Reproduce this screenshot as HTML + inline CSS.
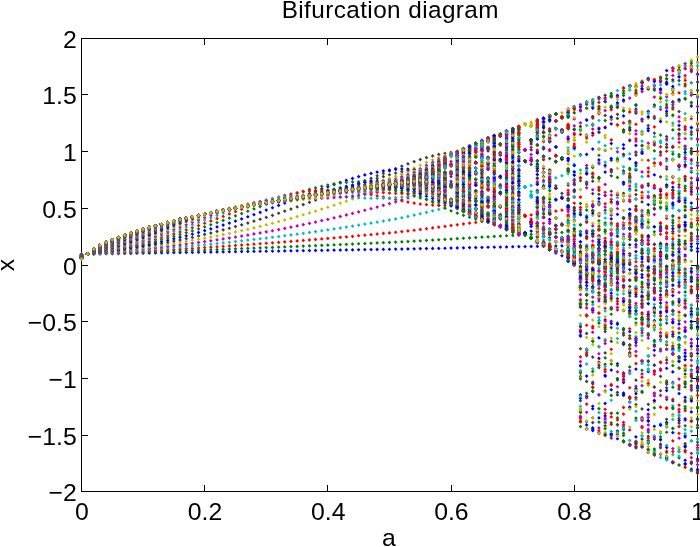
<!DOCTYPE html>
<html><head><meta charset="utf-8"><title>Bifurcation diagram</title>
<style>
html,body{margin:0;padding:0;background:#fff;}
body{width:700px;height:547px;overflow:hidden;}
svg{display:block;font-family:"Liberation Sans",sans-serif;}
.ax{stroke:#000;stroke-width:1;fill:none;shape-rendering:crispEdges;}
.d{fill:none;stroke-width:2.55;stroke-linecap:square;}
text{fill:#000;}
</style></head><body>
<svg width="700" height="547" viewBox="0 0 700 547">
<rect x="0" y="0" width="700" height="547" fill="#fff"/>
<text x="390.3" y="18.2" font-size="24.3" letter-spacing="0.42" text-anchor="middle">Bifurcation diagram</text>
<rect class="ax" x="81.5" y="38.5" width="616.0" height="452.5"/>
<path class="ax" d="M204.7 491.0v-6.2M204.7 38.5v6.2M327.9 491.0v-6.2M327.9 38.5v6.2M451.1 491.0v-6.2M451.1 38.5v6.2M574.3 491.0v-6.2M574.3 38.5v6.2M81.5 94.5h6.2M697.5 94.5h-6.2M81.5 151.5h6.2M697.5 151.5h-6.2M81.5 208.5h6.2M697.5 208.5h-6.2M81.5 265.5h6.2M697.5 265.5h-6.2M81.5 321.5h6.2M697.5 321.5h-6.2M81.5 378.5h6.2M697.5 378.5h-6.2M81.5 435.5h6.2M697.5 435.5h-6.2"/>
<g font-size="24.8" text-anchor="end">
<text x="76.7" y="47.5">2</text>
<text x="76.7" y="103.5">1.5</text>
<text x="76.7" y="160.5">1</text>
<text x="76.7" y="217.5">0.5</text>
<text x="76.7" y="274.5">0</text>
<text x="76.7" y="330.5">−0.5</text>
<text x="76.7" y="387.5">−1</text>
<text x="76.7" y="444.5">−1.5</text>
<text x="76.7" y="500.5">−2</text>
</g>
<g font-size="24.8" text-anchor="middle">
<text x="81.8" y="520.2">0</text>
<text x="205.0" y="520.2">0.2</text>
<text x="328.2" y="520.2">0.4</text>
<text x="451.4" y="520.2">0.6</text>
<text x="574.6" y="520.2">0.8</text>
<text x="697.8" y="520.2">1</text>
<text x="389" y="545.9">a</text>
</g>
<text font-size="24.8" text-anchor="middle" transform="translate(13.5,265) rotate(-90)">x</text>
<g class="d">
<path stroke="#0000ff" d="M81.5 254.1l.1.1M87.6 254.0l.1.1M93.8 253.9l.1.1M99.9 253.8l.1.1M106.1 253.7l.1.1M112.2 253.6l.1.1M118.4 253.5l.1.1M124.6 253.4l.1.1M130.7 253.3l.1.1M136.9 253.2l.1.1M143.0 253.1l.1.1M149.2 253.0l.1.1M155.4 252.9l.1.1M161.5 252.8l.1.1M167.7 252.7l.1.1M173.8 252.6l.1.1M180.0 252.5l.1.1M186.2 252.4l.1.1M192.3 252.3l.1.1M198.5 252.2l.1.1M204.6 252.1l.1.1M210.8 252.0l.1.1M217.0 251.9l.1.1M223.1 251.8l.1.1M229.3 251.7l.1.1M235.4 251.6l.1.1M241.6 251.5l.1.1M247.8 251.4l.1.1M253.9 251.3l.1.1M260.1 251.2l.1.1M266.2 251.2l.1.1M272.4 251.1l.1.1M278.6 251.0l.1.1M284.7 250.9l.1.1M290.9 250.8l.1.1M297.1 250.7l.1.1M303.2 250.6l.1.1M309.4 250.5l.1.1M315.5 250.4l.1.1M321.7 250.3l.1.1M327.8 250.2l.1.1M334.0 250.1l.1.1M340.2 250.0l.1.1M346.3 249.9l.1.1M352.5 249.8l.1.1M358.6 249.7l.1.1M364.8 249.6l.1.1M371.0 249.5l.1.1M377.1 249.4l.1.1M383.3 249.3l.1.1M389.4 249.2l.1.1M395.6 249.1l.1.1M401.8 249.0l.1.1M407.9 248.9l.1.1M414.1 248.8l.1.1M420.2 248.6l.1.1M426.4 248.5l.1.1M432.6 248.4l.1.1M438.7 248.3l.1.1M444.9 248.2l.1.1M451.0 248.0l.1.1M457.2 247.9l.1.1M463.4 247.8l.1.1M469.5 247.6l.1.1M475.7 247.5l.1.1M481.9 247.4l.1.1M488.0 247.2l.1.1M494.2 247.1l.1.1M500.3 247.0l.1.1M506.5 246.9l.1.1M512.7 246.7l.1.1M518.8 246.6l.1.1M525.0 246.5l.1.1M531.1 246.4l.1.1M537.3 246.3l.1.1M543.5 246.2l.1.1M549.6 246.1l.1.1M555.8 246.0l.1.1M561.9 245.8l.1.1M568.1 245.7l.1.1M574.2 245.6l.1.1M580.4 245.5l.1.1M586.6 245.4l.1.1M592.7 245.3l.1.1M598.9 245.2l.1.1M605.1 245.1l.1.1M611.2 245.0l.1.1M617.4 244.9l.1.1M623.5 244.8l.1.1M629.7 244.7l.1.1M635.9 244.6l.1.1M642.0 244.5l.1.1M648.2 244.4l.1.1M654.3 244.3l.1.1M660.5 244.2l.1.1M666.6 244.1l.1.1M672.8 244.0l.1.1M679.0 243.9l.1.1M685.1 243.8l.1.1M691.3 243.7l.1.1M697.5 243.6l.1.1"/>
<path stroke="#008000" d="M81.5 254.2l.1.1M87.6 254.0l.1.1M93.8 253.8l.1.1M99.9 253.6l.1.1M106.1 253.4l.1.1M112.2 253.2l.1.1M118.4 253.0l.1.1M124.6 252.8l.1.1M130.7 252.6l.1.1M136.9 252.4l.1.1M143.0 252.2l.1.1M149.2 251.9l.1.1M155.4 251.7l.1.1M161.5 251.5l.1.1M167.7 251.3l.1.1M173.8 251.1l.1.1M180.0 250.9l.1.1M186.2 250.6l.1.1M192.3 250.4l.1.1M198.5 250.2l.1.1M204.6 250.0l.1.1M210.8 249.7l.1.1M217.0 249.5l.1.1M223.1 249.3l.1.1M229.3 249.0l.1.1M235.4 248.8l.1.1M241.6 248.6l.1.1M247.8 248.3l.1.1M253.9 248.1l.1.1M260.1 247.8l.1.1M266.2 247.6l.1.1M272.4 247.4l.1.1M278.6 247.1l.1.1M284.7 246.9l.1.1M290.9 246.6l.1.1M297.1 246.4l.1.1M303.2 246.1l.1.1M309.4 245.8l.1.1M315.5 245.6l.1.1M321.7 245.3l.1.1M327.8 245.1l.1.1M334.0 244.8l.1.1M340.2 244.5l.1.1M346.3 244.3l.1.1M352.5 244.0l.1.1M358.6 243.7l.1.1M364.8 243.5l.1.1M371.0 243.2l.1.1M377.1 242.9l.1.1M383.3 242.6l.1.1M389.4 242.4l.1.1M395.6 242.1l.1.1M401.8 241.8l.1.1M407.9 241.5l.1.1M414.1 241.1l.1.1M420.2 240.8l.1.1M426.4 240.4l.1.1M432.6 240.1l.1.1M438.7 239.7l.1.1M444.9 239.4l.1.1M451.0 239.0l.1.1M457.2 238.6l.1.1M463.4 238.2l.1.1M469.5 237.9l.1.1M475.7 237.5l.1.1M481.9 237.1l.1.1M488.0 236.8l.1.1M494.2 236.4l.1.1M500.3 236.0l.1.1M506.5 235.7l.1.1M512.7 235.3l.1.1M518.8 235.0l.1.1M525.0 234.6l.1.1M531.1 234.3l.1.1M537.3 233.9l.1.1M543.5 233.6l.1.1M549.6 233.2l.1.1M555.8 232.8l.1.1M561.9 232.4l.1.1M568.1 232.0l.1.1M574.2 231.6l.1.1M580.4 231.3l.1.1M586.6 230.9l.1.1M592.7 230.6l.1.1M598.9 230.2l.1.1M605.1 229.8l.1.1M611.2 229.5l.1.1M617.4 229.1l.1.1M623.5 228.7l.1.1M629.7 228.4l.1.1M635.9 228.0l.1.1M642.0 227.6l.1.1M648.2 227.2l.1.1M654.3 226.9l.1.1M660.5 226.5l.1.1M666.6 226.1l.1.1M672.8 225.7l.1.1M679.0 225.3l.1.1M685.1 224.9l.1.1M691.3 224.6l.1.1M697.5 224.2l.1.1"/>
<path stroke="#ff0000" d="M81.5 254.3l.1.1M87.6 254.0l.1.1M93.8 253.7l.1.1M99.9 253.4l.1.1M106.1 253.1l.1.1M112.2 252.8l.1.1M118.4 252.5l.1.1M124.6 252.1l.1.1M130.7 251.8l.1.1M136.9 251.5l.1.1M143.0 251.2l.1.1M149.2 250.8l.1.1M155.4 250.5l.1.1M161.5 250.1l.1.1M167.7 249.8l.1.1M173.8 249.4l.1.1M180.0 249.0l.1.1M186.2 248.6l.1.1M192.3 248.3l.1.1M198.5 247.9l.1.1M204.6 247.5l.1.1M210.8 247.1l.1.1M217.0 246.7l.1.1M223.1 246.3l.1.1M229.3 245.9l.1.1M235.4 245.4l.1.1M241.6 245.0l.1.1M247.8 244.6l.1.1M253.9 244.1l.1.1M260.1 243.7l.1.1M266.2 243.2l.1.1M272.4 242.8l.1.1M278.6 242.3l.1.1M284.7 241.9l.1.1M290.9 241.4l.1.1M297.1 240.9l.1.1M303.2 240.4l.1.1M309.4 239.9l.1.1M315.5 239.4l.1.1M321.7 238.9l.1.1M327.8 238.4l.1.1M334.0 237.9l.1.1M340.2 237.3l.1.1M346.3 236.8l.1.1M352.5 236.3l.1.1M358.6 235.7l.1.1M364.8 235.1l.1.1M371.0 234.6l.1.1M377.1 234.0l.1.1M383.3 233.4l.1.1M389.4 232.9l.1.1M395.6 232.2l.1.1M401.8 231.6l.1.1M407.9 230.9l.1.1M414.1 230.2l.1.1M420.2 229.5l.1.1M426.4 228.7l.1.1M432.6 227.9l.1.1M438.7 227.1l.1.1M444.9 226.3l.1.1M451.0 225.5l.1.1M457.2 224.7l.1.1M463.4 223.9l.1.1M469.5 223.1l.1.1M475.7 222.3l.1.1M481.9 221.4l.1.1M488.0 220.6l.1.1M494.2 219.8l.1.1M500.3 219.0l.1.1M506.5 218.1l.1.1M512.7 217.3l.1.1M518.8 216.5l.1.1M525.0 215.7l.1.1M531.1 214.9l.1.1M537.3 214.0l.1.1M543.5 213.1l.1.1M549.6 212.2l.1.1M555.8 211.1l.1.1M561.9 210.1l.1.1M568.1 209.2l.1.1M574.2 208.3l.1.1M580.4 207.4l.1.1M586.6 206.5l.1.1M592.7 205.6l.1.1M598.9 204.7l.1.1M605.1 203.7l.1.1M611.2 202.8l.1.1M617.4 201.8l.1.1M623.5 200.9l.1.1M629.7 199.9l.1.1M635.9 198.9l.1.1M642.0 197.9l.1.1M648.2 196.9l.1.1M654.3 195.9l.1.1M660.5 194.9l.1.1M666.6 193.9l.1.1M672.8 192.8l.1.1M679.0 191.8l.1.1M685.1 190.7l.1.1M691.3 189.6l.1.1M697.5 188.6l.1.1"/>
<path stroke="#00bfbf" d="M81.5 254.4l.1.1M87.6 254.0l.1.1M93.8 253.6l.1.1M99.9 253.2l.1.1M106.1 252.8l.1.1M112.2 252.4l.1.1M118.4 251.9l.1.1M124.6 251.5l.1.1M130.7 251.0l.1.1M136.9 250.6l.1.1M143.0 250.1l.1.1M149.2 249.6l.1.1M155.4 249.1l.1.1M161.5 248.6l.1.1M167.7 248.1l.1.1M173.8 247.5l.1.1M180.0 247.0l.1.1M186.2 246.4l.1.1M192.3 245.9l.1.1M198.5 245.3l.1.1M204.6 244.7l.1.1M210.8 244.1l.1.1M217.0 243.5l.1.1M223.1 242.8l.1.1M229.3 242.2l.1.1M235.4 241.5l.1.1M241.6 240.8l.1.1M247.8 240.1l.1.1M253.9 239.4l.1.1M260.1 238.7l.1.1M266.2 238.0l.1.1M272.4 237.2l.1.1M278.6 236.5l.1.1M284.7 235.7l.1.1M290.9 234.9l.1.1M297.1 234.1l.1.1M303.2 233.3l.1.1M309.4 232.4l.1.1M315.5 231.6l.1.1M321.7 230.7l.1.1M327.8 229.8l.1.1M334.0 228.9l.1.1M340.2 228.0l.1.1M346.3 227.0l.1.1M352.5 226.1l.1.1M358.6 225.1l.1.1M364.8 224.1l.1.1M371.0 223.1l.1.1M377.1 222.1l.1.1M383.3 221.0l.1.1M389.4 220.0l.1.1M395.6 218.9l.1.1M401.8 217.7l.1.1M407.9 216.4l.1.1M414.1 215.1l.1.1M420.2 213.7l.1.1M426.4 212.3l.1.1M432.6 210.8l.1.1M438.7 209.3l.1.1M444.9 207.8l.1.1M451.0 206.2l.1.1M457.2 204.7l.1.1M463.4 203.1l.1.1M469.5 201.6l.1.1M475.7 200.0l.1.1M481.9 198.5l.1.1M488.0 196.9l.1.1M494.2 195.3l.1.1M500.3 193.6l.1.1M506.5 192.0l.1.1M512.7 190.3l.1.1M518.8 188.7l.1.1M525.0 187.0l.1.1M531.1 185.4l.1.1M537.3 183.7l.1.1M543.5 181.9l.1.1M549.6 179.9l.1.1M555.8 177.8l.1.1M561.9 175.7l.1.1M568.1 173.7l.1.1M574.2 171.8l.1.1M580.4 170.0l.1.1M586.6 168.0l.1.1M592.7 166.1l.1.1M598.9 164.1l.1.1M605.1 162.1l.1.1M611.2 160.1l.1.1M617.4 158.0l.1.1M623.5 156.0l.1.1M629.7 153.8l.1.1M635.9 151.7l.1.1M642.0 149.5l.1.1M648.2 147.3l.1.1M654.3 145.1l.1.1M660.5 142.8l.1.1M666.6 140.6l.1.1M672.8 138.2l.1.1M679.0 135.9l.1.1M685.1 133.5l.1.1M691.3 131.1l.1.1M697.5 128.7l.1.1"/>
<path stroke="#bf00bf" d="M81.5 254.5l.1.1M87.6 254.0l.1.1M93.8 253.5l.1.1M99.9 253.0l.1.1M106.1 252.5l.1.1M112.2 251.9l.1.1M118.4 251.4l.1.1M124.6 250.8l.1.1M130.7 250.2l.1.1M136.9 249.6l.1.1M143.0 249.0l.1.1M149.2 248.3l.1.1M155.4 247.7l.1.1M161.5 247.0l.1.1M167.7 246.3l.1.1M173.8 245.5l.1.1M180.0 244.8l.1.1M186.2 244.0l.1.1M192.3 243.2l.1.1M198.5 242.4l.1.1M204.6 241.6l.1.1M210.8 240.7l.1.1M217.0 239.8l.1.1M223.1 238.9l.1.1M229.3 238.0l.1.1M235.4 237.0l.1.1M241.6 236.0l.1.1M247.8 235.0l.1.1M253.9 233.9l.1.1M260.1 232.9l.1.1M266.2 231.8l.1.1M272.4 230.7l.1.1M278.6 229.5l.1.1M284.7 228.3l.1.1M290.9 227.1l.1.1M297.1 225.9l.1.1M303.2 224.6l.1.1M309.4 223.3l.1.1M315.5 222.0l.1.1M321.7 220.6l.1.1M327.8 219.3l.1.1M334.0 217.8l.1.1M340.2 216.4l.1.1M346.3 214.9l.1.1M352.5 213.4l.1.1M358.6 211.8l.1.1M364.8 210.2l.1.1M371.0 208.6l.1.1M377.1 207.0l.1.1M383.3 205.3l.1.1M389.4 203.6l.1.1M395.6 201.8l.1.1M401.8 199.9l.1.1M407.9 197.8l.1.1M414.1 195.7l.1.1M420.2 193.5l.1.1M426.4 191.2l.1.1M432.6 188.8l.1.1M438.7 186.3l.1.1M444.9 183.9l.1.1M451.0 181.3l.1.1M457.2 178.8l.1.1M463.4 176.2l.1.1M469.5 173.7l.1.1M475.7 171.2l.1.1M481.9 168.7l.1.1M488.0 166.1l.1.1M494.2 163.5l.1.1M500.3 160.8l.1.1M506.5 158.1l.1.1M512.7 155.4l.1.1M518.8 152.7l.1.1M525.0 150.0l.1.1M531.1 147.3l.1.1M537.3 144.6l.1.1M543.5 141.6l.1.1M549.6 138.5l.1.1M555.8 135.2l.1.1M561.9 131.9l.1.1M568.1 128.8l.1.1M574.2 125.8l.1.1M580.4 122.8l.1.1M586.6 119.8l.1.1M592.7 116.8l.1.1M598.9 113.7l.1.1M605.1 110.6l.1.1M611.2 107.5l.1.1M617.4 104.4l.1.1M623.5 101.2l.1.1M629.7 98.0l.1.1M635.9 94.8l.1.1M642.0 91.6l.1.1M648.2 88.4l.1.1M654.3 85.1l.1.1M660.5 81.9l.1.1M666.6 78.6l.1.1M672.8 75.4l.1.1M679.0 72.1l.1.1M685.1 68.8l.1.1M691.3 65.6l.1.1M697.5 62.3l.1.1"/>
<path stroke="#bfbf00" d="M81.5 254.5l.1.1M87.6 254.0l.1.1M93.8 253.4l.1.1M99.9 252.8l.1.1M106.1 252.2l.1.1M112.2 251.5l.1.1M118.4 250.8l.1.1M124.6 250.1l.1.1M130.7 249.4l.1.1M136.9 248.6l.1.1M143.0 247.8l.1.1M149.2 247.0l.1.1M155.4 246.1l.1.1M161.5 245.3l.1.1M167.7 244.3l.1.1M173.8 243.4l.1.1M180.0 242.4l.1.1M186.2 241.4l.1.1M192.3 240.3l.1.1M198.5 239.2l.1.1M204.6 238.1l.1.1M210.8 237.0l.1.1M217.0 235.8l.1.1M223.1 234.5l.1.1M229.3 233.3l.1.1M235.4 231.9l.1.1M241.6 230.6l.1.1M247.8 229.2l.1.1M253.9 227.8l.1.1M260.1 226.3l.1.1M266.2 224.8l.1.1M272.4 223.2l.1.1M278.6 221.6l.1.1M284.7 219.9l.1.1M290.9 218.3l.1.1M297.1 216.5l.1.1M303.2 214.7l.1.1M309.4 212.9l.1.1M315.5 211.1l.1.1M321.7 209.1l.1.1M327.8 207.2l.1.1M334.0 205.2l.1.1M340.2 203.1l.1.1M346.3 201.1l.1.1M352.5 198.9l.1.1M358.6 196.8l.1.1M364.8 194.6l.1.1M371.0 192.3l.1.1M377.1 190.0l.1.1M383.3 187.7l.1.1M389.4 185.3l.1.1M395.6 182.8l.1.1M401.8 180.3l.1.1M407.9 177.6l.1.1M414.1 174.8l.1.1M420.2 171.9l.1.1M426.4 168.9l.1.1M432.6 166.0l.1.1M438.7 163.0l.1.1M444.9 160.0l.1.1M451.0 157.0l.1.1M457.2 154.0l.1.1M463.4 151.1l.1.1M469.5 148.2l.1.1M475.7 145.4l.1.1M481.9 142.6l.1.1M488.0 139.8l.1.1M494.2 137.0l.1.1M500.3 134.3l.1.1M506.5 131.7l.1.1M512.7 129.1l.1.1M518.8 126.6l.1.1M525.0 124.3l.1.1M531.1 122.0l.1.1M537.3 119.9l.1.1M543.5 117.8l.1.1M549.6 115.9l.1.1M555.8 114.3l.1.1M561.9 112.8l.1.1M568.1 111.5l.1.1M574.2 110.3l.1.1M580.4 109.3l.1.1M586.6 108.4l.1.1M592.7 107.8l.1.1M598.9 107.3l.1.1M605.1 107.1l.1.1M611.2 107.2l.1.1M617.4 107.5l.1.1M623.5 108.1l.1.1M629.7 109.1l.1.1M635.9 110.3l.1.1M642.0 111.9l.1.1M648.2 113.8l.1.1M654.3 116.1l.1.1M660.5 118.8l.1.1M666.6 121.9l.1.1M672.8 125.4l.1.1M679.0 129.4l.1.1M685.1 133.9l.1.1M691.3 138.9l.1.1M697.5 144.4l.1.1"/>
<path stroke="#404040" d="M81.5 254.6l.1.1M87.6 254.0l.1.1M93.8 253.3l.1.1M99.9 252.6l.1.1M106.1 251.8l.1.1M112.2 251.1l.1.1M118.4 250.3l.1.1M124.6 249.4l.1.1M130.7 248.5l.1.1M136.9 247.6l.1.1M143.0 246.6l.1.1M149.2 245.6l.1.1M155.4 244.5l.1.1M161.5 243.4l.1.1M167.7 242.3l.1.1M173.8 241.1l.1.1M180.0 239.9l.1.1M186.2 238.6l.1.1M192.3 237.3l.1.1M198.5 235.9l.1.1M204.6 234.4l.1.1M210.8 233.0l.1.1M217.0 231.4l.1.1M223.1 229.8l.1.1M229.3 228.2l.1.1M235.4 226.5l.1.1M241.6 224.8l.1.1M247.8 223.0l.1.1M253.9 221.1l.1.1M260.1 219.2l.1.1M266.2 217.3l.1.1M272.4 215.3l.1.1M278.6 213.2l.1.1M284.7 211.1l.1.1M290.9 209.0l.1.1M297.1 206.8l.1.1M303.2 204.6l.1.1M309.4 202.3l.1.1M315.5 200.0l.1.1M321.7 197.6l.1.1M327.8 195.3l.1.1M334.0 192.9l.1.1M340.2 190.4l.1.1M346.3 188.0l.1.1M352.5 185.5l.1.1M358.6 183.1l.1.1M364.8 180.6l.1.1M371.0 178.2l.1.1M377.1 175.7l.1.1M383.3 173.3l.1.1M389.4 170.9l.1.1M395.6 168.5l.1.1M401.8 166.1l.1.1M407.9 163.8l.1.1M414.1 161.6l.1.1M420.2 159.5l.1.1M426.4 157.6l.1.1M432.6 155.9l.1.1M438.7 154.4l.1.1M444.9 153.3l.1.1M451.0 152.3l.1.1M457.2 151.6l.1.1M463.4 151.1l.1.1M469.5 150.7l.1.1M475.7 150.5l.1.1M481.9 150.6l.1.1M488.0 150.9l.1.1M494.2 151.7l.1.1M500.3 152.7l.1.1M506.5 154.2l.1.1M512.7 156.1l.1.1M518.8 158.4l.1.1M525.0 161.2l.1.1M531.1 164.4l.1.1M537.3 168.1l.1.1M543.5 172.7l.1.1M549.6 178.8l.1.1M555.8 185.8l.1.1M561.9 193.3l.1.1M568.1 200.4l.1.1M574.2 207.3l.1.1M580.4 214.6l.1.1M586.6 222.3l.1.1M592.7 230.5l.1.1M598.9 239.0l.1.1M605.1 247.9l.1.1M611.2 257.2l.1.1M617.4 266.7l.1.1M623.5 276.5l.1.1M629.7 286.4l.1.1M635.9 296.4l.1.1M642.0 306.4l.1.1M648.2 316.4l.1.1M654.3 326.2l.1.1M660.5 335.7l.1.1M666.6 344.8l.1.1M672.8 353.5l.1.1M679.0 361.4l.1.1M685.1 368.6l.1.1M691.3 374.8l.1.1M697.5 379.9l.1.1"/>
<path stroke="#0000ff" d="M81.5 254.7l.1.1M87.6 254.0l.1.1M93.8 253.2l.1.1M99.9 252.4l.1.1M106.1 251.5l.1.1M112.2 250.6l.1.1M118.4 249.7l.1.1M124.6 248.7l.1.1M130.7 247.6l.1.1M136.9 246.5l.1.1M143.0 245.4l.1.1M149.2 244.2l.1.1M155.4 242.9l.1.1M161.5 241.6l.1.1M167.7 240.2l.1.1M173.8 238.7l.1.1M180.0 237.2l.1.1M186.2 235.7l.1.1M192.3 234.1l.1.1M198.5 232.4l.1.1M204.6 230.6l.1.1M210.8 228.8l.1.1M217.0 226.9l.1.1M223.1 225.0l.1.1M229.3 223.0l.1.1M235.4 221.0l.1.1M241.6 218.9l.1.1M247.8 216.7l.1.1M253.9 214.6l.1.1M260.1 212.3l.1.1M266.2 210.0l.1.1M272.4 207.7l.1.1M278.6 205.4l.1.1M284.7 203.0l.1.1M290.9 200.7l.1.1M297.1 198.3l.1.1M303.2 195.9l.1.1M309.4 193.6l.1.1M315.5 191.2l.1.1M321.7 188.9l.1.1M327.8 186.7l.1.1M334.0 184.5l.1.1M340.2 182.4l.1.1M346.3 180.3l.1.1M352.5 178.4l.1.1M358.6 176.6l.1.1M364.8 174.9l.1.1M371.0 173.4l.1.1M377.1 172.1l.1.1M383.3 170.9l.1.1M389.4 170.0l.1.1M395.6 169.3l.1.1M401.8 169.0l.1.1M407.9 169.1l.1.1M414.1 169.6l.1.1M420.2 170.7l.1.1M426.4 172.3l.1.1M432.6 174.5l.1.1M438.7 177.1l.1.1M444.9 180.1l.1.1M451.0 183.5l.1.1M457.2 187.1l.1.1M463.4 190.8l.1.1M469.5 194.5l.1.1M475.7 198.2l.1.1M481.9 202.2l.1.1M488.0 206.4l.1.1M494.2 210.7l.1.1M500.3 215.2l.1.1M506.5 219.7l.1.1M512.7 224.3l.1.1M518.8 228.9l.1.1M525.0 233.3l.1.1M531.1 237.7l.1.1M537.3 241.8l.1.1M543.5 245.8l.1.1M549.6 249.7l.1.1M555.8 253.0l.1.1M561.9 255.7l.1.1M568.1 257.7l.1.1M574.2 259.3l.1.1M580.4 260.6l.1.1M586.6 261.5l.1.1M592.7 262.3l.1.1M598.9 262.9l.1.1M605.1 263.6l.1.1M611.2 264.4l.1.1M617.4 265.5l.1.1M623.5 267.2l.1.1M629.7 269.6l.1.1M635.9 272.9l.1.1M642.0 277.4l.1.1M648.2 283.2l.1.1M654.3 290.6l.1.1M660.5 299.6l.1.1M666.6 310.4l.1.1M672.8 322.9l.1.1M679.0 337.2l.1.1M685.1 353.0l.1.1M691.3 370.0l.1.1M697.5 387.8l.1.1"/>
<path stroke="#008000" d="M81.5 254.8l.1.1M87.6 254.0l.1.1M93.8 253.1l.1.1M99.9 252.2l.1.1M106.1 251.2l.1.1M112.2 250.2l.1.1M118.4 249.1l.1.1M124.6 248.0l.1.1M130.7 246.7l.1.1M136.9 245.5l.1.1M143.0 244.1l.1.1M149.2 242.7l.1.1M155.4 241.2l.1.1M161.5 239.7l.1.1M167.7 238.0l.1.1M173.8 236.3l.1.1M180.0 234.6l.1.1M186.2 232.7l.1.1M192.3 230.8l.1.1M198.5 228.8l.1.1M204.6 226.8l.1.1M210.8 224.7l.1.1M217.0 222.6l.1.1M223.1 220.4l.1.1M229.3 218.1l.1.1M235.4 215.8l.1.1M241.6 213.5l.1.1M247.8 211.2l.1.1M253.9 208.8l.1.1M260.1 206.5l.1.1M266.2 204.1l.1.1M272.4 201.8l.1.1M278.6 199.6l.1.1M284.7 197.4l.1.1M290.9 195.2l.1.1M297.1 193.2l.1.1M303.2 191.3l.1.1M309.4 189.4l.1.1M315.5 187.8l.1.1M321.7 186.3l.1.1M327.8 185.0l.1.1M334.0 183.8l.1.1M340.2 182.9l.1.1M346.3 182.3l.1.1M352.5 181.8l.1.1M358.6 181.7l.1.1M364.8 181.8l.1.1M371.0 182.1l.1.1M377.1 182.8l.1.1M383.3 183.6l.1.1M389.4 184.8l.1.1M395.6 186.3l.1.1M401.8 188.2l.1.1M407.9 190.6l.1.1M414.1 193.2l.1.1M420.2 196.1l.1.1M426.4 199.2l.1.1M432.6 202.3l.1.1M438.7 205.3l.1.1M444.9 208.2l.1.1M451.0 210.8l.1.1M457.2 213.1l.1.1M463.4 215.3l.1.1M469.5 217.2l.1.1M475.7 219.0l.1.1M481.9 220.7l.1.1M488.0 222.4l.1.1M494.2 224.2l.1.1M500.3 226.0l.1.1M506.5 227.9l.1.1M512.7 229.9l.1.1M518.8 232.1l.1.1M525.0 234.5l.1.1M531.1 237.0l.1.1M537.3 239.8l.1.1M543.5 242.7l.1.1M549.6 245.8l.1.1M555.8 248.7l.1.1M561.9 251.4l.1.1M568.1 253.7l.1.1M574.2 255.7l.1.1M580.4 257.4l.1.1M586.6 258.7l.1.1M592.7 259.9l.1.1M598.9 260.9l.1.1M605.1 262.0l.1.1M611.2 263.5l.1.1M617.4 265.7l.1.1M623.5 268.9l.1.1M629.7 273.4l.1.1M635.9 279.4l.1.1M642.0 287.2l.1.1M648.2 296.7l.1.1M654.3 307.7l.1.1M660.5 319.9l.1.1M666.6 332.9l.1.1M672.8 345.9l.1.1M679.0 358.6l.1.1M685.1 370.3l.1.1M691.3 380.9l.1.1M697.5 390.7l.1.1"/>
<path stroke="#ff0000" d="M81.5 254.9l.1.1M87.6 254.0l.1.1M93.8 253.0l.1.1M99.9 252.0l.1.1M106.1 250.9l.1.1M112.2 249.8l.1.1M118.4 248.5l.1.1M124.6 247.2l.1.1M130.7 245.8l.1.1M136.9 244.4l.1.1M143.0 242.8l.1.1M149.2 241.2l.1.1M155.4 239.5l.1.1M161.5 237.7l.1.1M167.7 235.9l.1.1M173.8 233.9l.1.1M180.0 231.9l.1.1M186.2 229.8l.1.1M192.3 227.7l.1.1M198.5 225.5l.1.1M204.6 223.2l.1.1M210.8 220.9l.1.1M217.0 218.6l.1.1M223.1 216.3l.1.1M229.3 213.9l.1.1M235.4 211.6l.1.1M241.6 209.2l.1.1M247.8 207.0l.1.1M253.9 204.8l.1.1M260.1 202.6l.1.1M266.2 200.6l.1.1M272.4 198.7l.1.1M278.6 197.0l.1.1M284.7 195.4l.1.1M290.9 194.0l.1.1M297.1 192.7l.1.1M303.2 191.7l.1.1M309.4 190.9l.1.1M315.5 190.4l.1.1M321.7 190.1l.1.1M327.8 190.0l.1.1M334.0 190.1l.1.1M340.2 190.4l.1.1M346.3 190.9l.1.1M352.5 191.7l.1.1M358.6 192.5l.1.1M364.8 193.5l.1.1M371.0 194.6l.1.1M377.1 195.8l.1.1M383.3 197.0l.1.1M389.4 198.3l.1.1M395.6 199.5l.1.1M401.8 200.8l.1.1M407.9 202.0l.1.1M414.1 203.1l.1.1M420.2 204.0l.1.1M426.4 204.6l.1.1M432.6 205.1l.1.1M438.7 205.3l.1.1M444.9 205.4l.1.1M451.0 205.2l.1.1M457.2 205.1l.1.1M463.4 204.9l.1.1M469.5 204.9l.1.1M475.7 204.9l.1.1M481.9 205.1l.1.1M488.0 205.5l.1.1M494.2 206.2l.1.1M500.3 207.1l.1.1M506.5 208.5l.1.1M512.7 210.4l.1.1M518.8 212.7l.1.1M525.0 215.7l.1.1M531.1 219.1l.1.1M537.3 223.0l.1.1M543.5 227.5l.1.1M549.6 232.2l.1.1M555.8 237.0l.1.1M561.9 241.4l.1.1M568.1 245.3l.1.1M574.2 248.7l.1.1M580.4 251.5l.1.1M586.6 253.9l.1.1M592.7 255.8l.1.1M598.9 257.6l.1.1M605.1 259.5l.1.1M611.2 262.2l.1.1M617.4 266.0l.1.1M623.5 271.6l.1.1M629.7 279.7l.1.1M635.9 290.7l.1.1M642.0 304.8l.1.1M648.2 322.0l.1.1M654.3 341.6l.1.1M660.5 362.5l.1.1M666.6 382.5l.1.1M672.8 399.2l.1.1M679.0 409.4l.1.1M685.1 410.5l.1.1M691.3 400.1l.1.1M697.5 377.3l.1.1"/>
<path stroke="#00bfbf" d="M81.5 254.9l.1.1M87.6 254.0l.1.1M93.8 252.9l.1.1M99.9 251.8l.1.1M106.1 250.6l.1.1M112.2 249.3l.1.1M118.4 248.0l.1.1M124.6 246.5l.1.1M130.7 244.9l.1.1M136.9 243.3l.1.1M143.0 241.6l.1.1M149.2 239.7l.1.1M155.4 237.8l.1.1M161.5 235.8l.1.1M167.7 233.8l.1.1M173.8 231.6l.1.1M180.0 229.4l.1.1M186.2 227.1l.1.1M192.3 224.8l.1.1M198.5 222.4l.1.1M204.6 220.1l.1.1M210.8 217.7l.1.1M217.0 215.4l.1.1M223.1 213.1l.1.1M229.3 210.8l.1.1M235.4 208.6l.1.1M241.6 206.6l.1.1M247.8 204.7l.1.1M253.9 202.9l.1.1M260.1 201.3l.1.1M266.2 199.8l.1.1M272.4 198.6l.1.1M278.6 197.6l.1.1M284.7 196.7l.1.1M290.9 196.1l.1.1M297.1 195.7l.1.1M303.2 195.5l.1.1M309.4 195.4l.1.1M315.5 195.5l.1.1M321.7 195.7l.1.1M327.8 196.0l.1.1M334.0 196.3l.1.1M340.2 196.7l.1.1M346.3 197.1l.1.1M352.5 197.5l.1.1M358.6 197.8l.1.1M364.8 198.0l.1.1M371.0 198.2l.1.1M377.1 198.2l.1.1M383.3 198.2l.1.1M389.4 198.0l.1.1M395.6 197.6l.1.1M401.8 197.0l.1.1M407.9 196.2l.1.1M414.1 195.1l.1.1M420.2 193.7l.1.1M426.4 192.2l.1.1M432.6 190.4l.1.1M438.7 188.5l.1.1M444.9 186.6l.1.1M451.0 184.6l.1.1M457.2 182.8l.1.1M463.4 181.2l.1.1M469.5 179.8l.1.1M475.7 178.8l.1.1M481.9 178.0l.1.1M488.0 177.5l.1.1M494.2 177.4l.1.1M500.3 177.8l.1.1M506.5 178.9l.1.1M512.7 180.7l.1.1M518.8 183.4l.1.1M525.0 187.0l.1.1M531.1 191.6l.1.1M537.3 197.1l.1.1M543.5 203.5l.1.1M549.6 210.7l.1.1M555.8 218.1l.1.1M561.9 225.0l.1.1M568.1 231.2l.1.1M574.2 236.8l.1.1M580.4 241.6l.1.1M586.6 245.5l.1.1M592.7 248.7l.1.1M598.9 251.7l.1.1M605.1 255.1l.1.1M611.2 259.7l.1.1M617.4 266.5l.1.1M623.5 276.6l.1.1M629.7 291.1l.1.1M635.9 310.8l.1.1M642.0 335.7l.1.1M648.2 364.9l.1.1M654.3 395.8l.1.1M660.5 424.3l.1.1M666.6 445.4l.1.1M672.8 454.5l.1.1M679.0 449.1l.1.1M685.1 429.6l.1.1M691.3 398.8l.1.1M697.5 360.8l.1.1"/>
<path stroke="#bf00bf" d="M81.5 255.0l.1.1M87.6 254.0l.1.1M93.8 252.8l.1.1M99.9 251.6l.1.1M106.1 250.3l.1.1M112.2 248.9l.1.1M118.4 247.4l.1.1M124.6 245.8l.1.1M130.7 244.0l.1.1M136.9 242.2l.1.1M143.0 240.3l.1.1M149.2 238.3l.1.1M155.4 236.2l.1.1M161.5 234.0l.1.1M167.7 231.8l.1.1M173.8 229.4l.1.1M180.0 227.1l.1.1M186.2 224.7l.1.1M192.3 222.3l.1.1M198.5 219.9l.1.1M204.6 217.6l.1.1M210.8 215.3l.1.1M217.0 213.1l.1.1M223.1 211.0l.1.1M229.3 209.0l.1.1M235.4 207.2l.1.1M241.6 205.6l.1.1M247.8 204.1l.1.1M253.9 202.9l.1.1M260.1 201.8l.1.1M266.2 200.9l.1.1M272.4 200.2l.1.1M278.6 199.7l.1.1M284.7 199.3l.1.1M290.9 199.0l.1.1M297.1 198.8l.1.1M303.2 198.7l.1.1M309.4 198.5l.1.1M315.5 198.4l.1.1M321.7 198.2l.1.1M327.8 198.0l.1.1M334.0 197.7l.1.1M340.2 197.2l.1.1M346.3 196.7l.1.1M352.5 196.0l.1.1M358.6 195.2l.1.1M364.8 194.2l.1.1M371.0 193.1l.1.1M377.1 191.8l.1.1M383.3 190.4l.1.1M389.4 188.9l.1.1M395.6 187.1l.1.1M401.8 185.1l.1.1M407.9 182.7l.1.1M414.1 180.1l.1.1M420.2 177.3l.1.1M426.4 174.2l.1.1M432.6 171.1l.1.1M438.7 167.9l.1.1M444.9 164.7l.1.1M451.0 161.6l.1.1M457.2 158.7l.1.1M463.4 155.9l.1.1M469.5 153.4l.1.1M475.7 151.2l.1.1M481.9 149.2l.1.1M488.0 147.4l.1.1M494.2 146.0l.1.1M500.3 145.1l.1.1M506.5 144.8l.1.1M512.7 145.4l.1.1M518.8 147.0l.1.1M525.0 150.0l.1.1M531.1 154.4l.1.1M537.3 160.5l.1.1M543.5 168.3l.1.1M549.6 177.7l.1.1M555.8 188.1l.1.1M561.9 198.3l.1.1M568.1 208.0l.1.1M574.2 216.9l.1.1M580.4 224.6l.1.1M586.6 231.0l.1.1M592.7 236.5l.1.1M598.9 241.5l.1.1M605.1 247.3l.1.1M611.2 255.3l.1.1M617.4 267.4l.1.1M623.5 285.5l.1.1M629.7 311.4l.1.1M635.9 345.5l.1.1M642.0 385.6l.1.1M648.2 424.9l.1.1M654.3 451.7l.1.1M660.5 453.9l.1.1M666.6 426.8l.1.1M672.8 382.2l.1.1M679.0 345.1l.1.1M685.1 336.5l.1.1M691.3 353.5l.1.1M697.5 368.6l.1.1"/>
<path stroke="#bfbf00" d="M81.5 255.1l.1.1M87.6 254.0l.1.1M93.8 252.8l.1.1M99.9 251.4l.1.1M106.1 250.0l.1.1M112.2 248.5l.1.1M118.4 246.8l.1.1M124.6 245.0l.1.1M130.7 243.2l.1.1M136.9 241.2l.1.1M143.0 239.1l.1.1M149.2 236.9l.1.1M155.4 234.6l.1.1M161.5 232.3l.1.1M167.7 229.9l.1.1M173.8 227.5l.1.1M180.0 225.0l.1.1M186.2 222.6l.1.1M192.3 220.3l.1.1M198.5 218.0l.1.1M204.6 215.8l.1.1M210.8 213.7l.1.1M217.0 211.7l.1.1M223.1 210.0l.1.1M229.3 208.4l.1.1M235.4 207.0l.1.1M241.6 205.7l.1.1M247.8 204.7l.1.1M253.9 203.8l.1.1M260.1 203.1l.1.1M266.2 202.5l.1.1M272.4 201.9l.1.1M278.6 201.4l.1.1M284.7 201.0l.1.1M290.9 200.5l.1.1M297.1 200.0l.1.1M303.2 199.4l.1.1M309.4 198.7l.1.1M315.5 198.0l.1.1M321.7 197.1l.1.1M327.8 196.1l.1.1M334.0 194.9l.1.1M340.2 193.6l.1.1M346.3 192.2l.1.1M352.5 190.7l.1.1M358.6 189.0l.1.1M364.8 187.1l.1.1M371.0 185.2l.1.1M377.1 183.1l.1.1M383.3 181.0l.1.1M389.4 178.7l.1.1M395.6 176.3l.1.1M401.8 173.7l.1.1M407.9 170.9l.1.1M414.1 168.1l.1.1M420.2 165.2l.1.1M426.4 162.4l.1.1M432.6 159.8l.1.1M438.7 157.4l.1.1M444.9 155.1l.1.1M451.0 153.1l.1.1M457.2 151.2l.1.1M463.4 149.3l.1.1M469.5 147.3l.1.1M475.7 145.3l.1.1M481.9 143.1l.1.1M488.0 140.7l.1.1M494.2 138.1l.1.1M500.3 135.3l.1.1M506.5 132.3l.1.1M512.7 129.2l.1.1M518.8 126.4l.1.1M525.0 124.3l.1.1M531.1 123.5l.1.1M537.3 124.7l.1.1M543.5 128.8l.1.1M549.6 136.2l.1.1M555.8 146.7l.1.1M561.9 159.0l.1.1M568.1 171.9l.1.1M574.2 184.8l.1.1M580.4 196.6l.1.1M586.6 206.7l.1.1M592.7 215.5l.1.1M598.9 223.9l.1.1M605.1 233.7l.1.1M611.2 247.6l.1.1M617.4 268.9l.1.1M623.5 301.2l.1.1M629.7 346.0l.1.1M635.9 398.7l.1.1M642.0 442.3l.1.1M648.2 446.5l.1.1M654.3 386.8l.1.1M660.5 282.5l.1.1M666.6 202.6l.1.1M672.8 195.4l.1.1M679.0 230.9l.1.1M685.1 269.9l.1.1M691.3 328.0l.1.1M697.5 400.6l.1.1"/>
<path stroke="#404040" d="M81.5 255.2l.1.1M87.6 254.0l.1.1M93.8 252.7l.1.1M99.9 251.2l.1.1M106.1 249.7l.1.1M112.2 248.0l.1.1M118.4 246.2l.1.1M124.6 244.3l.1.1M130.7 242.3l.1.1M136.9 240.1l.1.1M143.0 237.9l.1.1M149.2 235.6l.1.1M155.4 233.2l.1.1M161.5 230.7l.1.1M167.7 228.3l.1.1M173.8 225.8l.1.1M180.0 223.4l.1.1M186.2 221.0l.1.1M192.3 218.8l.1.1M198.5 216.6l.1.1M204.6 214.7l.1.1M210.8 212.8l.1.1M217.0 211.2l.1.1M223.1 209.8l.1.1M229.3 208.5l.1.1M235.4 207.4l.1.1M241.6 206.4l.1.1M247.8 205.5l.1.1M253.9 204.8l.1.1M260.1 204.0l.1.1M266.2 203.3l.1.1M272.4 202.6l.1.1M278.6 201.9l.1.1M284.7 201.1l.1.1M290.9 200.2l.1.1M297.1 199.3l.1.1M303.2 198.2l.1.1M309.4 197.0l.1.1M315.5 195.7l.1.1M321.7 194.3l.1.1M327.8 192.8l.1.1M334.0 191.3l.1.1M340.2 189.6l.1.1M346.3 187.8l.1.1M352.5 186.0l.1.1M358.6 184.1l.1.1M364.8 182.2l.1.1M371.0 180.3l.1.1M377.1 178.4l.1.1M383.3 176.5l.1.1M389.4 174.7l.1.1M395.6 173.0l.1.1M401.8 171.5l.1.1M407.9 170.3l.1.1M414.1 169.5l.1.1M420.2 169.2l.1.1M426.4 169.5l.1.1M432.6 170.5l.1.1M438.7 172.1l.1.1M444.9 174.1l.1.1M451.0 176.5l.1.1M457.2 178.9l.1.1M463.4 181.2l.1.1M469.5 182.9l.1.1M475.7 184.3l.1.1M481.9 185.3l.1.1M488.0 185.9l.1.1M494.2 185.7l.1.1M500.3 184.5l.1.1M506.5 181.8l.1.1M512.7 177.2l.1.1M518.8 170.4l.1.1M525.0 161.2l.1.1M531.1 149.8l.1.1M537.3 137.2l.1.1M543.5 125.3l.1.1M549.6 116.6l.1.1M555.8 113.9l.1.1M561.9 117.7l.1.1M568.1 127.0l.1.1M574.2 140.1l.1.1M580.4 154.5l.1.1M586.6 168.4l.1.1M592.7 181.2l.1.1M598.9 194.2l.1.1M605.1 210.2l.1.1M611.2 234.0l.1.1M617.4 271.8l.1.1M623.5 328.5l.1.1M629.7 398.6l.1.1M635.9 446.8l.1.1M642.0 408.9l.1.1M648.2 276.6l.1.1M654.3 197.9l.1.1M660.5 255.7l.1.1M666.6 255.2l.1.1M672.8 190.2l.1.1M679.0 210.6l.1.1M685.1 272.8l.1.1M691.3 354.5l.1.1M697.5 425.1l.1.1"/>
<path stroke="#0000ff" d="M81.5 255.2l.1.1M87.6 254.0l.1.1M93.8 252.6l.1.1M99.9 251.1l.1.1M106.1 249.4l.1.1M112.2 247.6l.1.1M118.4 245.7l.1.1M124.6 243.6l.1.1M130.7 241.4l.1.1M136.9 239.2l.1.1M143.0 236.8l.1.1M149.2 234.3l.1.1M155.4 231.8l.1.1M161.5 229.3l.1.1M167.7 226.8l.1.1M173.8 224.4l.1.1M180.0 222.1l.1.1M186.2 219.8l.1.1M192.3 217.8l.1.1M198.5 215.8l.1.1M204.6 214.1l.1.1M210.8 212.6l.1.1M217.0 211.2l.1.1M223.1 209.9l.1.1M229.3 208.8l.1.1M235.4 207.9l.1.1M241.6 206.9l.1.1M247.8 206.1l.1.1M253.9 205.2l.1.1M260.1 204.3l.1.1M266.2 203.4l.1.1M272.4 202.5l.1.1M278.6 201.4l.1.1M284.7 200.3l.1.1M290.9 199.2l.1.1M297.1 197.9l.1.1M303.2 196.6l.1.1M309.4 195.2l.1.1M315.5 193.7l.1.1M321.7 192.2l.1.1M327.8 190.7l.1.1M334.0 189.2l.1.1M340.2 187.7l.1.1M346.3 186.3l.1.1M352.5 185.0l.1.1M358.6 183.7l.1.1M364.8 182.6l.1.1M371.0 181.7l.1.1M377.1 181.0l.1.1M383.3 180.6l.1.1M389.4 180.4l.1.1M395.6 180.6l.1.1M401.8 181.3l.1.1M407.9 182.7l.1.1M414.1 184.8l.1.1M420.2 187.4l.1.1M426.4 190.7l.1.1M432.6 194.2l.1.1M438.7 198.0l.1.1M444.9 201.7l.1.1M451.0 205.3l.1.1M457.2 208.6l.1.1M463.4 211.6l.1.1M469.5 214.3l.1.1M475.7 216.8l.1.1M481.9 219.3l.1.1M488.0 221.8l.1.1M494.2 224.3l.1.1M500.3 226.7l.1.1M506.5 229.0l.1.1M512.7 231.2l.1.1M518.8 232.9l.1.1M525.0 233.3l.1.1M531.1 231.1l.1.1M537.3 223.8l.1.1M543.5 208.8l.1.1M549.6 184.9l.1.1M555.8 155.9l.1.1M561.9 129.9l.1.1M568.1 112.7l.1.1M574.2 106.6l.1.1M580.4 110.3l.1.1M586.6 120.1l.1.1M592.7 133.1l.1.1M598.9 149.1l.1.1M605.1 172.0l.1.1M611.2 210.5l.1.1M617.4 276.7l.1.1M623.5 372.8l.1.1M629.7 444.6l.1.1M635.9 369.1l.1.1M642.0 216.2l.1.1M648.2 261.1l.1.1M654.3 200.3l.1.1M660.5 246.1l.1.1M666.6 248.1l.1.1M672.8 147.2l.1.1M679.0 166.3l.1.1M685.1 279.5l.1.1M691.3 411.9l.1.1M697.5 368.5l.1.1"/>
<path stroke="#008000" d="M81.5 255.3l.1.1M87.6 254.0l.1.1M93.8 252.5l.1.1M99.9 250.9l.1.1M106.1 249.1l.1.1M112.2 247.2l.1.1M118.4 245.1l.1.1M124.6 242.9l.1.1M130.7 240.6l.1.1M136.9 238.2l.1.1M143.0 235.7l.1.1M149.2 233.2l.1.1M155.4 230.7l.1.1M161.5 228.1l.1.1M167.7 225.7l.1.1M173.8 223.3l.1.1M180.0 221.1l.1.1M186.2 219.0l.1.1M192.3 217.2l.1.1M198.5 215.5l.1.1M204.6 213.9l.1.1M210.8 212.6l.1.1M217.0 211.3l.1.1M223.1 210.2l.1.1M229.3 209.2l.1.1M235.4 208.2l.1.1M241.6 207.2l.1.1M247.8 206.2l.1.1M253.9 205.2l.1.1M260.1 204.2l.1.1M266.2 203.1l.1.1M272.4 201.9l.1.1M278.6 200.7l.1.1M284.7 199.5l.1.1M290.9 198.2l.1.1M297.1 196.9l.1.1M303.2 195.6l.1.1M309.4 194.3l.1.1M315.5 193.1l.1.1M321.7 191.9l.1.1M327.8 190.8l.1.1M334.0 189.8l.1.1M340.2 188.9l.1.1M346.3 188.3l.1.1M352.5 187.8l.1.1M358.6 187.5l.1.1M364.8 187.5l.1.1M371.0 187.6l.1.1M377.1 188.1l.1.1M383.3 188.7l.1.1M389.4 189.6l.1.1M395.6 190.8l.1.1M401.8 192.3l.1.1M407.9 194.1l.1.1M414.1 196.0l.1.1M420.2 197.9l.1.1M426.4 199.6l.1.1M432.6 201.1l.1.1M438.7 202.4l.1.1M444.9 203.4l.1.1M451.0 204.3l.1.1M457.2 205.2l.1.1M463.4 206.2l.1.1M469.5 207.5l.1.1M475.7 209.0l.1.1M481.9 210.8l.1.1M488.0 212.9l.1.1M494.2 215.5l.1.1M500.3 218.4l.1.1M506.5 221.9l.1.1M512.7 225.9l.1.1M518.8 230.2l.1.1M525.0 234.5l.1.1M531.1 238.0l.1.1M537.3 240.7l.1.1M543.5 244.1l.1.1M549.6 249.5l.1.1M555.8 250.9l.1.1M561.9 237.5l.1.1M568.1 206.0l.1.1M574.2 164.9l.1.1M580.4 129.8l.1.1M586.6 108.1l.1.1M592.7 99.6l.1.1M598.9 102.4l.1.1M605.1 120.5l.1.1M611.2 171.9l.1.1M617.4 285.6l.1.1M623.5 427.8l.1.1M629.7 366.9l.1.1M635.9 218.8l.1.1M642.0 240.2l.1.1M648.2 256.8l.1.1M654.3 162.8l.1.1M660.5 230.1l.1.1M666.6 233.3l.1.1M672.8 90.3l.1.1M679.0 100.8l.1.1M685.1 291.9l.1.1M691.3 461.8l.1.1M697.5 283.0l.1.1"/>
<path stroke="#ff0000" d="M81.5 255.4l.1.1M87.6 254.0l.1.1M93.8 252.4l.1.1M99.9 250.7l.1.1M106.1 248.8l.1.1M112.2 246.8l.1.1M118.4 244.6l.1.1M124.6 242.3l.1.1M130.7 239.9l.1.1M136.9 237.3l.1.1M143.0 234.8l.1.1M149.2 232.2l.1.1M155.4 229.6l.1.1M161.5 227.1l.1.1M167.7 224.8l.1.1M173.8 222.5l.1.1M180.0 220.5l.1.1M186.2 218.6l.1.1M192.3 216.9l.1.1M198.5 215.3l.1.1M204.6 213.9l.1.1M210.8 212.7l.1.1M217.0 211.5l.1.1M223.1 210.4l.1.1M229.3 209.3l.1.1M235.4 208.3l.1.1M241.6 207.2l.1.1M247.8 206.1l.1.1M253.9 205.0l.1.1M260.1 203.8l.1.1M266.2 202.7l.1.1M272.4 201.5l.1.1M278.6 200.3l.1.1M284.7 199.1l.1.1M290.9 197.9l.1.1M297.1 196.7l.1.1M303.2 195.7l.1.1M309.4 194.7l.1.1M315.5 193.8l.1.1M321.7 193.0l.1.1M327.8 192.4l.1.1M334.0 191.9l.1.1M340.2 191.5l.1.1M346.3 191.4l.1.1M352.5 191.3l.1.1M358.6 191.4l.1.1M364.8 191.6l.1.1M371.0 191.9l.1.1M377.1 192.2l.1.1M383.3 192.6l.1.1M389.4 193.0l.1.1M395.6 193.3l.1.1M401.8 193.5l.1.1M407.9 193.5l.1.1M414.1 193.1l.1.1M420.2 192.5l.1.1M426.4 191.5l.1.1M432.6 190.2l.1.1M438.7 188.7l.1.1M444.9 187.2l.1.1M451.0 185.9l.1.1M457.2 184.8l.1.1M463.4 184.3l.1.1M469.5 184.3l.1.1M475.7 185.0l.1.1M481.9 186.2l.1.1M488.0 188.0l.1.1M494.2 190.5l.1.1M500.3 193.8l.1.1M506.5 198.1l.1.1M512.7 203.4l.1.1M518.8 209.5l.1.1M525.0 215.6l.1.1M531.1 221.0l.1.1M537.3 225.8l.1.1M543.5 233.0l.1.1M549.6 244.4l.1.1M555.8 251.6l.1.1M561.9 251.3l.1.1M568.1 256.7l.1.1M574.2 265.2l.1.1M580.4 255.1l.1.1M586.6 221.3l.1.1M592.7 176.8l.1.1M598.9 132.3l.1.1M605.1 97.7l.1.1M611.2 119.3l.1.1M617.4 301.3l.1.1M623.5 425.7l.1.1M629.7 224.5l.1.1M635.9 208.9l.1.1M642.0 221.5l.1.1M648.2 249.9l.1.1M654.3 106.2l.1.1M660.5 201.3l.1.1M666.6 206.7l.1.1M672.8 109.0l.1.1M679.0 70.1l.1.1M685.1 314.8l.1.1M691.3 343.3l.1.1M697.5 287.8l.1.1"/>
<path stroke="#00bfbf" d="M81.5 255.4l.1.1M87.6 254.0l.1.1M93.8 252.3l.1.1M99.9 250.5l.1.1M106.1 248.5l.1.1M112.2 246.4l.1.1M118.4 244.1l.1.1M124.6 241.7l.1.1M130.7 239.1l.1.1M136.9 236.5l.1.1M143.0 233.9l.1.1M149.2 231.3l.1.1M155.4 228.8l.1.1M161.5 226.3l.1.1M167.7 224.1l.1.1M173.8 222.0l.1.1M180.0 220.0l.1.1M186.2 218.3l.1.1M192.3 216.7l.1.1M198.5 215.3l.1.1M204.6 214.0l.1.1M210.8 212.8l.1.1M217.0 211.6l.1.1M223.1 210.5l.1.1M229.3 209.4l.1.1M235.4 208.2l.1.1M241.6 207.1l.1.1M247.8 205.9l.1.1M253.9 204.8l.1.1M260.1 203.6l.1.1M266.2 202.4l.1.1M272.4 201.3l.1.1M278.6 200.2l.1.1M284.7 199.1l.1.1M290.9 198.1l.1.1M297.1 197.2l.1.1M303.2 196.3l.1.1M309.4 195.6l.1.1M315.5 194.9l.1.1M321.7 194.4l.1.1M327.8 193.9l.1.1M334.0 193.5l.1.1M340.2 193.1l.1.1M346.3 192.8l.1.1M352.5 192.5l.1.1M358.6 192.2l.1.1M364.8 191.8l.1.1M371.0 191.3l.1.1M377.1 190.7l.1.1M383.3 189.9l.1.1M389.4 189.0l.1.1M395.6 187.9l.1.1M401.8 186.4l.1.1M407.9 184.5l.1.1M414.1 182.2l.1.1M420.2 179.5l.1.1M426.4 176.4l.1.1M432.6 173.2l.1.1M438.7 169.9l.1.1M444.9 166.7l.1.1M451.0 163.7l.1.1M457.2 161.0l.1.1M463.4 158.9l.1.1M469.5 157.4l.1.1M475.7 156.6l.1.1M481.9 156.4l.1.1M488.0 157.0l.1.1M494.2 158.5l.1.1M500.3 161.3l.1.1M506.5 165.5l.1.1M512.7 171.4l.1.1M518.8 178.9l.1.1M525.0 187.0l.1.1M531.1 194.4l.1.1M537.3 201.3l.1.1M543.5 212.2l.1.1M549.6 230.0l.1.1M555.8 241.6l.1.1M561.9 241.0l.1.1M568.1 251.7l.1.1M574.2 265.2l.1.1M580.4 259.8l.1.1M586.6 261.8l.1.1M592.7 276.4l.1.1M598.9 274.9l.1.1M605.1 213.0l.1.1M611.2 95.3l.1.1M617.4 328.3l.1.1M623.5 260.0l.1.1M629.7 215.1l.1.1M635.9 169.5l.1.1M642.0 187.5l.1.1M648.2 237.2l.1.1M654.3 89.3l.1.1M660.5 152.8l.1.1M666.6 160.9l.1.1M672.8 304.7l.1.1M679.0 267.5l.1.1M685.1 356.0l.1.1M691.3 206.7l.1.1M697.5 308.5l.1.1"/>
<path stroke="#bf00bf" d="M81.5 255.5l.1.1M87.6 254.0l.1.1M93.8 252.2l.1.1M99.9 250.3l.1.1M106.1 248.3l.1.1M112.2 246.0l.1.1M118.4 243.6l.1.1M124.6 241.1l.1.1M130.7 238.4l.1.1M136.9 235.8l.1.1M143.0 233.1l.1.1M149.2 230.5l.1.1M155.4 228.0l.1.1M161.5 225.7l.1.1M167.7 223.5l.1.1M173.8 221.6l.1.1M180.0 219.8l.1.1M186.2 218.2l.1.1M192.3 216.7l.1.1M198.5 215.4l.1.1M204.6 214.1l.1.1M210.8 212.9l.1.1M217.0 211.7l.1.1M223.1 210.5l.1.1M229.3 209.3l.1.1M235.4 208.2l.1.1M241.6 207.0l.1.1M247.8 205.8l.1.1M253.9 204.7l.1.1M260.1 203.5l.1.1M266.2 202.4l.1.1M272.4 201.4l.1.1M278.6 200.3l.1.1M284.7 199.4l.1.1M290.9 198.5l.1.1M297.1 197.7l.1.1M303.2 196.9l.1.1M309.4 196.2l.1.1M315.5 195.6l.1.1M321.7 194.9l.1.1M327.8 194.3l.1.1M334.0 193.6l.1.1M340.2 192.9l.1.1M346.3 192.1l.1.1M352.5 191.1l.1.1M358.6 190.1l.1.1M364.8 188.9l.1.1M371.0 187.6l.1.1M377.1 186.0l.1.1M383.3 184.3l.1.1M389.4 182.4l.1.1M395.6 180.3l.1.1M401.8 177.8l.1.1M407.9 175.0l.1.1M414.1 171.9l.1.1M420.2 168.7l.1.1M426.4 165.4l.1.1M432.6 162.3l.1.1M438.7 159.3l.1.1M444.9 156.5l.1.1M451.0 153.8l.1.1M457.2 151.3l.1.1M463.4 148.7l.1.1M469.5 146.0l.1.1M475.7 143.2l.1.1M481.9 140.5l.1.1M488.0 137.9l.1.1M494.2 135.9l.1.1M500.3 134.7l.1.1M506.5 134.9l.1.1M512.7 137.4l.1.1M518.8 142.6l.1.1M525.0 150.0l.1.1M531.1 157.8l.1.1M537.3 165.9l.1.1M543.5 180.5l.1.1M549.6 207.2l.1.1M555.8 225.6l.1.1M561.9 224.4l.1.1M568.1 241.9l.1.1M574.2 265.1l.1.1M580.4 255.3l.1.1M586.6 259.1l.1.1M592.7 280.0l.1.1M598.9 271.3l.1.1M605.1 272.3l.1.1M611.2 215.2l.1.1M617.4 371.8l.1.1M623.5 264.9l.1.1M629.7 178.7l.1.1M635.9 113.1l.1.1M642.0 134.2l.1.1M648.2 214.4l.1.1M654.3 251.0l.1.1M660.5 90.0l.1.1M666.6 96.8l.1.1M672.8 276.2l.1.1M679.0 263.8l.1.1M685.1 420.2l.1.1M691.3 168.1l.1.1M697.5 345.6l.1.1"/>
<path stroke="#bfbf00" d="M81.5 255.6l.1.1M87.6 254.0l.1.1M93.8 252.2l.1.1M99.9 250.2l.1.1M106.1 248.0l.1.1M112.2 245.6l.1.1M118.4 243.1l.1.1M124.6 240.5l.1.1M130.7 237.8l.1.1M136.9 235.1l.1.1M143.0 232.4l.1.1M149.2 229.9l.1.1M155.4 227.5l.1.1M161.5 225.2l.1.1M167.7 223.2l.1.1M173.8 221.3l.1.1M180.0 219.7l.1.1M186.2 218.1l.1.1M192.3 216.7l.1.1M198.5 215.4l.1.1M204.6 214.1l.1.1M210.8 212.9l.1.1M217.0 211.7l.1.1M223.1 210.5l.1.1M229.3 209.3l.1.1M235.4 208.1l.1.1M241.6 206.9l.1.1M247.8 205.8l.1.1M253.9 204.7l.1.1M260.1 203.6l.1.1M266.2 202.5l.1.1M272.4 201.5l.1.1M278.6 200.6l.1.1M284.7 199.7l.1.1M290.9 198.8l.1.1M297.1 198.0l.1.1M303.2 197.1l.1.1M309.4 196.3l.1.1M315.5 195.5l.1.1M321.7 194.6l.1.1M327.8 193.6l.1.1M334.0 192.6l.1.1M340.2 191.5l.1.1M346.3 190.2l.1.1M352.5 188.9l.1.1M358.6 187.4l.1.1M364.8 185.8l.1.1M371.0 184.1l.1.1M377.1 182.3l.1.1M383.3 180.4l.1.1M389.4 178.4l.1.1M395.6 176.4l.1.1M401.8 174.4l.1.1M407.9 172.6l.1.1M414.1 171.1l.1.1M420.2 170.0l.1.1M426.4 169.6l.1.1M432.6 169.9l.1.1M438.7 170.9l.1.1M444.9 172.3l.1.1M451.0 173.8l.1.1M457.2 175.1l.1.1M463.4 175.6l.1.1M469.5 174.9l.1.1M475.7 172.9l.1.1M481.9 169.9l.1.1M488.0 165.5l.1.1M494.2 159.6l.1.1M500.3 152.2l.1.1M506.5 143.5l.1.1M512.7 134.6l.1.1M518.8 127.5l.1.1M525.0 124.3l.1.1M531.1 124.8l.1.1M537.3 128.3l.1.1M543.5 140.1l.1.1M549.6 172.7l.1.1M555.8 199.7l.1.1M561.9 197.4l.1.1M568.1 225.6l.1.1M574.2 264.9l.1.1M580.4 248.0l.1.1M586.6 254.6l.1.1M592.7 291.2l.1.1M598.9 276.3l.1.1M605.1 277.2l.1.1M611.2 274.4l.1.1M617.4 425.6l.1.1M623.5 264.4l.1.1M629.7 124.6l.1.1M635.9 87.3l.1.1M642.0 82.6l.1.1M648.2 175.1l.1.1M654.3 268.9l.1.1M660.5 96.8l.1.1M666.6 81.4l.1.1M672.8 285.7l.1.1M679.0 262.2l.1.1M685.1 467.7l.1.1M691.3 103.9l.1.1M697.5 407.2l.1.1"/>
<path stroke="#404040" d="M81.5 255.6l.1.1M87.6 254.0l.1.1M93.8 252.1l.1.1M99.9 250.0l.1.1M106.1 247.7l.1.1M112.2 245.3l.1.1M118.4 242.7l.1.1M124.6 240.0l.1.1M130.7 237.2l.1.1M136.9 234.5l.1.1M143.0 231.8l.1.1M149.2 229.3l.1.1M155.4 227.0l.1.1M161.5 224.9l.1.1M167.7 222.9l.1.1M173.8 221.2l.1.1M180.0 219.6l.1.1M186.2 218.1l.1.1M192.3 216.7l.1.1M198.5 215.4l.1.1M204.6 214.1l.1.1M210.8 212.9l.1.1M217.0 211.7l.1.1M223.1 210.5l.1.1M229.3 209.3l.1.1M235.4 208.1l.1.1M241.6 206.9l.1.1M247.8 205.8l.1.1M253.9 204.7l.1.1M260.1 203.6l.1.1M266.2 202.6l.1.1M272.4 201.6l.1.1M278.6 200.7l.1.1M284.7 199.8l.1.1M290.9 198.8l.1.1M297.1 197.9l.1.1M303.2 197.0l.1.1M309.4 196.0l.1.1M315.5 194.9l.1.1M321.7 193.9l.1.1M327.8 192.7l.1.1M334.0 191.5l.1.1M340.2 190.2l.1.1M346.3 188.9l.1.1M352.5 187.6l.1.1M358.6 186.2l.1.1M364.8 184.8l.1.1M371.0 183.5l.1.1M377.1 182.3l.1.1M383.3 181.2l.1.1M389.4 180.3l.1.1M395.6 179.7l.1.1M401.8 179.5l.1.1M407.9 180.1l.1.1M414.1 181.5l.1.1M420.2 183.8l.1.1M426.4 186.8l.1.1M432.6 190.5l.1.1M438.7 194.5l.1.1M444.9 198.6l.1.1M451.0 202.5l.1.1M457.2 206.1l.1.1M463.4 209.2l.1.1M469.5 211.7l.1.1M475.7 213.8l.1.1M481.9 215.4l.1.1M488.0 216.5l.1.1M494.2 216.4l.1.1M500.3 214.2l.1.1M506.5 208.7l.1.1M512.7 197.9l.1.1M518.8 181.1l.1.1M525.0 161.2l.1.1M531.1 143.9l.1.1M537.3 130.1l.1.1M543.5 118.1l.1.1M549.6 131.3l.1.1M555.8 161.7l.1.1M561.9 157.8l.1.1M568.1 198.9l.1.1M574.2 264.6l.1.1M580.4 235.6l.1.1M586.6 246.7l.1.1M592.7 310.0l.1.1M598.9 284.5l.1.1M605.1 286.3l.1.1M611.2 281.1l.1.1M617.4 424.5l.1.1M623.5 263.7l.1.1M629.7 85.7l.1.1M635.9 229.6l.1.1M642.0 151.7l.1.1M648.2 116.9l.1.1M654.3 272.3l.1.1M660.5 313.2l.1.1M666.6 286.9l.1.1M672.8 303.0l.1.1M679.0 259.6l.1.1M685.1 308.1l.1.1M691.3 66.5l.1.1M697.5 470.8l.1.1"/>
<path stroke="#0000ff" d="M81.5 255.7l.1.1M87.6 254.0l.1.1M93.8 252.0l.1.1M99.9 249.8l.1.1M106.1 247.5l.1.1M112.2 244.9l.1.1M118.4 242.2l.1.1M124.6 239.5l.1.1M130.7 236.7l.1.1M136.9 234.0l.1.1M143.0 231.3l.1.1M149.2 228.9l.1.1M155.4 226.7l.1.1M161.5 224.6l.1.1M167.7 222.8l.1.1M173.8 221.1l.1.1M180.0 219.6l.1.1M186.2 218.1l.1.1M192.3 216.8l.1.1M198.5 215.4l.1.1M204.6 214.2l.1.1M210.8 212.9l.1.1M217.0 211.7l.1.1M223.1 210.4l.1.1M229.3 209.2l.1.1M235.4 208.1l.1.1M241.6 206.9l.1.1M247.8 205.8l.1.1M253.9 204.7l.1.1M260.1 203.7l.1.1M266.2 202.7l.1.1M272.4 201.7l.1.1M278.6 200.7l.1.1M284.7 199.7l.1.1M290.9 198.7l.1.1M297.1 197.7l.1.1M303.2 196.7l.1.1M309.4 195.6l.1.1M315.5 194.5l.1.1M321.7 193.4l.1.1M327.8 192.2l.1.1M334.0 191.1l.1.1M340.2 190.0l.1.1M346.3 188.9l.1.1M352.5 188.0l.1.1M358.6 187.1l.1.1M364.8 186.4l.1.1M371.0 185.9l.1.1M377.1 185.6l.1.1M383.3 185.6l.1.1M389.4 185.8l.1.1M395.6 186.5l.1.1M401.8 187.7l.1.1M407.9 189.4l.1.1M414.1 191.6l.1.1M420.2 193.9l.1.1M426.4 196.2l.1.1M432.6 198.4l.1.1M438.7 200.3l.1.1M444.9 202.1l.1.1M451.0 203.7l.1.1M457.2 205.5l.1.1M463.4 207.4l.1.1M469.5 209.8l.1.1M475.7 212.6l.1.1M481.9 215.6l.1.1M488.0 218.9l.1.1M494.2 222.3l.1.1M500.3 225.7l.1.1M506.5 228.9l.1.1M512.7 231.9l.1.1M518.8 234.3l.1.1M525.0 233.3l.1.1M531.1 226.4l.1.1M537.3 212.8l.1.1M543.5 176.6l.1.1M549.6 119.3l.1.1M555.8 121.0l.1.1M561.9 116.9l.1.1M568.1 159.1l.1.1M574.2 264.1l.1.1M580.4 214.5l.1.1M586.6 233.1l.1.1M592.7 341.2l.1.1M598.9 298.7l.1.1M605.1 302.1l.1.1M611.2 293.2l.1.1M617.4 266.6l.1.1M623.5 262.3l.1.1M629.7 189.0l.1.1M635.9 277.3l.1.1M642.0 319.6l.1.1M648.2 78.6l.1.1M654.3 278.0l.1.1M660.5 264.3l.1.1M666.6 256.4l.1.1M672.8 334.4l.1.1M679.0 254.5l.1.1M685.1 226.2l.1.1M691.3 249.8l.1.1M697.5 367.2l.1.1"/>
<path stroke="#008000" d="M81.5 255.8l.1.1M87.6 254.0l.1.1M93.8 251.9l.1.1M99.9 249.7l.1.1M106.1 247.2l.1.1M112.2 244.6l.1.1M118.4 241.8l.1.1M124.6 239.0l.1.1M130.7 236.2l.1.1M136.9 233.5l.1.1M143.0 230.9l.1.1M149.2 228.6l.1.1M155.4 226.4l.1.1M161.5 224.4l.1.1M167.7 222.7l.1.1M173.8 221.1l.1.1M180.0 219.5l.1.1M186.2 218.1l.1.1M192.3 216.8l.1.1M198.5 215.4l.1.1M204.6 214.1l.1.1M210.8 212.9l.1.1M217.0 211.6l.1.1M223.1 210.4l.1.1M229.3 209.2l.1.1M235.4 208.1l.1.1M241.6 207.0l.1.1M247.8 205.9l.1.1M253.9 204.8l.1.1M260.1 203.7l.1.1M266.2 202.7l.1.1M272.4 201.7l.1.1M278.6 200.6l.1.1M284.7 199.6l.1.1M290.9 198.6l.1.1M297.1 197.5l.1.1M303.2 196.5l.1.1M309.4 195.4l.1.1M315.5 194.4l.1.1M321.7 193.4l.1.1M327.8 192.4l.1.1M334.0 191.5l.1.1M340.2 190.7l.1.1M346.3 190.0l.1.1M352.5 189.4l.1.1M358.6 189.0l.1.1M364.8 188.7l.1.1M371.0 188.7l.1.1M377.1 188.8l.1.1M383.3 189.0l.1.1M389.4 189.4l.1.1M395.6 189.9l.1.1M401.8 190.5l.1.1M407.9 191.0l.1.1M414.1 191.2l.1.1M420.2 191.0l.1.1M426.4 190.4l.1.1M432.6 189.5l.1.1M438.7 188.3l.1.1M444.9 187.2l.1.1M451.0 186.4l.1.1M457.2 186.2l.1.1M463.4 186.8l.1.1M469.5 188.3l.1.1M475.7 190.8l.1.1M481.9 193.9l.1.1M488.0 197.7l.1.1M494.2 202.1l.1.1M500.3 207.0l.1.1M506.5 212.6l.1.1M512.7 219.5l.1.1M518.8 227.8l.1.1M525.0 234.5l.1.1M531.1 238.1l.1.1M537.3 241.2l.1.1M543.5 246.0l.1.1M549.6 199.0l.1.1M555.8 128.4l.1.1M561.9 131.9l.1.1M568.1 116.3l.1.1M574.2 263.2l.1.1M580.4 180.7l.1.1M586.6 210.1l.1.1M592.7 387.2l.1.1M598.9 323.1l.1.1M605.1 329.1l.1.1M611.2 314.2l.1.1M617.4 265.5l.1.1M623.5 259.9l.1.1M629.7 296.0l.1.1M635.9 287.8l.1.1M642.0 323.3l.1.1M648.2 210.3l.1.1M654.3 288.6l.1.1M660.5 263.4l.1.1M666.6 247.5l.1.1M672.8 387.2l.1.1M679.0 245.1l.1.1M685.1 188.5l.1.1M691.3 277.7l.1.1M697.5 162.6l.1.1"/>
<path stroke="#ff0000" d="M81.5 255.8l.1.1M87.6 254.0l.1.1M93.8 251.9l.1.1M99.9 249.5l.1.1M106.1 247.0l.1.1M112.2 244.2l.1.1M118.4 241.4l.1.1M124.6 238.6l.1.1M130.7 235.8l.1.1M136.9 233.1l.1.1M143.0 230.6l.1.1M149.2 228.3l.1.1M155.4 226.2l.1.1M161.5 224.3l.1.1M167.7 222.6l.1.1M173.8 221.0l.1.1M180.0 219.5l.1.1M186.2 218.1l.1.1M192.3 216.8l.1.1M198.5 215.4l.1.1M204.6 214.1l.1.1M210.8 212.9l.1.1M217.0 211.6l.1.1M223.1 210.4l.1.1M229.3 209.2l.1.1M235.4 208.1l.1.1M241.6 207.0l.1.1M247.8 205.9l.1.1M253.9 204.8l.1.1M260.1 203.7l.1.1M266.2 202.7l.1.1M272.4 201.6l.1.1M278.6 200.6l.1.1M284.7 199.5l.1.1M290.9 198.5l.1.1M297.1 197.5l.1.1M303.2 196.5l.1.1M309.4 195.5l.1.1M315.5 194.5l.1.1M321.7 193.7l.1.1M327.8 192.9l.1.1M334.0 192.1l.1.1M340.2 191.5l.1.1M346.3 191.0l.1.1M352.5 190.5l.1.1M358.6 190.1l.1.1M364.8 189.8l.1.1M371.0 189.4l.1.1M377.1 189.1l.1.1M383.3 188.7l.1.1M389.4 188.2l.1.1M395.6 187.6l.1.1M401.8 186.6l.1.1M407.9 185.1l.1.1M414.1 183.1l.1.1M420.2 180.5l.1.1M426.4 177.5l.1.1M432.6 174.1l.1.1M438.7 170.7l.1.1M444.9 167.5l.1.1M451.0 164.7l.1.1M457.2 162.6l.1.1M463.4 161.3l.1.1M469.5 161.3l.1.1M475.7 162.3l.1.1M481.9 164.5l.1.1M488.0 167.7l.1.1M494.2 172.1l.1.1M500.3 177.6l.1.1M506.5 184.5l.1.1M512.7 193.8l.1.1M518.8 205.6l.1.1M525.0 215.6l.1.1M531.1 221.7l.1.1M537.3 228.1l.1.1M543.5 242.0l.1.1M549.6 248.2l.1.1M555.8 228.9l.1.1M561.9 240.0l.1.1M568.1 127.3l.1.1M574.2 261.6l.1.1M580.4 134.4l.1.1M586.6 173.4l.1.1M592.7 429.3l.1.1M598.9 362.1l.1.1M605.1 371.7l.1.1M611.2 349.3l.1.1M617.4 265.6l.1.1M623.5 255.6l.1.1M629.7 312.8l.1.1M635.9 305.6l.1.1M642.0 361.8l.1.1M648.2 295.6l.1.1M654.3 307.8l.1.1M660.5 261.7l.1.1M666.6 232.6l.1.1M672.8 451.6l.1.1M679.0 227.6l.1.1M685.1 129.7l.1.1M691.3 291.0l.1.1M697.5 123.8l.1.1"/>
<path stroke="#00bfbf" d="M81.5 255.9l.1.1M87.6 254.0l.1.1M93.8 251.8l.1.1M99.9 249.4l.1.1M106.1 246.7l.1.1M112.2 243.9l.1.1M118.4 241.1l.1.1M124.6 238.2l.1.1M130.7 235.4l.1.1M136.9 232.7l.1.1M143.0 230.3l.1.1M149.2 228.1l.1.1M155.4 226.1l.1.1M161.5 224.2l.1.1M167.7 222.6l.1.1M173.8 221.0l.1.1M180.0 219.5l.1.1M186.2 218.1l.1.1M192.3 216.8l.1.1M198.5 215.4l.1.1M204.6 214.1l.1.1M210.8 212.9l.1.1M217.0 211.6l.1.1M223.1 210.4l.1.1M229.3 209.2l.1.1M235.4 208.1l.1.1M241.6 207.0l.1.1M247.8 205.9l.1.1M253.9 204.8l.1.1M260.1 203.7l.1.1M266.2 202.6l.1.1M272.4 201.6l.1.1M278.6 200.5l.1.1M284.7 199.5l.1.1M290.9 198.5l.1.1M297.1 197.5l.1.1M303.2 196.6l.1.1M309.4 195.7l.1.1M315.5 194.8l.1.1M321.7 194.0l.1.1M327.8 193.2l.1.1M334.0 192.5l.1.1M340.2 191.8l.1.1M346.3 191.2l.1.1M352.5 190.5l.1.1M358.6 189.8l.1.1M364.8 189.0l.1.1M371.0 188.0l.1.1M377.1 187.0l.1.1M383.3 185.7l.1.1M389.4 184.2l.1.1M395.6 182.5l.1.1M401.8 180.2l.1.1M407.9 177.6l.1.1M414.1 174.4l.1.1M420.2 171.0l.1.1M426.4 167.4l.1.1M432.6 163.9l.1.1M438.7 160.5l.1.1M444.9 157.4l.1.1M451.0 154.3l.1.1M457.2 151.4l.1.1M463.4 148.4l.1.1M469.5 145.6l.1.1M475.7 143.2l.1.1M481.9 141.6l.1.1M488.0 141.1l.1.1M494.2 142.1l.1.1M500.3 145.0l.1.1M506.5 150.3l.1.1M512.7 159.5l.1.1M518.8 173.6l.1.1M525.0 187.0l.1.1M531.1 195.4l.1.1M537.3 204.9l.1.1M543.5 226.4l.1.1M549.6 240.3l.1.1M555.8 248.5l.1.1M561.9 251.6l.1.1M568.1 240.2l.1.1M574.2 258.9l.1.1M580.4 104.3l.1.1M586.6 125.3l.1.1M592.7 382.5l.1.1M598.9 412.6l.1.1M605.1 422.8l.1.1M611.2 400.2l.1.1M617.4 265.8l.1.1M623.5 248.0l.1.1M629.7 348.5l.1.1M635.9 336.6l.1.1M642.0 418.6l.1.1M648.2 319.5l.1.1M654.3 341.6l.1.1M660.5 258.6l.1.1M666.6 205.5l.1.1M672.8 419.5l.1.1M679.0 195.9l.1.1M685.1 66.4l.1.1M691.3 313.1l.1.1M697.5 97.8l.1.1"/>
<path stroke="#bf00bf" d="M81.5 255.9l.1.1M87.6 254.0l.1.1M93.8 251.7l.1.1M99.9 249.2l.1.1M106.1 246.5l.1.1M112.2 243.6l.1.1M118.4 240.7l.1.1M124.6 237.8l.1.1M130.7 235.0l.1.1M136.9 232.4l.1.1M143.0 230.0l.1.1M149.2 227.9l.1.1M155.4 226.0l.1.1M161.5 224.2l.1.1M167.7 222.5l.1.1M173.8 221.0l.1.1M180.0 219.5l.1.1M186.2 218.1l.1.1M192.3 216.8l.1.1M198.5 215.4l.1.1M204.6 214.1l.1.1M210.8 212.9l.1.1M217.0 211.6l.1.1M223.1 210.4l.1.1M229.3 209.3l.1.1M235.4 208.1l.1.1M241.6 207.0l.1.1M247.8 205.9l.1.1M253.9 204.8l.1.1M260.1 203.7l.1.1M266.2 202.6l.1.1M272.4 201.6l.1.1M278.6 200.5l.1.1M284.7 199.5l.1.1M290.9 198.6l.1.1M297.1 197.6l.1.1M303.2 196.7l.1.1M309.4 195.8l.1.1M315.5 194.9l.1.1M321.7 194.1l.1.1M327.8 193.3l.1.1M334.0 192.4l.1.1M340.2 191.6l.1.1M346.3 190.7l.1.1M352.5 189.7l.1.1M358.6 188.6l.1.1M364.8 187.4l.1.1M371.0 186.0l.1.1M377.1 184.5l.1.1M383.3 182.8l.1.1M389.4 181.0l.1.1M395.6 179.0l.1.1M401.8 176.8l.1.1M407.9 174.7l.1.1M414.1 172.7l.1.1M420.2 171.2l.1.1M426.4 170.3l.1.1M432.6 170.2l.1.1M438.7 170.8l.1.1M444.9 171.8l.1.1M451.0 172.6l.1.1M457.2 172.6l.1.1M463.4 171.3l.1.1M469.5 168.0l.1.1M475.7 162.9l.1.1M481.9 156.6l.1.1M488.0 149.3l.1.1M494.2 141.9l.1.1M500.3 135.4l.1.1M506.5 130.9l.1.1M512.7 130.4l.1.1M518.8 137.9l.1.1M525.0 150.0l.1.1M531.1 159.1l.1.1M537.3 170.8l.1.1M543.5 201.9l.1.1M549.6 223.4l.1.1M555.8 237.1l.1.1M561.9 241.4l.1.1M568.1 253.7l.1.1M574.2 254.3l.1.1M580.4 178.4l.1.1M586.6 104.4l.1.1M592.7 254.2l.1.1M598.9 427.9l.1.1M605.1 419.2l.1.1M611.2 438.1l.1.1M617.4 266.1l.1.1M623.5 234.3l.1.1M629.7 401.9l.1.1M635.9 386.2l.1.1M642.0 444.7l.1.1M648.2 360.8l.1.1M654.3 395.7l.1.1M660.5 252.9l.1.1M666.6 158.8l.1.1M672.8 182.9l.1.1M679.0 142.3l.1.1M685.1 146.4l.1.1M691.3 353.5l.1.1M697.5 178.1l.1.1"/>
<path stroke="#bfbf00" d="M81.5 256.0l.1.1M87.6 254.0l.1.1M93.8 251.6l.1.1M99.9 249.1l.1.1M106.1 246.3l.1.1M112.2 243.4l.1.1M118.4 240.4l.1.1M124.6 237.5l.1.1M130.7 234.7l.1.1M136.9 232.2l.1.1M143.0 229.9l.1.1M149.2 227.8l.1.1M155.4 225.9l.1.1M161.5 224.1l.1.1M167.7 222.5l.1.1M173.8 221.0l.1.1M180.0 219.5l.1.1M186.2 218.1l.1.1M192.3 216.8l.1.1M198.5 215.4l.1.1M204.6 214.1l.1.1M210.8 212.9l.1.1M217.0 211.6l.1.1M223.1 210.4l.1.1M229.3 209.3l.1.1M235.4 208.1l.1.1M241.6 207.0l.1.1M247.8 205.8l.1.1M253.9 204.8l.1.1M260.1 203.7l.1.1M266.2 202.6l.1.1M272.4 201.6l.1.1M278.6 200.6l.1.1M284.7 199.6l.1.1M290.9 198.6l.1.1M297.1 197.7l.1.1M303.2 196.7l.1.1M309.4 195.8l.1.1M315.5 194.9l.1.1M321.7 194.0l.1.1M327.8 193.1l.1.1M334.0 192.1l.1.1M340.2 191.1l.1.1M346.3 190.0l.1.1M352.5 188.8l.1.1M358.6 187.6l.1.1M364.8 186.4l.1.1M371.0 185.0l.1.1M377.1 183.7l.1.1M383.3 182.4l.1.1M389.4 181.1l.1.1M395.6 180.0l.1.1M401.8 179.3l.1.1M407.9 179.3l.1.1M414.1 180.1l.1.1M420.2 181.9l.1.1M426.4 184.8l.1.1M432.6 188.6l.1.1M438.7 192.8l.1.1M444.9 197.1l.1.1M451.0 201.0l.1.1M457.2 204.5l.1.1M463.4 207.1l.1.1M469.5 208.5l.1.1M475.7 208.7l.1.1M481.9 207.1l.1.1M488.0 203.1l.1.1M494.2 195.8l.1.1M500.3 184.7l.1.1M506.5 169.3l.1.1M512.7 149.2l.1.1M518.8 130.4l.1.1M525.0 124.3l.1.1M531.1 125.5l.1.1M537.3 132.1l.1.1M543.5 166.1l.1.1M549.6 196.8l.1.1M555.8 218.2l.1.1M561.9 225.0l.1.1M568.1 244.8l.1.1M574.2 246.4l.1.1M580.4 268.4l.1.1M586.6 204.2l.1.1M592.7 255.3l.1.1M598.9 306.7l.1.1M605.1 273.4l.1.1M611.2 353.7l.1.1M617.4 266.8l.1.1M623.5 210.5l.1.1M629.7 445.2l.1.1M635.9 441.1l.1.1M642.0 299.1l.1.1M648.2 420.1l.1.1M654.3 451.7l.1.1M660.5 242.5l.1.1M666.6 94.6l.1.1M672.8 236.8l.1.1M679.0 76.5l.1.1M685.1 366.3l.1.1M691.3 417.7l.1.1M697.5 265.6l.1.1"/>
<path stroke="#404040" d="M81.5 256.0l.1.1M87.6 254.0l.1.1M93.8 251.6l.1.1M99.9 248.9l.1.1M106.1 246.1l.1.1M112.2 243.1l.1.1M118.4 240.1l.1.1M124.6 237.2l.1.1M130.7 234.5l.1.1M136.9 232.0l.1.1M143.0 229.7l.1.1M149.2 227.7l.1.1M155.4 225.8l.1.1M161.5 224.1l.1.1M167.7 222.5l.1.1M173.8 221.0l.1.1M180.0 219.5l.1.1M186.2 218.1l.1.1M192.3 216.8l.1.1M198.5 215.4l.1.1M204.6 214.1l.1.1M210.8 212.9l.1.1M217.0 211.6l.1.1M223.1 210.4l.1.1M229.3 209.3l.1.1M235.4 208.1l.1.1M241.6 207.0l.1.1M247.8 205.8l.1.1M253.9 204.8l.1.1M260.1 203.7l.1.1M266.2 202.6l.1.1M272.4 201.6l.1.1M278.6 200.6l.1.1M284.7 199.6l.1.1M290.9 198.6l.1.1M297.1 197.7l.1.1M303.2 196.7l.1.1M309.4 195.8l.1.1M315.5 194.8l.1.1M321.7 193.8l.1.1M327.8 192.8l.1.1M334.0 191.8l.1.1M340.2 190.8l.1.1M346.3 189.7l.1.1M352.5 188.6l.1.1M358.6 187.6l.1.1M364.8 186.6l.1.1M371.0 185.7l.1.1M377.1 185.0l.1.1M383.3 184.5l.1.1M389.4 184.2l.1.1M395.6 184.4l.1.1M401.8 185.1l.1.1M407.9 186.5l.1.1M414.1 188.6l.1.1M420.2 191.1l.1.1M426.4 193.8l.1.1M432.6 196.4l.1.1M438.7 198.8l.1.1M444.9 201.1l.1.1M451.0 203.3l.1.1M457.2 205.7l.1.1M463.4 208.5l.1.1M469.5 211.7l.1.1M475.7 215.2l.1.1M481.9 218.6l.1.1M488.0 221.8l.1.1M494.2 224.6l.1.1M500.3 226.7l.1.1M506.5 226.7l.1.1M512.7 219.2l.1.1M518.8 193.4l.1.1M525.0 161.2l.1.1M531.1 141.9l.1.1M537.3 125.4l.1.1M543.5 127.0l.1.1M549.6 158.5l.1.1M555.8 188.2l.1.1M561.9 198.3l.1.1M568.1 230.5l.1.1M574.2 233.0l.1.1M580.4 269.3l.1.1M586.6 266.0l.1.1M592.7 247.2l.1.1M598.9 264.6l.1.1M605.1 267.0l.1.1M611.2 242.0l.1.1M617.4 267.9l.1.1M623.5 170.8l.1.1M629.7 356.1l.1.1M635.9 404.5l.1.1M642.0 253.4l.1.1M648.2 449.8l.1.1M654.3 387.0l.1.1M660.5 223.5l.1.1M666.6 84.1l.1.1M672.8 222.7l.1.1M679.0 111.5l.1.1M685.1 374.1l.1.1M691.3 470.6l.1.1M697.5 265.7l.1.1"/>
<path stroke="#0000ff" d="M81.5 256.1l.1.1M87.6 254.0l.1.1M93.8 251.5l.1.1M99.9 248.8l.1.1M106.1 245.9l.1.1M112.2 242.8l.1.1M118.4 239.8l.1.1M124.6 236.9l.1.1M130.7 234.2l.1.1M136.9 231.8l.1.1M143.0 229.6l.1.1M149.2 227.6l.1.1M155.4 225.8l.1.1M161.5 224.1l.1.1M167.7 222.5l.1.1M173.8 221.0l.1.1M180.0 219.5l.1.1M186.2 218.1l.1.1M192.3 216.8l.1.1M198.5 215.4l.1.1M204.6 214.1l.1.1M210.8 212.9l.1.1M217.0 211.6l.1.1M223.1 210.4l.1.1M229.3 209.3l.1.1M235.4 208.1l.1.1M241.6 207.0l.1.1M247.8 205.8l.1.1M253.9 204.8l.1.1M260.1 203.7l.1.1M266.2 202.6l.1.1M272.4 201.6l.1.1M278.6 200.6l.1.1M284.7 199.6l.1.1M290.9 198.6l.1.1M297.1 197.6l.1.1M303.2 196.7l.1.1M309.4 195.7l.1.1M315.5 194.7l.1.1M321.7 193.7l.1.1M327.8 192.7l.1.1M334.0 191.8l.1.1M340.2 190.8l.1.1M346.3 189.9l.1.1M352.5 189.1l.1.1M358.6 188.3l.1.1M364.8 187.7l.1.1M371.0 187.2l.1.1M377.1 187.0l.1.1M383.3 186.9l.1.1M389.4 187.1l.1.1M395.6 187.5l.1.1M401.8 188.2l.1.1M407.9 188.9l.1.1M414.1 189.5l.1.1M420.2 189.7l.1.1M426.4 189.4l.1.1M432.6 188.7l.1.1M438.7 187.7l.1.1M444.9 187.0l.1.1M451.0 186.7l.1.1M457.2 187.3l.1.1M463.4 189.0l.1.1M469.5 192.0l.1.1M475.7 196.0l.1.1M481.9 200.6l.1.1M488.0 205.7l.1.1M494.2 211.6l.1.1M500.3 218.3l.1.1M506.5 225.1l.1.1M512.7 230.5l.1.1M518.8 234.6l.1.1M525.0 233.4l.1.1M531.1 224.4l.1.1M537.3 201.5l.1.1M543.5 127.6l.1.1M549.6 120.5l.1.1M555.8 146.9l.1.1M561.9 159.0l.1.1M568.1 206.7l.1.1M574.2 210.5l.1.1M580.4 272.4l.1.1M586.6 266.4l.1.1M592.7 233.9l.1.1M598.9 264.0l.1.1M605.1 268.4l.1.1M611.2 233.4l.1.1M617.4 269.8l.1.1M623.5 115.9l.1.1M629.7 227.9l.1.1M635.9 220.9l.1.1M642.0 242.6l.1.1M648.2 295.6l.1.1M654.3 197.9l.1.1M660.5 189.6l.1.1M666.6 295.7l.1.1M672.8 187.2l.1.1M679.0 356.8l.1.1M685.1 397.3l.1.1M691.3 321.2l.1.1M697.5 266.1l.1.1"/>
<path stroke="#008000" d="M81.5 256.1l.1.1M87.6 254.0l.1.1M93.8 251.4l.1.1M99.9 248.7l.1.1M106.1 245.7l.1.1M112.2 242.6l.1.1M118.4 239.6l.1.1M124.6 236.7l.1.1M130.7 234.0l.1.1M136.9 231.6l.1.1M143.0 229.5l.1.1M149.2 227.5l.1.1M155.4 225.8l.1.1M161.5 224.1l.1.1M167.7 222.5l.1.1M173.8 221.0l.1.1M180.0 219.5l.1.1M186.2 218.1l.1.1M192.3 216.8l.1.1M198.5 215.4l.1.1M204.6 214.1l.1.1M210.8 212.9l.1.1M217.0 211.6l.1.1M223.1 210.4l.1.1M229.3 209.3l.1.1M235.4 208.1l.1.1M241.6 207.0l.1.1M247.8 205.8l.1.1M253.9 204.8l.1.1M260.1 203.7l.1.1M266.2 202.6l.1.1M272.4 201.6l.1.1M278.6 200.6l.1.1M284.7 199.6l.1.1M290.9 198.6l.1.1M297.1 197.6l.1.1M303.2 196.6l.1.1M309.4 195.6l.1.1M315.5 194.7l.1.1M321.7 193.7l.1.1M327.8 192.8l.1.1M334.0 191.9l.1.1M340.2 191.1l.1.1M346.3 190.3l.1.1M352.5 189.6l.1.1M358.6 189.0l.1.1M364.8 188.6l.1.1M371.0 188.2l.1.1M377.1 187.8l.1.1M383.3 187.5l.1.1M389.4 187.2l.1.1M395.6 186.9l.1.1M401.8 186.2l.1.1M407.9 185.1l.1.1M414.1 183.4l.1.1M420.2 181.0l.1.1M426.4 178.0l.1.1M432.6 174.5l.1.1M438.7 171.0l.1.1M444.9 167.8l.1.1M451.0 165.3l.1.1M457.2 163.8l.1.1M463.4 163.6l.1.1M469.5 165.1l.1.1M475.7 168.1l.1.1M481.9 172.4l.1.1M488.0 177.9l.1.1M494.2 185.0l.1.1M500.3 193.7l.1.1M506.5 203.2l.1.1M512.7 212.2l.1.1M518.8 224.0l.1.1M525.0 234.5l.1.1M531.1 238.1l.1.1M537.3 242.0l.1.1M543.5 214.1l.1.1M549.6 135.4l.1.1M555.8 113.9l.1.1M561.9 117.7l.1.1M568.1 170.1l.1.1M574.2 175.1l.1.1M580.4 277.4l.1.1M586.6 267.2l.1.1M592.7 211.2l.1.1M598.9 263.0l.1.1M605.1 270.7l.1.1M611.2 209.0l.1.1M617.4 273.3l.1.1M623.5 90.8l.1.1M629.7 213.7l.1.1M635.9 239.2l.1.1M642.0 224.3l.1.1M648.2 250.9l.1.1M654.3 200.7l.1.1M660.5 135.0l.1.1M666.6 255.0l.1.1M672.8 129.9l.1.1M679.0 299.0l.1.1M685.1 408.7l.1.1M691.3 209.8l.1.1M697.5 266.7l.1.1"/>
<path stroke="#ff0000" d="M81.5 256.2l.1.1M87.6 254.0l.1.1M93.8 251.4l.1.1M99.9 248.5l.1.1M106.1 245.5l.1.1M112.2 242.4l.1.1M118.4 239.3l.1.1M124.6 236.5l.1.1M130.7 233.9l.1.1M136.9 231.5l.1.1M143.0 229.4l.1.1M149.2 227.5l.1.1M155.4 225.7l.1.1M161.5 224.1l.1.1M167.7 222.5l.1.1M173.8 221.0l.1.1M180.0 219.5l.1.1M186.2 218.1l.1.1M192.3 216.8l.1.1M198.5 215.4l.1.1M204.6 214.1l.1.1M210.8 212.9l.1.1M217.0 211.6l.1.1M223.1 210.4l.1.1M229.3 209.3l.1.1M235.4 208.1l.1.1M241.6 207.0l.1.1M247.8 205.8l.1.1M253.9 204.8l.1.1M260.1 203.7l.1.1M266.2 202.6l.1.1M272.4 201.6l.1.1M278.6 200.6l.1.1M284.7 199.6l.1.1M290.9 198.6l.1.1M297.1 197.6l.1.1M303.2 196.6l.1.1M309.4 195.7l.1.1M315.5 194.7l.1.1M321.7 193.8l.1.1M327.8 192.9l.1.1M334.0 192.1l.1.1M340.2 191.3l.1.1M346.3 190.6l.1.1M352.5 189.9l.1.1M358.6 189.2l.1.1M364.8 188.5l.1.1M371.0 187.8l.1.1M377.1 187.0l.1.1M383.3 186.1l.1.1M389.4 185.0l.1.1M395.6 183.6l.1.1M401.8 181.7l.1.1M407.9 179.3l.1.1M414.1 176.2l.1.1M420.2 172.7l.1.1M426.4 168.9l.1.1M432.6 165.1l.1.1M438.7 161.4l.1.1M444.9 158.0l.1.1M451.0 154.7l.1.1M457.2 151.5l.1.1M463.4 148.5l.1.1M469.5 146.1l.1.1M475.7 145.0l.1.1M481.9 145.4l.1.1M488.0 147.9l.1.1M494.2 152.9l.1.1M500.3 161.1l.1.1M506.5 171.8l.1.1M512.7 183.2l.1.1M518.8 199.9l.1.1M525.0 215.6l.1.1M531.1 222.0l.1.1M537.3 231.5l.1.1M543.5 243.7l.1.1M549.6 232.2l.1.1M555.8 155.5l.1.1M561.9 130.0l.1.1M568.1 125.3l.1.1M574.2 129.2l.1.1M580.4 286.2l.1.1M586.6 268.6l.1.1M592.7 174.5l.1.1M598.9 261.2l.1.1M605.1 274.9l.1.1M611.2 169.6l.1.1M617.4 279.5l.1.1M623.5 222.9l.1.1M629.7 176.0l.1.1M635.9 219.4l.1.1M642.0 192.2l.1.1M648.2 237.5l.1.1M654.3 163.3l.1.1M660.5 77.1l.1.1M666.6 245.2l.1.1M672.8 70.8l.1.1M679.0 312.1l.1.1M685.1 365.4l.1.1M691.3 160.6l.1.1M697.5 267.9l.1.1"/>
<path stroke="#00bfbf" d="M81.5 256.2l.1.1M87.6 254.0l.1.1M93.8 251.3l.1.1M99.9 248.4l.1.1M106.1 245.3l.1.1M112.2 242.2l.1.1M118.4 239.1l.1.1M124.6 236.3l.1.1M130.7 233.7l.1.1M136.9 231.4l.1.1M143.0 229.4l.1.1M149.2 227.5l.1.1M155.4 225.7l.1.1M161.5 224.1l.1.1M167.7 222.5l.1.1M173.8 221.0l.1.1M180.0 219.5l.1.1M186.2 218.1l.1.1M192.3 216.8l.1.1M198.5 215.4l.1.1M204.6 214.1l.1.1M210.8 212.9l.1.1M217.0 211.6l.1.1M223.1 210.4l.1.1M229.3 209.3l.1.1M235.4 208.1l.1.1M241.6 207.0l.1.1M247.8 205.8l.1.1M253.9 204.8l.1.1M260.1 203.7l.1.1M266.2 202.6l.1.1M272.4 201.6l.1.1M278.6 200.6l.1.1M284.7 199.6l.1.1M290.9 198.6l.1.1M297.1 197.6l.1.1M303.2 196.6l.1.1M309.4 195.7l.1.1M315.5 194.8l.1.1M321.7 193.9l.1.1M327.8 193.0l.1.1M334.0 192.2l.1.1M340.2 191.4l.1.1M346.3 190.5l.1.1M352.5 189.7l.1.1M358.6 188.8l.1.1M364.8 187.9l.1.1M371.0 186.8l.1.1M377.1 185.6l.1.1M383.3 184.2l.1.1M389.4 182.6l.1.1M395.6 180.8l.1.1M401.8 178.7l.1.1M407.9 176.4l.1.1M414.1 174.1l.1.1M420.2 172.3l.1.1M426.4 171.1l.1.1M432.6 170.8l.1.1M438.7 171.2l.1.1M444.9 171.9l.1.1M451.0 172.0l.1.1M457.2 170.8l.1.1M463.4 167.6l.1.1M469.5 162.1l.1.1M475.7 154.9l.1.1M481.9 147.4l.1.1M488.0 140.5l.1.1M494.2 135.6l.1.1M500.3 134.6l.1.1M506.5 139.0l.1.1M512.7 147.9l.1.1M518.8 166.2l.1.1M525.0 187.0l.1.1M531.1 195.9l.1.1M537.3 210.0l.1.1M543.5 231.6l.1.1M549.6 246.0l.1.1M555.8 250.7l.1.1M561.9 237.6l.1.1M568.1 114.1l.1.1M574.2 108.4l.1.1M580.4 301.1l.1.1M586.6 270.9l.1.1M592.7 125.4l.1.1M598.9 258.1l.1.1M605.1 282.1l.1.1M611.2 116.8l.1.1M617.4 290.5l.1.1M623.5 276.7l.1.1M629.7 121.1l.1.1M635.9 184.2l.1.1M642.0 141.1l.1.1M648.2 215.1l.1.1M654.3 106.6l.1.1M660.5 140.8l.1.1M666.6 228.3l.1.1M672.8 151.8l.1.1M679.0 350.7l.1.1M685.1 315.6l.1.1M691.3 90.5l.1.1M697.5 270.2l.1.1"/>
<path stroke="#bf00bf" d="M81.5 256.3l.1.1M87.6 254.0l.1.1M93.8 251.3l.1.1M99.9 248.3l.1.1M106.1 245.1l.1.1M112.2 242.0l.1.1M118.4 238.9l.1.1M124.6 236.1l.1.1M130.7 233.6l.1.1M136.9 231.3l.1.1M143.0 229.3l.1.1M149.2 227.4l.1.1M155.4 225.7l.1.1M161.5 224.1l.1.1M167.7 222.5l.1.1M173.8 221.0l.1.1M180.0 219.5l.1.1M186.2 218.1l.1.1M192.3 216.8l.1.1M198.5 215.4l.1.1M204.6 214.1l.1.1M210.8 212.9l.1.1M217.0 211.6l.1.1M223.1 210.4l.1.1M229.3 209.3l.1.1M235.4 208.1l.1.1M241.6 207.0l.1.1M247.8 205.9l.1.1M253.9 204.8l.1.1M260.1 203.7l.1.1M266.2 202.6l.1.1M272.4 201.6l.1.1M278.6 200.6l.1.1M284.7 199.6l.1.1M290.9 198.6l.1.1M297.1 197.6l.1.1M303.2 196.7l.1.1M309.4 195.7l.1.1M315.5 194.8l.1.1M321.7 193.9l.1.1M327.8 193.0l.1.1M334.0 192.1l.1.1M340.2 191.2l.1.1M346.3 190.3l.1.1M352.5 189.3l.1.1M358.6 188.3l.1.1M364.8 187.2l.1.1M371.0 186.0l.1.1M377.1 184.7l.1.1M383.3 183.4l.1.1M389.4 182.1l.1.1M395.6 180.8l.1.1M401.8 179.7l.1.1M407.9 179.1l.1.1M414.1 179.5l.1.1M420.2 180.9l.1.1M426.4 183.7l.1.1M432.6 187.5l.1.1M438.7 191.9l.1.1M444.9 196.3l.1.1M451.0 200.2l.1.1M457.2 203.2l.1.1M463.4 204.9l.1.1M469.5 204.5l.1.1M475.7 201.4l.1.1M481.9 195.1l.1.1M488.0 184.8l.1.1M494.2 170.2l.1.1M500.3 152.5l.1.1M506.5 136.8l.1.1M512.7 128.7l.1.1M518.8 132.4l.1.1M525.0 150.0l.1.1M531.1 159.7l.1.1M537.3 177.9l.1.1M543.5 209.9l.1.1M549.6 233.0l.1.1M555.8 251.6l.1.1M561.9 251.3l.1.1M568.1 211.5l.1.1M574.2 196.8l.1.1M580.4 326.0l.1.1M586.6 275.0l.1.1M592.7 101.3l.1.1M598.9 252.6l.1.1M605.1 294.8l.1.1M611.2 96.9l.1.1M617.4 309.8l.1.1M623.5 286.0l.1.1M629.7 86.1l.1.1M635.9 130.7l.1.1M642.0 85.9l.1.1M648.2 176.2l.1.1M654.3 88.6l.1.1M660.5 339.6l.1.1M666.6 197.7l.1.1M672.8 349.9l.1.1M679.0 412.0l.1.1M685.1 329.2l.1.1M691.3 69.2l.1.1M697.5 274.6l.1.1"/>
<path stroke="#bfbf00" d="M81.5 256.3l.1.1M87.6 254.0l.1.1M93.8 251.2l.1.1M99.9 248.2l.1.1M106.1 245.0l.1.1M112.2 241.8l.1.1M118.4 238.8l.1.1M124.6 236.0l.1.1M130.7 233.5l.1.1M136.9 231.3l.1.1M143.0 229.3l.1.1M149.2 227.4l.1.1M155.4 225.7l.1.1M161.5 224.1l.1.1M167.7 222.5l.1.1M173.8 221.0l.1.1M180.0 219.5l.1.1M186.2 218.1l.1.1M192.3 216.8l.1.1M198.5 215.4l.1.1M204.6 214.1l.1.1M210.8 212.9l.1.1M217.0 211.6l.1.1M223.1 210.4l.1.1M229.3 209.3l.1.1M235.4 208.1l.1.1M241.6 207.0l.1.1M247.8 205.8l.1.1M253.9 204.8l.1.1M260.1 203.7l.1.1M266.2 202.6l.1.1M272.4 201.6l.1.1M278.6 200.6l.1.1M284.7 199.6l.1.1M290.9 198.6l.1.1M297.1 197.6l.1.1M303.2 196.7l.1.1M309.4 195.7l.1.1M315.5 194.8l.1.1M321.7 193.9l.1.1M327.8 193.0l.1.1M334.0 192.0l.1.1M340.2 191.1l.1.1M346.3 190.1l.1.1M352.5 189.1l.1.1M358.6 188.1l.1.1M364.8 187.0l.1.1M371.0 186.0l.1.1M377.1 185.1l.1.1M383.3 184.3l.1.1M389.4 183.6l.1.1M395.6 183.3l.1.1M401.8 183.6l.1.1M407.9 184.7l.1.1M414.1 186.5l.1.1M420.2 189.1l.1.1M426.4 192.0l.1.1M432.6 195.0l.1.1M438.7 197.7l.1.1M444.9 200.3l.1.1M451.0 203.0l.1.1M457.2 206.0l.1.1M463.4 209.4l.1.1M469.5 213.1l.1.1M475.7 216.6l.1.1M481.9 219.5l.1.1M488.0 221.6l.1.1M494.2 221.2l.1.1M500.3 214.5l.1.1M506.5 196.8l.1.1M512.7 171.4l.1.1M518.8 137.3l.1.1M525.0 124.3l.1.1M531.1 125.8l.1.1M537.3 138.6l.1.1M543.5 177.2l.1.1M549.6 211.8l.1.1M555.8 241.5l.1.1M561.9 241.0l.1.1M568.1 255.7l.1.1M574.2 261.5l.1.1M580.4 364.7l.1.1M586.6 282.1l.1.1M592.7 201.3l.1.1M598.9 243.1l.1.1M605.1 316.7l.1.1M611.2 224.1l.1.1M617.4 342.6l.1.1M623.5 302.0l.1.1M629.7 201.6l.1.1M635.9 83.6l.1.1M642.0 132.0l.1.1M648.2 118.3l.1.1M654.3 249.3l.1.1M660.5 333.8l.1.1M666.6 146.4l.1.1M672.8 361.6l.1.1M679.0 465.2l.1.1M685.1 376.8l.1.1M691.3 311.7l.1.1M697.5 282.9l.1.1"/>
<path stroke="#404040" d="M81.5 256.4l.1.1M87.6 253.9l.1.1M93.8 251.1l.1.1M99.9 248.0l.1.1M106.1 244.8l.1.1M112.2 241.6l.1.1M118.4 238.6l.1.1M124.6 235.9l.1.1M130.7 233.4l.1.1M136.9 231.2l.1.1M143.0 229.2l.1.1M149.2 227.4l.1.1M155.4 225.7l.1.1M161.5 224.1l.1.1M167.7 222.5l.1.1M173.8 221.0l.1.1M180.0 219.5l.1.1M186.2 218.1l.1.1M192.3 216.8l.1.1M198.5 215.4l.1.1M204.6 214.1l.1.1M210.8 212.9l.1.1M217.0 211.6l.1.1M223.1 210.4l.1.1M229.3 209.3l.1.1M235.4 208.1l.1.1M241.6 207.0l.1.1M247.8 205.8l.1.1M253.9 204.8l.1.1M260.1 203.7l.1.1M266.2 202.6l.1.1M272.4 201.6l.1.1M278.6 200.6l.1.1M284.7 199.6l.1.1M290.9 198.6l.1.1M297.1 197.6l.1.1M303.2 196.7l.1.1M309.4 195.7l.1.1M315.5 194.8l.1.1M321.7 193.8l.1.1M327.8 192.9l.1.1M334.0 191.9l.1.1M340.2 191.0l.1.1M346.3 190.1l.1.1M352.5 189.1l.1.1M358.6 188.3l.1.1M364.8 187.4l.1.1M371.0 186.7l.1.1M377.1 186.2l.1.1M383.3 185.8l.1.1M389.4 185.7l.1.1M395.6 185.9l.1.1M401.8 186.4l.1.1M407.9 187.2l.1.1M414.1 188.0l.1.1M420.2 188.5l.1.1M426.4 188.4l.1.1M432.6 187.8l.1.1M438.7 187.0l.1.1M444.9 186.5l.1.1M451.0 186.8l.1.1M457.2 188.3l.1.1M463.4 191.1l.1.1M469.5 195.4l.1.1M475.7 200.6l.1.1M481.9 206.5l.1.1M488.0 213.1l.1.1M494.2 220.0l.1.1M500.3 225.7l.1.1M506.5 229.5l.1.1M512.7 230.1l.1.1M518.8 209.0l.1.1M525.0 161.2l.1.1M531.1 140.9l.1.1M537.3 121.1l.1.1M543.5 136.8l.1.1M549.6 179.3l.1.1M555.8 225.5l.1.1M561.9 224.4l.1.1M568.1 249.7l.1.1M574.2 259.6l.1.1M580.4 411.6l.1.1M586.6 294.4l.1.1M592.7 270.0l.1.1M598.9 226.5l.1.1M605.1 352.8l.1.1M611.2 271.1l.1.1M617.4 392.4l.1.1M623.5 329.9l.1.1M629.7 290.0l.1.1M635.9 165.7l.1.1M642.0 318.9l.1.1M648.2 78.3l.1.1M654.3 269.6l.1.1M660.5 369.5l.1.1M666.6 83.0l.1.1M672.8 400.8l.1.1M679.0 339.9l.1.1M685.1 443.6l.1.1M691.3 233.1l.1.1M697.5 298.5l.1.1"/>
<path stroke="#0000ff" d="M81.5 256.4l.1.1M87.6 253.9l.1.1M93.8 251.1l.1.1M99.9 247.9l.1.1M106.1 244.7l.1.1M112.2 241.5l.1.1M118.4 238.5l.1.1M124.6 235.8l.1.1M130.7 233.3l.1.1M136.9 231.2l.1.1M143.0 229.2l.1.1M149.2 227.4l.1.1M155.4 225.7l.1.1M161.5 224.1l.1.1M167.7 222.5l.1.1M173.8 221.0l.1.1M180.0 219.5l.1.1M186.2 218.1l.1.1M192.3 216.8l.1.1M198.5 215.4l.1.1M204.6 214.1l.1.1M210.8 212.9l.1.1M217.0 211.6l.1.1M223.1 210.4l.1.1M229.3 209.3l.1.1M235.4 208.1l.1.1M241.6 207.0l.1.1M247.8 205.8l.1.1M253.9 204.8l.1.1M260.1 203.7l.1.1M266.2 202.6l.1.1M272.4 201.6l.1.1M278.6 200.6l.1.1M284.7 199.6l.1.1M290.9 198.6l.1.1M297.1 197.6l.1.1M303.2 196.6l.1.1M309.4 195.7l.1.1M315.5 194.7l.1.1M321.7 193.8l.1.1M327.8 192.9l.1.1M334.0 192.0l.1.1M340.2 191.1l.1.1M346.3 190.2l.1.1M352.5 189.4l.1.1M358.6 188.6l.1.1M364.8 188.0l.1.1M371.0 187.4l.1.1M377.1 186.9l.1.1M383.3 186.6l.1.1M389.4 186.3l.1.1M395.6 186.1l.1.1M401.8 185.7l.1.1M407.9 184.9l.1.1M414.1 183.5l.1.1M420.2 181.2l.1.1M426.4 178.2l.1.1M432.6 174.6l.1.1M438.7 170.9l.1.1M444.9 167.8l.1.1M451.0 165.6l.1.1M457.2 164.8l.1.1M463.4 165.8l.1.1M469.5 168.9l.1.1M475.7 173.7l.1.1M481.9 180.2l.1.1M488.0 188.3l.1.1M494.2 197.7l.1.1M500.3 206.9l.1.1M506.5 216.9l.1.1M512.7 227.3l.1.1M518.8 233.8l.1.1M525.0 233.4l.1.1M531.1 223.5l.1.1M537.3 183.1l.1.1M543.5 119.1l.1.1M549.6 137.9l.1.1M555.8 199.6l.1.1M561.9 197.4l.1.1M568.1 238.6l.1.1M574.2 255.3l.1.1M580.4 417.7l.1.1M586.6 315.2l.1.1M592.7 272.7l.1.1M598.9 198.6l.1.1M605.1 403.4l.1.1M611.2 275.6l.1.1M617.4 438.7l.1.1M623.5 374.8l.1.1M629.7 306.6l.1.1M635.9 310.7l.1.1M642.0 303.7l.1.1M648.2 204.6l.1.1M654.3 273.7l.1.1M660.5 425.1l.1.1M666.6 107.2l.1.1M672.8 432.6l.1.1M679.0 200.7l.1.1M685.1 446.2l.1.1M691.3 203.0l.1.1M697.5 327.6l.1.1"/>
<path stroke="#008000" d="M81.5 256.5l.1.1M87.6 253.9l.1.1M93.8 251.0l.1.1M99.9 247.8l.1.1M106.1 244.5l.1.1M112.2 241.3l.1.1M118.4 238.3l.1.1M124.6 235.7l.1.1M130.7 233.3l.1.1M136.9 231.1l.1.1M143.0 229.2l.1.1M149.2 227.4l.1.1M155.4 225.7l.1.1M161.5 224.1l.1.1M167.7 222.5l.1.1M173.8 221.0l.1.1M180.0 219.5l.1.1M186.2 218.1l.1.1M192.3 216.8l.1.1M198.5 215.4l.1.1M204.6 214.1l.1.1M210.8 212.9l.1.1M217.0 211.6l.1.1M223.1 210.4l.1.1M229.3 209.3l.1.1M235.4 208.1l.1.1M241.6 207.0l.1.1M247.8 205.8l.1.1M253.9 204.8l.1.1M260.1 203.7l.1.1M266.2 202.6l.1.1M272.4 201.6l.1.1M278.6 200.6l.1.1M284.7 199.6l.1.1M290.9 198.6l.1.1M297.1 197.6l.1.1M303.2 196.6l.1.1M309.4 195.7l.1.1M315.5 194.7l.1.1M321.7 193.8l.1.1M327.8 192.9l.1.1M334.0 192.0l.1.1M340.2 191.2l.1.1M346.3 190.3l.1.1M352.5 189.6l.1.1M358.6 188.8l.1.1M364.8 188.1l.1.1M371.0 187.5l.1.1M377.1 186.8l.1.1M383.3 186.1l.1.1M389.4 185.2l.1.1M395.6 184.1l.1.1M401.8 182.6l.1.1M407.9 180.4l.1.1M414.1 177.5l.1.1M420.2 174.0l.1.1M426.4 170.0l.1.1M432.6 165.9l.1.1M438.7 162.0l.1.1M444.9 158.4l.1.1M451.0 154.9l.1.1M457.2 151.5l.1.1M463.4 148.8l.1.1M469.5 147.4l.1.1M475.7 148.0l.1.1M481.9 151.1l.1.1M488.0 157.3l.1.1M494.2 166.7l.1.1M500.3 177.5l.1.1M506.5 190.8l.1.1M512.7 205.6l.1.1M518.8 218.9l.1.1M525.0 234.5l.1.1M531.1 238.1l.1.1M537.3 242.9l.1.1M543.5 185.5l.1.1M549.6 116.1l.1.1M555.8 161.5l.1.1M561.9 157.8l.1.1M568.1 220.1l.1.1M574.2 248.2l.1.1M580.4 303.8l.1.1M586.6 349.0l.1.1M592.7 278.3l.1.1M598.9 155.2l.1.1M605.1 435.4l.1.1M611.2 283.5l.1.1M617.4 379.9l.1.1M623.5 429.6l.1.1M629.7 338.2l.1.1M635.9 323.0l.1.1M642.0 330.3l.1.1M648.2 299.3l.1.1M654.3 280.5l.1.1M660.5 440.0l.1.1M666.6 336.0l.1.1M672.8 365.6l.1.1M679.0 156.6l.1.1M685.1 207.0l.1.1M691.3 152.4l.1.1M697.5 378.7l.1.1"/>
<path stroke="#ff0000" d="M81.5 256.5l.1.1M87.6 253.9l.1.1M93.8 251.0l.1.1M99.9 247.7l.1.1M106.1 244.4l.1.1M112.2 241.2l.1.1M118.4 238.2l.1.1M124.6 235.6l.1.1M130.7 233.2l.1.1M136.9 231.1l.1.1M143.0 229.2l.1.1M149.2 227.4l.1.1M155.4 225.7l.1.1M161.5 224.1l.1.1M167.7 222.5l.1.1M173.8 221.0l.1.1M180.0 219.5l.1.1M186.2 218.1l.1.1M192.3 216.8l.1.1M198.5 215.4l.1.1M204.6 214.1l.1.1M210.8 212.9l.1.1M217.0 211.6l.1.1M223.1 210.4l.1.1M229.3 209.3l.1.1M235.4 208.1l.1.1M241.6 207.0l.1.1M247.8 205.8l.1.1M253.9 204.8l.1.1M260.1 203.7l.1.1M266.2 202.6l.1.1M272.4 201.6l.1.1M278.6 200.6l.1.1M284.7 199.6l.1.1M290.9 198.6l.1.1M297.1 197.6l.1.1M303.2 196.6l.1.1M309.4 195.7l.1.1M315.5 194.8l.1.1M321.7 193.8l.1.1M327.8 192.9l.1.1M334.0 192.1l.1.1M340.2 191.2l.1.1M346.3 190.4l.1.1M352.5 189.6l.1.1M358.6 188.8l.1.1M364.8 187.9l.1.1M371.0 187.0l.1.1M377.1 186.1l.1.1M383.3 184.9l.1.1M389.4 183.6l.1.1M395.6 182.0l.1.1M401.8 180.0l.1.1M407.9 177.7l.1.1M414.1 175.4l.1.1M420.2 173.3l.1.1M426.4 171.9l.1.1M432.6 171.5l.1.1M438.7 171.9l.1.1M444.9 172.3l.1.1M451.0 171.7l.1.1M457.2 169.3l.1.1M463.4 164.4l.1.1M469.5 157.1l.1.1M475.7 149.1l.1.1M481.9 142.1l.1.1M488.0 138.0l.1.1M494.2 138.8l.1.1M500.3 144.8l.1.1M506.5 156.9l.1.1M512.7 174.2l.1.1M518.8 192.3l.1.1M525.0 215.6l.1.1M531.1 222.2l.1.1M537.3 236.9l.1.1M543.5 246.0l.1.1M549.6 180.3l.1.1M555.8 120.9l.1.1M561.9 116.9l.1.1M568.1 190.3l.1.1M574.2 236.0l.1.1M580.4 272.4l.1.1M586.6 396.1l.1.1M592.7 287.9l.1.1M598.9 106.3l.1.1M605.1 340.5l.1.1M611.2 297.4l.1.1M617.4 233.2l.1.1M623.5 422.4l.1.1M629.7 387.7l.1.1M635.9 363.5l.1.1M642.0 377.2l.1.1M648.2 324.5l.1.1M654.3 293.1l.1.1M660.5 279.3l.1.1M666.6 282.5l.1.1M672.8 261.3l.1.1M679.0 92.8l.1.1M685.1 282.1l.1.1M691.3 82.7l.1.1M697.5 449.8l.1.1"/>
<path stroke="#00bfbf" d="M81.5 256.6l.1.1M87.6 253.9l.1.1M93.8 250.9l.1.1M99.9 247.6l.1.1M106.1 244.3l.1.1M112.2 241.1l.1.1M118.4 238.1l.1.1M124.6 235.5l.1.1M130.7 233.2l.1.1M136.9 231.1l.1.1M143.0 229.2l.1.1M149.2 227.4l.1.1M155.4 225.7l.1.1M161.5 224.1l.1.1M167.7 222.5l.1.1M173.8 221.0l.1.1M180.0 219.5l.1.1M186.2 218.1l.1.1M192.3 216.8l.1.1M198.5 215.4l.1.1M204.6 214.1l.1.1M210.8 212.9l.1.1M217.0 211.6l.1.1M223.1 210.4l.1.1M229.3 209.3l.1.1M235.4 208.1l.1.1M241.6 207.0l.1.1M247.8 205.8l.1.1M253.9 204.8l.1.1M260.1 203.7l.1.1M266.2 202.6l.1.1M272.4 201.6l.1.1M278.6 200.6l.1.1M284.7 199.6l.1.1M290.9 198.6l.1.1M297.1 197.6l.1.1M303.2 196.6l.1.1M309.4 195.7l.1.1M315.5 194.8l.1.1M321.7 193.9l.1.1M327.8 193.0l.1.1M334.0 192.1l.1.1M340.2 191.2l.1.1M346.3 190.3l.1.1M352.5 189.5l.1.1M358.6 188.5l.1.1M364.8 187.6l.1.1M371.0 186.5l.1.1M377.1 185.4l.1.1M383.3 184.2l.1.1M389.4 182.9l.1.1M395.6 181.5l.1.1M401.8 180.2l.1.1M407.9 179.3l.1.1M414.1 179.2l.1.1M420.2 180.4l.1.1M426.4 183.1l.1.1M432.6 187.0l.1.1M438.7 191.6l.1.1M444.9 196.0l.1.1M451.0 199.7l.1.1M457.2 202.2l.1.1M463.4 202.5l.1.1M469.5 199.7l.1.1M475.7 192.6l.1.1M481.9 181.0l.1.1M488.0 164.9l.1.1M494.2 147.7l.1.1M500.3 135.5l.1.1M506.5 131.4l.1.1M512.7 139.6l.1.1M518.8 156.8l.1.1M525.0 187.0l.1.1M531.1 196.2l.1.1M537.3 218.5l.1.1M543.5 240.0l.1.1M549.6 249.7l.1.1M555.8 128.6l.1.1M561.9 131.9l.1.1M568.1 147.7l.1.1M574.2 215.5l.1.1M580.4 277.6l.1.1M586.6 428.8l.1.1M592.7 304.4l.1.1M598.9 120.4l.1.1M605.1 250.2l.1.1M611.2 321.4l.1.1M617.4 233.2l.1.1M623.5 254.0l.1.1M629.7 440.3l.1.1M635.9 420.4l.1.1M642.0 435.7l.1.1M648.2 368.9l.1.1M654.3 315.8l.1.1M660.5 262.6l.1.1M666.6 293.0l.1.1M672.8 260.2l.1.1M679.0 84.5l.1.1M685.1 295.6l.1.1M691.3 82.9l.1.1M697.5 450.0l.1.1"/>
<path stroke="#bf00bf" d="M81.5 256.6l.1.1M87.6 253.9l.1.1M93.8 250.9l.1.1M99.9 247.5l.1.1M106.1 244.2l.1.1M112.2 240.9l.1.1M118.4 238.0l.1.1M124.6 235.5l.1.1M130.7 233.2l.1.1M136.9 231.1l.1.1M143.0 229.2l.1.1M149.2 227.4l.1.1M155.4 225.7l.1.1M161.5 224.1l.1.1M167.7 222.5l.1.1M173.8 221.0l.1.1M180.0 219.5l.1.1M186.2 218.1l.1.1M192.3 216.8l.1.1M198.5 215.4l.1.1M204.6 214.1l.1.1M210.8 212.9l.1.1M217.0 211.6l.1.1M223.1 210.4l.1.1M229.3 209.3l.1.1M235.4 208.1l.1.1M241.6 207.0l.1.1M247.8 205.8l.1.1M253.9 204.8l.1.1M260.1 203.7l.1.1M266.2 202.6l.1.1M272.4 201.6l.1.1M278.6 200.6l.1.1M284.7 199.6l.1.1M290.9 198.6l.1.1M297.1 197.6l.1.1M303.2 196.6l.1.1M309.4 195.7l.1.1M315.5 194.8l.1.1M321.7 193.9l.1.1M327.8 193.0l.1.1M334.0 192.1l.1.1M340.2 191.2l.1.1M346.3 190.2l.1.1M352.5 189.3l.1.1M358.6 188.4l.1.1M364.8 187.4l.1.1M371.0 186.4l.1.1M377.1 185.4l.1.1M383.3 184.4l.1.1M389.4 183.6l.1.1M395.6 182.9l.1.1M401.8 182.8l.1.1M407.9 183.5l.1.1M414.1 185.1l.1.1M420.2 187.6l.1.1M426.4 190.6l.1.1M432.6 193.8l.1.1M438.7 196.8l.1.1M444.9 199.7l.1.1M451.0 202.8l.1.1M457.2 206.3l.1.1M463.4 210.2l.1.1M469.5 213.9l.1.1M475.7 216.9l.1.1M481.9 218.4l.1.1M488.0 216.1l.1.1M494.2 205.4l.1.1M500.3 185.1l.1.1M506.5 156.4l.1.1M512.7 132.4l.1.1M518.8 127.7l.1.1M525.0 150.0l.1.1M531.1 160.0l.1.1M537.3 190.2l.1.1M543.5 223.2l.1.1M549.6 245.5l.1.1M555.8 229.3l.1.1M561.9 240.0l.1.1M568.1 110.3l.1.1M574.2 182.7l.1.1M580.4 286.4l.1.1M586.6 355.7l.1.1M592.7 332.2l.1.1M598.9 263.6l.1.1M605.1 242.5l.1.1M611.2 360.6l.1.1M617.4 208.6l.1.1M623.5 263.4l.1.1M629.7 398.0l.1.1M635.9 441.6l.1.1M642.0 426.5l.1.1M648.2 429.2l.1.1M654.3 355.3l.1.1M660.5 259.8l.1.1M666.6 316.6l.1.1M672.8 255.5l.1.1M679.0 300.3l.1.1M685.1 321.8l.1.1M691.3 343.0l.1.1M697.5 179.9l.1.1"/>
<path stroke="#bfbf00" d="M81.5 256.7l.1.1M87.6 253.9l.1.1M93.8 250.8l.1.1M99.9 247.4l.1.1M106.1 244.0l.1.1M112.2 240.8l.1.1M118.4 238.0l.1.1M124.6 235.4l.1.1M130.7 233.1l.1.1M136.9 231.1l.1.1M143.0 229.2l.1.1M149.2 227.4l.1.1M155.4 225.7l.1.1M161.5 224.1l.1.1M167.7 222.5l.1.1M173.8 221.0l.1.1M180.0 219.5l.1.1M186.2 218.1l.1.1M192.3 216.8l.1.1M198.5 215.4l.1.1M204.6 214.1l.1.1M210.8 212.9l.1.1M217.0 211.6l.1.1M223.1 210.4l.1.1M229.3 209.3l.1.1M235.4 208.1l.1.1M241.6 207.0l.1.1M247.8 205.8l.1.1M253.9 204.8l.1.1M260.1 203.7l.1.1M266.2 202.6l.1.1M272.4 201.6l.1.1M278.6 200.6l.1.1M284.7 199.6l.1.1M290.9 198.6l.1.1M297.1 197.6l.1.1M303.2 196.6l.1.1M309.4 195.7l.1.1M315.5 194.8l.1.1M321.7 193.8l.1.1M327.8 192.9l.1.1M334.0 192.0l.1.1M340.2 191.1l.1.1M346.3 190.2l.1.1M352.5 189.3l.1.1M358.6 188.4l.1.1M364.8 187.5l.1.1M371.0 186.6l.1.1M377.1 185.9l.1.1M383.3 185.3l.1.1M389.4 184.9l.1.1M395.6 184.8l.1.1M401.8 185.2l.1.1M407.9 185.9l.1.1M414.1 186.8l.1.1M420.2 187.5l.1.1M426.4 187.5l.1.1M432.6 187.0l.1.1M438.7 186.2l.1.1M444.9 186.0l.1.1M451.0 186.8l.1.1M457.2 189.1l.1.1M463.4 193.1l.1.1M469.5 198.5l.1.1M475.7 204.9l.1.1M481.9 212.0l.1.1M488.0 219.0l.1.1M494.2 224.1l.1.1M500.3 226.7l.1.1M506.5 221.0l.1.1M512.7 191.8l.1.1M518.8 150.8l.1.1M525.0 124.3l.1.1M531.1 125.9l.1.1M537.3 152.0l.1.1M543.5 196.9l.1.1M549.6 231.8l.1.1M555.8 248.5l.1.1M561.9 251.6l.1.1M568.1 149.0l.1.1M574.2 137.6l.1.1M580.4 301.6l.1.1M586.6 258.0l.1.1M592.7 374.9l.1.1M598.9 264.7l.1.1M605.1 224.9l.1.1M611.2 413.3l.1.1M617.4 168.3l.1.1M623.5 261.7l.1.1M629.7 224.7l.1.1M635.9 290.7l.1.1M642.0 234.9l.1.1M648.2 442.1l.1.1M654.3 414.4l.1.1M660.5 255.2l.1.1M666.6 357.5l.1.1M672.8 247.0l.1.1M679.0 254.6l.1.1M685.1 367.9l.1.1M691.3 241.1l.1.1M697.5 296.0l.1.1"/>
<path stroke="#404040" d="M81.5 256.7l.1.1M87.6 253.9l.1.1M93.8 250.8l.1.1M99.9 247.3l.1.1M106.1 243.9l.1.1M112.2 240.7l.1.1M118.4 237.9l.1.1M124.6 235.4l.1.1M130.7 233.1l.1.1M136.9 231.1l.1.1M143.0 229.2l.1.1M149.2 227.4l.1.1M155.4 225.7l.1.1M161.5 224.1l.1.1M167.7 222.5l.1.1M173.8 221.0l.1.1M180.0 219.5l.1.1M186.2 218.1l.1.1M192.3 216.8l.1.1M198.5 215.4l.1.1M204.6 214.1l.1.1M210.8 212.9l.1.1M217.0 211.6l.1.1M223.1 210.4l.1.1M229.3 209.3l.1.1M235.4 208.1l.1.1M241.6 207.0l.1.1M247.8 205.8l.1.1M253.9 204.8l.1.1M260.1 203.7l.1.1M266.2 202.6l.1.1M272.4 201.6l.1.1M278.6 200.6l.1.1M284.7 199.6l.1.1M290.9 198.6l.1.1M297.1 197.6l.1.1M303.2 196.6l.1.1M309.4 195.7l.1.1M315.5 194.8l.1.1M321.7 193.8l.1.1M327.8 192.9l.1.1M334.0 192.0l.1.1M340.2 191.1l.1.1M346.3 190.2l.1.1M352.5 189.3l.1.1M358.6 188.5l.1.1M364.8 187.7l.1.1M371.0 187.0l.1.1M377.1 186.4l.1.1M383.3 185.9l.1.1M389.4 185.6l.1.1M395.6 185.4l.1.1M401.8 185.1l.1.1M407.9 184.6l.1.1M414.1 183.4l.1.1M420.2 181.3l.1.1M426.4 178.2l.1.1M432.6 174.5l.1.1M438.7 170.7l.1.1M444.9 167.5l.1.1M451.0 165.7l.1.1M457.2 165.7l.1.1M463.4 167.9l.1.1M469.5 172.6l.1.1M475.7 179.4l.1.1M481.9 188.1l.1.1M488.0 197.9l.1.1M494.2 207.7l.1.1M500.3 218.2l.1.1M506.5 227.4l.1.1M512.7 232.1l.1.1M518.8 224.2l.1.1M525.0 161.3l.1.1M531.1 140.5l.1.1M537.3 120.9l.1.1M543.5 159.5l.1.1M549.6 209.9l.1.1M555.8 237.1l.1.1M561.9 241.4l.1.1M568.1 257.7l.1.1M574.2 106.5l.1.1M580.4 326.8l.1.1M586.6 255.9l.1.1M592.7 422.5l.1.1M598.9 264.1l.1.1M605.1 195.6l.1.1M611.2 434.2l.1.1M617.4 114.3l.1.1M623.5 258.8l.1.1M629.7 236.7l.1.1M635.9 258.2l.1.1M642.0 261.9l.1.1M648.2 259.5l.1.1M654.3 454.8l.1.1M660.5 246.6l.1.1M666.6 419.2l.1.1M672.8 231.4l.1.1M679.0 244.3l.1.1M685.1 435.2l.1.1M691.3 226.0l.1.1M697.5 312.8l.1.1"/>
<path stroke="#0000ff" d="M81.5 256.8l.1.1M87.6 253.9l.1.1M93.8 250.7l.1.1M99.9 247.3l.1.1M106.1 243.8l.1.1M112.2 240.7l.1.1M118.4 237.8l.1.1M124.6 235.3l.1.1M130.7 233.1l.1.1M136.9 231.0l.1.1M143.0 229.2l.1.1M149.2 227.4l.1.1M155.4 225.7l.1.1M161.5 224.1l.1.1M167.7 222.5l.1.1M173.8 221.0l.1.1M180.0 219.5l.1.1M186.2 218.1l.1.1M192.3 216.8l.1.1M198.5 215.4l.1.1M204.6 214.1l.1.1M210.8 212.9l.1.1M217.0 211.6l.1.1M223.1 210.4l.1.1M229.3 209.3l.1.1M235.4 208.1l.1.1M241.6 207.0l.1.1M247.8 205.8l.1.1M253.9 204.8l.1.1M260.1 203.7l.1.1M266.2 202.6l.1.1M272.4 201.6l.1.1M278.6 200.6l.1.1M284.7 199.6l.1.1M290.9 198.6l.1.1M297.1 197.6l.1.1M303.2 196.6l.1.1M309.4 195.7l.1.1M315.5 194.8l.1.1M321.7 193.8l.1.1M327.8 192.9l.1.1M334.0 192.0l.1.1M340.2 191.1l.1.1M346.3 190.3l.1.1M352.5 189.4l.1.1M358.6 188.6l.1.1M364.8 187.9l.1.1M371.0 187.2l.1.1M377.1 186.5l.1.1M383.3 185.9l.1.1M389.4 185.2l.1.1M395.6 184.3l.1.1M401.8 183.1l.1.1M407.9 181.2l.1.1M414.1 178.5l.1.1M420.2 174.9l.1.1M426.4 170.8l.1.1M432.6 166.6l.1.1M438.7 162.5l.1.1M444.9 158.7l.1.1M451.0 155.0l.1.1M457.2 151.6l.1.1M463.4 149.3l.1.1M469.5 149.1l.1.1M475.7 152.0l.1.1M481.9 158.4l.1.1M488.0 168.0l.1.1M494.2 179.6l.1.1M500.3 193.5l.1.1M506.5 207.5l.1.1M512.7 221.6l.1.1M518.8 232.7l.1.1M525.0 233.4l.1.1M531.1 222.9l.1.1M537.3 151.9l.1.1M543.5 122.6l.1.1M549.6 176.6l.1.1M555.8 218.1l.1.1M561.9 225.0l.1.1M568.1 258.7l.1.1M574.2 171.8l.1.1M580.4 365.9l.1.1M586.6 248.6l.1.1M592.7 408.7l.1.1M598.9 263.1l.1.1M605.1 150.3l.1.1M611.2 308.6l.1.1M617.4 95.3l.1.1M623.5 253.6l.1.1M629.7 214.9l.1.1M635.9 251.5l.1.1M642.0 258.8l.1.1M648.2 266.9l.1.1M654.3 320.5l.1.1M660.5 230.9l.1.1M666.6 459.3l.1.1M672.8 202.9l.1.1M679.0 226.4l.1.1M685.1 460.2l.1.1M691.3 191.8l.1.1M697.5 353.4l.1.1"/>
<path stroke="#008000" d="M81.5 256.8l.1.1M87.6 253.9l.1.1M93.8 250.7l.1.1M99.9 247.2l.1.1M106.1 243.7l.1.1M112.2 240.6l.1.1M118.4 237.8l.1.1M124.6 235.3l.1.1M130.7 233.1l.1.1M136.9 231.0l.1.1M143.0 229.2l.1.1M149.2 227.4l.1.1M155.4 225.7l.1.1M161.5 224.1l.1.1M167.7 222.5l.1.1M173.8 221.0l.1.1M180.0 219.5l.1.1M186.2 218.1l.1.1M192.3 216.8l.1.1M198.5 215.4l.1.1M204.6 214.1l.1.1M210.8 212.9l.1.1M217.0 211.6l.1.1M223.1 210.4l.1.1M229.3 209.3l.1.1M235.4 208.1l.1.1M241.6 207.0l.1.1M247.8 205.8l.1.1M253.9 204.8l.1.1M260.1 203.7l.1.1M266.2 202.6l.1.1M272.4 201.6l.1.1M278.6 200.6l.1.1M284.7 199.6l.1.1M290.9 198.6l.1.1M297.1 197.6l.1.1M303.2 196.6l.1.1M309.4 195.7l.1.1M315.5 194.8l.1.1M321.7 193.8l.1.1M327.8 192.9l.1.1M334.0 192.0l.1.1M340.2 191.2l.1.1M346.3 190.3l.1.1M352.5 189.5l.1.1M358.6 188.7l.1.1M364.8 187.9l.1.1M371.0 187.1l.1.1M377.1 186.2l.1.1M383.3 185.2l.1.1M389.4 184.1l.1.1M395.6 182.8l.1.1M401.8 181.0l.1.1M407.9 178.8l.1.1M414.1 176.4l.1.1M420.2 174.1l.1.1M426.4 172.6l.1.1M432.6 172.2l.1.1M438.7 172.6l.1.1M444.9 172.9l.1.1M451.0 171.6l.1.1M457.2 168.0l.1.1M463.4 161.5l.1.1M469.5 153.2l.1.1M475.7 145.2l.1.1M481.9 140.4l.1.1M488.0 141.2l.1.1M494.2 147.9l.1.1M500.3 160.8l.1.1M506.5 177.5l.1.1M512.7 196.9l.1.1M518.8 214.3l.1.1M525.0 234.5l.1.1M531.1 238.2l.1.1M537.3 236.2l.1.1M543.5 136.2l.1.1M549.6 135.1l.1.1M555.8 188.2l.1.1M561.9 198.3l.1.1M568.1 253.6l.1.1M574.2 265.2l.1.1M580.4 412.6l.1.1M586.6 236.4l.1.1M592.7 271.9l.1.1M598.9 261.4l.1.1M605.1 101.5l.1.1M611.2 258.9l.1.1M617.4 230.9l.1.1M623.5 244.4l.1.1M629.7 177.3l.1.1M635.9 240.5l.1.1M642.0 253.5l.1.1M648.2 268.4l.1.1M654.3 231.7l.1.1M660.5 202.7l.1.1M666.6 305.6l.1.1M672.8 154.1l.1.1M679.0 193.6l.1.1M685.1 241.0l.1.1M691.3 134.4l.1.1M697.5 418.6l.1.1"/>
<path stroke="#ff0000" d="M81.5 256.8l.1.1M87.6 253.9l.1.1M93.8 250.6l.1.1M99.9 247.1l.1.1M106.1 243.7l.1.1M112.2 240.5l.1.1M118.4 237.7l.1.1M124.6 235.2l.1.1M130.7 233.0l.1.1M136.9 231.0l.1.1M143.0 229.1l.1.1M149.2 227.4l.1.1M155.4 225.7l.1.1M161.5 224.1l.1.1M167.7 222.5l.1.1M173.8 221.0l.1.1M180.0 219.5l.1.1M186.2 218.1l.1.1M192.3 216.8l.1.1M198.5 215.4l.1.1M204.6 214.1l.1.1M210.8 212.9l.1.1M217.0 211.6l.1.1M223.1 210.4l.1.1M229.3 209.3l.1.1M235.4 208.1l.1.1M241.6 207.0l.1.1M247.8 205.8l.1.1M253.9 204.8l.1.1M260.1 203.7l.1.1M266.2 202.6l.1.1M272.4 201.6l.1.1M278.6 200.6l.1.1M284.7 199.6l.1.1M290.9 198.6l.1.1M297.1 197.6l.1.1M303.2 196.6l.1.1M309.4 195.7l.1.1M315.5 194.8l.1.1M321.7 193.8l.1.1M327.8 192.9l.1.1M334.0 192.0l.1.1M340.2 191.2l.1.1M346.3 190.3l.1.1M352.5 189.5l.1.1M358.6 188.6l.1.1M364.8 187.7l.1.1M371.0 186.8l.1.1M377.1 185.8l.1.1M383.3 184.7l.1.1M389.4 183.5l.1.1M395.6 182.1l.1.1M401.8 180.7l.1.1M407.9 179.6l.1.1M414.1 179.2l.1.1M420.2 180.1l.1.1M426.4 182.7l.1.1M432.6 186.7l.1.1M438.7 191.5l.1.1M444.9 196.0l.1.1M451.0 199.5l.1.1M457.2 201.2l.1.1M463.4 200.0l.1.1M469.5 194.2l.1.1M475.7 182.8l.1.1M481.9 166.4l.1.1M488.0 149.0l.1.1M494.2 137.1l.1.1M500.3 134.5l.1.1M506.5 143.7l.1.1M512.7 163.1l.1.1M518.8 185.7l.1.1M525.0 215.6l.1.1M531.1 222.3l.1.1M537.3 240.7l.1.1M543.5 227.7l.1.1M549.6 117.0l.1.1M555.8 146.8l.1.1M561.9 159.0l.1.1M568.1 245.3l.1.1M574.2 265.2l.1.1M580.4 416.4l.1.1M586.6 215.7l.1.1M592.7 268.0l.1.1M598.9 258.5l.1.1M605.1 127.0l.1.1M611.2 253.9l.1.1M617.4 271.0l.1.1M623.5 228.1l.1.1M629.7 122.6l.1.1M635.9 220.8l.1.1M642.0 243.8l.1.1M648.2 270.9l.1.1M654.3 204.6l.1.1M660.5 155.0l.1.1M666.6 236.8l.1.1M672.8 88.5l.1.1M679.0 138.7l.1.1M685.1 281.9l.1.1M691.3 67.5l.1.1M697.5 473.2l.1.1"/>
<path stroke="#00bfbf" d="M81.5 256.9l.1.1M87.6 253.9l.1.1M93.8 250.6l.1.1M99.9 247.0l.1.1M106.1 243.6l.1.1M112.2 240.4l.1.1M118.4 237.7l.1.1M124.6 235.2l.1.1M130.7 233.0l.1.1M136.9 231.0l.1.1M143.0 229.1l.1.1M149.2 227.4l.1.1M155.4 225.7l.1.1M161.5 224.1l.1.1M167.7 222.5l.1.1M173.8 221.0l.1.1M180.0 219.5l.1.1M186.2 218.1l.1.1M192.3 216.8l.1.1M198.5 215.4l.1.1M204.6 214.1l.1.1M210.8 212.9l.1.1M217.0 211.6l.1.1M223.1 210.4l.1.1M229.3 209.3l.1.1M235.4 208.1l.1.1M241.6 207.0l.1.1M247.8 205.8l.1.1M253.9 204.8l.1.1M260.1 203.7l.1.1M266.2 202.6l.1.1M272.4 201.6l.1.1M278.6 200.6l.1.1M284.7 199.6l.1.1M290.9 198.6l.1.1M297.1 197.6l.1.1M303.2 196.6l.1.1M309.4 195.7l.1.1M315.5 194.8l.1.1M321.7 193.8l.1.1M327.8 192.9l.1.1M334.0 192.0l.1.1M340.2 191.2l.1.1M346.3 190.3l.1.1M352.5 189.4l.1.1M358.6 188.5l.1.1M364.8 187.6l.1.1M371.0 186.6l.1.1M377.1 185.6l.1.1M383.3 184.6l.1.1M389.4 183.7l.1.1M395.6 182.8l.1.1M401.8 182.4l.1.1M407.9 182.7l.1.1M414.1 184.0l.1.1M420.2 186.4l.1.1M426.4 189.5l.1.1M432.6 192.8l.1.1M438.7 196.0l.1.1M444.9 199.2l.1.1M451.0 202.7l.1.1M457.2 206.6l.1.1M463.4 210.7l.1.1M469.5 214.2l.1.1M475.7 216.1l.1.1M481.9 213.8l.1.1M488.0 202.6l.1.1M494.2 181.2l.1.1M500.3 152.8l.1.1M506.5 132.9l.1.1M512.7 132.1l.1.1M518.8 149.5l.1.1M525.0 187.0l.1.1M531.1 196.3l.1.1M537.3 224.8l.1.1M543.5 243.2l.1.1M549.6 188.0l.1.1M555.8 113.9l.1.1M561.9 117.7l.1.1M568.1 231.3l.1.1M574.2 265.0l.1.1M580.4 300.5l.1.1M586.6 182.0l.1.1M592.7 270.3l.1.1M598.9 253.3l.1.1M605.1 277.1l.1.1M611.2 245.0l.1.1M617.4 275.8l.1.1M623.5 199.8l.1.1M629.7 85.6l.1.1M635.9 186.7l.1.1M642.0 226.4l.1.1M648.2 275.5l.1.1M654.3 158.7l.1.1M660.5 92.1l.1.1M666.6 210.3l.1.1M672.8 88.7l.1.1M679.0 73.9l.1.1M685.1 298.9l.1.1M691.3 128.1l.1.1M697.5 319.7l.1.1"/>
<path stroke="#bf00bf" d="M81.5 256.9l.1.1M87.6 253.9l.1.1M93.8 250.5l.1.1M99.9 246.9l.1.1M106.1 243.5l.1.1M112.2 240.4l.1.1M118.4 237.6l.1.1M124.6 235.2l.1.1M130.7 233.0l.1.1M136.9 231.0l.1.1M143.0 229.1l.1.1M149.2 227.4l.1.1M155.4 225.7l.1.1M161.5 224.1l.1.1M167.7 222.5l.1.1M173.8 221.0l.1.1M180.0 219.5l.1.1M186.2 218.1l.1.1M192.3 216.8l.1.1M198.5 215.4l.1.1M204.6 214.1l.1.1M210.8 212.9l.1.1M217.0 211.6l.1.1M223.1 210.4l.1.1M229.3 209.3l.1.1M235.4 208.1l.1.1M241.6 207.0l.1.1M247.8 205.8l.1.1M253.9 204.8l.1.1M260.1 203.7l.1.1M266.2 202.6l.1.1M272.4 201.6l.1.1M278.6 200.6l.1.1M284.7 199.6l.1.1M290.9 198.6l.1.1M297.1 197.6l.1.1M303.2 196.6l.1.1M309.4 195.7l.1.1M315.5 194.8l.1.1M321.7 193.8l.1.1M327.8 192.9l.1.1M334.0 192.0l.1.1M340.2 191.1l.1.1M346.3 190.2l.1.1M352.5 189.3l.1.1M358.6 188.4l.1.1M364.8 187.5l.1.1M371.0 186.7l.1.1M377.1 185.8l.1.1M383.3 185.1l.1.1M389.4 184.5l.1.1M395.6 184.2l.1.1M401.8 184.3l.1.1M407.9 184.9l.1.1M414.1 185.8l.1.1M420.2 186.6l.1.1M426.4 186.7l.1.1M432.6 186.2l.1.1M438.7 185.4l.1.1M444.9 185.4l.1.1M451.0 186.8l.1.1M457.2 190.0l.1.1M463.4 194.9l.1.1M469.5 201.4l.1.1M475.7 209.0l.1.1M481.9 216.5l.1.1M488.0 221.8l.1.1M494.2 223.7l.1.1M500.3 214.8l.1.1M506.5 184.7l.1.1M512.7 143.8l.1.1M518.8 126.3l.1.1M525.0 150.0l.1.1M531.1 160.2l.1.1M537.3 199.7l.1.1M543.5 229.1l.1.1M549.6 249.3l.1.1M555.8 155.7l.1.1M561.9 130.0l.1.1M568.1 208.1l.1.1M574.2 264.8l.1.1M580.4 272.8l.1.1M586.6 134.9l.1.1M592.7 273.9l.1.1M598.9 244.2l.1.1M605.1 271.7l.1.1M611.2 229.5l.1.1M617.4 283.8l.1.1M623.5 154.3l.1.1M629.7 196.0l.1.1M635.9 134.0l.1.1M642.0 195.8l.1.1M648.2 283.9l.1.1M654.3 97.0l.1.1M660.5 92.9l.1.1M666.6 166.8l.1.1M672.8 319.4l.1.1M679.0 121.3l.1.1M685.1 327.4l.1.1M691.3 377.1l.1.1M697.5 207.5l.1.1"/>
<path stroke="#bfbf00" d="M81.5 257.0l.1.1M87.6 253.9l.1.1M93.8 250.5l.1.1M99.9 246.9l.1.1M106.1 243.4l.1.1M112.2 240.3l.1.1M118.4 237.6l.1.1M124.6 235.2l.1.1M130.7 233.0l.1.1M136.9 231.0l.1.1M143.0 229.1l.1.1M149.2 227.4l.1.1M155.4 225.7l.1.1M161.5 224.1l.1.1M167.7 222.5l.1.1M173.8 221.0l.1.1M180.0 219.5l.1.1M186.2 218.1l.1.1M192.3 216.8l.1.1M198.5 215.4l.1.1M204.6 214.1l.1.1M210.8 212.9l.1.1M217.0 211.6l.1.1M223.1 210.4l.1.1M229.3 209.3l.1.1M235.4 208.1l.1.1M241.6 207.0l.1.1M247.8 205.8l.1.1M253.9 204.8l.1.1M260.1 203.7l.1.1M266.2 202.6l.1.1M272.4 201.6l.1.1M278.6 200.6l.1.1M284.7 199.6l.1.1M290.9 198.6l.1.1M297.1 197.6l.1.1M303.2 196.6l.1.1M309.4 195.7l.1.1M315.5 194.8l.1.1M321.7 193.8l.1.1M327.8 192.9l.1.1M334.0 192.0l.1.1M340.2 191.1l.1.1M346.3 190.2l.1.1M352.5 189.3l.1.1M358.6 188.5l.1.1M364.8 187.6l.1.1M371.0 186.9l.1.1M377.1 186.2l.1.1M383.3 185.6l.1.1M389.4 185.1l.1.1M395.6 184.8l.1.1M401.8 184.6l.1.1M407.9 184.2l.1.1M414.1 183.3l.1.1M420.2 181.4l.1.1M426.4 178.2l.1.1M432.6 174.3l.1.1M438.7 170.3l.1.1M444.9 167.2l.1.1M451.0 165.7l.1.1M457.2 166.6l.1.1M463.4 170.0l.1.1M469.5 176.3l.1.1M475.7 185.1l.1.1M481.9 195.6l.1.1M488.0 206.0l.1.1M494.2 216.9l.1.1M500.3 225.6l.1.1M506.5 229.3l.1.1M512.7 213.6l.1.1M518.8 165.1l.1.1M525.0 124.3l.1.1M531.1 126.0l.1.1M537.3 163.9l.1.1M543.5 206.1l.1.1M549.6 243.5l.1.1M555.8 250.8l.1.1M561.9 237.6l.1.1M568.1 172.2l.1.1M574.2 264.3l.1.1M580.4 278.4l.1.1M586.6 101.9l.1.1M592.7 280.2l.1.1M598.9 228.5l.1.1M605.1 277.0l.1.1M611.2 202.9l.1.1M617.4 298.2l.1.1M623.5 99.9l.1.1M629.7 293.2l.1.1M635.9 84.5l.1.1M642.0 146.3l.1.1M648.2 299.2l.1.1M654.3 90.0l.1.1M660.5 306.0l.1.1M666.6 103.6l.1.1M672.8 254.4l.1.1M679.0 360.5l.1.1M685.1 377.2l.1.1M691.3 349.0l.1.1M697.5 154.8l.1.1"/>
<path stroke="#404040" d="M81.5 257.0l.1.1M87.6 253.9l.1.1M93.8 250.4l.1.1M99.9 246.8l.1.1M106.1 243.4l.1.1M112.2 240.3l.1.1M118.4 237.6l.1.1M124.6 235.2l.1.1M130.7 233.0l.1.1M136.9 231.0l.1.1M143.0 229.1l.1.1M149.2 227.4l.1.1M155.4 225.7l.1.1M161.5 224.1l.1.1M167.7 222.5l.1.1M173.8 221.0l.1.1M180.0 219.5l.1.1M186.2 218.1l.1.1M192.3 216.8l.1.1M198.5 215.4l.1.1M204.6 214.1l.1.1M210.8 212.9l.1.1M217.0 211.6l.1.1M223.1 210.4l.1.1M229.3 209.3l.1.1M235.4 208.1l.1.1M241.6 207.0l.1.1M247.8 205.8l.1.1M253.9 204.8l.1.1M260.1 203.7l.1.1M266.2 202.6l.1.1M272.4 201.6l.1.1M278.6 200.6l.1.1M284.7 199.6l.1.1M290.9 198.6l.1.1M297.1 197.6l.1.1M303.2 196.6l.1.1M309.4 195.7l.1.1M315.5 194.8l.1.1M321.7 193.8l.1.1M327.8 192.9l.1.1M334.0 192.0l.1.1M340.2 191.1l.1.1M346.3 190.2l.1.1M352.5 189.4l.1.1M358.6 188.6l.1.1M364.8 187.8l.1.1M371.0 187.0l.1.1M377.1 186.3l.1.1M383.3 185.7l.1.1M389.4 185.0l.1.1M395.6 184.3l.1.1M401.8 183.3l.1.1M407.9 181.7l.1.1M414.1 179.2l.1.1M420.2 175.7l.1.1M426.4 171.5l.1.1M432.6 167.1l.1.1M438.7 162.9l.1.1M444.9 158.9l.1.1M451.0 155.1l.1.1M457.2 151.8l.1.1M463.4 150.1l.1.1M469.5 151.4l.1.1M475.7 156.9l.1.1M481.9 166.4l.1.1M488.0 178.2l.1.1M494.2 192.6l.1.1M500.3 206.7l.1.1M506.5 221.0l.1.1M512.7 231.0l.1.1M518.8 231.5l.1.1M525.0 161.3l.1.1M531.1 140.2l.1.1M537.3 126.8l.1.1M543.5 171.9l.1.1M549.6 228.7l.1.1M555.8 251.6l.1.1M561.9 251.3l.1.1M568.1 127.3l.1.1M574.2 263.6l.1.1M580.4 287.8l.1.1M586.6 174.1l.1.1M592.7 291.2l.1.1M598.9 201.8l.1.1M605.1 285.8l.1.1M611.2 160.2l.1.1M617.4 323.0l.1.1M623.5 110.9l.1.1M629.7 310.5l.1.1M635.9 155.1l.1.1M642.0 89.2l.1.1M648.2 326.3l.1.1M654.3 287.7l.1.1M660.5 260.4l.1.1M666.6 75.2l.1.1M672.8 245.6l.1.1M679.0 320.6l.1.1M685.1 445.5l.1.1M691.3 356.0l.1.1M697.5 82.0l.1.1"/>
<path stroke="#0000ff" d="M81.5 257.0l.1.1M87.6 253.9l.1.1M93.8 250.4l.1.1M99.9 246.7l.1.1M106.1 243.3l.1.1M112.2 240.2l.1.1M118.4 237.5l.1.1M124.6 235.1l.1.1M130.7 233.0l.1.1M136.9 231.0l.1.1M143.0 229.1l.1.1M149.2 227.4l.1.1M155.4 225.7l.1.1M161.5 224.1l.1.1M167.7 222.5l.1.1M173.8 221.0l.1.1M180.0 219.5l.1.1M186.2 218.1l.1.1M192.3 216.8l.1.1M198.5 215.4l.1.1M204.6 214.1l.1.1M210.8 212.9l.1.1M217.0 211.6l.1.1M223.1 210.4l.1.1M229.3 209.3l.1.1M235.4 208.1l.1.1M241.6 207.0l.1.1M247.8 205.8l.1.1M253.9 204.8l.1.1M260.1 203.7l.1.1M266.2 202.6l.1.1M272.4 201.6l.1.1M278.6 200.6l.1.1M284.7 199.6l.1.1M290.9 198.6l.1.1M297.1 197.6l.1.1M303.2 196.6l.1.1M309.4 195.7l.1.1M315.5 194.8l.1.1M321.7 193.8l.1.1M327.8 192.9l.1.1M334.0 192.0l.1.1M340.2 191.1l.1.1M346.3 190.3l.1.1M352.5 189.4l.1.1M358.6 188.6l.1.1M364.8 187.8l.1.1M371.0 187.0l.1.1M377.1 186.2l.1.1M383.3 185.4l.1.1M389.4 184.4l.1.1M395.6 183.2l.1.1M401.8 181.7l.1.1M407.9 179.7l.1.1M414.1 177.2l.1.1M420.2 174.9l.1.1M426.4 173.3l.1.1M432.6 173.0l.1.1M438.7 173.5l.1.1M444.9 173.6l.1.1M451.0 171.6l.1.1M457.2 166.7l.1.1M463.4 159.0l.1.1M469.5 150.0l.1.1M475.7 143.3l.1.1M481.9 142.3l.1.1M488.0 148.1l.1.1M494.2 160.8l.1.1M500.3 177.3l.1.1M506.5 196.8l.1.1M512.7 214.1l.1.1M518.8 231.2l.1.1M525.0 233.4l.1.1M531.1 222.6l.1.1M537.3 132.6l.1.1M543.5 131.8l.1.1M549.6 205.0l.1.1M555.8 241.6l.1.1M561.9 241.0l.1.1M568.1 112.5l.1.1M574.2 262.4l.1.1M580.4 303.9l.1.1M586.6 272.8l.1.1M592.7 310.1l.1.1M598.9 159.9l.1.1M605.1 301.2l.1.1M611.2 107.6l.1.1M617.4 363.7l.1.1M623.5 280.8l.1.1M629.7 344.7l.1.1M635.9 313.4l.1.1M642.0 119.1l.1.1M648.2 371.7l.1.1M654.3 260.6l.1.1M660.5 256.1l.1.1M666.6 258.3l.1.1M672.8 228.6l.1.1M679.0 338.4l.1.1M685.1 446.9l.1.1M691.3 396.8l.1.1M697.5 74.0l.1.1"/>
<path stroke="#008000" d="M81.5 257.1l.1.1M87.6 253.9l.1.1M93.8 250.4l.1.1M99.9 246.7l.1.1M106.1 243.2l.1.1M112.2 240.2l.1.1M118.4 237.5l.1.1M124.6 235.1l.1.1M130.7 233.0l.1.1M136.9 231.0l.1.1M143.0 229.1l.1.1M149.2 227.4l.1.1M155.4 225.7l.1.1M161.5 224.1l.1.1M167.7 222.5l.1.1M173.8 221.0l.1.1M180.0 219.5l.1.1M186.2 218.1l.1.1M192.3 216.8l.1.1M198.5 215.4l.1.1M204.6 214.1l.1.1M210.8 212.9l.1.1M217.0 211.6l.1.1M223.1 210.4l.1.1M229.3 209.3l.1.1M235.4 208.1l.1.1M241.6 207.0l.1.1M247.8 205.8l.1.1M253.9 204.8l.1.1M260.1 203.7l.1.1M266.2 202.6l.1.1M272.4 201.6l.1.1M278.6 200.6l.1.1M284.7 199.6l.1.1M290.9 198.6l.1.1M297.1 197.6l.1.1M303.2 196.6l.1.1M309.4 195.7l.1.1M315.5 194.8l.1.1M321.7 193.8l.1.1M327.8 192.9l.1.1M334.0 192.0l.1.1M340.2 191.1l.1.1M346.3 190.3l.1.1M352.5 189.4l.1.1M358.6 188.6l.1.1M364.8 187.7l.1.1M371.0 186.9l.1.1M377.1 186.0l.1.1M383.3 185.0l.1.1M389.4 183.9l.1.1M395.6 182.6l.1.1M401.8 181.2l.1.1M407.9 179.9l.1.1M414.1 179.3l.1.1M420.2 179.9l.1.1M426.4 182.5l.1.1M432.6 186.7l.1.1M438.7 191.6l.1.1M444.9 196.2l.1.1M451.0 199.4l.1.1M457.2 200.3l.1.1M463.4 197.3l.1.1M469.5 188.3l.1.1M475.7 172.5l.1.1M481.9 154.0l.1.1M488.0 140.4l.1.1M494.2 136.4l.1.1M500.3 144.7l.1.1M506.5 163.9l.1.1M512.7 186.0l.1.1M518.8 211.0l.1.1M525.0 234.5l.1.1M531.1 238.2l.1.1M537.3 217.2l.1.1M543.5 122.2l.1.1M549.6 169.7l.1.1M555.8 225.5l.1.1M561.9 224.4l.1.1M568.1 205.2l.1.1M574.2 260.2l.1.1M580.4 330.6l.1.1M586.6 274.9l.1.1M592.7 341.3l.1.1M598.9 110.0l.1.1M605.1 327.5l.1.1M611.2 107.0l.1.1M617.4 417.8l.1.1M623.5 268.9l.1.1M629.7 396.8l.1.1M635.9 318.7l.1.1M642.0 312.7l.1.1M648.2 432.1l.1.1M654.3 256.1l.1.1M660.5 248.4l.1.1M666.6 269.5l.1.1M672.8 198.0l.1.1M679.0 389.2l.1.1M685.1 198.0l.1.1M691.3 440.9l.1.1M697.5 348.9l.1.1"/>
<path stroke="#ff0000" d="M81.5 257.1l.1.1M87.6 253.9l.1.1M93.8 250.3l.1.1M99.9 246.6l.1.1M106.1 243.2l.1.1M112.2 240.1l.1.1M118.4 237.5l.1.1M124.6 235.1l.1.1M130.7 233.0l.1.1M136.9 231.0l.1.1M143.0 229.1l.1.1M149.2 227.4l.1.1M155.4 225.7l.1.1M161.5 224.1l.1.1M167.7 222.5l.1.1M173.8 221.0l.1.1M180.0 219.5l.1.1M186.2 218.1l.1.1M192.3 216.8l.1.1M198.5 215.4l.1.1M204.6 214.1l.1.1M210.8 212.9l.1.1M217.0 211.6l.1.1M223.1 210.4l.1.1M229.3 209.3l.1.1M235.4 208.1l.1.1M241.6 207.0l.1.1M247.8 205.8l.1.1M253.9 204.8l.1.1M260.1 203.7l.1.1M266.2 202.6l.1.1M272.4 201.6l.1.1M278.6 200.6l.1.1M284.7 199.6l.1.1M290.9 198.6l.1.1M297.1 197.6l.1.1M303.2 196.6l.1.1M309.4 195.7l.1.1M315.5 194.8l.1.1M321.7 193.8l.1.1M327.8 192.9l.1.1M334.0 192.0l.1.1M340.2 191.1l.1.1M346.3 190.3l.1.1M352.5 189.4l.1.1M358.6 188.5l.1.1M364.8 187.7l.1.1M371.0 186.7l.1.1M377.1 185.8l.1.1M383.3 184.8l.1.1M389.4 183.8l.1.1M395.6 182.9l.1.1M401.8 182.2l.1.1M407.9 182.2l.1.1M414.1 183.2l.1.1M420.2 185.4l.1.1M426.4 188.6l.1.1M432.6 192.0l.1.1M438.7 195.3l.1.1M444.9 198.7l.1.1M451.0 202.6l.1.1M457.2 206.9l.1.1M463.4 211.1l.1.1M469.5 214.0l.1.1M475.7 213.5l.1.1M481.9 204.5l.1.1M488.0 184.3l.1.1M494.2 155.8l.1.1M500.3 135.6l.1.1M506.5 134.1l.1.1M512.7 150.7l.1.1M518.8 181.0l.1.1M525.0 215.6l.1.1M531.1 222.3l.1.1M537.3 240.9l.1.1M543.5 199.7l.1.1M549.6 128.7l.1.1M555.8 199.7l.1.1M561.9 197.4l.1.1M568.1 256.8l.1.1M574.2 256.5l.1.1M580.4 371.3l.1.1M586.6 282.2l.1.1M592.7 387.4l.1.1M598.9 112.9l.1.1M605.1 369.4l.1.1M611.2 256.7l.1.1M617.4 434.2l.1.1M623.5 272.1l.1.1M629.7 444.2l.1.1M635.9 355.8l.1.1M642.0 286.8l.1.1M648.2 438.4l.1.1M654.3 248.4l.1.1M660.5 234.2l.1.1M666.6 273.8l.1.1M672.8 146.2l.1.1M679.0 451.5l.1.1M685.1 285.7l.1.1M691.3 387.6l.1.1M697.5 220.4l.1.1"/>
<path stroke="#00bfbf" d="M81.5 257.1l.1.1M87.6 253.9l.1.1M93.8 250.3l.1.1M99.9 246.6l.1.1M106.1 243.1l.1.1M112.2 240.1l.1.1M118.4 237.5l.1.1M124.6 235.1l.1.1M130.7 233.0l.1.1M136.9 231.0l.1.1M143.0 229.1l.1.1M149.2 227.4l.1.1M155.4 225.7l.1.1M161.5 224.1l.1.1M167.7 222.5l.1.1M173.8 221.0l.1.1M180.0 219.5l.1.1M186.2 218.1l.1.1M192.3 216.8l.1.1M198.5 215.4l.1.1M204.6 214.1l.1.1M210.8 212.9l.1.1M217.0 211.6l.1.1M223.1 210.4l.1.1M229.3 209.3l.1.1M235.4 208.1l.1.1M241.6 207.0l.1.1M247.8 205.8l.1.1M253.9 204.8l.1.1M260.1 203.7l.1.1M266.2 202.6l.1.1M272.4 201.6l.1.1M278.6 200.6l.1.1M284.7 199.6l.1.1M290.9 198.6l.1.1M297.1 197.6l.1.1M303.2 196.6l.1.1M309.4 195.7l.1.1M315.5 194.8l.1.1M321.7 193.8l.1.1M327.8 192.9l.1.1M334.0 192.0l.1.1M340.2 191.1l.1.1M346.3 190.3l.1.1M352.5 189.4l.1.1M358.6 188.5l.1.1M364.8 187.6l.1.1M371.0 186.7l.1.1M377.1 185.9l.1.1M383.3 185.0l.1.1M389.4 184.3l.1.1M395.6 183.8l.1.1M401.8 183.7l.1.1M407.9 184.1l.1.1M414.1 184.9l.1.1M420.2 185.8l.1.1M426.4 186.0l.1.1M432.6 185.4l.1.1M438.7 184.6l.1.1M444.9 184.7l.1.1M451.0 186.7l.1.1M457.2 190.8l.1.1M463.4 196.7l.1.1M469.5 204.2l.1.1M475.7 212.5l.1.1M481.9 219.0l.1.1M488.0 221.5l.1.1M494.2 213.7l.1.1M500.3 185.5l.1.1M506.5 145.5l.1.1M512.7 128.5l.1.1M518.8 144.7l.1.1M525.0 187.0l.1.1M531.1 196.4l.1.1M537.3 227.1l.1.1M543.5 245.0l.1.1M549.6 121.6l.1.1M555.8 161.6l.1.1M561.9 157.8l.1.1M568.1 251.9l.1.1M574.2 250.2l.1.1M580.4 417.0l.1.1M586.6 294.5l.1.1M592.7 429.3l.1.1M598.9 251.7l.1.1M605.1 420.8l.1.1M611.2 264.4l.1.1M617.4 294.5l.1.1M623.5 277.4l.1.1M629.7 372.6l.1.1M635.9 411.3l.1.1M642.0 303.0l.1.1M648.2 248.3l.1.1M654.3 234.4l.1.1M660.5 208.5l.1.1M666.6 280.9l.1.1M672.8 81.3l.1.1M679.0 415.0l.1.1M685.1 300.3l.1.1M691.3 238.2l.1.1M697.5 194.2l.1.1"/>
<path stroke="#bf00bf" d="M81.5 257.2l.1.1M87.6 253.9l.1.1M93.8 250.3l.1.1M99.9 246.5l.1.1M106.1 243.1l.1.1M112.2 240.1l.1.1M118.4 237.4l.1.1M124.6 235.1l.1.1M130.7 233.0l.1.1M136.9 231.0l.1.1M143.0 229.1l.1.1M149.2 227.4l.1.1M155.4 225.7l.1.1M161.5 224.1l.1.1M167.7 222.5l.1.1M173.8 221.0l.1.1M180.0 219.5l.1.1M186.2 218.1l.1.1M192.3 216.8l.1.1M198.5 215.4l.1.1M204.6 214.1l.1.1M210.8 212.9l.1.1M217.0 211.6l.1.1M223.1 210.4l.1.1M229.3 209.3l.1.1M235.4 208.1l.1.1M241.6 207.0l.1.1M247.8 205.8l.1.1M253.9 204.8l.1.1M260.1 203.7l.1.1M266.2 202.6l.1.1M272.4 201.6l.1.1M278.6 200.6l.1.1M284.7 199.6l.1.1M290.9 198.6l.1.1M297.1 197.6l.1.1M303.2 196.6l.1.1M309.4 195.7l.1.1M315.5 194.8l.1.1M321.7 193.8l.1.1M327.8 192.9l.1.1M334.0 192.0l.1.1M340.2 191.1l.1.1M346.3 190.3l.1.1M352.5 189.4l.1.1M358.6 188.5l.1.1M364.8 187.6l.1.1M371.0 186.8l.1.1M377.1 186.0l.1.1M383.3 185.3l.1.1M389.4 184.8l.1.1M395.6 184.4l.1.1M401.8 184.1l.1.1M407.9 183.9l.1.1M414.1 183.1l.1.1M420.2 181.3l.1.1M426.4 178.2l.1.1M432.6 174.0l.1.1M438.7 169.8l.1.1M444.9 166.8l.1.1M451.0 165.7l.1.1M457.2 167.4l.1.1M463.4 172.1l.1.1M469.5 180.0l.1.1M475.7 190.8l.1.1M481.9 202.0l.1.1M488.0 213.3l.1.1M494.2 223.0l.1.1M500.3 226.7l.1.1M506.5 211.4l.1.1M512.7 165.3l.1.1M518.8 126.8l.1.1M525.0 150.0l.1.1M531.1 160.3l.1.1M537.3 203.2l.1.1M543.5 235.8l.1.1M549.6 207.0l.1.1M555.8 120.9l.1.1M561.9 116.9l.1.1M568.1 242.3l.1.1M574.2 239.5l.1.1M580.4 409.1l.1.1M586.6 315.4l.1.1M592.7 382.2l.1.1M598.9 262.3l.1.1M605.1 422.5l.1.1M611.2 263.5l.1.1M617.4 261.5l.1.1M623.5 286.9l.1.1M629.7 223.2l.1.1M635.9 446.2l.1.1M642.0 332.8l.1.1M648.2 268.2l.1.1M654.3 209.1l.1.1M660.5 164.3l.1.1M666.6 294.0l.1.1M672.8 104.8l.1.1M679.0 187.2l.1.1M685.1 330.5l.1.1M691.3 238.7l.1.1M697.5 138.8l.1.1"/>
<path stroke="#bfbf00" d="M81.5 257.2l.1.1M87.6 253.9l.1.1M93.8 250.2l.1.1M99.9 246.5l.1.1M106.1 243.0l.1.1M112.2 240.0l.1.1M118.4 237.4l.1.1M124.6 235.1l.1.1M130.7 233.0l.1.1M136.9 231.0l.1.1M143.0 229.1l.1.1M149.2 227.4l.1.1M155.4 225.7l.1.1M161.5 224.1l.1.1M167.7 222.5l.1.1M173.8 221.0l.1.1M180.0 219.5l.1.1M186.2 218.1l.1.1M192.3 216.8l.1.1M198.5 215.4l.1.1M204.6 214.1l.1.1M210.8 212.9l.1.1M217.0 211.6l.1.1M223.1 210.4l.1.1M229.3 209.3l.1.1M235.4 208.1l.1.1M241.6 207.0l.1.1M247.8 205.8l.1.1M253.9 204.8l.1.1M260.1 203.7l.1.1M266.2 202.6l.1.1M272.4 201.6l.1.1M278.6 200.6l.1.1M284.7 199.6l.1.1M290.9 198.6l.1.1M297.1 197.6l.1.1M303.2 196.6l.1.1M309.4 195.7l.1.1M315.5 194.8l.1.1M321.7 193.8l.1.1M327.8 192.9l.1.1M334.0 192.0l.1.1M340.2 191.1l.1.1M346.3 190.3l.1.1M352.5 189.4l.1.1M358.6 188.5l.1.1M364.8 187.7l.1.1M371.0 186.9l.1.1M377.1 186.2l.1.1M383.3 185.5l.1.1M389.4 184.8l.1.1M395.6 184.2l.1.1M401.8 183.4l.1.1M407.9 182.0l.1.1M414.1 179.8l.1.1M420.2 176.4l.1.1M426.4 172.1l.1.1M432.6 167.6l.1.1M438.7 163.3l.1.1M444.9 159.2l.1.1M451.0 155.1l.1.1M457.2 151.9l.1.1M463.4 151.0l.1.1M469.5 154.1l.1.1M475.7 162.4l.1.1M481.9 174.2l.1.1M488.0 188.6l.1.1M494.2 203.7l.1.1M500.3 218.1l.1.1M506.5 228.7l.1.1M512.7 228.4l.1.1M518.8 176.0l.1.1M525.0 124.3l.1.1M531.1 126.1l.1.1M537.3 168.5l.1.1M543.5 216.5l.1.1M549.6 247.3l.1.1M555.8 128.5l.1.1M561.9 131.9l.1.1M568.1 226.3l.1.1M574.2 221.3l.1.1M580.4 286.1l.1.1M586.6 349.3l.1.1M592.7 254.2l.1.1M598.9 259.8l.1.1M605.1 280.3l.1.1M611.2 262.1l.1.1M617.4 258.1l.1.1M623.5 303.8l.1.1M629.7 217.1l.1.1M635.9 324.9l.1.1M642.0 381.2l.1.1M648.2 270.9l.1.1M654.3 165.9l.1.1M660.5 101.9l.1.1M666.6 318.0l.1.1M672.8 342.8l.1.1M679.0 229.8l.1.1M685.1 382.2l.1.1M691.3 214.6l.1.1M697.5 69.8l.1.1"/>
<path stroke="#404040" d="M81.5 257.3l.1.1M87.6 253.9l.1.1M93.8 250.2l.1.1M99.9 246.4l.1.1M106.1 243.0l.1.1M112.2 240.0l.1.1M118.4 237.4l.1.1M124.6 235.1l.1.1M130.7 233.0l.1.1M136.9 231.0l.1.1M143.0 229.1l.1.1M149.2 227.4l.1.1M155.4 225.7l.1.1M161.5 224.1l.1.1M167.7 222.5l.1.1M173.8 221.0l.1.1M180.0 219.5l.1.1M186.2 218.1l.1.1M192.3 216.8l.1.1M198.5 215.4l.1.1M204.6 214.1l.1.1M210.8 212.9l.1.1M217.0 211.6l.1.1M223.1 210.4l.1.1M229.3 209.3l.1.1M235.4 208.1l.1.1M241.6 207.0l.1.1M247.8 205.8l.1.1M253.9 204.8l.1.1M260.1 203.7l.1.1M266.2 202.6l.1.1M272.4 201.6l.1.1M278.6 200.6l.1.1M284.7 199.6l.1.1M290.9 198.6l.1.1M297.1 197.6l.1.1M303.2 196.6l.1.1M309.4 195.7l.1.1M315.5 194.8l.1.1M321.7 193.8l.1.1M327.8 192.9l.1.1M334.0 192.0l.1.1M340.2 191.1l.1.1M346.3 190.3l.1.1M352.5 189.4l.1.1M358.6 188.6l.1.1M364.8 187.7l.1.1M371.0 186.9l.1.1M377.1 186.2l.1.1M383.3 185.4l.1.1M389.4 184.5l.1.1M395.6 183.5l.1.1M401.8 182.2l.1.1M407.9 180.3l.1.1M414.1 178.0l.1.1M420.2 175.6l.1.1M426.4 174.0l.1.1M432.6 173.7l.1.1M438.7 174.4l.1.1M444.9 174.4l.1.1M451.0 171.7l.1.1M457.2 165.6l.1.1M463.4 156.7l.1.1M469.5 147.7l.1.1M475.7 143.3l.1.1M481.9 146.6l.1.1M488.0 157.6l.1.1M494.2 174.2l.1.1M500.3 193.3l.1.1M506.5 211.6l.1.1M512.7 228.4l.1.1M518.8 233.8l.1.1M525.0 161.3l.1.1M531.1 140.0l.1.1M537.3 130.2l.1.1M543.5 186.9l.1.1M549.6 237.7l.1.1M555.8 229.1l.1.1M561.9 239.9l.1.1M568.1 200.1l.1.1M574.2 191.7l.1.1M580.4 273.1l.1.1M586.6 396.5l.1.1M592.7 255.2l.1.1M598.9 255.6l.1.1M605.1 267.2l.1.1M611.2 259.6l.1.1M617.4 252.6l.1.1M623.5 332.9l.1.1M629.7 182.2l.1.1M635.9 240.7l.1.1M642.0 439.1l.1.1M648.2 275.4l.1.1M654.3 104.8l.1.1M660.5 80.2l.1.1M666.6 359.9l.1.1M672.8 280.7l.1.1M679.0 210.5l.1.1M685.1 450.4l.1.1M691.3 172.1l.1.1M697.5 112.6l.1.1"/>
<path stroke="#0000ff" d="M81.5 257.3l.1.1M87.6 253.9l.1.1M93.8 250.1l.1.1M99.9 246.4l.1.1M106.1 243.0l.1.1M112.2 240.0l.1.1M118.4 237.4l.1.1M124.6 235.1l.1.1M130.7 233.0l.1.1M136.9 231.0l.1.1M143.0 229.1l.1.1M149.2 227.4l.1.1M155.4 225.7l.1.1M161.5 224.1l.1.1M167.7 222.5l.1.1M173.8 221.0l.1.1M180.0 219.5l.1.1M186.2 218.1l.1.1M192.3 216.8l.1.1M198.5 215.4l.1.1M204.6 214.1l.1.1M210.8 212.9l.1.1M217.0 211.6l.1.1M223.1 210.4l.1.1M229.3 209.3l.1.1M235.4 208.1l.1.1M241.6 207.0l.1.1M247.8 205.8l.1.1M253.9 204.8l.1.1M260.1 203.7l.1.1M266.2 202.6l.1.1M272.4 201.6l.1.1M278.6 200.6l.1.1M284.7 199.6l.1.1M290.9 198.6l.1.1M297.1 197.6l.1.1M303.2 196.6l.1.1M309.4 195.7l.1.1M315.5 194.8l.1.1M321.7 193.8l.1.1M327.8 192.9l.1.1M334.0 192.0l.1.1M340.2 191.1l.1.1M346.3 190.3l.1.1M352.5 189.4l.1.1M358.6 188.6l.1.1M364.8 187.7l.1.1M371.0 186.9l.1.1M377.1 186.0l.1.1M383.3 185.1l.1.1M389.4 184.1l.1.1M395.6 183.0l.1.1M401.8 181.6l.1.1M407.9 180.3l.1.1M414.1 179.4l.1.1M420.2 179.9l.1.1M426.4 182.3l.1.1M432.6 186.7l.1.1M438.7 191.9l.1.1M444.9 196.4l.1.1M451.0 199.3l.1.1M457.2 199.3l.1.1M463.4 194.4l.1.1M469.5 182.0l.1.1M475.7 162.8l.1.1M481.9 145.8l.1.1M488.0 138.0l.1.1M494.2 143.6l.1.1M500.3 160.6l.1.1M506.5 183.1l.1.1M512.7 207.6l.1.1M518.8 229.0l.1.1M525.0 233.4l.1.1M531.1 222.4l.1.1M537.3 127.4l.1.1M543.5 147.2l.1.1M549.6 219.4l.1.1M555.8 248.5l.1.1M561.9 251.6l.1.1M568.1 160.7l.1.1M574.2 148.7l.1.1M580.4 279.2l.1.1M586.6 428.8l.1.1M592.7 247.0l.1.1M598.9 248.3l.1.1M605.1 268.9l.1.1M611.2 255.2l.1.1M617.4 242.6l.1.1M623.5 379.4l.1.1M629.7 129.1l.1.1M635.9 222.9l.1.1M642.0 418.9l.1.1M648.2 283.7l.1.1M654.3 81.4l.1.1M660.5 267.3l.1.1M666.6 422.3l.1.1M672.8 289.3l.1.1M679.0 166.4l.1.1M685.1 436.9l.1.1M691.3 106.0l.1.1M697.5 379.6l.1.1"/>
<path stroke="#008000" d="M81.5 257.3l.1.1M87.6 253.9l.1.1M93.8 250.1l.1.1M99.9 246.3l.1.1M106.1 242.9l.1.1M112.2 240.0l.1.1M118.4 237.4l.1.1M124.6 235.1l.1.1M130.7 233.0l.1.1M136.9 231.0l.1.1M143.0 229.1l.1.1M149.2 227.4l.1.1M155.4 225.7l.1.1M161.5 224.1l.1.1M167.7 222.5l.1.1M173.8 221.0l.1.1M180.0 219.5l.1.1M186.2 218.1l.1.1M192.3 216.8l.1.1M198.5 215.4l.1.1M204.6 214.1l.1.1M210.8 212.9l.1.1M217.0 211.6l.1.1M223.1 210.4l.1.1M229.3 209.3l.1.1M235.4 208.1l.1.1M241.6 207.0l.1.1M247.8 205.8l.1.1M253.9 204.8l.1.1M260.1 203.7l.1.1M266.2 202.6l.1.1M272.4 201.6l.1.1M278.6 200.6l.1.1M284.7 199.6l.1.1M290.9 198.6l.1.1M297.1 197.6l.1.1M303.2 196.6l.1.1M309.4 195.7l.1.1M315.5 194.8l.1.1M321.7 193.8l.1.1M327.8 192.9l.1.1M334.0 192.0l.1.1M340.2 191.1l.1.1M346.3 190.3l.1.1M352.5 189.4l.1.1M358.6 188.5l.1.1M364.8 187.7l.1.1M371.0 186.8l.1.1M377.1 185.9l.1.1M383.3 185.0l.1.1M389.4 184.0l.1.1M395.6 183.0l.1.1M401.8 182.2l.1.1M407.9 181.9l.1.1M414.1 182.6l.1.1M420.2 184.7l.1.1M426.4 187.9l.1.1M432.6 191.3l.1.1M438.7 194.7l.1.1M444.9 198.3l.1.1M451.0 202.5l.1.1M457.2 207.1l.1.1M463.4 211.3l.1.1M469.5 213.2l.1.1M475.7 208.5l.1.1M481.9 191.9l.1.1M488.0 164.4l.1.1M494.2 140.2l.1.1M500.3 134.5l.1.1M506.5 148.8l.1.1M512.7 176.9l.1.1M518.8 207.6l.1.1M525.0 234.5l.1.1M531.1 238.2l.1.1M537.3 206.9l.1.1M543.5 117.9l.1.1M549.6 190.6l.1.1M555.8 237.1l.1.1M561.9 241.3l.1.1M568.1 117.4l.1.1M574.2 108.9l.1.1M580.4 289.2l.1.1M586.6 354.6l.1.1M592.7 233.6l.1.1M598.9 235.5l.1.1M605.1 271.6l.1.1M611.2 247.4l.1.1M617.4 225.1l.1.1M623.5 433.2l.1.1M629.7 85.8l.1.1M635.9 190.1l.1.1M642.0 224.3l.1.1M648.2 298.7l.1.1M654.3 256.6l.1.1M660.5 264.5l.1.1M666.6 458.3l.1.1M672.8 310.2l.1.1M679.0 100.9l.1.1M685.1 180.7l.1.1M691.3 61.1l.1.1M697.5 314.8l.1.1"/>
<path stroke="#ff0000" d="M81.5 257.4l.1.1M87.6 253.9l.1.1M93.8 250.1l.1.1M99.9 246.3l.1.1M106.1 242.9l.1.1M112.2 239.9l.1.1M118.4 237.4l.1.1M124.6 235.1l.1.1M130.7 233.0l.1.1M136.9 231.0l.1.1M143.0 229.1l.1.1M149.2 227.4l.1.1M155.4 225.7l.1.1M161.5 224.1l.1.1M167.7 222.5l.1.1M173.8 221.0l.1.1M180.0 219.5l.1.1M186.2 218.1l.1.1M192.3 216.8l.1.1M198.5 215.4l.1.1M204.6 214.1l.1.1M210.8 212.9l.1.1M217.0 211.6l.1.1M223.1 210.4l.1.1M229.3 209.3l.1.1M235.4 208.1l.1.1M241.6 207.0l.1.1M247.8 205.8l.1.1M253.9 204.8l.1.1M260.1 203.7l.1.1M266.2 202.6l.1.1M272.4 201.6l.1.1M278.6 200.6l.1.1M284.7 199.6l.1.1M290.9 198.6l.1.1M297.1 197.6l.1.1M303.2 196.6l.1.1M309.4 195.7l.1.1M315.5 194.8l.1.1M321.7 193.8l.1.1M327.8 192.9l.1.1M334.0 192.0l.1.1M340.2 191.1l.1.1M346.3 190.3l.1.1M352.5 189.4l.1.1M358.6 188.5l.1.1M364.8 187.7l.1.1M371.0 186.8l.1.1M377.1 185.9l.1.1M383.3 185.0l.1.1M389.4 184.2l.1.1M395.6 183.6l.1.1M401.8 183.2l.1.1M407.9 183.5l.1.1M414.1 184.3l.1.1M420.2 185.1l.1.1M426.4 185.3l.1.1M432.6 184.6l.1.1M438.7 183.7l.1.1M444.9 184.1l.1.1M451.0 186.6l.1.1M457.2 191.5l.1.1M463.4 198.4l.1.1M469.5 206.9l.1.1M475.7 215.1l.1.1M481.9 219.5l.1.1M488.0 215.9l.1.1M494.2 191.8l.1.1M500.3 153.1l.1.1M506.5 131.1l.1.1M512.7 141.9l.1.1M518.8 176.2l.1.1M525.0 215.6l.1.1M531.1 222.4l.1.1M537.3 241.6l.1.1M543.5 159.4l.1.1M549.6 150.7l.1.1M555.8 218.1l.1.1M561.9 224.9l.1.1M568.1 124.9l.1.1M574.2 144.0l.1.1M580.4 306.2l.1.1M586.6 258.2l.1.1M592.7 210.6l.1.1M598.9 213.5l.1.1M605.1 276.3l.1.1M611.2 233.7l.1.1M617.4 195.2l.1.1M623.5 414.1l.1.1M629.7 173.7l.1.1M635.9 138.8l.1.1M642.0 253.3l.1.1M648.2 325.4l.1.1M654.3 269.3l.1.1M660.5 263.6l.1.1M666.6 292.8l.1.1M672.8 346.9l.1.1M679.0 70.1l.1.1M685.1 268.9l.1.1M691.3 240.4l.1.1M697.5 318.6l.1.1"/>
<path stroke="#00bfbf" d="M81.5 257.4l.1.1M87.6 253.9l.1.1M93.8 250.1l.1.1M99.9 246.3l.1.1M106.1 242.9l.1.1M112.2 239.9l.1.1M118.4 237.4l.1.1M124.6 235.1l.1.1M130.7 233.0l.1.1M136.9 231.0l.1.1M143.0 229.1l.1.1M149.2 227.4l.1.1M155.4 225.7l.1.1M161.5 224.1l.1.1M167.7 222.5l.1.1M173.8 221.0l.1.1M180.0 219.5l.1.1M186.2 218.1l.1.1M192.3 216.8l.1.1M198.5 215.4l.1.1M204.6 214.1l.1.1M210.8 212.9l.1.1M217.0 211.6l.1.1M223.1 210.4l.1.1M229.3 209.3l.1.1M235.4 208.1l.1.1M241.6 207.0l.1.1M247.8 205.8l.1.1M253.9 204.8l.1.1M260.1 203.7l.1.1M266.2 202.6l.1.1M272.4 201.6l.1.1M278.6 200.6l.1.1M284.7 199.6l.1.1M290.9 198.6l.1.1M297.1 197.6l.1.1M303.2 196.6l.1.1M309.4 195.7l.1.1M315.5 194.8l.1.1M321.7 193.8l.1.1M327.8 192.9l.1.1M334.0 192.0l.1.1M340.2 191.1l.1.1M346.3 190.3l.1.1M352.5 189.4l.1.1M358.6 188.5l.1.1M364.8 187.7l.1.1M371.0 186.8l.1.1M377.1 186.0l.1.1M383.3 185.2l.1.1M389.4 184.6l.1.1M395.6 184.1l.1.1M401.8 183.8l.1.1M407.9 183.5l.1.1M414.1 183.0l.1.1M420.2 181.3l.1.1M426.4 178.1l.1.1M432.6 173.7l.1.1M438.7 169.3l.1.1M444.9 166.3l.1.1M451.0 165.7l.1.1M457.2 168.2l.1.1M463.4 174.2l.1.1M469.5 183.9l.1.1M475.7 196.0l.1.1M481.9 207.9l.1.1M488.0 219.2l.1.1M494.2 224.5l.1.1M500.3 215.1l.1.1M506.5 172.4l.1.1M512.7 130.8l.1.1M518.8 140.2l.1.1M525.0 187.0l.1.1M531.1 196.5l.1.1M537.3 229.8l.1.1M543.5 243.3l.1.1M549.6 116.9l.1.1M555.8 188.2l.1.1M561.9 198.3l.1.1M568.1 236.6l.1.1M574.2 260.2l.1.1M580.4 334.3l.1.1M586.6 256.0l.1.1M592.7 173.7l.1.1M598.9 177.7l.1.1M605.1 284.6l.1.1M611.2 209.9l.1.1M617.4 148.2l.1.1M623.5 242.7l.1.1M629.7 302.4l.1.1M635.9 86.4l.1.1M642.0 243.6l.1.1M648.2 370.4l.1.1M654.3 273.2l.1.1M660.5 262.1l.1.1M666.6 246.8l.1.1M672.8 405.8l.1.1M679.0 267.0l.1.1M685.1 270.7l.1.1M691.3 289.2l.1.1M697.5 360.5l.1.1"/>
<path stroke="#bf00bf" d="M81.5 257.4l.1.1M87.6 253.9l.1.1M93.8 250.0l.1.1M99.9 246.2l.1.1M106.1 242.8l.1.1M112.2 239.9l.1.1M118.4 237.4l.1.1M124.6 235.1l.1.1M130.7 233.0l.1.1M136.9 231.0l.1.1M143.0 229.1l.1.1M149.2 227.4l.1.1M155.4 225.7l.1.1M161.5 224.1l.1.1M167.7 222.5l.1.1M173.8 221.0l.1.1M180.0 219.5l.1.1M186.2 218.1l.1.1M192.3 216.8l.1.1M198.5 215.4l.1.1M204.6 214.1l.1.1M210.8 212.9l.1.1M217.0 211.6l.1.1M223.1 210.4l.1.1M229.3 209.3l.1.1M235.4 208.1l.1.1M241.6 207.0l.1.1M247.8 205.8l.1.1M253.9 204.8l.1.1M260.1 203.7l.1.1M266.2 202.6l.1.1M272.4 201.6l.1.1M278.6 200.6l.1.1M284.7 199.6l.1.1M290.9 198.6l.1.1M297.1 197.6l.1.1M303.2 196.6l.1.1M309.4 195.7l.1.1M315.5 194.8l.1.1M321.7 193.8l.1.1M327.8 192.9l.1.1M334.0 192.0l.1.1M340.2 191.1l.1.1M346.3 190.3l.1.1M352.5 189.4l.1.1M358.6 188.5l.1.1M364.8 187.7l.1.1M371.0 186.9l.1.1M377.1 186.1l.1.1M383.3 185.3l.1.1M389.4 184.7l.1.1M395.6 184.1l.1.1M401.8 183.3l.1.1M407.9 182.2l.1.1M414.1 180.2l.1.1M420.2 176.9l.1.1M426.4 172.7l.1.1M432.6 168.1l.1.1M438.7 163.7l.1.1M444.9 159.4l.1.1M451.0 155.2l.1.1M457.2 152.1l.1.1M463.4 152.1l.1.1M469.5 157.2l.1.1M475.7 168.1l.1.1M481.9 182.0l.1.1M488.0 198.2l.1.1M494.2 213.2l.1.1M500.3 225.6l.1.1M506.5 227.5l.1.1M512.7 185.9l.1.1M518.8 128.7l.1.1M525.0 150.0l.1.1M531.1 160.4l.1.1M537.3 207.4l.1.1M543.5 243.9l.1.1M549.6 149.6l.1.1M555.8 146.9l.1.1M561.9 158.9l.1.1M568.1 253.4l.1.1M574.2 261.2l.1.1M580.4 376.4l.1.1M586.6 248.8l.1.1M592.7 124.4l.1.1M598.9 128.0l.1.1M605.1 299.1l.1.1M611.2 170.9l.1.1M617.4 96.9l.1.1M623.5 257.3l.1.1M629.7 316.0l.1.1M635.9 141.1l.1.1M642.0 226.0l.1.1M648.2 430.7l.1.1M654.3 279.6l.1.1M660.5 259.3l.1.1M666.6 228.5l.1.1M672.8 461.7l.1.1M679.0 264.2l.1.1M685.1 275.5l.1.1M691.3 314.5l.1.1M697.5 427.5l.1.1"/>
<path stroke="#bfbf00" d="M81.5 257.5l.1.1M87.6 253.9l.1.1M93.8 250.0l.1.1M99.9 246.2l.1.1M106.1 242.8l.1.1M112.2 239.9l.1.1M118.4 237.4l.1.1M124.6 235.1l.1.1M130.7 233.0l.1.1M136.9 231.0l.1.1M143.0 229.1l.1.1M149.2 227.4l.1.1M155.4 225.7l.1.1M161.5 224.1l.1.1M167.7 222.5l.1.1M173.8 221.0l.1.1M180.0 219.5l.1.1M186.2 218.1l.1.1M192.3 216.8l.1.1M198.5 215.4l.1.1M204.6 214.1l.1.1M210.8 212.9l.1.1M217.0 211.6l.1.1M223.1 210.4l.1.1M229.3 209.3l.1.1M235.4 208.1l.1.1M241.6 207.0l.1.1M247.8 205.8l.1.1M253.9 204.8l.1.1M260.1 203.7l.1.1M266.2 202.6l.1.1M272.4 201.6l.1.1M278.6 200.6l.1.1M284.7 199.6l.1.1M290.9 198.6l.1.1M297.1 197.6l.1.1M303.2 196.6l.1.1M309.4 195.7l.1.1M315.5 194.8l.1.1M321.7 193.8l.1.1M327.8 192.9l.1.1M334.0 192.0l.1.1M340.2 191.1l.1.1M346.3 190.3l.1.1M352.5 189.4l.1.1M358.6 188.5l.1.1M364.8 187.7l.1.1M371.0 186.9l.1.1M377.1 186.1l.1.1M383.3 185.3l.1.1M389.4 184.5l.1.1M395.6 183.6l.1.1M401.8 182.5l.1.1M407.9 180.8l.1.1M414.1 178.6l.1.1M420.2 176.2l.1.1M426.4 174.6l.1.1M432.6 174.5l.1.1M438.7 175.4l.1.1M444.9 175.2l.1.1M451.0 171.8l.1.1M457.2 164.5l.1.1M463.4 154.8l.1.1M469.5 146.3l.1.1M475.7 145.0l.1.1M481.9 152.7l.1.1M488.0 168.3l.1.1M494.2 187.2l.1.1M500.3 206.6l.1.1M506.5 224.4l.1.1M512.7 231.9l.1.1M518.8 187.2l.1.1M525.0 124.3l.1.1M531.1 126.1l.1.1M537.3 174.3l.1.1M543.5 229.3l.1.1M549.6 243.6l.1.1M555.8 113.9l.1.1M561.9 117.7l.1.1M568.1 244.5l.1.1M574.2 258.0l.1.1M580.4 420.5l.1.1M586.6 236.8l.1.1M592.7 101.8l.1.1M598.9 97.7l.1.1M605.1 324.1l.1.1M611.2 118.3l.1.1M617.4 125.9l.1.1M623.5 250.3l.1.1M629.7 353.2l.1.1M635.9 314.1l.1.1M642.0 195.2l.1.1M648.2 440.3l.1.1M654.3 291.4l.1.1M660.5 254.3l.1.1M666.6 198.3l.1.1M672.8 361.2l.1.1M679.0 262.9l.1.1M685.1 284.4l.1.1M691.3 355.6l.1.1M697.5 470.6l.1.1"/>
<path stroke="#404040" d="M81.5 257.5l.1.1M87.6 253.9l.1.1M93.8 250.0l.1.1M99.9 246.1l.1.1M106.1 242.8l.1.1M112.2 239.9l.1.1M118.4 237.3l.1.1M124.6 235.1l.1.1M130.7 233.0l.1.1M136.9 231.0l.1.1M143.0 229.1l.1.1M149.2 227.4l.1.1M155.4 225.7l.1.1M161.5 224.1l.1.1M167.7 222.5l.1.1M173.8 221.0l.1.1M180.0 219.5l.1.1M186.2 218.1l.1.1M192.3 216.8l.1.1M198.5 215.4l.1.1M204.6 214.1l.1.1M210.8 212.9l.1.1M217.0 211.6l.1.1M223.1 210.4l.1.1M229.3 209.3l.1.1M235.4 208.1l.1.1M241.6 207.0l.1.1M247.8 205.8l.1.1M253.9 204.8l.1.1M260.1 203.7l.1.1M266.2 202.6l.1.1M272.4 201.6l.1.1M278.6 200.6l.1.1M284.7 199.6l.1.1M290.9 198.6l.1.1M297.1 197.6l.1.1M303.2 196.6l.1.1M309.4 195.7l.1.1M315.5 194.8l.1.1M321.7 193.8l.1.1M327.8 192.9l.1.1M334.0 192.0l.1.1M340.2 191.1l.1.1M346.3 190.3l.1.1M352.5 189.4l.1.1M358.6 188.5l.1.1M364.8 187.7l.1.1M371.0 186.9l.1.1M377.1 186.0l.1.1M383.3 185.2l.1.1M389.4 184.3l.1.1M395.6 183.2l.1.1M401.8 182.0l.1.1M407.9 180.6l.1.1M414.1 179.6l.1.1M420.2 179.8l.1.1M426.4 182.3l.1.1M432.6 186.8l.1.1M438.7 192.2l.1.1M444.9 196.8l.1.1M451.0 199.4l.1.1M457.2 198.4l.1.1M463.4 191.3l.1.1M469.5 175.4l.1.1M475.7 154.9l.1.1M481.9 141.4l.1.1M488.0 141.4l.1.1M494.2 155.1l.1.1M500.3 177.1l.1.1M506.5 202.0l.1.1M512.7 223.5l.1.1M518.8 234.6l.1.1M525.0 161.3l.1.1M531.1 139.9l.1.1M537.3 135.2l.1.1M543.5 206.5l.1.1M549.6 247.2l.1.1M555.8 155.6l.1.1M561.9 130.0l.1.1M568.1 230.0l.1.1M574.2 252.7l.1.1M580.4 400.7l.1.1M586.6 216.3l.1.1M592.7 204.5l.1.1M598.9 190.4l.1.1M605.1 364.2l.1.1M611.2 95.9l.1.1M617.4 289.3l.1.1M623.5 238.5l.1.1M629.7 407.8l.1.1M635.9 308.0l.1.1M642.0 145.4l.1.1M648.2 253.5l.1.1M654.3 312.8l.1.1M660.5 245.0l.1.1M666.6 147.4l.1.1M672.8 190.1l.1.1M679.0 260.8l.1.1M685.1 301.0l.1.1M691.3 420.7l.1.1M697.5 279.6l.1.1"/>
<path stroke="#0000ff" d="M81.5 257.5l.1.1M87.6 253.9l.1.1M93.8 249.9l.1.1M99.9 246.1l.1.1M106.1 242.7l.1.1M112.2 239.9l.1.1M118.4 237.3l.1.1M124.6 235.1l.1.1M130.7 233.0l.1.1M136.9 231.0l.1.1M143.0 229.1l.1.1M149.2 227.4l.1.1M155.4 225.7l.1.1M161.5 224.1l.1.1M167.7 222.5l.1.1M173.8 221.0l.1.1M180.0 219.5l.1.1M186.2 218.1l.1.1M192.3 216.8l.1.1M198.5 215.4l.1.1M204.6 214.1l.1.1M210.8 212.9l.1.1M217.0 211.6l.1.1M223.1 210.4l.1.1M229.3 209.3l.1.1M235.4 208.1l.1.1M241.6 207.0l.1.1M247.8 205.8l.1.1M253.9 204.8l.1.1M260.1 203.7l.1.1M266.2 202.6l.1.1M272.4 201.6l.1.1M278.6 200.6l.1.1M284.7 199.6l.1.1M290.9 198.6l.1.1M297.1 197.6l.1.1M303.2 196.6l.1.1M309.4 195.7l.1.1M315.5 194.8l.1.1M321.7 193.8l.1.1M327.8 192.9l.1.1M334.0 192.0l.1.1M340.2 191.1l.1.1M346.3 190.3l.1.1M352.5 189.4l.1.1M358.6 188.5l.1.1M364.8 187.7l.1.1M371.0 186.8l.1.1M377.1 186.0l.1.1M383.3 185.1l.1.1M389.4 184.1l.1.1M395.6 183.2l.1.1M401.8 182.3l.1.1M407.9 181.7l.1.1M414.1 182.2l.1.1M420.2 184.1l.1.1M426.4 187.2l.1.1M432.6 190.7l.1.1M438.7 194.1l.1.1M444.9 197.8l.1.1M451.0 202.4l.1.1M457.2 207.3l.1.1M463.4 211.3l.1.1M469.5 211.6l.1.1M475.7 201.3l.1.1M481.9 177.5l.1.1M488.0 148.6l.1.1M494.2 135.5l.1.1M500.3 144.5l.1.1M506.5 170.3l.1.1M512.7 199.7l.1.1M518.8 226.0l.1.1M525.0 233.4l.1.1M531.1 222.3l.1.1M537.3 122.9l.1.1M543.5 172.4l.1.1M549.6 234.5l.1.1M555.8 250.8l.1.1M561.9 237.6l.1.1M568.1 205.9l.1.1M574.2 243.7l.1.1M580.4 275.4l.1.1M586.6 182.9l.1.1M592.7 269.0l.1.1M598.9 276.7l.1.1M605.1 415.9l.1.1M611.2 218.8l.1.1M617.4 278.3l.1.1M623.5 217.7l.1.1M629.7 445.0l.1.1M635.9 338.2l.1.1M642.0 88.6l.1.1M648.2 267.9l.1.1M654.3 350.2l.1.1M660.5 227.9l.1.1M666.6 83.8l.1.1M672.8 159.4l.1.1M679.0 256.8l.1.1M685.1 331.4l.1.1M691.3 470.3l.1.1M697.5 251.5l.1.1"/>
<path stroke="#008000" d="M81.5 257.6l.1.1M87.6 253.9l.1.1M93.8 249.9l.1.1M99.9 246.1l.1.1M106.1 242.7l.1.1M112.2 239.9l.1.1M118.4 237.3l.1.1M124.6 235.1l.1.1M130.7 233.0l.1.1M136.9 231.0l.1.1M143.0 229.1l.1.1M149.2 227.4l.1.1M155.4 225.7l.1.1M161.5 224.1l.1.1M167.7 222.5l.1.1M173.8 221.0l.1.1M180.0 219.5l.1.1M186.2 218.1l.1.1M192.3 216.8l.1.1M198.5 215.4l.1.1M204.6 214.1l.1.1M210.8 212.9l.1.1M217.0 211.6l.1.1M223.1 210.4l.1.1M229.3 209.3l.1.1M235.4 208.1l.1.1M241.6 207.0l.1.1M247.8 205.8l.1.1M253.9 204.8l.1.1M260.1 203.7l.1.1M266.2 202.6l.1.1M272.4 201.6l.1.1M278.6 200.6l.1.1M284.7 199.6l.1.1M290.9 198.6l.1.1M297.1 197.6l.1.1M303.2 196.6l.1.1M309.4 195.7l.1.1M315.5 194.8l.1.1M321.7 193.8l.1.1M327.8 192.9l.1.1M334.0 192.0l.1.1M340.2 191.1l.1.1M346.3 190.3l.1.1M352.5 189.4l.1.1M358.6 188.5l.1.1M364.8 187.7l.1.1M371.0 186.8l.1.1M377.1 186.0l.1.1M383.3 185.1l.1.1M389.4 184.2l.1.1M395.6 183.5l.1.1M401.8 183.0l.1.1M407.9 183.0l.1.1M414.1 183.7l.1.1M420.2 184.5l.1.1M426.4 184.7l.1.1M432.6 183.8l.1.1M438.7 182.8l.1.1M444.9 183.4l.1.1M451.0 186.5l.1.1M457.2 192.2l.1.1M463.4 200.0l.1.1M469.5 209.3l.1.1M475.7 216.6l.1.1M481.9 217.7l.1.1M488.0 202.2l.1.1M494.2 165.9l.1.1M500.3 135.7l.1.1M506.5 138.0l.1.1M512.7 166.6l.1.1M518.8 202.9l.1.1M525.0 234.5l.1.1M531.1 238.2l.1.1M537.3 192.6l.1.1M543.5 132.2l.1.1M549.6 214.3l.1.1M555.8 251.6l.1.1M561.9 251.3l.1.1M568.1 168.9l.1.1M574.2 228.4l.1.1M580.4 270.8l.1.1M586.6 136.0l.1.1M592.7 271.3l.1.1M598.9 282.4l.1.1M605.1 428.5l.1.1M611.2 273.0l.1.1M617.4 289.1l.1.1M623.5 182.5l.1.1M629.7 335.7l.1.1M635.9 388.2l.1.1M642.0 121.1l.1.1M648.2 270.3l.1.1M654.3 407.8l.1.1M660.5 197.4l.1.1M666.6 104.9l.1.1M672.8 107.3l.1.1M679.0 249.4l.1.1M685.1 383.7l.1.1M691.3 308.4l.1.1M697.5 236.2l.1.1"/>
<path stroke="#ff0000" d="M81.5 257.6l.1.1M87.6 253.9l.1.1M93.8 249.9l.1.1M99.9 246.0l.1.1M106.1 242.7l.1.1M112.2 239.8l.1.1M118.4 237.3l.1.1M124.6 235.1l.1.1M130.7 233.0l.1.1M136.9 231.0l.1.1M143.0 229.1l.1.1M149.2 227.4l.1.1M155.4 225.7l.1.1M161.5 224.1l.1.1M167.7 222.5l.1.1M173.8 221.0l.1.1M180.0 219.5l.1.1M186.2 218.1l.1.1M192.3 216.8l.1.1M198.5 215.4l.1.1M204.6 214.1l.1.1M210.8 212.9l.1.1M217.0 211.6l.1.1M223.1 210.4l.1.1M229.3 209.3l.1.1M235.4 208.1l.1.1M241.6 207.0l.1.1M247.8 205.8l.1.1M253.9 204.8l.1.1M260.1 203.7l.1.1M266.2 202.6l.1.1M272.4 201.6l.1.1M278.6 200.6l.1.1M284.7 199.6l.1.1M290.9 198.6l.1.1M297.1 197.6l.1.1M303.2 196.6l.1.1M309.4 195.7l.1.1M315.5 194.8l.1.1M321.7 193.8l.1.1M327.8 192.9l.1.1M334.0 192.0l.1.1M340.2 191.1l.1.1M346.3 190.3l.1.1M352.5 189.4l.1.1M358.6 188.5l.1.1M364.8 187.7l.1.1M371.0 186.8l.1.1M377.1 186.0l.1.1M383.3 185.2l.1.1M389.4 184.4l.1.1M395.6 183.8l.1.1M401.8 183.5l.1.1M407.9 183.2l.1.1M414.1 182.8l.1.1M420.2 181.2l.1.1M426.4 178.0l.1.1M432.6 173.4l.1.1M438.7 168.8l.1.1M444.9 165.8l.1.1M451.0 165.6l.1.1M457.2 169.0l.1.1M463.4 176.3l.1.1M469.5 187.7l.1.1M475.7 200.6l.1.1M481.9 213.2l.1.1M488.0 221.8l.1.1M494.2 219.6l.1.1M500.3 185.8l.1.1M506.5 138.2l.1.1M512.7 134.1l.1.1M518.8 170.0l.1.1M525.0 215.6l.1.1M531.1 222.4l.1.1M537.3 242.6l.1.1M543.5 121.8l.1.1M549.6 183.0l.1.1M555.8 241.5l.1.1M561.9 241.0l.1.1M568.1 124.2l.1.1M574.2 203.1l.1.1M580.4 275.2l.1.1M586.6 101.9l.1.1M592.7 275.8l.1.1M598.9 295.5l.1.1M605.1 297.4l.1.1M611.2 278.8l.1.1M617.4 307.4l.1.1M623.5 130.1l.1.1M629.7 237.3l.1.1M635.9 442.0l.1.1M642.0 314.1l.1.1M648.2 274.4l.1.1M654.3 455.1l.1.1M660.5 146.7l.1.1M666.6 333.7l.1.1M672.8 93.2l.1.1M679.0 235.7l.1.1M685.1 451.8l.1.1M691.3 223.0l.1.1M697.5 210.9l.1.1"/>
<path stroke="#00bfbf" d="M81.5 257.6l.1.1M87.6 253.9l.1.1M93.8 249.9l.1.1M99.9 246.0l.1.1M106.1 242.7l.1.1M112.2 239.8l.1.1M118.4 237.3l.1.1M124.6 235.1l.1.1M130.7 233.0l.1.1M136.9 231.0l.1.1M143.0 229.1l.1.1M149.2 227.4l.1.1M155.4 225.7l.1.1M161.5 224.1l.1.1M167.7 222.5l.1.1M173.8 221.0l.1.1M180.0 219.5l.1.1M186.2 218.1l.1.1M192.3 216.8l.1.1M198.5 215.4l.1.1M204.6 214.1l.1.1M210.8 212.9l.1.1M217.0 211.6l.1.1M223.1 210.4l.1.1M229.3 209.3l.1.1M235.4 208.1l.1.1M241.6 207.0l.1.1M247.8 205.8l.1.1M253.9 204.8l.1.1M260.1 203.7l.1.1M266.2 202.6l.1.1M272.4 201.6l.1.1M278.6 200.6l.1.1M284.7 199.6l.1.1M290.9 198.6l.1.1M297.1 197.6l.1.1M303.2 196.6l.1.1M309.4 195.7l.1.1M315.5 194.8l.1.1M321.7 193.8l.1.1M327.8 192.9l.1.1M334.0 192.0l.1.1M340.2 191.1l.1.1M346.3 190.3l.1.1M352.5 189.4l.1.1M358.6 188.5l.1.1M364.8 187.7l.1.1M371.0 186.8l.1.1M377.1 186.0l.1.1M383.3 185.3l.1.1M389.4 184.6l.1.1M395.6 183.9l.1.1M401.8 183.3l.1.1M407.9 182.3l.1.1M414.1 180.5l.1.1M420.2 177.4l.1.1M426.4 173.1l.1.1M432.6 168.5l.1.1M438.7 164.1l.1.1M444.9 159.6l.1.1M451.0 155.2l.1.1M457.2 152.3l.1.1M463.4 153.3l.1.1M469.5 160.7l.1.1M475.7 173.8l.1.1M481.9 189.9l.1.1M488.0 206.2l.1.1M494.2 221.0l.1.1M500.3 226.8l.1.1M506.5 199.8l.1.1M512.7 139.4l.1.1M518.8 135.1l.1.1M525.0 187.0l.1.1M531.1 196.5l.1.1M537.3 234.2l.1.1M543.5 198.4l.1.1M549.6 141.9l.1.1M555.8 225.5l.1.1M561.9 224.4l.1.1M568.1 115.2l.1.1M574.2 164.3l.1.1M580.4 282.4l.1.1M586.6 170.9l.1.1M592.7 283.6l.1.1M598.9 317.6l.1.1M605.1 264.7l.1.1M611.2 289.2l.1.1M617.4 338.5l.1.1M623.5 87.9l.1.1M629.7 220.1l.1.1M635.9 399.5l.1.1M642.0 289.4l.1.1M648.2 281.9l.1.1M654.3 346.1l.1.1M660.5 84.8l.1.1M666.6 278.2l.1.1M672.8 241.8l.1.1M679.0 210.4l.1.1M685.1 433.6l.1.1M691.3 181.8l.1.1M697.5 165.3l.1.1"/>
<path stroke="#bf00bf" d="M81.5 257.7l.1.1M87.6 253.9l.1.1M93.8 249.8l.1.1M99.9 246.0l.1.1M106.1 242.7l.1.1M112.2 239.8l.1.1M118.4 237.3l.1.1M124.6 235.1l.1.1M130.7 233.0l.1.1M136.9 231.0l.1.1M143.0 229.1l.1.1M149.2 227.4l.1.1M155.4 225.7l.1.1M161.5 224.1l.1.1M167.7 222.5l.1.1M173.8 221.0l.1.1M180.0 219.5l.1.1M186.2 218.1l.1.1M192.3 216.8l.1.1M198.5 215.4l.1.1M204.6 214.1l.1.1M210.8 212.9l.1.1M217.0 211.6l.1.1M223.1 210.4l.1.1M229.3 209.3l.1.1M235.4 208.1l.1.1M241.6 207.0l.1.1M247.8 205.8l.1.1M253.9 204.8l.1.1M260.1 203.7l.1.1M266.2 202.6l.1.1M272.4 201.6l.1.1M278.6 200.6l.1.1M284.7 199.6l.1.1M290.9 198.6l.1.1M297.1 197.6l.1.1M303.2 196.6l.1.1M309.4 195.7l.1.1M315.5 194.8l.1.1M321.7 193.8l.1.1M327.8 192.9l.1.1M334.0 192.0l.1.1M340.2 191.1l.1.1M346.3 190.3l.1.1M352.5 189.4l.1.1M358.6 188.5l.1.1M364.8 187.7l.1.1M371.0 186.9l.1.1M377.1 186.1l.1.1M383.3 185.3l.1.1M389.4 184.5l.1.1M395.6 183.7l.1.1M401.8 182.7l.1.1M407.9 181.2l.1.1M414.1 179.1l.1.1M420.2 176.7l.1.1M426.4 175.1l.1.1M432.6 175.3l.1.1M438.7 176.5l.1.1M444.9 176.1l.1.1M451.0 172.0l.1.1M457.2 163.5l.1.1M463.4 153.1l.1.1M469.5 145.7l.1.1M475.7 148.0l.1.1M481.9 160.2l.1.1M488.0 178.5l.1.1M494.2 199.5l.1.1M500.3 217.9l.1.1M506.5 229.4l.1.1M512.7 207.4l.1.1M518.8 133.3l.1.1M525.0 150.0l.1.1M531.1 160.4l.1.1M537.3 214.3l.1.1M543.5 245.1l.1.1M549.6 115.5l.1.1M555.8 199.6l.1.1M561.9 197.4l.1.1M568.1 214.9l.1.1M574.2 118.9l.1.1M580.4 294.6l.1.1M586.6 273.2l.1.1M592.7 297.1l.1.1M598.9 353.7l.1.1M605.1 264.2l.1.1M611.2 307.3l.1.1M617.4 386.7l.1.1M623.5 172.9l.1.1M629.7 185.9l.1.1M635.9 219.6l.1.1M642.0 307.5l.1.1M648.2 295.5l.1.1M654.3 214.5l.1.1M660.5 109.3l.1.1M666.6 286.6l.1.1M672.8 268.2l.1.1M679.0 165.8l.1.1M685.1 176.5l.1.1M691.3 118.7l.1.1M697.5 96.1l.1.1"/>
<path stroke="#bfbf00" d="M81.5 257.7l.1.1M87.6 253.9l.1.1M93.8 249.8l.1.1M99.9 246.0l.1.1M106.1 242.7l.1.1M112.2 239.8l.1.1M118.4 237.3l.1.1M124.6 235.1l.1.1M130.7 233.0l.1.1M136.9 231.0l.1.1M143.0 229.1l.1.1M149.2 227.4l.1.1M155.4 225.7l.1.1M161.5 224.1l.1.1M167.7 222.5l.1.1M173.8 221.0l.1.1M180.0 219.5l.1.1M186.2 218.1l.1.1M192.3 216.8l.1.1M198.5 215.4l.1.1M204.6 214.1l.1.1M210.8 212.9l.1.1M217.0 211.6l.1.1M223.1 210.4l.1.1M229.3 209.3l.1.1M235.4 208.1l.1.1M241.6 207.0l.1.1M247.8 205.8l.1.1M253.9 204.8l.1.1M260.1 203.7l.1.1M266.2 202.6l.1.1M272.4 201.6l.1.1M278.6 200.6l.1.1M284.7 199.6l.1.1M290.9 198.6l.1.1M297.1 197.6l.1.1M303.2 196.6l.1.1M309.4 195.7l.1.1M315.5 194.8l.1.1M321.7 193.8l.1.1M327.8 192.9l.1.1M334.0 192.0l.1.1M340.2 191.1l.1.1M346.3 190.3l.1.1M352.5 189.4l.1.1M358.6 188.5l.1.1M364.8 187.7l.1.1M371.0 186.9l.1.1M377.1 186.0l.1.1M383.3 185.2l.1.1M389.4 184.4l.1.1M395.6 183.4l.1.1M401.8 182.2l.1.1M407.9 180.9l.1.1M414.1 179.8l.1.1M420.2 179.8l.1.1M426.4 182.2l.1.1M432.6 187.0l.1.1M438.7 192.5l.1.1M444.9 197.1l.1.1M451.0 199.4l.1.1M457.2 197.4l.1.1M463.4 188.1l.1.1M469.5 169.0l.1.1M475.7 149.1l.1.1M481.9 140.6l.1.1M488.0 148.4l.1.1M494.2 168.8l.1.1M500.3 193.1l.1.1M506.5 215.9l.1.1M512.7 231.5l.1.1M518.8 201.3l.1.1M525.0 124.3l.1.1M531.1 126.1l.1.1M537.3 184.1l.1.1M543.5 236.2l.1.1M549.6 169.8l.1.1M555.8 161.5l.1.1M561.9 157.8l.1.1M568.1 255.1l.1.1M574.2 117.5l.1.1M580.4 315.3l.1.1M586.6 275.0l.1.1M592.7 320.1l.1.1M598.9 403.5l.1.1M605.1 263.4l.1.1M611.2 338.1l.1.1M617.4 436.2l.1.1M623.5 298.7l.1.1M629.7 133.7l.1.1M635.9 234.0l.1.1M642.0 340.3l.1.1M648.2 319.8l.1.1M654.3 186.2l.1.1M660.5 329.1l.1.1M666.6 304.8l.1.1M672.8 271.0l.1.1M679.0 100.2l.1.1M685.1 261.7l.1.1M691.3 60.0l.1.1M697.5 62.5l.1.1"/>
<path stroke="#404040" d="M81.5 257.7l.1.1M87.6 253.9l.1.1M93.8 249.8l.1.1M99.9 245.9l.1.1M106.1 242.6l.1.1M112.2 239.8l.1.1M118.4 237.3l.1.1M124.6 235.1l.1.1M130.7 233.0l.1.1M136.9 231.0l.1.1M143.0 229.1l.1.1M149.2 227.4l.1.1M155.4 225.7l.1.1M161.5 224.1l.1.1M167.7 222.5l.1.1M173.8 221.0l.1.1M180.0 219.5l.1.1M186.2 218.1l.1.1M192.3 216.8l.1.1M198.5 215.4l.1.1M204.6 214.1l.1.1M210.8 212.9l.1.1M217.0 211.6l.1.1M223.1 210.4l.1.1M229.3 209.3l.1.1M235.4 208.1l.1.1M241.6 207.0l.1.1M247.8 205.8l.1.1M253.9 204.8l.1.1M260.1 203.7l.1.1M266.2 202.6l.1.1M272.4 201.6l.1.1M278.6 200.6l.1.1M284.7 199.6l.1.1M290.9 198.6l.1.1M297.1 197.6l.1.1M303.2 196.6l.1.1M309.4 195.7l.1.1M315.5 194.8l.1.1M321.7 193.8l.1.1M327.8 192.9l.1.1M334.0 192.0l.1.1M340.2 191.1l.1.1M346.3 190.3l.1.1M352.5 189.4l.1.1M358.6 188.5l.1.1M364.8 187.7l.1.1M371.0 186.9l.1.1M377.1 186.0l.1.1M383.3 185.1l.1.1M389.4 184.2l.1.1M395.6 183.3l.1.1M401.8 182.3l.1.1M407.9 181.7l.1.1M414.1 181.9l.1.1M420.2 183.5l.1.1M426.4 186.6l.1.1M432.6 190.1l.1.1M438.7 193.5l.1.1M444.9 197.4l.1.1M451.0 202.3l.1.1M457.2 207.5l.1.1M463.4 211.1l.1.1M469.5 208.9l.1.1M475.7 192.6l.1.1M481.9 163.1l.1.1M488.0 140.2l.1.1M494.2 140.0l.1.1M500.3 160.4l.1.1M506.5 189.2l.1.1M512.7 216.2l.1.1M518.8 234.3l.1.1M525.0 161.3l.1.1M531.1 139.9l.1.1M537.3 145.0l.1.1M543.5 217.2l.1.1M549.6 249.3l.1.1M555.8 120.9l.1.1M561.9 117.0l.1.1M568.1 248.5l.1.1M574.2 229.6l.1.1M580.4 348.7l.1.1M586.6 282.5l.1.1M592.7 357.0l.1.1M598.9 432.8l.1.1M605.1 261.9l.1.1M611.2 385.4l.1.1M617.4 394.9l.1.1M623.5 310.2l.1.1M629.7 86.5l.1.1M635.9 210.6l.1.1M642.0 392.3l.1.1M648.2 361.4l.1.1M654.3 133.1l.1.1M660.5 283.0l.1.1M666.6 337.1l.1.1M672.8 275.9l.1.1M679.0 70.4l.1.1M685.1 260.0l.1.1M691.3 185.3l.1.1M697.5 284.6l.1.1"/>
<path stroke="#0000ff" d="M81.5 257.7l.1.1M87.6 253.9l.1.1M93.8 249.8l.1.1M99.9 245.9l.1.1M106.1 242.6l.1.1M112.2 239.8l.1.1M118.4 237.3l.1.1M124.6 235.1l.1.1M130.7 233.0l.1.1M136.9 231.0l.1.1M143.0 229.1l.1.1M149.2 227.4l.1.1M155.4 225.7l.1.1M161.5 224.1l.1.1M167.7 222.5l.1.1M173.8 221.0l.1.1M180.0 219.5l.1.1M186.2 218.1l.1.1M192.3 216.8l.1.1M198.5 215.4l.1.1M204.6 214.1l.1.1M210.8 212.9l.1.1M217.0 211.6l.1.1M223.1 210.4l.1.1M229.3 209.3l.1.1M235.4 208.1l.1.1M241.6 207.0l.1.1M247.8 205.8l.1.1M253.9 204.8l.1.1M260.1 203.7l.1.1M266.2 202.6l.1.1M272.4 201.6l.1.1M278.6 200.6l.1.1M284.7 199.6l.1.1M290.9 198.6l.1.1M297.1 197.6l.1.1M303.2 196.6l.1.1M309.4 195.7l.1.1M315.5 194.8l.1.1M321.7 193.8l.1.1M327.8 192.9l.1.1M334.0 192.0l.1.1M340.2 191.1l.1.1M346.3 190.3l.1.1M352.5 189.4l.1.1M358.6 188.5l.1.1M364.8 187.7l.1.1M371.0 186.8l.1.1M377.1 186.0l.1.1M383.3 185.1l.1.1M389.4 184.3l.1.1M395.6 183.5l.1.1M401.8 182.8l.1.1M407.9 182.7l.1.1M414.1 183.2l.1.1M420.2 184.0l.1.1M426.4 184.2l.1.1M432.6 183.0l.1.1M438.7 181.9l.1.1M444.9 182.6l.1.1M451.0 186.4l.1.1M457.2 192.9l.1.1M463.4 201.6l.1.1M469.5 211.4l.1.1M475.7 216.9l.1.1M481.9 212.0l.1.1M488.0 183.7l.1.1M494.2 145.2l.1.1M500.3 134.4l.1.1M506.5 155.2l.1.1M512.7 189.0l.1.1M518.8 221.4l.1.1M525.0 233.4l.1.1M531.1 222.2l.1.1M537.3 119.9l.1.1M543.5 187.8l.1.1M549.6 247.1l.1.1M555.8 128.6l.1.1M561.9 131.8l.1.1M568.1 236.6l.1.1M574.2 255.7l.1.1M580.4 394.8l.1.1M586.6 295.0l.1.1M592.7 406.2l.1.1M598.9 337.8l.1.1M605.1 259.2l.1.1M611.2 433.8l.1.1M617.4 236.1l.1.1M623.5 343.6l.1.1M629.7 158.8l.1.1M635.9 169.9l.1.1M642.0 446.3l.1.1M648.2 420.8l.1.1M654.3 80.1l.1.1M660.5 294.9l.1.1M666.6 390.5l.1.1M672.8 285.0l.1.1M679.0 270.1l.1.1M685.1 255.1l.1.1M691.3 346.2l.1.1M697.5 248.3l.1.1"/>
<path stroke="#008000" d="M81.5 257.8l.1.1M87.6 253.9l.1.1M93.8 249.8l.1.1M99.9 245.9l.1.1M106.1 242.6l.1.1M112.2 239.8l.1.1M118.4 237.3l.1.1M124.6 235.1l.1.1M130.7 233.0l.1.1M136.9 231.0l.1.1M143.0 229.1l.1.1M149.2 227.4l.1.1M155.4 225.7l.1.1M161.5 224.1l.1.1M167.7 222.5l.1.1M173.8 221.0l.1.1M180.0 219.5l.1.1M186.2 218.1l.1.1M192.3 216.8l.1.1M198.5 215.4l.1.1M204.6 214.1l.1.1M210.8 212.9l.1.1M217.0 211.6l.1.1M223.1 210.4l.1.1M229.3 209.3l.1.1M235.4 208.1l.1.1M241.6 207.0l.1.1M247.8 205.8l.1.1M253.9 204.8l.1.1M260.1 203.7l.1.1M266.2 202.6l.1.1M272.4 201.6l.1.1M278.6 200.6l.1.1M284.7 199.6l.1.1M290.9 198.6l.1.1M297.1 197.6l.1.1M303.2 196.6l.1.1M309.4 195.7l.1.1M315.5 194.8l.1.1M321.7 193.8l.1.1M327.8 192.9l.1.1M334.0 192.0l.1.1M340.2 191.1l.1.1M346.3 190.3l.1.1M352.5 189.4l.1.1M358.6 188.5l.1.1M364.8 187.7l.1.1M371.0 186.8l.1.1M377.1 186.0l.1.1M383.3 185.2l.1.1M389.4 184.4l.1.1M395.6 183.7l.1.1M401.8 183.2l.1.1M407.9 183.0l.1.1M414.1 182.6l.1.1M420.2 181.2l.1.1M426.4 177.9l.1.1M432.6 173.0l.1.1M438.7 168.2l.1.1M444.9 165.3l.1.1M451.0 165.5l.1.1M457.2 169.8l.1.1M463.4 178.4l.1.1M469.5 191.4l.1.1M475.7 204.9l.1.1M481.9 217.3l.1.1M488.0 221.4l.1.1M494.2 201.7l.1.1M500.3 153.4l.1.1M506.5 131.1l.1.1M512.7 154.0l.1.1M518.8 196.0l.1.1M525.0 234.5l.1.1M531.1 238.2l.1.1M537.3 166.9l.1.1M543.5 148.3l.1.1M549.6 234.4l.1.1M555.8 229.2l.1.1M561.9 239.9l.1.1M568.1 216.8l.1.1M574.2 248.6l.1.1M580.4 426.5l.1.1M586.6 316.2l.1.1M592.7 428.9l.1.1M598.9 254.7l.1.1M605.1 254.5l.1.1M611.2 395.4l.1.1M617.4 243.8l.1.1M623.5 394.5l.1.1M629.7 307.4l.1.1M635.9 112.8l.1.1M642.0 391.2l.1.1M648.2 449.4l.1.1M654.3 150.8l.1.1M660.5 319.6l.1.1M666.6 452.3l.1.1M672.8 301.7l.1.1M679.0 262.0l.1.1M685.1 246.2l.1.1M691.3 398.8l.1.1M697.5 229.8l.1.1"/>
<path stroke="#ff0000" d="M81.5 257.8l.1.1M87.6 253.9l.1.1M93.8 249.7l.1.1M99.9 245.9l.1.1M106.1 242.6l.1.1M112.2 239.8l.1.1M118.4 237.3l.1.1M124.6 235.1l.1.1M130.7 233.0l.1.1M136.9 231.0l.1.1M143.0 229.1l.1.1M149.2 227.4l.1.1M155.4 225.7l.1.1M161.5 224.1l.1.1M167.7 222.5l.1.1M173.8 221.0l.1.1M180.0 219.5l.1.1M186.2 218.1l.1.1M192.3 216.8l.1.1M198.5 215.4l.1.1M204.6 214.1l.1.1M210.8 212.9l.1.1M217.0 211.6l.1.1M223.1 210.4l.1.1M229.3 209.3l.1.1M235.4 208.1l.1.1M241.6 207.0l.1.1M247.8 205.8l.1.1M253.9 204.8l.1.1M260.1 203.7l.1.1M266.2 202.6l.1.1M272.4 201.6l.1.1M278.6 200.6l.1.1M284.7 199.6l.1.1M290.9 198.6l.1.1M297.1 197.6l.1.1M303.2 196.6l.1.1M309.4 195.7l.1.1M315.5 194.8l.1.1M321.7 193.8l.1.1M327.8 192.9l.1.1M334.0 192.0l.1.1M340.2 191.1l.1.1M346.3 190.3l.1.1M352.5 189.4l.1.1M358.6 188.5l.1.1M364.8 187.7l.1.1M371.0 186.8l.1.1M377.1 186.0l.1.1M383.3 185.2l.1.1M389.4 184.5l.1.1M395.6 183.8l.1.1M401.8 183.2l.1.1M407.9 182.3l.1.1M414.1 180.7l.1.1M420.2 177.8l.1.1M426.4 173.6l.1.1M432.6 168.9l.1.1M438.7 164.5l.1.1M444.9 159.9l.1.1M451.0 155.2l.1.1M457.2 152.5l.1.1M463.4 154.7l.1.1M469.5 164.4l.1.1M475.7 179.4l.1.1M481.9 197.2l.1.1M488.0 213.5l.1.1M494.2 224.4l.1.1M500.3 215.3l.1.1M506.5 159.5l.1.1M512.7 128.9l.1.1M518.8 161.3l.1.1M525.0 215.6l.1.1M531.1 222.4l.1.1M537.3 241.5l.1.1M543.5 118.1l.1.1M549.6 214.2l.1.1M555.8 248.5l.1.1M561.9 251.5l.1.1M568.1 185.2l.1.1M574.2 236.7l.1.1M580.4 356.8l.1.1M586.6 350.5l.1.1M592.7 326.3l.1.1M598.9 249.1l.1.1M605.1 246.2l.1.1M611.2 242.2l.1.1M617.4 226.6l.1.1M623.5 441.4l.1.1M629.7 313.9l.1.1M635.9 86.2l.1.1M642.0 210.5l.1.1M648.2 292.8l.1.1M654.3 325.3l.1.1M660.5 362.1l.1.1M666.6 407.7l.1.1M672.8 332.1l.1.1M679.0 258.5l.1.1M685.1 229.4l.1.1M691.3 457.6l.1.1M697.5 199.1l.1.1"/>
<path stroke="#00bfbf" d="M81.5 257.8l.1.1M87.6 253.9l.1.1M93.8 249.7l.1.1M99.9 245.9l.1.1M106.1 242.6l.1.1M112.2 239.8l.1.1M118.4 237.3l.1.1M124.6 235.1l.1.1M130.7 233.0l.1.1M136.9 231.0l.1.1M143.0 229.1l.1.1M149.2 227.4l.1.1M155.4 225.7l.1.1M161.5 224.1l.1.1M167.7 222.5l.1.1M173.8 221.0l.1.1M180.0 219.5l.1.1M186.2 218.1l.1.1M192.3 216.8l.1.1M198.5 215.4l.1.1M204.6 214.1l.1.1M210.8 212.9l.1.1M217.0 211.6l.1.1M223.1 210.4l.1.1M229.3 209.3l.1.1M235.4 208.1l.1.1M241.6 207.0l.1.1M247.8 205.8l.1.1M253.9 204.8l.1.1M260.1 203.7l.1.1M266.2 202.6l.1.1M272.4 201.6l.1.1M278.6 200.6l.1.1M284.7 199.6l.1.1M290.9 198.6l.1.1M297.1 197.6l.1.1M303.2 196.6l.1.1M309.4 195.7l.1.1M315.5 194.8l.1.1M321.7 193.8l.1.1M327.8 192.9l.1.1M334.0 192.0l.1.1M340.2 191.1l.1.1M346.3 190.3l.1.1M352.5 189.4l.1.1M358.6 188.5l.1.1M364.8 187.7l.1.1M371.0 186.9l.1.1M377.1 186.0l.1.1M383.3 185.3l.1.1M389.4 184.5l.1.1M395.6 183.7l.1.1M401.8 182.8l.1.1M407.9 181.4l.1.1M414.1 179.5l.1.1M420.2 177.1l.1.1M426.4 175.6l.1.1M432.6 176.1l.1.1M438.7 177.6l.1.1M444.9 177.1l.1.1M451.0 172.1l.1.1M457.2 162.5l.1.1M463.4 151.6l.1.1M469.5 146.0l.1.1M475.7 152.0l.1.1M481.9 168.2l.1.1M488.0 188.9l.1.1M494.2 209.3l.1.1M500.3 225.5l.1.1M506.5 222.7l.1.1M512.7 158.8l.1.1M518.8 129.6l.1.1M525.0 187.0l.1.1M531.1 196.5l.1.1M537.3 239.9l.1.1M543.5 157.0l.1.1M549.6 182.9l.1.1M555.8 237.1l.1.1M561.9 241.3l.1.1M568.1 141.5l.1.1M574.2 216.8l.1.1M580.4 261.8l.1.1M586.6 397.9l.1.1M592.7 261.6l.1.1M598.9 236.8l.1.1M605.1 231.8l.1.1M611.2 248.9l.1.1M617.4 197.7l.1.1M623.5 376.6l.1.1M629.7 349.0l.1.1M635.9 230.6l.1.1M642.0 218.4l.1.1M648.2 252.6l.1.1M654.3 329.9l.1.1M660.5 423.9l.1.1M666.6 185.5l.1.1M672.8 383.5l.1.1M679.0 252.7l.1.1M685.1 198.7l.1.1M691.3 390.6l.1.1M697.5 145.4l.1.1"/>
<path stroke="#bf00bf" d="M81.5 257.9l.1.1M87.6 253.9l.1.1M93.8 249.7l.1.1M99.9 245.8l.1.1M106.1 242.6l.1.1M112.2 239.8l.1.1M118.4 237.3l.1.1M124.6 235.1l.1.1M130.7 233.0l.1.1M136.9 231.0l.1.1M143.0 229.1l.1.1M149.2 227.4l.1.1M155.4 225.7l.1.1M161.5 224.1l.1.1M167.7 222.5l.1.1M173.8 221.0l.1.1M180.0 219.5l.1.1M186.2 218.1l.1.1M192.3 216.8l.1.1M198.5 215.4l.1.1M204.6 214.1l.1.1M210.8 212.9l.1.1M217.0 211.6l.1.1M223.1 210.4l.1.1M229.3 209.3l.1.1M235.4 208.1l.1.1M241.6 207.0l.1.1M247.8 205.8l.1.1M253.9 204.8l.1.1M260.1 203.7l.1.1M266.2 202.6l.1.1M272.4 201.6l.1.1M278.6 200.6l.1.1M284.7 199.6l.1.1M290.9 198.6l.1.1M297.1 197.6l.1.1M303.2 196.6l.1.1M309.4 195.7l.1.1M315.5 194.8l.1.1M321.7 193.8l.1.1M327.8 192.9l.1.1M334.0 192.0l.1.1M340.2 191.1l.1.1M346.3 190.3l.1.1M352.5 189.4l.1.1M358.6 188.5l.1.1M364.8 187.7l.1.1M371.0 186.9l.1.1M377.1 186.0l.1.1M383.3 185.2l.1.1M389.4 184.4l.1.1M395.6 183.5l.1.1M401.8 182.4l.1.1M407.9 181.1l.1.1M414.1 179.9l.1.1M420.2 179.9l.1.1M426.4 182.2l.1.1M432.6 187.1l.1.1M438.7 192.8l.1.1M444.9 197.5l.1.1M451.0 199.5l.1.1M457.2 196.4l.1.1M463.4 184.8l.1.1M469.5 163.0l.1.1M475.7 145.2l.1.1M481.9 143.1l.1.1M488.0 157.9l.1.1M494.2 181.7l.1.1M500.3 206.5l.1.1M506.5 226.9l.1.1M512.7 225.7l.1.1M518.8 143.7l.1.1M525.0 150.0l.1.1M531.1 160.4l.1.1M537.3 223.3l.1.1M543.5 242.5l.1.1M549.6 141.8l.1.1M555.8 218.1l.1.1M561.9 224.9l.1.1M568.1 108.9l.1.1M574.2 184.6l.1.1M580.4 260.9l.1.1M586.6 428.7l.1.1M592.7 259.3l.1.1M598.9 215.8l.1.1M605.1 207.0l.1.1M611.2 235.4l.1.1M617.4 151.8l.1.1M623.5 228.0l.1.1M629.7 402.2l.1.1M635.9 277.9l.1.1M642.0 186.6l.1.1M648.2 240.6l.1.1M654.3 371.0l.1.1M660.5 454.2l.1.1M666.6 218.3l.1.1M672.8 448.6l.1.1M679.0 241.7l.1.1M685.1 146.1l.1.1M691.3 183.2l.1.1M697.5 74.5l.1.1"/>
<path stroke="#bfbf00" d="M81.5 257.9l.1.1M87.6 253.9l.1.1M93.8 249.7l.1.1M99.9 245.8l.1.1M106.1 242.6l.1.1M112.2 239.8l.1.1M118.4 237.3l.1.1M124.6 235.1l.1.1M130.7 233.0l.1.1M136.9 231.0l.1.1M143.0 229.1l.1.1M149.2 227.4l.1.1M155.4 225.7l.1.1M161.5 224.1l.1.1M167.7 222.5l.1.1M173.8 221.0l.1.1M180.0 219.5l.1.1M186.2 218.1l.1.1M192.3 216.8l.1.1M198.5 215.4l.1.1M204.6 214.1l.1.1M210.8 212.9l.1.1M217.0 211.6l.1.1M223.1 210.4l.1.1M229.3 209.3l.1.1M235.4 208.1l.1.1M241.6 207.0l.1.1M247.8 205.8l.1.1M253.9 204.8l.1.1M260.1 203.7l.1.1M266.2 202.6l.1.1M272.4 201.6l.1.1M278.6 200.6l.1.1M284.7 199.6l.1.1M290.9 198.6l.1.1M297.1 197.6l.1.1M303.2 196.6l.1.1M309.4 195.7l.1.1M315.5 194.8l.1.1M321.7 193.8l.1.1M327.8 192.9l.1.1M334.0 192.0l.1.1M340.2 191.1l.1.1M346.3 190.3l.1.1M352.5 189.4l.1.1M358.6 188.5l.1.1M364.8 187.7l.1.1M371.0 186.9l.1.1M377.1 186.0l.1.1M383.3 185.2l.1.1M389.4 184.3l.1.1M395.6 183.4l.1.1M401.8 182.4l.1.1M407.9 181.6l.1.1M414.1 181.6l.1.1M420.2 183.1l.1.1M426.4 186.1l.1.1M432.6 189.5l.1.1M438.7 192.8l.1.1M444.9 197.0l.1.1M451.0 202.3l.1.1M457.2 207.6l.1.1M463.4 210.7l.1.1M469.5 205.2l.1.1M475.7 182.8l.1.1M481.9 151.7l.1.1M488.0 138.0l.1.1M494.2 149.8l.1.1M500.3 177.0l.1.1M506.5 206.5l.1.1M512.7 229.4l.1.1M518.8 217.7l.1.1M525.0 124.3l.1.1M531.1 126.2l.1.1M537.3 197.4l.1.1M543.5 243.9l.1.1M549.6 115.5l.1.1M555.8 188.2l.1.1M561.9 198.3l.1.1M568.1 164.0l.1.1M574.2 139.9l.1.1M580.4 257.4l.1.1M586.6 350.4l.1.1M592.7 254.8l.1.1M598.9 181.2l.1.1M605.1 167.1l.1.1M611.2 213.0l.1.1M617.4 99.4l.1.1M623.5 225.5l.1.1M629.7 445.0l.1.1M635.9 289.0l.1.1M642.0 133.9l.1.1M648.2 220.6l.1.1M654.3 429.4l.1.1M660.5 284.2l.1.1M666.6 195.0l.1.1M672.8 428.3l.1.1M679.0 221.3l.1.1M685.1 78.1l.1.1M691.3 186.3l.1.1M697.5 94.8l.1.1"/>
<path stroke="#404040" d="M81.5 257.9l.1.1M87.6 253.9l.1.1M93.8 249.7l.1.1M99.9 245.8l.1.1M106.1 242.6l.1.1M112.2 239.8l.1.1M118.4 237.3l.1.1M124.6 235.1l.1.1M130.7 233.0l.1.1M136.9 231.0l.1.1M143.0 229.1l.1.1M149.2 227.4l.1.1M155.4 225.7l.1.1M161.5 224.1l.1.1M167.7 222.5l.1.1M173.8 221.0l.1.1M180.0 219.5l.1.1M186.2 218.1l.1.1M192.3 216.8l.1.1M198.5 215.4l.1.1M204.6 214.1l.1.1M210.8 212.9l.1.1M217.0 211.6l.1.1M223.1 210.4l.1.1M229.3 209.3l.1.1M235.4 208.1l.1.1M241.6 207.0l.1.1M247.8 205.8l.1.1M253.9 204.8l.1.1M260.1 203.7l.1.1M266.2 202.6l.1.1M272.4 201.6l.1.1M278.6 200.6l.1.1M284.7 199.6l.1.1M290.9 198.6l.1.1M297.1 197.6l.1.1M303.2 196.6l.1.1M309.4 195.7l.1.1M315.5 194.8l.1.1M321.7 193.8l.1.1M327.8 192.9l.1.1M334.0 192.0l.1.1M340.2 191.1l.1.1M346.3 190.3l.1.1M352.5 189.4l.1.1M358.6 188.5l.1.1M364.8 187.7l.1.1M371.0 186.8l.1.1M377.1 186.0l.1.1M383.3 185.2l.1.1M389.4 184.3l.1.1M395.6 183.5l.1.1M401.8 182.7l.1.1M407.9 182.4l.1.1M414.1 182.8l.1.1M420.2 183.6l.1.1M426.4 183.6l.1.1M432.6 182.3l.1.1M438.7 180.9l.1.1M444.9 181.9l.1.1M451.0 186.3l.1.1M457.2 193.6l.1.1M463.4 203.1l.1.1M469.5 212.9l.1.1M475.7 216.1l.1.1M481.9 201.8l.1.1M488.0 163.8l.1.1M494.2 136.3l.1.1M500.3 144.4l.1.1M506.5 176.2l.1.1M512.7 209.5l.1.1M518.8 233.3l.1.1M525.0 161.3l.1.1M531.1 139.8l.1.1M537.3 160.9l.1.1M543.5 229.4l.1.1M549.6 170.2l.1.1M555.8 146.9l.1.1M561.9 158.9l.1.1M568.1 261.1l.1.1M574.2 106.6l.1.1M580.4 251.7l.1.1M586.6 258.9l.1.1M592.7 246.9l.1.1M598.9 132.1l.1.1M605.1 115.4l.1.1M611.2 175.8l.1.1M617.4 118.4l.1.1M623.5 195.7l.1.1M629.7 354.8l.1.1M635.9 307.7l.1.1M642.0 83.1l.1.1M648.2 185.5l.1.1M654.3 439.1l.1.1M660.5 254.6l.1.1M666.6 144.2l.1.1M672.8 190.3l.1.1M679.0 184.7l.1.1M685.1 99.1l.1.1M691.3 148.6l.1.1M697.5 372.4l.1.1"/>
<path stroke="#0000ff" d="M81.5 257.9l.1.1M87.6 253.9l.1.1M93.8 249.6l.1.1M99.9 245.8l.1.1M106.1 242.6l.1.1M112.2 239.8l.1.1M118.4 237.3l.1.1M124.6 235.1l.1.1M130.7 233.0l.1.1M136.9 231.0l.1.1M143.0 229.1l.1.1M149.2 227.4l.1.1M155.4 225.7l.1.1M161.5 224.1l.1.1M167.7 222.5l.1.1M173.8 221.0l.1.1M180.0 219.5l.1.1M186.2 218.1l.1.1M192.3 216.8l.1.1M198.5 215.4l.1.1M204.6 214.1l.1.1M210.8 212.9l.1.1M217.0 211.6l.1.1M223.1 210.4l.1.1M229.3 209.3l.1.1M235.4 208.1l.1.1M241.6 207.0l.1.1M247.8 205.8l.1.1M253.9 204.8l.1.1M260.1 203.7l.1.1M266.2 202.6l.1.1M272.4 201.6l.1.1M278.6 200.6l.1.1M284.7 199.6l.1.1M290.9 198.6l.1.1M297.1 197.6l.1.1M303.2 196.6l.1.1M309.4 195.7l.1.1M315.5 194.8l.1.1M321.7 193.8l.1.1M327.8 192.9l.1.1M334.0 192.0l.1.1M340.2 191.1l.1.1M346.3 190.3l.1.1M352.5 189.4l.1.1M358.6 188.5l.1.1M364.8 187.7l.1.1M371.0 186.8l.1.1M377.1 186.0l.1.1M383.3 185.2l.1.1M389.4 184.4l.1.1M395.6 183.6l.1.1M401.8 183.1l.1.1M407.9 182.8l.1.1M414.1 182.4l.1.1M420.2 181.1l.1.1M426.4 177.8l.1.1M432.6 172.7l.1.1M438.7 167.7l.1.1M444.9 164.7l.1.1M451.0 165.4l.1.1M457.2 170.6l.1.1M463.4 180.6l.1.1M469.5 194.8l.1.1M475.7 209.0l.1.1M481.9 219.2l.1.1M488.0 215.6l.1.1M494.2 176.9l.1.1M500.3 135.8l.1.1M506.5 142.5l.1.1M512.7 179.5l.1.1M518.8 216.2l.1.1M525.0 233.4l.1.1M531.1 222.2l.1.1M537.3 125.0l.1.1M543.5 206.6l.1.1M549.6 249.3l.1.1M555.8 113.9l.1.1M561.9 117.7l.1.1M568.1 260.7l.1.1M574.2 165.6l.1.1M580.4 241.8l.1.1M586.6 256.6l.1.1M592.7 233.3l.1.1M598.9 97.3l.1.1M605.1 101.6l.1.1M611.2 123.8l.1.1M617.4 282.5l.1.1M623.5 148.4l.1.1M629.7 229.1l.1.1M635.9 340.3l.1.1M642.0 153.2l.1.1M648.2 130.7l.1.1M654.3 260.7l.1.1M660.5 243.9l.1.1M666.6 82.5l.1.1M672.8 254.6l.1.1M679.0 125.4l.1.1M685.1 356.4l.1.1M691.3 93.2l.1.1M697.5 266.8l.1.1"/>
<path stroke="#008000" d="M81.5 258.0l.1.1M87.6 253.9l.1.1M93.8 249.6l.1.1M99.9 245.8l.1.1M106.1 242.5l.1.1M112.2 239.8l.1.1M118.4 237.3l.1.1M124.6 235.1l.1.1M130.7 233.0l.1.1M136.9 231.0l.1.1M143.0 229.1l.1.1M149.2 227.4l.1.1M155.4 225.7l.1.1M161.5 224.1l.1.1M167.7 222.5l.1.1M173.8 221.0l.1.1M180.0 219.5l.1.1M186.2 218.1l.1.1M192.3 216.8l.1.1M198.5 215.4l.1.1M204.6 214.1l.1.1M210.8 212.9l.1.1M217.0 211.6l.1.1M223.1 210.4l.1.1M229.3 209.3l.1.1M235.4 208.1l.1.1M241.6 207.0l.1.1M247.8 205.8l.1.1M253.9 204.8l.1.1M260.1 203.7l.1.1M266.2 202.6l.1.1M272.4 201.6l.1.1M278.6 200.6l.1.1M284.7 199.6l.1.1M290.9 198.6l.1.1M297.1 197.6l.1.1M303.2 196.6l.1.1M309.4 195.7l.1.1M315.5 194.8l.1.1M321.7 193.8l.1.1M327.8 192.9l.1.1M334.0 192.0l.1.1M340.2 191.1l.1.1M346.3 190.3l.1.1M352.5 189.4l.1.1M358.6 188.5l.1.1M364.8 187.7l.1.1M371.0 186.8l.1.1M377.1 186.0l.1.1M383.3 185.2l.1.1M389.4 184.4l.1.1M395.6 183.7l.1.1M401.8 183.1l.1.1M407.9 182.3l.1.1M414.1 180.9l.1.1M420.2 178.1l.1.1M426.4 173.9l.1.1M432.6 169.4l.1.1M438.7 165.0l.1.1M444.9 160.2l.1.1M451.0 155.2l.1.1M457.2 152.8l.1.1M463.4 156.3l.1.1M469.5 168.2l.1.1M475.7 185.2l.1.1M481.9 203.4l.1.1M488.0 219.3l.1.1M494.2 223.0l.1.1M500.3 186.2l.1.1M506.5 133.7l.1.1M512.7 144.2l.1.1M518.8 188.4l.1.1M525.0 234.5l.1.1M531.1 238.2l.1.1M537.3 136.6l.1.1M543.5 172.5l.1.1M549.6 247.1l.1.1M555.8 155.7l.1.1M561.9 130.0l.1.1M568.1 257.2l.1.1M574.2 265.2l.1.1M580.4 225.0l.1.1M586.6 249.9l.1.1M592.7 210.3l.1.1M598.9 177.3l.1.1M605.1 231.3l.1.1M611.2 93.4l.1.1M617.4 271.9l.1.1M623.5 95.4l.1.1M629.7 214.8l.1.1M635.9 391.5l.1.1M642.0 317.2l.1.1M648.2 79.3l.1.1M654.3 266.2l.1.1M660.5 226.2l.1.1M666.6 113.3l.1.1M672.8 248.3l.1.1M679.0 67.0l.1.1M685.1 273.6l.1.1M691.3 102.4l.1.1M697.5 267.1l.1.1"/>
<path stroke="#ff0000" d="M81.5 258.0l.1.1M87.6 253.9l.1.1M93.8 249.6l.1.1M99.9 245.8l.1.1M106.1 242.5l.1.1M112.2 239.8l.1.1M118.4 237.3l.1.1M124.6 235.1l.1.1M130.7 233.0l.1.1M136.9 231.0l.1.1M143.0 229.1l.1.1M149.2 227.4l.1.1M155.4 225.7l.1.1M161.5 224.1l.1.1M167.7 222.5l.1.1M173.8 221.0l.1.1M180.0 219.5l.1.1M186.2 218.1l.1.1M192.3 216.8l.1.1M198.5 215.4l.1.1M204.6 214.1l.1.1M210.8 212.9l.1.1M217.0 211.6l.1.1M223.1 210.4l.1.1M229.3 209.3l.1.1M235.4 208.1l.1.1M241.6 207.0l.1.1M247.8 205.8l.1.1M253.9 204.8l.1.1M260.1 203.7l.1.1M266.2 202.6l.1.1M272.4 201.6l.1.1M278.6 200.6l.1.1M284.7 199.6l.1.1M290.9 198.6l.1.1M297.1 197.6l.1.1M303.2 196.6l.1.1M309.4 195.7l.1.1M315.5 194.8l.1.1M321.7 193.8l.1.1M327.8 192.9l.1.1M334.0 192.0l.1.1M340.2 191.1l.1.1M346.3 190.3l.1.1M352.5 189.4l.1.1M358.6 188.5l.1.1M364.8 187.7l.1.1M371.0 186.8l.1.1M377.1 186.0l.1.1M383.3 185.2l.1.1M389.4 184.5l.1.1M395.6 183.7l.1.1M401.8 182.8l.1.1M407.9 181.6l.1.1M414.1 179.8l.1.1M420.2 177.5l.1.1M426.4 176.1l.1.1M432.6 176.9l.1.1M438.7 178.7l.1.1M444.9 178.1l.1.1M451.0 172.3l.1.1M457.2 161.6l.1.1M463.4 150.4l.1.1M469.5 147.1l.1.1M475.7 156.9l.1.1M481.9 176.0l.1.1M488.0 198.4l.1.1M494.2 218.2l.1.1M500.3 226.8l.1.1M506.5 187.6l.1.1M512.7 129.6l.1.1M518.8 152.4l.1.1M525.0 215.6l.1.1M531.1 222.4l.1.1M537.3 223.0l.1.1M543.5 132.4l.1.1M549.6 234.4l.1.1M555.8 250.8l.1.1M561.9 237.7l.1.1M568.1 251.5l.1.1M574.2 265.2l.1.1M580.4 197.2l.1.1M586.6 238.6l.1.1M592.7 173.1l.1.1M598.9 280.3l.1.1M605.1 266.5l.1.1M611.2 199.3l.1.1M617.4 277.6l.1.1M623.5 122.9l.1.1M629.7 177.5l.1.1M635.9 444.0l.1.1M642.0 322.0l.1.1M648.2 160.2l.1.1M654.3 267.0l.1.1M660.5 194.4l.1.1M666.6 334.9l.1.1M672.8 233.3l.1.1M679.0 164.9l.1.1M685.1 277.1l.1.1M691.3 290.7l.1.1M697.5 268.7l.1.1"/>
<path stroke="#00bfbf" d="M81.5 258.0l.1.1M87.6 253.9l.1.1M93.8 249.6l.1.1M99.9 245.8l.1.1M106.1 242.5l.1.1M112.2 239.8l.1.1M118.4 237.3l.1.1M124.6 235.1l.1.1M130.7 233.0l.1.1M136.9 231.0l.1.1M143.0 229.1l.1.1M149.2 227.4l.1.1M155.4 225.7l.1.1M161.5 224.1l.1.1M167.7 222.5l.1.1M173.8 221.0l.1.1M180.0 219.5l.1.1M186.2 218.1l.1.1M192.3 216.8l.1.1M198.5 215.4l.1.1M204.6 214.1l.1.1M210.8 212.9l.1.1M217.0 211.6l.1.1M223.1 210.4l.1.1M229.3 209.3l.1.1M235.4 208.1l.1.1M241.6 207.0l.1.1M247.8 205.8l.1.1M253.9 204.8l.1.1M260.1 203.7l.1.1M266.2 202.6l.1.1M272.4 201.6l.1.1M278.6 200.6l.1.1M284.7 199.6l.1.1M290.9 198.6l.1.1M297.1 197.6l.1.1M303.2 196.6l.1.1M309.4 195.7l.1.1M315.5 194.8l.1.1M321.7 193.8l.1.1M327.8 192.9l.1.1M334.0 192.0l.1.1M340.2 191.1l.1.1M346.3 190.3l.1.1M352.5 189.4l.1.1M358.6 188.5l.1.1M364.8 187.7l.1.1M371.0 186.9l.1.1M377.1 186.0l.1.1M383.3 185.2l.1.1M389.4 184.4l.1.1M395.6 183.5l.1.1M401.8 182.5l.1.1M407.9 181.3l.1.1M414.1 180.1l.1.1M420.2 179.9l.1.1M426.4 182.2l.1.1M432.6 187.3l.1.1M438.7 193.1l.1.1M444.9 197.8l.1.1M451.0 199.6l.1.1M457.2 195.5l.1.1M463.4 181.3l.1.1M469.5 158.0l.1.1M475.7 143.2l.1.1M481.9 147.9l.1.1M488.0 168.6l.1.1M494.2 194.7l.1.1M500.3 217.8l.1.1M506.5 229.4l.1.1M512.7 180.0l.1.1M518.8 126.6l.1.1M525.0 187.0l.1.1M531.1 196.5l.1.1M537.3 240.7l.1.1M543.5 121.7l.1.1M549.6 214.1l.1.1M555.8 251.6l.1.1M561.9 251.3l.1.1M568.1 241.7l.1.1M574.2 265.1l.1.1M580.4 155.4l.1.1M586.6 219.3l.1.1M592.7 123.9l.1.1M598.9 285.5l.1.1M605.1 267.4l.1.1M611.2 280.7l.1.1M617.4 287.1l.1.1M623.5 293.7l.1.1M629.7 123.0l.1.1M635.9 390.8l.1.1M642.0 360.5l.1.1M648.2 323.1l.1.1M654.3 268.4l.1.1M660.5 142.1l.1.1M666.6 291.7l.1.1M672.8 206.5l.1.1M679.0 349.1l.1.1M685.1 287.9l.1.1M691.3 269.1l.1.1M697.5 271.8l.1.1"/>
<path stroke="#bf00bf" d="M81.5 258.0l.1.1M87.6 253.9l.1.1M93.8 249.6l.1.1M99.9 245.7l.1.1M106.1 242.5l.1.1M112.2 239.8l.1.1M118.4 237.3l.1.1M124.6 235.1l.1.1M130.7 233.0l.1.1M136.9 231.0l.1.1M143.0 229.1l.1.1M149.2 227.4l.1.1M155.4 225.7l.1.1M161.5 224.1l.1.1M167.7 222.5l.1.1M173.8 221.0l.1.1M180.0 219.5l.1.1M186.2 218.1l.1.1M192.3 216.8l.1.1M198.5 215.4l.1.1M204.6 214.1l.1.1M210.8 212.9l.1.1M217.0 211.6l.1.1M223.1 210.4l.1.1M229.3 209.3l.1.1M235.4 208.1l.1.1M241.6 207.0l.1.1M247.8 205.8l.1.1M253.9 204.8l.1.1M260.1 203.7l.1.1M266.2 202.6l.1.1M272.4 201.6l.1.1M278.6 200.6l.1.1M284.7 199.6l.1.1M290.9 198.6l.1.1M297.1 197.6l.1.1M303.2 196.6l.1.1M309.4 195.7l.1.1M315.5 194.8l.1.1M321.7 193.8l.1.1M327.8 192.9l.1.1M334.0 192.0l.1.1M340.2 191.1l.1.1M346.3 190.3l.1.1M352.5 189.4l.1.1M358.6 188.5l.1.1M364.8 187.7l.1.1M371.0 186.9l.1.1M377.1 186.0l.1.1M383.3 185.2l.1.1M389.4 184.3l.1.1M395.6 183.4l.1.1M401.8 182.5l.1.1M407.9 181.6l.1.1M414.1 181.4l.1.1M420.2 182.7l.1.1M426.4 185.6l.1.1M432.6 188.9l.1.1M438.7 192.2l.1.1M444.9 196.5l.1.1M451.0 202.2l.1.1M457.2 207.8l.1.1M463.4 210.1l.1.1M469.5 200.6l.1.1M475.7 172.5l.1.1M481.9 144.4l.1.1M488.0 141.5l.1.1M494.2 163.2l.1.1M500.3 192.9l.1.1M506.5 220.1l.1.1M512.7 231.5l.1.1M518.8 158.9l.1.1M525.0 150.0l.1.1M531.1 160.5l.1.1M537.3 225.9l.1.1M543.5 198.0l.1.1M549.6 182.7l.1.1M555.8 241.6l.1.1M561.9 241.0l.1.1M568.1 225.2l.1.1M574.2 265.0l.1.1M580.4 110.9l.1.1M586.6 187.8l.1.1M592.7 102.1l.1.1M598.9 300.9l.1.1M605.1 269.0l.1.1M611.2 290.2l.1.1M617.4 303.9l.1.1M623.5 279.3l.1.1M629.7 85.7l.1.1M635.9 216.7l.1.1M642.0 417.5l.1.1M648.2 335.6l.1.1M654.3 270.9l.1.1M660.5 81.4l.1.1M666.6 308.0l.1.1M672.8 159.9l.1.1M679.0 379.0l.1.1M685.1 307.4l.1.1M691.3 272.8l.1.1M697.5 277.5l.1.1"/>
<path stroke="#bfbf00" d="M81.5 258.1l.1.1M87.6 253.9l.1.1M93.8 249.6l.1.1M99.9 245.7l.1.1M106.1 242.5l.1.1M112.2 239.8l.1.1M118.4 237.3l.1.1M124.6 235.1l.1.1M130.7 233.0l.1.1M136.9 231.0l.1.1M143.0 229.1l.1.1M149.2 227.4l.1.1M155.4 225.7l.1.1M161.5 224.1l.1.1M167.7 222.5l.1.1M173.8 221.0l.1.1M180.0 219.5l.1.1M186.2 218.1l.1.1M192.3 216.8l.1.1M198.5 215.4l.1.1M204.6 214.1l.1.1M210.8 212.9l.1.1M217.0 211.6l.1.1M223.1 210.4l.1.1M229.3 209.3l.1.1M235.4 208.1l.1.1M241.6 207.0l.1.1M247.8 205.8l.1.1M253.9 204.8l.1.1M260.1 203.7l.1.1M266.2 202.6l.1.1M272.4 201.6l.1.1M278.6 200.6l.1.1M284.7 199.6l.1.1M290.9 198.6l.1.1M297.1 197.6l.1.1M303.2 196.6l.1.1M309.4 195.7l.1.1M315.5 194.8l.1.1M321.7 193.8l.1.1M327.8 192.9l.1.1M334.0 192.0l.1.1M340.2 191.1l.1.1M346.3 190.3l.1.1M352.5 189.4l.1.1M358.6 188.5l.1.1M364.8 187.7l.1.1M371.0 186.8l.1.1M377.1 186.0l.1.1M383.3 185.2l.1.1M389.4 184.3l.1.1M395.6 183.5l.1.1M401.8 182.7l.1.1M407.9 182.3l.1.1M414.1 182.5l.1.1M420.2 183.2l.1.1M426.4 183.2l.1.1M432.6 181.6l.1.1M438.7 180.0l.1.1M444.9 181.1l.1.1M451.0 186.2l.1.1M457.2 194.3l.1.1M463.4 204.6l.1.1M469.5 213.8l.1.1M475.7 213.5l.1.1M481.9 188.6l.1.1M488.0 148.3l.1.1M494.2 137.2l.1.1M500.3 160.2l.1.1M506.5 195.4l.1.1M512.7 225.2l.1.1M518.8 229.1l.1.1M525.0 124.3l.1.1M531.1 126.2l.1.1M537.3 201.5l.1.1M543.5 245.1l.1.1M549.6 141.6l.1.1M555.8 225.5l.1.1M561.9 224.4l.1.1M568.1 198.4l.1.1M574.2 264.7l.1.1M580.4 128.1l.1.1M586.6 142.1l.1.1M592.7 206.4l.1.1M598.9 326.7l.1.1M605.1 271.7l.1.1M611.2 309.3l.1.1M617.4 332.8l.1.1M623.5 290.9l.1.1M629.7 194.8l.1.1M635.9 224.0l.1.1M642.0 445.9l.1.1M648.2 380.2l.1.1M654.3 275.6l.1.1M660.5 120.7l.1.1M666.6 343.0l.1.1M672.8 94.5l.1.1M679.0 425.5l.1.1M685.1 343.0l.1.1M691.3 279.3l.1.1M697.5 288.4l.1.1"/>
<path stroke="#404040" d="M81.5 258.1l.1.1M87.6 253.9l.1.1M93.8 249.6l.1.1M99.9 245.7l.1.1M106.1 242.5l.1.1M112.2 239.8l.1.1M118.4 237.3l.1.1M124.6 235.1l.1.1M130.7 233.0l.1.1M136.9 231.0l.1.1M143.0 229.1l.1.1M149.2 227.4l.1.1M155.4 225.7l.1.1M161.5 224.1l.1.1M167.7 222.5l.1.1M173.8 221.0l.1.1M180.0 219.5l.1.1M186.2 218.1l.1.1M192.3 216.8l.1.1M198.5 215.4l.1.1M204.6 214.1l.1.1M210.8 212.9l.1.1M217.0 211.6l.1.1M223.1 210.4l.1.1M229.3 209.3l.1.1M235.4 208.1l.1.1M241.6 207.0l.1.1M247.8 205.8l.1.1M253.9 204.8l.1.1M260.1 203.7l.1.1M266.2 202.6l.1.1M272.4 201.6l.1.1M278.6 200.6l.1.1M284.7 199.6l.1.1M290.9 198.6l.1.1M297.1 197.6l.1.1M303.2 196.6l.1.1M309.4 195.7l.1.1M315.5 194.8l.1.1M321.7 193.8l.1.1M327.8 192.9l.1.1M334.0 192.0l.1.1M340.2 191.1l.1.1M346.3 190.3l.1.1M352.5 189.4l.1.1M358.6 188.5l.1.1M364.8 187.7l.1.1M371.0 186.8l.1.1M377.1 186.0l.1.1M383.3 185.2l.1.1M389.4 184.4l.1.1M395.6 183.6l.1.1M401.8 183.0l.1.1M407.9 182.6l.1.1M414.1 182.3l.1.1M420.2 181.0l.1.1M426.4 177.7l.1.1M432.6 172.4l.1.1M438.7 167.1l.1.1M444.9 164.2l.1.1M451.0 165.3l.1.1M457.2 171.4l.1.1M463.4 182.7l.1.1M469.5 197.9l.1.1M475.7 212.5l.1.1M481.9 219.3l.1.1M488.0 201.7l.1.1M494.2 152.3l.1.1M500.3 134.3l.1.1M506.5 162.2l.1.1M512.7 202.3l.1.1M518.8 232.0l.1.1M525.0 161.3l.1.1M531.1 139.8l.1.1M537.3 166.2l.1.1M543.5 236.3l.1.1M549.6 115.5l.1.1M555.8 199.6l.1.1M561.9 197.4l.1.1M568.1 158.3l.1.1M574.2 264.3l.1.1M580.4 253.3l.1.1M586.6 102.9l.1.1M592.7 268.5l.1.1M598.9 367.6l.1.1M605.1 276.6l.1.1M611.2 341.3l.1.1M617.4 378.5l.1.1M623.5 310.6l.1.1M629.7 293.5l.1.1M635.9 194.5l.1.1M642.0 303.7l.1.1M648.2 436.2l.1.1M654.3 284.1l.1.1M660.5 336.6l.1.1M666.6 399.4l.1.1M672.8 79.8l.1.1M679.0 422.9l.1.1M685.1 401.7l.1.1M691.3 291.6l.1.1M697.5 308.8l.1.1"/>
<path stroke="#0000ff" d="M81.5 258.1l.1.1M87.6 253.9l.1.1M93.8 249.5l.1.1M99.9 245.7l.1.1M106.1 242.5l.1.1M112.2 239.8l.1.1M118.4 237.3l.1.1M124.6 235.1l.1.1M130.7 233.0l.1.1M136.9 231.0l.1.1M143.0 229.1l.1.1M149.2 227.4l.1.1M155.4 225.7l.1.1M161.5 224.1l.1.1M167.7 222.5l.1.1M173.8 221.0l.1.1M180.0 219.5l.1.1M186.2 218.1l.1.1M192.3 216.8l.1.1M198.5 215.4l.1.1M204.6 214.1l.1.1M210.8 212.9l.1.1M217.0 211.6l.1.1M223.1 210.4l.1.1M229.3 209.3l.1.1M235.4 208.1l.1.1M241.6 207.0l.1.1M247.8 205.8l.1.1M253.9 204.8l.1.1M260.1 203.7l.1.1M266.2 202.6l.1.1M272.4 201.6l.1.1M278.6 200.6l.1.1M284.7 199.6l.1.1M290.9 198.6l.1.1M297.1 197.6l.1.1M303.2 196.6l.1.1M309.4 195.7l.1.1M315.5 194.8l.1.1M321.7 193.8l.1.1M327.8 192.9l.1.1M334.0 192.0l.1.1M340.2 191.1l.1.1M346.3 190.3l.1.1M352.5 189.4l.1.1M358.6 188.5l.1.1M364.8 187.7l.1.1M371.0 186.8l.1.1M377.1 186.0l.1.1M383.3 185.2l.1.1M389.4 184.4l.1.1M395.6 183.7l.1.1M401.8 183.0l.1.1M407.9 182.3l.1.1M414.1 181.1l.1.1M420.2 178.4l.1.1M426.4 174.3l.1.1M432.6 169.8l.1.1M438.7 165.6l.1.1M444.9 160.5l.1.1M451.0 155.3l.1.1M457.2 153.1l.1.1M463.4 158.0l.1.1M469.5 171.9l.1.1M475.7 190.8l.1.1M481.9 209.2l.1.1M488.0 221.9l.1.1M494.2 210.6l.1.1M500.3 153.7l.1.1M506.5 133.3l.1.1M512.7 169.9l.1.1M518.8 212.5l.1.1M525.0 233.4l.1.1M531.1 222.2l.1.1M537.3 128.4l.1.1M543.5 217.4l.1.1M549.6 170.6l.1.1M555.8 161.5l.1.1M561.9 157.8l.1.1M568.1 115.8l.1.1M574.2 263.6l.1.1M580.4 259.2l.1.1M586.6 154.4l.1.1M592.7 270.4l.1.1M598.9 417.9l.1.1M605.1 285.1l.1.1M611.2 389.7l.1.1M617.4 431.0l.1.1M623.5 344.4l.1.1M629.7 310.7l.1.1M635.9 145.4l.1.1M642.0 250.4l.1.1M648.2 421.0l.1.1M654.3 299.6l.1.1M660.5 303.0l.1.1M666.6 457.3l.1.1M672.8 295.5l.1.1M679.0 282.3l.1.1M685.1 464.3l.1.1M691.3 314.7l.1.1M697.5 346.2l.1.1"/>
<path stroke="#008000" d="M81.5 258.1l.1.1M87.6 253.9l.1.1M93.8 249.5l.1.1M99.9 245.7l.1.1M106.1 242.5l.1.1M112.2 239.8l.1.1M118.4 237.3l.1.1M124.6 235.1l.1.1M130.7 233.0l.1.1M136.9 231.0l.1.1M143.0 229.1l.1.1M149.2 227.4l.1.1M155.4 225.7l.1.1M161.5 224.1l.1.1M167.7 222.5l.1.1M173.8 221.0l.1.1M180.0 219.5l.1.1M186.2 218.1l.1.1M192.3 216.8l.1.1M198.5 215.4l.1.1M204.6 214.1l.1.1M210.8 212.9l.1.1M217.0 211.6l.1.1M223.1 210.4l.1.1M229.3 209.3l.1.1M235.4 208.1l.1.1M241.6 207.0l.1.1M247.8 205.8l.1.1M253.9 204.8l.1.1M260.1 203.7l.1.1M266.2 202.6l.1.1M272.4 201.6l.1.1M278.6 200.6l.1.1M284.7 199.6l.1.1M290.9 198.6l.1.1M297.1 197.6l.1.1M303.2 196.6l.1.1M309.4 195.7l.1.1M315.5 194.8l.1.1M321.7 193.8l.1.1M327.8 192.9l.1.1M334.0 192.0l.1.1M340.2 191.1l.1.1M346.3 190.3l.1.1M352.5 189.4l.1.1M358.6 188.5l.1.1M364.8 187.7l.1.1M371.0 186.8l.1.1M377.1 186.0l.1.1M383.3 185.2l.1.1M389.4 184.4l.1.1M395.6 183.7l.1.1M401.8 182.9l.1.1M407.9 181.8l.1.1M414.1 180.1l.1.1M420.2 177.9l.1.1M426.4 176.5l.1.1M432.6 177.6l.1.1M438.7 179.9l.1.1M444.9 179.1l.1.1M451.0 172.4l.1.1M457.2 160.8l.1.1M463.4 149.5l.1.1M469.5 148.8l.1.1M475.7 162.4l.1.1M481.9 183.9l.1.1M488.0 206.4l.1.1M494.2 223.5l.1.1M500.3 215.6l.1.1M506.5 147.9l.1.1M512.7 136.3l.1.1M518.8 183.1l.1.1M525.0 234.5l.1.1M531.1 238.2l.1.1M537.3 129.9l.1.1M543.5 188.1l.1.1M549.6 249.4l.1.1M555.8 120.9l.1.1M561.9 117.0l.1.1M568.1 128.5l.1.1M574.2 262.3l.1.1M580.4 254.3l.1.1M586.6 272.9l.1.1M592.7 274.3l.1.1M598.9 422.1l.1.1M605.1 300.1l.1.1M611.2 435.8l.1.1M617.4 413.1l.1.1M623.5 395.5l.1.1M629.7 345.1l.1.1M635.9 90.4l.1.1M642.0 237.3l.1.1M648.2 235.9l.1.1M654.3 327.4l.1.1M660.5 324.9l.1.1M666.6 381.0l.1.1M672.8 252.0l.1.1M679.0 269.3l.1.1M685.1 381.7l.1.1M691.3 356.1l.1.1M697.5 408.2l.1.1"/>
<path stroke="#ff0000" d="M81.5 258.2l.1.1M87.6 253.9l.1.1M93.8 249.5l.1.1M99.9 245.7l.1.1M106.1 242.5l.1.1M112.2 239.8l.1.1M118.4 237.3l.1.1M124.6 235.1l.1.1M130.7 233.0l.1.1M136.9 231.0l.1.1M143.0 229.1l.1.1M149.2 227.4l.1.1M155.4 225.7l.1.1M161.5 224.1l.1.1M167.7 222.5l.1.1M173.8 221.0l.1.1M180.0 219.5l.1.1M186.2 218.1l.1.1M192.3 216.8l.1.1M198.5 215.4l.1.1M204.6 214.1l.1.1M210.8 212.9l.1.1M217.0 211.6l.1.1M223.1 210.4l.1.1M229.3 209.3l.1.1M235.4 208.1l.1.1M241.6 207.0l.1.1M247.8 205.8l.1.1M253.9 204.8l.1.1M260.1 203.7l.1.1M266.2 202.6l.1.1M272.4 201.6l.1.1M278.6 200.6l.1.1M284.7 199.6l.1.1M290.9 198.6l.1.1M297.1 197.6l.1.1M303.2 196.6l.1.1M309.4 195.7l.1.1M315.5 194.8l.1.1M321.7 193.8l.1.1M327.8 192.9l.1.1M334.0 192.0l.1.1M340.2 191.1l.1.1M346.3 190.3l.1.1M352.5 189.4l.1.1M358.6 188.5l.1.1M364.8 187.7l.1.1M371.0 186.8l.1.1M377.1 186.0l.1.1M383.3 185.2l.1.1M389.4 184.4l.1.1M395.6 183.6l.1.1M401.8 182.6l.1.1M407.9 181.5l.1.1M414.1 180.2l.1.1M420.2 179.9l.1.1M426.4 182.2l.1.1M432.6 187.4l.1.1M438.7 193.4l.1.1M444.9 198.1l.1.1M451.0 199.6l.1.1M457.2 194.4l.1.1M463.4 177.7l.1.1M469.5 153.8l.1.1M475.7 143.3l.1.1M481.9 154.4l.1.1M488.0 178.8l.1.1M494.2 205.3l.1.1M500.3 225.5l.1.1M506.5 213.9l.1.1M512.7 135.9l.1.1M518.8 146.8l.1.1M525.0 215.6l.1.1M531.1 222.4l.1.1M537.3 212.2l.1.1M543.5 148.6l.1.1M549.6 247.0l.1.1M555.8 128.5l.1.1M561.9 131.8l.1.1M568.1 241.7l.1.1M574.2 260.1l.1.1M580.4 246.3l.1.1M586.6 272.9l.1.1M592.7 280.9l.1.1M598.9 288.5l.1.1M605.1 325.6l.1.1M611.2 384.5l.1.1M617.4 249.0l.1.1M623.5 441.8l.1.1M629.7 397.4l.1.1M635.9 124.2l.1.1M642.0 214.9l.1.1M648.2 258.0l.1.1M654.3 374.2l.1.1M660.5 370.3l.1.1M666.6 186.4l.1.1M672.8 239.0l.1.1M679.0 273.1l.1.1M685.1 166.7l.1.1M691.3 421.4l.1.1M697.5 471.2l.1.1"/>
<path stroke="#00bfbf" d="M81.5 258.2l.1.1M87.6 253.9l.1.1M93.8 249.5l.1.1M99.9 245.7l.1.1M106.1 242.5l.1.1M112.2 239.8l.1.1M118.4 237.3l.1.1M124.6 235.1l.1.1M130.7 233.0l.1.1M136.9 231.0l.1.1M143.0 229.1l.1.1M149.2 227.4l.1.1M155.4 225.7l.1.1M161.5 224.1l.1.1M167.7 222.5l.1.1M173.8 221.0l.1.1M180.0 219.5l.1.1M186.2 218.1l.1.1M192.3 216.8l.1.1M198.5 215.4l.1.1M204.6 214.1l.1.1M210.8 212.9l.1.1M217.0 211.6l.1.1M223.1 210.4l.1.1M229.3 209.3l.1.1M235.4 208.1l.1.1M241.6 207.0l.1.1M247.8 205.8l.1.1M253.9 204.8l.1.1M260.1 203.7l.1.1M266.2 202.6l.1.1M272.4 201.6l.1.1M278.6 200.6l.1.1M284.7 199.6l.1.1M290.9 198.6l.1.1M297.1 197.6l.1.1M303.2 196.6l.1.1M309.4 195.7l.1.1M315.5 194.8l.1.1M321.7 193.8l.1.1M327.8 192.9l.1.1M334.0 192.0l.1.1M340.2 191.1l.1.1M346.3 190.3l.1.1M352.5 189.4l.1.1M358.6 188.5l.1.1M364.8 187.7l.1.1M371.0 186.8l.1.1M377.1 186.0l.1.1M383.3 185.2l.1.1M389.4 184.4l.1.1M395.6 183.5l.1.1M401.8 182.6l.1.1M407.9 181.7l.1.1M414.1 181.3l.1.1M420.2 182.4l.1.1M426.4 185.2l.1.1M432.6 188.3l.1.1M438.7 191.5l.1.1M444.9 196.0l.1.1M451.0 202.2l.1.1M457.2 207.9l.1.1M463.4 209.2l.1.1M469.5 195.3l.1.1M475.7 162.8l.1.1M481.9 140.9l.1.1M488.0 148.6l.1.1M494.2 176.3l.1.1M500.3 206.4l.1.1M506.5 228.4l.1.1M512.7 200.9l.1.1M518.8 126.4l.1.1M525.0 187.0l.1.1M531.1 196.5l.1.1M537.3 241.2l.1.1M543.5 118.2l.1.1M549.6 234.3l.1.1M555.8 229.2l.1.1M561.9 239.9l.1.1M568.1 253.8l.1.1M574.2 256.3l.1.1M580.4 232.7l.1.1M586.6 278.8l.1.1M592.7 292.4l.1.1M598.9 268.1l.1.1M605.1 366.5l.1.1M611.2 239.0l.1.1M617.4 259.3l.1.1M623.5 373.5l.1.1M629.7 444.4l.1.1M635.9 308.0l.1.1M642.0 176.5l.1.1M648.2 251.5l.1.1M654.3 435.8l.1.1M660.5 433.0l.1.1M666.6 179.3l.1.1M672.8 216.8l.1.1M679.0 279.8l.1.1M685.1 154.9l.1.1M691.3 470.3l.1.1M697.5 363.2l.1.1"/>
<path stroke="#bf00bf" d="M81.5 258.2l.1.1M87.6 253.9l.1.1M93.8 249.5l.1.1M99.9 245.7l.1.1M106.1 242.5l.1.1M112.2 239.8l.1.1M118.4 237.3l.1.1M124.6 235.1l.1.1M130.7 233.0l.1.1M136.9 231.0l.1.1M143.0 229.1l.1.1M149.2 227.4l.1.1M155.4 225.7l.1.1M161.5 224.1l.1.1M167.7 222.5l.1.1M173.8 221.0l.1.1M180.0 219.5l.1.1M186.2 218.1l.1.1M192.3 216.8l.1.1M198.5 215.4l.1.1M204.6 214.1l.1.1M210.8 212.9l.1.1M217.0 211.6l.1.1M223.1 210.4l.1.1M229.3 209.3l.1.1M235.4 208.1l.1.1M241.6 207.0l.1.1M247.8 205.8l.1.1M253.9 204.8l.1.1M260.1 203.7l.1.1M266.2 202.6l.1.1M272.4 201.6l.1.1M278.6 200.6l.1.1M284.7 199.6l.1.1M290.9 198.6l.1.1M297.1 197.6l.1.1M303.2 196.6l.1.1M309.4 195.7l.1.1M315.5 194.8l.1.1M321.7 193.8l.1.1M327.8 192.9l.1.1M334.0 192.0l.1.1M340.2 191.1l.1.1M346.3 190.3l.1.1M352.5 189.4l.1.1M358.6 188.5l.1.1M364.8 187.7l.1.1M371.0 186.8l.1.1M377.1 186.0l.1.1M383.3 185.2l.1.1M389.4 184.3l.1.1M395.6 183.5l.1.1M401.8 182.7l.1.1M407.9 182.1l.1.1M414.1 182.2l.1.1M420.2 182.9l.1.1M426.4 182.7l.1.1M432.6 180.8l.1.1M438.7 179.0l.1.1M444.9 180.4l.1.1M451.0 186.0l.1.1M457.2 194.9l.1.1M463.4 206.1l.1.1M469.5 214.2l.1.1M475.7 208.5l.1.1M481.9 174.0l.1.1M488.0 140.0l.1.1M494.2 145.2l.1.1M500.3 176.8l.1.1M506.5 210.6l.1.1M512.7 231.8l.1.1M518.8 171.1l.1.1M525.0 150.0l.1.1M531.1 160.5l.1.1M537.3 228.3l.1.1M543.5 156.3l.1.1M549.6 214.0l.1.1M555.8 248.5l.1.1M561.9 251.5l.1.1M568.1 245.0l.1.1M574.2 249.8l.1.1M580.4 209.7l.1.1M586.6 288.6l.1.1M592.7 312.1l.1.1M598.9 270.5l.1.1M605.1 418.2l.1.1M611.2 241.4l.1.1M617.4 254.1l.1.1M623.5 228.3l.1.1M629.7 370.7l.1.1M635.9 288.6l.1.1M642.0 119.7l.1.1M648.2 240.1l.1.1M654.3 437.4l.1.1M660.5 445.7l.1.1M666.6 139.1l.1.1M672.8 177.3l.1.1M679.0 292.4l.1.1M685.1 128.0l.1.1M691.3 305.1l.1.1M697.5 165.6l.1.1"/>
<path stroke="#bfbf00" d="M81.5 258.2l.1.1M87.6 253.9l.1.1M93.8 249.5l.1.1M99.9 245.7l.1.1M106.1 242.5l.1.1M112.2 239.8l.1.1M118.4 237.3l.1.1M124.6 235.1l.1.1M130.7 233.0l.1.1M136.9 231.0l.1.1M143.0 229.1l.1.1M149.2 227.4l.1.1M155.4 225.7l.1.1M161.5 224.1l.1.1M167.7 222.5l.1.1M173.8 221.0l.1.1M180.0 219.5l.1.1M186.2 218.1l.1.1M192.3 216.8l.1.1M198.5 215.4l.1.1M204.6 214.1l.1.1M210.8 212.9l.1.1M217.0 211.6l.1.1M223.1 210.4l.1.1M229.3 209.3l.1.1M235.4 208.1l.1.1M241.6 207.0l.1.1M247.8 205.8l.1.1M253.9 204.8l.1.1M260.1 203.7l.1.1M266.2 202.6l.1.1M272.4 201.6l.1.1M278.6 200.6l.1.1M284.7 199.6l.1.1M290.9 198.6l.1.1M297.1 197.6l.1.1M303.2 196.6l.1.1M309.4 195.7l.1.1M315.5 194.8l.1.1M321.7 193.8l.1.1M327.8 192.9l.1.1M334.0 192.0l.1.1M340.2 191.1l.1.1M346.3 190.3l.1.1M352.5 189.4l.1.1M358.6 188.5l.1.1M364.8 187.7l.1.1M371.0 186.8l.1.1M377.1 186.0l.1.1M383.3 185.2l.1.1M389.4 184.4l.1.1M395.6 183.6l.1.1M401.8 182.9l.1.1M407.9 182.4l.1.1M414.1 182.1l.1.1M420.2 181.0l.1.1M426.4 177.6l.1.1M432.6 172.1l.1.1M438.7 166.6l.1.1M444.9 163.7l.1.1M451.0 165.2l.1.1M457.2 172.1l.1.1M463.4 185.0l.1.1M469.5 200.9l.1.1M475.7 215.1l.1.1M481.9 216.8l.1.1M488.0 183.1l.1.1M494.2 138.8l.1.1M500.3 144.3l.1.1M506.5 181.7l.1.1M512.7 218.4l.1.1M518.8 233.0l.1.1M525.0 124.3l.1.1M531.1 126.2l.1.1M537.3 205.1l.1.1M543.5 242.2l.1.1M549.6 182.6l.1.1M555.8 237.1l.1.1M561.9 241.3l.1.1M568.1 230.9l.1.1M574.2 238.8l.1.1M580.4 173.4l.1.1M586.6 305.4l.1.1M592.7 344.5l.1.1M598.9 274.3l.1.1M605.1 426.1l.1.1M611.2 222.5l.1.1M617.4 245.5l.1.1M623.5 224.0l.1.1M629.7 223.5l.1.1M635.9 306.7l.1.1M642.0 80.7l.1.1M648.2 219.6l.1.1M654.3 234.9l.1.1M660.5 246.4l.1.1M666.6 94.5l.1.1M672.8 115.9l.1.1M679.0 315.6l.1.1M685.1 120.1l.1.1M691.3 226.3l.1.1M697.5 122.2l.1.1"/>
<path stroke="#404040" d="M81.5 258.3l.1.1M87.6 253.9l.1.1M93.8 249.5l.1.1M99.9 245.7l.1.1M106.1 242.5l.1.1M112.2 239.8l.1.1M118.4 237.3l.1.1M124.6 235.1l.1.1M130.7 233.0l.1.1M136.9 231.0l.1.1M143.0 229.1l.1.1M149.2 227.4l.1.1M155.4 225.7l.1.1M161.5 224.1l.1.1M167.7 222.5l.1.1M173.8 221.0l.1.1M180.0 219.5l.1.1M186.2 218.1l.1.1M192.3 216.8l.1.1M198.5 215.4l.1.1M204.6 214.1l.1.1M210.8 212.9l.1.1M217.0 211.6l.1.1M223.1 210.4l.1.1M229.3 209.3l.1.1M235.4 208.1l.1.1M241.6 207.0l.1.1M247.8 205.8l.1.1M253.9 204.8l.1.1M260.1 203.7l.1.1M266.2 202.6l.1.1M272.4 201.6l.1.1M278.6 200.6l.1.1M284.7 199.6l.1.1M290.9 198.6l.1.1M297.1 197.6l.1.1M303.2 196.6l.1.1M309.4 195.7l.1.1M315.5 194.8l.1.1M321.7 193.8l.1.1M327.8 192.9l.1.1M334.0 192.0l.1.1M340.2 191.1l.1.1M346.3 190.3l.1.1M352.5 189.4l.1.1M358.6 188.5l.1.1M364.8 187.7l.1.1M371.0 186.8l.1.1M377.1 186.0l.1.1M383.3 185.2l.1.1M389.4 184.4l.1.1M395.6 183.6l.1.1M401.8 183.0l.1.1M407.9 182.3l.1.1M414.1 181.2l.1.1M420.2 178.7l.1.1M426.4 174.7l.1.1M432.6 170.3l.1.1M438.7 166.2l.1.1M444.9 160.9l.1.1M451.0 155.3l.1.1M457.2 153.4l.1.1M463.4 159.9l.1.1M469.5 175.6l.1.1M475.7 196.0l.1.1M481.9 214.3l.1.1M488.0 221.4l.1.1M494.2 187.7l.1.1M500.3 135.9l.1.1M506.5 147.5l.1.1M512.7 192.2l.1.1M518.8 230.1l.1.1M525.0 161.3l.1.1M531.1 139.8l.1.1M537.3 171.1l.1.1M543.5 243.9l.1.1M549.6 141.4l.1.1M555.8 218.1l.1.1M561.9 224.9l.1.1M568.1 207.4l.1.1M574.2 220.1l.1.1M580.4 126.3l.1.1M586.6 333.4l.1.1M592.7 391.5l.1.1M598.9 281.1l.1.1M605.1 289.4l.1.1M611.2 191.2l.1.1M617.4 230.1l.1.1M623.5 193.2l.1.1M629.7 216.3l.1.1M635.9 338.6l.1.1M642.0 201.9l.1.1M648.2 183.8l.1.1M654.3 269.2l.1.1M660.5 271.6l.1.1M666.6 136.6l.1.1M672.8 67.9l.1.1M679.0 356.8l.1.1M685.1 178.8l.1.1M691.3 187.5l.1.1M697.5 90.3l.1.1"/>
<path stroke="#0000ff" d="M81.5 258.3l.1.1M87.6 253.9l.1.1M93.8 249.5l.1.1M99.9 245.6l.1.1M106.1 242.5l.1.1M112.2 239.8l.1.1M118.4 237.3l.1.1M124.6 235.1l.1.1M130.7 233.0l.1.1M136.9 231.0l.1.1M143.0 229.1l.1.1M149.2 227.4l.1.1M155.4 225.7l.1.1M161.5 224.1l.1.1M167.7 222.5l.1.1M173.8 221.0l.1.1M180.0 219.5l.1.1M186.2 218.1l.1.1M192.3 216.8l.1.1M198.5 215.4l.1.1M204.6 214.1l.1.1M210.8 212.9l.1.1M217.0 211.6l.1.1M223.1 210.4l.1.1M229.3 209.3l.1.1M235.4 208.1l.1.1M241.6 207.0l.1.1M247.8 205.8l.1.1M253.9 204.8l.1.1M260.1 203.7l.1.1M266.2 202.6l.1.1M272.4 201.6l.1.1M278.6 200.6l.1.1M284.7 199.6l.1.1M290.9 198.6l.1.1M297.1 197.6l.1.1M303.2 196.6l.1.1M309.4 195.7l.1.1M315.5 194.8l.1.1M321.7 193.8l.1.1M327.8 192.9l.1.1M334.0 192.0l.1.1M340.2 191.1l.1.1M346.3 190.3l.1.1M352.5 189.4l.1.1M358.6 188.5l.1.1M364.8 187.7l.1.1M371.0 186.8l.1.1M377.1 186.0l.1.1M383.3 185.2l.1.1M389.4 184.4l.1.1M395.6 183.6l.1.1M401.8 182.9l.1.1M407.9 181.9l.1.1M414.1 180.3l.1.1M420.2 178.2l.1.1M426.4 176.9l.1.1M432.6 178.4l.1.1M438.7 181.0l.1.1M444.9 180.1l.1.1M451.0 172.6l.1.1M457.2 160.0l.1.1M463.4 148.9l.1.1M469.5 150.9l.1.1M475.7 168.1l.1.1M481.9 191.7l.1.1M488.0 213.7l.1.1M494.2 224.3l.1.1M500.3 186.5l.1.1M506.5 131.3l.1.1M512.7 157.6l.1.1M518.8 209.3l.1.1M525.0 233.4l.1.1M531.1 222.1l.1.1M537.3 132.3l.1.1M543.5 229.4l.1.1M549.6 115.5l.1.1M555.8 188.2l.1.1M561.9 198.2l.1.1M568.1 171.1l.1.1M574.2 189.9l.1.1M580.4 106.9l.1.1M586.6 376.0l.1.1M592.7 430.5l.1.1M598.9 292.9l.1.1M605.1 266.4l.1.1M611.2 143.5l.1.1M617.4 203.5l.1.1M623.5 144.7l.1.1M629.7 180.8l.1.1M635.9 389.0l.1.1M642.0 297.3l.1.1M648.2 128.4l.1.1M654.3 272.8l.1.1M660.5 277.8l.1.1M666.6 284.3l.1.1M672.8 204.6l.1.1M679.0 420.3l.1.1M685.1 224.5l.1.1M691.3 127.4l.1.1M697.5 180.2l.1.1"/>
<path stroke="#008000" d="M81.5 258.3l.1.1M87.6 253.9l.1.1M93.8 249.4l.1.1M99.9 245.6l.1.1M106.1 242.5l.1.1M112.2 239.8l.1.1M118.4 237.3l.1.1M124.6 235.1l.1.1M130.7 233.0l.1.1M136.9 231.0l.1.1M143.0 229.1l.1.1M149.2 227.4l.1.1M155.4 225.7l.1.1M161.5 224.1l.1.1M167.7 222.5l.1.1M173.8 221.0l.1.1M180.0 219.5l.1.1M186.2 218.1l.1.1M192.3 216.8l.1.1M198.5 215.4l.1.1M204.6 214.1l.1.1M210.8 212.9l.1.1M217.0 211.6l.1.1M223.1 210.4l.1.1M229.3 209.3l.1.1M235.4 208.1l.1.1M241.6 207.0l.1.1M247.8 205.8l.1.1M253.9 204.8l.1.1M260.1 203.7l.1.1M266.2 202.6l.1.1M272.4 201.6l.1.1M278.6 200.6l.1.1M284.7 199.6l.1.1M290.9 198.6l.1.1M297.1 197.6l.1.1M303.2 196.6l.1.1M309.4 195.7l.1.1M315.5 194.8l.1.1M321.7 193.8l.1.1M327.8 192.9l.1.1M334.0 192.0l.1.1M340.2 191.1l.1.1M346.3 190.3l.1.1M352.5 189.4l.1.1M358.6 188.5l.1.1M364.8 187.7l.1.1M371.0 186.8l.1.1M377.1 186.0l.1.1M383.3 185.2l.1.1M389.4 184.4l.1.1M395.6 183.6l.1.1M401.8 182.7l.1.1M407.9 181.6l.1.1M414.1 180.4l.1.1M420.2 180.0l.1.1M426.4 182.2l.1.1M432.6 187.5l.1.1M438.7 193.7l.1.1M444.9 198.4l.1.1M451.0 199.7l.1.1M457.2 193.4l.1.1M463.4 174.1l.1.1M469.5 150.6l.1.1M475.7 145.0l.1.1M481.9 162.1l.1.1M488.0 189.2l.1.1M494.2 214.6l.1.1M500.3 226.8l.1.1M506.5 175.5l.1.1M512.7 129.8l.1.1M518.8 178.6l.1.1M525.0 234.5l.1.1M531.1 238.2l.1.1M537.3 125.1l.1.1M543.5 206.6l.1.1M549.6 171.2l.1.1M555.8 146.9l.1.1M561.9 158.9l.1.1M568.1 126.2l.1.1M574.2 146.4l.1.1M580.4 203.4l.1.1M586.6 421.7l.1.1M592.7 371.4l.1.1M598.9 313.2l.1.1M605.1 267.2l.1.1M611.2 96.0l.1.1M617.4 160.5l.1.1M623.5 93.2l.1.1M629.7 127.3l.1.1M635.9 442.7l.1.1M642.0 319.9l.1.1M648.2 78.7l.1.1M654.3 278.9l.1.1M660.5 288.1l.1.1M666.6 281.0l.1.1M672.8 314.2l.1.1M679.0 464.9l.1.1M685.1 206.1l.1.1M691.3 63.2l.1.1M697.5 280.9l.1.1"/>
<path stroke="#ff0000" d="M81.5 258.3l.1.1M87.6 253.9l.1.1M93.8 249.4l.1.1M99.9 245.6l.1.1M106.1 242.5l.1.1M112.2 239.8l.1.1M118.4 237.3l.1.1M124.6 235.1l.1.1M130.7 233.0l.1.1M136.9 231.0l.1.1M143.0 229.1l.1.1M149.2 227.4l.1.1M155.4 225.7l.1.1M161.5 224.1l.1.1M167.7 222.5l.1.1M173.8 221.0l.1.1M180.0 219.5l.1.1M186.2 218.1l.1.1M192.3 216.8l.1.1M198.5 215.4l.1.1M204.6 214.1l.1.1M210.8 212.9l.1.1M217.0 211.6l.1.1M223.1 210.4l.1.1M229.3 209.3l.1.1M235.4 208.1l.1.1M241.6 207.0l.1.1M247.8 205.8l.1.1M253.9 204.8l.1.1M260.1 203.7l.1.1M266.2 202.6l.1.1M272.4 201.6l.1.1M278.6 200.6l.1.1M284.7 199.6l.1.1M290.9 198.6l.1.1M297.1 197.6l.1.1M303.2 196.6l.1.1M309.4 195.7l.1.1M315.5 194.8l.1.1M321.7 193.8l.1.1M327.8 192.9l.1.1M334.0 192.0l.1.1M340.2 191.1l.1.1M346.3 190.3l.1.1M352.5 189.4l.1.1M358.6 188.5l.1.1M364.8 187.7l.1.1M371.0 186.8l.1.1M377.1 186.0l.1.1M383.3 185.2l.1.1M389.4 184.4l.1.1M395.6 183.5l.1.1M401.8 182.6l.1.1M407.9 181.7l.1.1M414.1 181.2l.1.1M420.2 182.2l.1.1M426.4 184.8l.1.1M432.6 187.7l.1.1M438.7 190.8l.1.1M444.9 195.5l.1.1M451.0 202.1l.1.1M457.2 207.9l.1.1M463.4 208.0l.1.1M469.5 189.5l.1.1M475.7 154.9l.1.1M481.9 140.9l.1.1M488.0 158.2l.1.1M494.2 189.3l.1.1M500.3 217.7l.1.1M506.5 228.1l.1.1M512.7 152.2l.1.1M518.8 142.3l.1.1M525.0 215.6l.1.1M531.1 222.4l.1.1M537.3 200.7l.1.1M543.5 172.5l.1.1M549.6 249.4l.1.1M555.8 113.9l.1.1M561.9 117.7l.1.1M568.1 113.3l.1.1M574.2 108.0l.1.1M580.4 263.1l.1.1M586.6 404.1l.1.1M592.7 252.8l.1.1M598.9 346.8l.1.1M605.1 268.6l.1.1M611.2 139.9l.1.1M617.4 106.6l.1.1M623.5 131.2l.1.1M629.7 85.7l.1.1M635.9 397.5l.1.1M642.0 361.0l.1.1M648.2 168.0l.1.1M654.3 290.1l.1.1M660.5 307.1l.1.1M666.6 295.1l.1.1M672.8 353.3l.1.1M679.0 305.4l.1.1M685.1 159.1l.1.1M691.3 151.5l.1.1M697.5 289.3l.1.1"/>
<path stroke="#00bfbf" d="M81.5 258.4l.1.1M87.6 253.9l.1.1M93.8 249.4l.1.1M99.9 245.6l.1.1M106.1 242.5l.1.1M112.2 239.8l.1.1M118.4 237.3l.1.1M124.6 235.1l.1.1M130.7 233.0l.1.1M136.9 231.0l.1.1M143.0 229.1l.1.1M149.2 227.4l.1.1M155.4 225.7l.1.1M161.5 224.1l.1.1M167.7 222.5l.1.1M173.8 221.0l.1.1M180.0 219.5l.1.1M186.2 218.1l.1.1M192.3 216.8l.1.1M198.5 215.4l.1.1M204.6 214.1l.1.1M210.8 212.9l.1.1M217.0 211.6l.1.1M223.1 210.4l.1.1M229.3 209.3l.1.1M235.4 208.1l.1.1M241.6 207.0l.1.1M247.8 205.8l.1.1M253.9 204.8l.1.1M260.1 203.7l.1.1M266.2 202.6l.1.1M272.4 201.6l.1.1M278.6 200.6l.1.1M284.7 199.6l.1.1M290.9 198.6l.1.1M297.1 197.6l.1.1M303.2 196.6l.1.1M309.4 195.7l.1.1M315.5 194.8l.1.1M321.7 193.8l.1.1M327.8 192.9l.1.1M334.0 192.0l.1.1M340.2 191.1l.1.1M346.3 190.3l.1.1M352.5 189.4l.1.1M358.6 188.5l.1.1M364.8 187.7l.1.1M371.0 186.8l.1.1M377.1 186.0l.1.1M383.3 185.2l.1.1M389.4 184.4l.1.1M395.6 183.5l.1.1M401.8 182.7l.1.1M407.9 182.1l.1.1M414.1 182.0l.1.1M420.2 182.6l.1.1M426.4 182.3l.1.1M432.6 180.1l.1.1M438.7 178.0l.1.1M444.9 179.6l.1.1M451.0 185.9l.1.1M457.2 195.6l.1.1M463.4 207.4l.1.1M469.5 214.1l.1.1M475.7 201.3l.1.1M481.9 160.1l.1.1M488.0 138.0l.1.1M494.2 157.3l.1.1M500.3 192.8l.1.1M506.5 223.6l.1.1M512.7 221.6l.1.1M518.8 127.6l.1.1M525.0 187.0l.1.1M531.1 196.5l.1.1M537.3 242.1l.1.1M543.5 132.4l.1.1M549.6 247.0l.1.1M555.8 155.6l.1.1M561.9 130.1l.1.1M568.1 208.5l.1.1M574.2 149.2l.1.1M580.4 261.9l.1.1M586.6 272.9l.1.1M592.7 251.7l.1.1M598.9 395.2l.1.1M605.1 271.1l.1.1M611.2 290.2l.1.1M617.4 103.9l.1.1M623.5 298.8l.1.1M629.7 179.7l.1.1M635.9 218.1l.1.1M642.0 419.3l.1.1M648.2 320.1l.1.1M654.3 310.5l.1.1M660.5 340.9l.1.1M666.6 319.8l.1.1M672.8 414.5l.1.1M679.0 231.6l.1.1M685.1 91.5l.1.1M691.3 370.9l.1.1M697.5 311.1l.1.1"/>
<path stroke="#bf00bf" d="M81.5 258.4l.1.1M87.6 253.9l.1.1M93.8 249.4l.1.1M99.9 245.6l.1.1M106.1 242.5l.1.1M112.2 239.7l.1.1M118.4 237.3l.1.1M124.6 235.1l.1.1M130.7 233.0l.1.1M136.9 231.0l.1.1M143.0 229.1l.1.1M149.2 227.4l.1.1M155.4 225.7l.1.1M161.5 224.1l.1.1M167.7 222.5l.1.1M173.8 221.0l.1.1M180.0 219.5l.1.1M186.2 218.1l.1.1M192.3 216.8l.1.1M198.5 215.4l.1.1M204.6 214.1l.1.1M210.8 212.9l.1.1M217.0 211.6l.1.1M223.1 210.4l.1.1M229.3 209.3l.1.1M235.4 208.1l.1.1M241.6 207.0l.1.1M247.8 205.8l.1.1M253.9 204.8l.1.1M260.1 203.7l.1.1M266.2 202.6l.1.1M272.4 201.6l.1.1M278.6 200.6l.1.1M284.7 199.6l.1.1M290.9 198.6l.1.1M297.1 197.6l.1.1M303.2 196.6l.1.1M309.4 195.7l.1.1M315.5 194.8l.1.1M321.7 193.8l.1.1M327.8 192.9l.1.1M334.0 192.0l.1.1M340.2 191.1l.1.1M346.3 190.3l.1.1M352.5 189.4l.1.1M358.6 188.5l.1.1M364.8 187.7l.1.1M371.0 186.8l.1.1M377.1 186.0l.1.1M383.3 185.2l.1.1M389.4 184.4l.1.1M395.6 183.6l.1.1M401.8 182.8l.1.1M407.9 182.3l.1.1M414.1 182.0l.1.1M420.2 180.9l.1.1M426.4 177.6l.1.1M432.6 171.8l.1.1M438.7 166.2l.1.1M444.9 163.2l.1.1M451.0 165.1l.1.1M457.2 172.9l.1.1M463.4 187.1l.1.1M469.5 203.7l.1.1M475.7 216.6l.1.1M481.9 210.0l.1.1M488.0 163.3l.1.1M494.2 135.7l.1.1M500.3 160.1l.1.1M506.5 200.8l.1.1M512.7 230.2l.1.1M518.8 181.7l.1.1M525.0 150.0l.1.1M531.1 160.5l.1.1M537.3 231.7l.1.1M543.5 121.7l.1.1M549.6 234.2l.1.1M555.8 250.8l.1.1M561.9 237.7l.1.1M568.1 256.2l.1.1M574.2 262.4l.1.1M580.4 259.3l.1.1M586.6 269.1l.1.1M592.7 241.0l.1.1M598.9 433.3l.1.1M605.1 275.5l.1.1M611.2 285.1l.1.1M617.4 258.9l.1.1M623.5 287.5l.1.1M629.7 300.1l.1.1M635.9 231.0l.1.1M642.0 447.0l.1.1M648.2 338.2l.1.1M654.3 346.3l.1.1M660.5 395.4l.1.1M666.6 362.9l.1.1M672.8 462.6l.1.1M679.0 199.0l.1.1M685.1 75.5l.1.1M691.3 389.6l.1.1M697.5 350.3l.1.1"/>
<path stroke="#bfbf00" d="M81.5 258.4l.1.1M87.6 253.9l.1.1M93.8 249.4l.1.1M99.9 245.6l.1.1M106.1 242.5l.1.1M112.2 239.7l.1.1M118.4 237.3l.1.1M124.6 235.1l.1.1M130.7 233.0l.1.1M136.9 231.0l.1.1M143.0 229.1l.1.1M149.2 227.4l.1.1M155.4 225.7l.1.1M161.5 224.1l.1.1M167.7 222.5l.1.1M173.8 221.0l.1.1M180.0 219.5l.1.1M186.2 218.1l.1.1M192.3 216.8l.1.1M198.5 215.4l.1.1M204.6 214.1l.1.1M210.8 212.9l.1.1M217.0 211.6l.1.1M223.1 210.4l.1.1M229.3 209.3l.1.1M235.4 208.1l.1.1M241.6 207.0l.1.1M247.8 205.8l.1.1M253.9 204.8l.1.1M260.1 203.7l.1.1M266.2 202.6l.1.1M272.4 201.6l.1.1M278.6 200.6l.1.1M284.7 199.6l.1.1M290.9 198.6l.1.1M297.1 197.6l.1.1M303.2 196.6l.1.1M309.4 195.7l.1.1M315.5 194.8l.1.1M321.7 193.8l.1.1M327.8 192.9l.1.1M334.0 192.0l.1.1M340.2 191.1l.1.1M346.3 190.3l.1.1M352.5 189.4l.1.1M358.6 188.5l.1.1M364.8 187.7l.1.1M371.0 186.8l.1.1M377.1 186.0l.1.1M383.3 185.2l.1.1M389.4 184.4l.1.1M395.6 183.6l.1.1M401.8 182.9l.1.1M407.9 182.2l.1.1M414.1 181.2l.1.1M420.2 178.9l.1.1M426.4 175.0l.1.1M432.6 170.8l.1.1M438.7 166.8l.1.1M444.9 161.3l.1.1M451.0 155.3l.1.1M457.2 153.8l.1.1M463.4 161.9l.1.1M469.5 179.3l.1.1M475.7 200.6l.1.1M481.9 217.9l.1.1M488.0 215.3l.1.1M494.2 161.8l.1.1M500.3 134.3l.1.1M506.5 168.8l.1.1M512.7 211.3l.1.1M518.8 234.4l.1.1M525.0 124.3l.1.1M531.1 126.2l.1.1M537.3 210.4l.1.1M543.5 198.0l.1.1M549.6 213.8l.1.1M555.8 251.6l.1.1M561.9 251.3l.1.1M568.1 250.8l.1.1M574.2 262.7l.1.1M580.4 254.9l.1.1M586.6 272.1l.1.1M592.7 223.3l.1.1M598.9 363.5l.1.1M605.1 283.2l.1.1M611.2 301.0l.1.1M617.4 265.0l.1.1M623.5 305.1l.1.1M629.7 315.5l.1.1M635.9 205.9l.1.1M642.0 297.0l.1.1M648.2 385.5l.1.1M654.3 402.4l.1.1M660.5 453.4l.1.1M666.6 426.0l.1.1M672.8 327.5l.1.1M679.0 147.1l.1.1M685.1 306.9l.1.1M691.3 408.0l.1.1M697.5 414.2l.1.1"/>
<path stroke="#404040" d="M81.5 258.4l.1.1M87.6 253.9l.1.1M93.8 249.4l.1.1M99.9 245.6l.1.1M106.1 242.5l.1.1M112.2 239.7l.1.1M118.4 237.3l.1.1M124.6 235.1l.1.1M130.7 233.0l.1.1M136.9 231.0l.1.1M143.0 229.1l.1.1M149.2 227.4l.1.1M155.4 225.7l.1.1M161.5 224.1l.1.1M167.7 222.5l.1.1M173.8 221.0l.1.1M180.0 219.5l.1.1M186.2 218.1l.1.1M192.3 216.8l.1.1M198.5 215.4l.1.1M204.6 214.1l.1.1M210.8 212.9l.1.1M217.0 211.6l.1.1M223.1 210.4l.1.1M229.3 209.3l.1.1M235.4 208.1l.1.1M241.6 207.0l.1.1M247.8 205.8l.1.1M253.9 204.8l.1.1M260.1 203.7l.1.1M266.2 202.6l.1.1M272.4 201.6l.1.1M278.6 200.6l.1.1M284.7 199.6l.1.1M290.9 198.6l.1.1M297.1 197.6l.1.1M303.2 196.6l.1.1M309.4 195.7l.1.1M315.5 194.8l.1.1M321.7 193.8l.1.1M327.8 192.9l.1.1M334.0 192.0l.1.1M340.2 191.1l.1.1M346.3 190.3l.1.1M352.5 189.4l.1.1M358.6 188.5l.1.1M364.8 187.7l.1.1M371.0 186.8l.1.1M377.1 186.0l.1.1M383.3 185.2l.1.1M389.4 184.4l.1.1M395.6 183.6l.1.1M401.8 182.9l.1.1M407.9 181.9l.1.1M414.1 180.5l.1.1M420.2 178.5l.1.1M426.4 177.3l.1.1M432.6 179.1l.1.1M438.7 182.2l.1.1M444.9 181.2l.1.1M451.0 172.8l.1.1M457.2 159.2l.1.1M463.4 148.6l.1.1M469.5 153.6l.1.1M475.7 173.8l.1.1M481.9 198.7l.1.1M488.0 219.4l.1.1M494.2 217.6l.1.1M500.3 154.0l.1.1M506.5 137.0l.1.1M512.7 182.0l.1.1M518.8 227.6l.1.1M525.0 161.3l.1.1M531.1 139.8l.1.1M537.3 178.5l.1.1M543.5 245.2l.1.1M549.6 182.3l.1.1M555.8 241.6l.1.1M561.9 241.0l.1.1M568.1 240.4l.1.1M574.2 260.6l.1.1M580.4 247.3l.1.1M586.6 277.0l.1.1M592.7 193.6l.1.1M598.9 248.7l.1.1M605.1 296.7l.1.1M611.2 327.5l.1.1M617.4 264.7l.1.1M623.5 335.1l.1.1M629.7 352.6l.1.1M635.9 162.5l.1.1M642.0 252.3l.1.1M648.2 440.9l.1.1M654.3 454.2l.1.1M660.5 390.7l.1.1M666.6 456.3l.1.1M672.8 215.7l.1.1M679.0 80.5l.1.1M685.1 243.2l.1.1M691.3 385.5l.1.1M697.5 472.8l.1.1"/>
<path stroke="#0000ff" d="M81.5 258.4l.1.1M87.6 253.9l.1.1M93.8 249.4l.1.1M99.9 245.6l.1.1M106.1 242.5l.1.1M112.2 239.7l.1.1M118.4 237.3l.1.1M124.6 235.1l.1.1M130.7 233.0l.1.1M136.9 231.0l.1.1M143.0 229.1l.1.1M149.2 227.4l.1.1M155.4 225.7l.1.1M161.5 224.1l.1.1M167.7 222.5l.1.1M173.8 221.0l.1.1M180.0 219.5l.1.1M186.2 218.1l.1.1M192.3 216.8l.1.1M198.5 215.4l.1.1M204.6 214.1l.1.1M210.8 212.9l.1.1M217.0 211.6l.1.1M223.1 210.4l.1.1M229.3 209.3l.1.1M235.4 208.1l.1.1M241.6 207.0l.1.1M247.8 205.8l.1.1M253.9 204.8l.1.1M260.1 203.7l.1.1M266.2 202.6l.1.1M272.4 201.6l.1.1M278.6 200.6l.1.1M284.7 199.6l.1.1M290.9 198.6l.1.1M297.1 197.6l.1.1M303.2 196.6l.1.1M309.4 195.7l.1.1M315.5 194.8l.1.1M321.7 193.8l.1.1M327.8 192.9l.1.1M334.0 192.0l.1.1M340.2 191.1l.1.1M346.3 190.3l.1.1M352.5 189.4l.1.1M358.6 188.5l.1.1M364.8 187.7l.1.1M371.0 186.8l.1.1M377.1 186.0l.1.1M383.3 185.2l.1.1M389.4 184.4l.1.1M395.6 183.6l.1.1M401.8 182.7l.1.1M407.9 181.7l.1.1M414.1 180.5l.1.1M420.2 180.0l.1.1M426.4 182.2l.1.1M432.6 187.6l.1.1M438.7 193.8l.1.1M444.9 198.7l.1.1M451.0 199.8l.1.1M457.2 192.4l.1.1M463.4 170.6l.1.1M469.5 148.1l.1.1M475.7 148.0l.1.1M481.9 170.1l.1.1M488.0 198.7l.1.1M494.2 221.9l.1.1M500.3 215.8l.1.1M506.5 139.7l.1.1M512.7 146.7l.1.1M518.8 205.3l.1.1M525.0 233.4l.1.1M531.1 222.1l.1.1M537.3 139.1l.1.1M543.5 236.4l.1.1M549.6 141.1l.1.1M555.8 225.5l.1.1M561.9 224.4l.1.1M568.1 223.0l.1.1M574.2 257.3l.1.1M580.4 234.3l.1.1M586.6 285.6l.1.1M592.7 149.0l.1.1M598.9 245.1l.1.1M605.1 319.9l.1.1M611.2 370.0l.1.1M617.4 264.2l.1.1M623.5 382.5l.1.1M629.7 407.0l.1.1M635.9 104.7l.1.1M642.0 240.3l.1.1M648.2 409.7l.1.1M654.3 365.2l.1.1M660.5 191.1l.1.1M666.6 277.1l.1.1M672.8 176.5l.1.1M679.0 99.6l.1.1M685.1 222.3l.1.1M691.3 327.2l.1.1M697.5 338.9l.1.1"/>
<path stroke="#008000" d="M81.5 258.5l.1.1M87.6 253.9l.1.1M93.8 249.4l.1.1M99.9 245.6l.1.1M106.1 242.5l.1.1M112.2 239.7l.1.1M118.4 237.3l.1.1M124.6 235.1l.1.1M130.7 233.0l.1.1M136.9 231.0l.1.1M143.0 229.1l.1.1M149.2 227.4l.1.1M155.4 225.7l.1.1M161.5 224.1l.1.1M167.7 222.5l.1.1M173.8 221.0l.1.1M180.0 219.5l.1.1M186.2 218.1l.1.1M192.3 216.8l.1.1M198.5 215.4l.1.1M204.6 214.1l.1.1M210.8 212.9l.1.1M217.0 211.6l.1.1M223.1 210.4l.1.1M229.3 209.3l.1.1M235.4 208.1l.1.1M241.6 207.0l.1.1M247.8 205.8l.1.1M253.9 204.8l.1.1M260.1 203.7l.1.1M266.2 202.6l.1.1M272.4 201.6l.1.1M278.6 200.6l.1.1M284.7 199.6l.1.1M290.9 198.6l.1.1M297.1 197.6l.1.1M303.2 196.6l.1.1M309.4 195.7l.1.1M315.5 194.8l.1.1M321.7 193.8l.1.1M327.8 192.9l.1.1M334.0 192.0l.1.1M340.2 191.1l.1.1M346.3 190.3l.1.1M352.5 189.4l.1.1M358.6 188.5l.1.1M364.8 187.7l.1.1M371.0 186.8l.1.1M377.1 186.0l.1.1M383.3 185.2l.1.1M389.4 184.4l.1.1M395.6 183.6l.1.1M401.8 182.7l.1.1M407.9 181.7l.1.1M414.1 181.2l.1.1M420.2 181.9l.1.1M426.4 184.4l.1.1M432.6 187.1l.1.1M438.7 190.0l.1.1M444.9 195.0l.1.1M451.0 202.0l.1.1M457.2 208.0l.1.1M463.4 206.4l.1.1M469.5 183.2l.1.1M475.7 149.1l.1.1M481.9 144.1l.1.1M488.0 168.9l.1.1M494.2 201.2l.1.1M500.3 225.4l.1.1M506.5 202.7l.1.1M512.7 128.9l.1.1M518.8 173.2l.1.1M525.0 234.5l.1.1M531.1 238.2l.1.1M537.3 120.9l.1.1M543.5 217.4l.1.1M549.6 115.5l.1.1M555.8 199.6l.1.1M561.9 197.4l.1.1M568.1 194.9l.1.1M574.2 251.5l.1.1M580.4 212.4l.1.1M586.6 300.4l.1.1M592.7 103.9l.1.1M598.9 229.4l.1.1M605.1 357.8l.1.1M611.2 422.7l.1.1M617.4 263.3l.1.1M623.5 435.4l.1.1M629.7 445.2l.1.1M635.9 93.3l.1.1M642.0 220.4l.1.1M648.2 222.3l.1.1M654.3 204.2l.1.1M660.5 197.9l.1.1M666.6 258.1l.1.1M672.8 115.0l.1.1M679.0 347.4l.1.1M685.1 186.1l.1.1M691.3 324.9l.1.1M697.5 187.6l.1.1"/>
<path stroke="#ff0000" d="M81.5 258.5l.1.1M87.6 253.9l.1.1M93.8 249.4l.1.1M99.9 245.6l.1.1M106.1 242.5l.1.1M112.2 239.7l.1.1M118.4 237.3l.1.1M124.6 235.1l.1.1M130.7 233.0l.1.1M136.9 231.0l.1.1M143.0 229.1l.1.1M149.2 227.4l.1.1M155.4 225.7l.1.1M161.5 224.1l.1.1M167.7 222.5l.1.1M173.8 221.0l.1.1M180.0 219.5l.1.1M186.2 218.1l.1.1M192.3 216.8l.1.1M198.5 215.4l.1.1M204.6 214.1l.1.1M210.8 212.9l.1.1M217.0 211.6l.1.1M223.1 210.4l.1.1M229.3 209.3l.1.1M235.4 208.1l.1.1M241.6 207.0l.1.1M247.8 205.8l.1.1M253.9 204.8l.1.1M260.1 203.7l.1.1M266.2 202.6l.1.1M272.4 201.6l.1.1M278.6 200.6l.1.1M284.7 199.6l.1.1M290.9 198.6l.1.1M297.1 197.6l.1.1M303.2 196.6l.1.1M309.4 195.7l.1.1M315.5 194.8l.1.1M321.7 193.8l.1.1M327.8 192.9l.1.1M334.0 192.0l.1.1M340.2 191.1l.1.1M346.3 190.3l.1.1M352.5 189.4l.1.1M358.6 188.5l.1.1M364.8 187.7l.1.1M371.0 186.8l.1.1M377.1 186.0l.1.1M383.3 185.2l.1.1M389.4 184.4l.1.1M395.6 183.5l.1.1M401.8 182.7l.1.1M407.9 182.0l.1.1M414.1 181.8l.1.1M420.2 182.3l.1.1M426.4 182.0l.1.1M432.6 179.4l.1.1M438.7 177.1l.1.1M444.9 178.8l.1.1M451.0 185.8l.1.1M457.2 196.2l.1.1M463.4 208.5l.1.1M469.5 213.4l.1.1M475.7 192.6l.1.1M481.9 149.6l.1.1M488.0 141.7l.1.1M494.2 171.0l.1.1M500.3 206.2l.1.1M506.5 229.3l.1.1M512.7 174.3l.1.1M518.8 137.6l.1.1M525.0 215.6l.1.1M531.1 222.4l.1.1M537.3 181.7l.1.1M543.5 188.1l.1.1M549.6 171.9l.1.1M555.8 161.5l.1.1M561.9 157.8l.1.1M568.1 153.6l.1.1M574.2 241.5l.1.1M580.4 177.5l.1.1M586.6 325.2l.1.1M592.7 135.2l.1.1M598.9 203.4l.1.1M605.1 409.2l.1.1M611.2 424.3l.1.1M617.4 261.8l.1.1M623.5 407.4l.1.1M629.7 338.4l.1.1M635.9 261.7l.1.1M642.0 185.5l.1.1M648.2 243.8l.1.1M654.3 185.4l.1.1M660.5 162.8l.1.1M666.6 250.7l.1.1M672.8 68.3l.1.1M679.0 272.7l.1.1M685.1 126.6l.1.1M691.3 365.7l.1.1M697.5 130.4l.1.1"/>
<path stroke="#00bfbf" d="M81.5 258.5l.1.1M87.6 253.9l.1.1M93.8 249.4l.1.1M99.9 245.6l.1.1M106.1 242.5l.1.1M112.2 239.7l.1.1M118.4 237.3l.1.1M124.6 235.1l.1.1M130.7 233.0l.1.1M136.9 231.0l.1.1M143.0 229.1l.1.1M149.2 227.4l.1.1M155.4 225.7l.1.1M161.5 224.1l.1.1M167.7 222.5l.1.1M173.8 221.0l.1.1M180.0 219.5l.1.1M186.2 218.1l.1.1M192.3 216.8l.1.1M198.5 215.4l.1.1M204.6 214.1l.1.1M210.8 212.9l.1.1M217.0 211.6l.1.1M223.1 210.4l.1.1M229.3 209.3l.1.1M235.4 208.1l.1.1M241.6 207.0l.1.1M247.8 205.8l.1.1M253.9 204.8l.1.1M260.1 203.7l.1.1M266.2 202.6l.1.1M272.4 201.6l.1.1M278.6 200.6l.1.1M284.7 199.6l.1.1M290.9 198.6l.1.1M297.1 197.6l.1.1M303.2 196.6l.1.1M309.4 195.7l.1.1M315.5 194.8l.1.1M321.7 193.8l.1.1M327.8 192.9l.1.1M334.0 192.0l.1.1M340.2 191.1l.1.1M346.3 190.3l.1.1M352.5 189.4l.1.1M358.6 188.5l.1.1M364.8 187.7l.1.1M371.0 186.8l.1.1M377.1 186.0l.1.1M383.3 185.2l.1.1M389.4 184.4l.1.1M395.6 183.6l.1.1M401.8 182.8l.1.1M407.9 182.2l.1.1M414.1 181.9l.1.1M420.2 180.9l.1.1M426.4 177.5l.1.1M432.6 171.6l.1.1M438.7 165.8l.1.1M444.9 162.7l.1.1M451.0 165.0l.1.1M457.2 173.7l.1.1M463.4 189.3l.1.1M469.5 206.4l.1.1M475.7 216.9l.1.1M481.9 198.9l.1.1M488.0 148.0l.1.1M494.2 141.3l.1.1M500.3 176.6l.1.1M506.5 214.8l.1.1M512.7 230.7l.1.1M518.8 130.7l.1.1M525.0 187.0l.1.1M531.1 196.5l.1.1M537.3 242.9l.1.1M543.5 148.7l.1.1M549.6 249.5l.1.1M555.8 120.9l.1.1M561.9 117.0l.1.1M568.1 113.0l.1.1M574.2 224.8l.1.1M580.4 130.7l.1.1M586.6 364.1l.1.1M592.7 271.0l.1.1M598.9 162.3l.1.1M605.1 433.5l.1.1M611.2 275.4l.1.1M617.4 259.0l.1.1M623.5 236.6l.1.1M629.7 235.8l.1.1M635.9 266.0l.1.1M642.0 131.6l.1.1M648.2 226.8l.1.1M654.3 136.7l.1.1M660.5 106.9l.1.1M666.6 238.5l.1.1M672.8 208.2l.1.1M679.0 276.6l.1.1M685.1 65.4l.1.1M691.3 431.1l.1.1M697.5 65.8l.1.1"/>
<path stroke="#bf00bf" d="M81.5 258.5l.1.1M87.6 253.9l.1.1M93.8 249.4l.1.1M99.9 245.6l.1.1M106.1 242.5l.1.1M112.2 239.7l.1.1M118.4 237.3l.1.1M124.6 235.1l.1.1M130.7 233.0l.1.1M136.9 231.0l.1.1M143.0 229.1l.1.1M149.2 227.4l.1.1M155.4 225.7l.1.1M161.5 224.1l.1.1M167.7 222.5l.1.1M173.8 221.0l.1.1M180.0 219.5l.1.1M186.2 218.1l.1.1M192.3 216.8l.1.1M198.5 215.4l.1.1M204.6 214.1l.1.1M210.8 212.9l.1.1M217.0 211.6l.1.1M223.1 210.4l.1.1M229.3 209.3l.1.1M235.4 208.1l.1.1M241.6 207.0l.1.1M247.8 205.8l.1.1M253.9 204.8l.1.1M260.1 203.7l.1.1M266.2 202.6l.1.1M272.4 201.6l.1.1M278.6 200.6l.1.1M284.7 199.6l.1.1M290.9 198.6l.1.1M297.1 197.6l.1.1M303.2 196.6l.1.1M309.4 195.7l.1.1M315.5 194.8l.1.1M321.7 193.8l.1.1M327.8 192.9l.1.1M334.0 192.0l.1.1M340.2 191.1l.1.1M346.3 190.3l.1.1M352.5 189.4l.1.1M358.6 188.5l.1.1M364.8 187.7l.1.1M371.0 186.8l.1.1M377.1 186.0l.1.1M383.3 185.2l.1.1M389.4 184.4l.1.1M395.6 183.6l.1.1M401.8 182.9l.1.1M407.9 182.2l.1.1M414.1 181.3l.1.1M420.2 179.1l.1.1M426.4 175.3l.1.1M432.6 171.3l.1.1M438.7 167.6l.1.1M444.9 161.8l.1.1M451.0 155.3l.1.1M457.2 154.1l.1.1M463.4 163.9l.1.1M469.5 183.2l.1.1M475.7 204.9l.1.1M481.9 219.4l.1.1M488.0 201.2l.1.1M494.2 143.0l.1.1M500.3 144.1l.1.1M506.5 187.7l.1.1M512.7 226.6l.1.1M518.8 194.2l.1.1M525.0 150.0l.1.1M531.1 160.5l.1.1M537.3 237.2l.1.1M543.5 118.2l.1.1M549.6 246.9l.1.1M555.8 128.6l.1.1M561.9 131.8l.1.1M568.1 136.7l.1.1M574.2 197.2l.1.1M580.4 105.0l.1.1M586.6 412.2l.1.1M592.7 269.2l.1.1M598.9 112.1l.1.1M605.1 321.0l.1.1M611.2 266.3l.1.1M617.4 254.0l.1.1M623.5 250.9l.1.1M629.7 218.5l.1.1M635.9 266.6l.1.1M642.0 81.7l.1.1M648.2 196.1l.1.1M654.3 85.8l.1.1M660.5 88.7l.1.1M666.6 216.0l.1.1M672.8 310.6l.1.1M679.0 286.6l.1.1M685.1 157.5l.1.1M691.3 462.2l.1.1M697.5 139.6l.1.1"/>
<path stroke="#bfbf00" d="M81.5 258.6l.1.1M87.6 253.9l.1.1M93.8 249.4l.1.1M99.9 245.6l.1.1M106.1 242.5l.1.1M112.2 239.7l.1.1M118.4 237.3l.1.1M124.6 235.1l.1.1M130.7 233.0l.1.1M136.9 231.0l.1.1M143.0 229.1l.1.1M149.2 227.4l.1.1M155.4 225.7l.1.1M161.5 224.1l.1.1M167.7 222.5l.1.1M173.8 221.0l.1.1M180.0 219.5l.1.1M186.2 218.1l.1.1M192.3 216.8l.1.1M198.5 215.4l.1.1M204.6 214.1l.1.1M210.8 212.9l.1.1M217.0 211.6l.1.1M223.1 210.4l.1.1M229.3 209.3l.1.1M235.4 208.1l.1.1M241.6 207.0l.1.1M247.8 205.8l.1.1M253.9 204.8l.1.1M260.1 203.7l.1.1M266.2 202.6l.1.1M272.4 201.6l.1.1M278.6 200.6l.1.1M284.7 199.6l.1.1M290.9 198.6l.1.1M297.1 197.6l.1.1M303.2 196.6l.1.1M309.4 195.7l.1.1M315.5 194.8l.1.1M321.7 193.8l.1.1M327.8 192.9l.1.1M334.0 192.0l.1.1M340.2 191.1l.1.1M346.3 190.3l.1.1M352.5 189.4l.1.1M358.6 188.5l.1.1M364.8 187.7l.1.1M371.0 186.8l.1.1M377.1 186.0l.1.1M383.3 185.2l.1.1M389.4 184.4l.1.1M395.6 183.6l.1.1M401.8 182.8l.1.1M407.9 182.0l.1.1M414.1 180.6l.1.1M420.2 178.7l.1.1M426.4 177.6l.1.1M432.6 179.9l.1.1M438.7 183.3l.1.1M444.9 182.2l.1.1M451.0 172.9l.1.1M457.2 158.4l.1.1M463.4 148.6l.1.1M469.5 156.6l.1.1M475.7 179.4l.1.1M481.9 204.8l.1.1M488.0 221.9l.1.1M494.2 197.9l.1.1M500.3 136.0l.1.1M506.5 153.5l.1.1M512.7 204.6l.1.1M518.8 234.6l.1.1M525.0 124.3l.1.1M531.1 126.2l.1.1M537.3 219.0l.1.1M543.5 156.2l.1.1M549.6 234.1l.1.1M555.8 229.2l.1.1M561.9 239.8l.1.1M568.1 250.3l.1.1M574.2 156.1l.1.1M580.4 189.5l.1.1M586.6 420.9l.1.1M592.7 272.3l.1.1M598.9 109.6l.1.1M605.1 257.2l.1.1M611.2 267.2l.1.1M617.4 245.2l.1.1M623.5 239.0l.1.1M629.7 183.3l.1.1M635.9 267.5l.1.1M642.0 160.0l.1.1M648.2 146.0l.1.1M654.3 142.0l.1.1M660.5 246.3l.1.1M666.6 176.3l.1.1M672.8 348.2l.1.1M679.0 304.9l.1.1M685.1 359.5l.1.1M691.3 261.4l.1.1M697.5 372.1l.1.1"/>
<path stroke="#404040" d="M81.5 258.6l.1.1M87.6 253.9l.1.1M93.8 249.3l.1.1M99.9 245.6l.1.1M106.1 242.5l.1.1M112.2 239.7l.1.1M118.4 237.3l.1.1M124.6 235.1l.1.1M130.7 233.0l.1.1M136.9 231.0l.1.1M143.0 229.1l.1.1M149.2 227.4l.1.1M155.4 225.7l.1.1M161.5 224.1l.1.1M167.7 222.5l.1.1M173.8 221.0l.1.1M180.0 219.5l.1.1M186.2 218.1l.1.1M192.3 216.8l.1.1M198.5 215.4l.1.1M204.6 214.1l.1.1M210.8 212.9l.1.1M217.0 211.6l.1.1M223.1 210.4l.1.1M229.3 209.3l.1.1M235.4 208.1l.1.1M241.6 207.0l.1.1M247.8 205.8l.1.1M253.9 204.8l.1.1M260.1 203.7l.1.1M266.2 202.6l.1.1M272.4 201.6l.1.1M278.6 200.6l.1.1M284.7 199.6l.1.1M290.9 198.6l.1.1M297.1 197.6l.1.1M303.2 196.6l.1.1M309.4 195.7l.1.1M315.5 194.8l.1.1M321.7 193.8l.1.1M327.8 192.9l.1.1M334.0 192.0l.1.1M340.2 191.1l.1.1M346.3 190.3l.1.1M352.5 189.4l.1.1M358.6 188.5l.1.1M364.8 187.7l.1.1M371.0 186.8l.1.1M377.1 186.0l.1.1M383.3 185.2l.1.1M389.4 184.4l.1.1M395.6 183.6l.1.1M401.8 182.8l.1.1M407.9 181.8l.1.1M414.1 180.6l.1.1M420.2 180.0l.1.1M426.4 182.2l.1.1M432.6 187.7l.1.1M438.7 194.0l.1.1M444.9 199.0l.1.1M451.0 199.9l.1.1M457.2 191.3l.1.1M463.4 167.2l.1.1M469.5 146.5l.1.1M475.7 152.0l.1.1M481.9 177.9l.1.1M488.0 206.6l.1.1M494.2 224.5l.1.1M500.3 186.9l.1.1M506.5 130.9l.1.1M512.7 172.9l.1.1M518.8 223.8l.1.1M525.0 161.3l.1.1M531.1 139.8l.1.1M537.3 191.0l.1.1M543.5 242.2l.1.1M549.6 213.6l.1.1M555.8 248.5l.1.1M561.9 251.5l.1.1M568.1 255.6l.1.1M574.2 112.8l.1.1M580.4 266.4l.1.1M586.6 303.8l.1.1M592.7 277.4l.1.1M598.9 244.7l.1.1M605.1 251.6l.1.1M611.2 268.6l.1.1M617.4 229.7l.1.1M623.5 218.6l.1.1M629.7 130.3l.1.1M635.9 269.3l.1.1M642.0 317.7l.1.1M648.2 87.4l.1.1M654.3 312.1l.1.1M660.5 270.2l.1.1M666.6 115.5l.1.1M672.8 407.7l.1.1M679.0 338.1l.1.1M685.1 384.0l.1.1M691.3 268.2l.1.1M697.5 369.7l.1.1"/>
<path stroke="#0000ff" d="M81.5 258.6l.1.1M87.6 253.9l.1.1M93.8 249.3l.1.1M99.9 245.6l.1.1M106.1 242.5l.1.1M112.2 239.7l.1.1M118.4 237.3l.1.1M124.6 235.1l.1.1M130.7 233.0l.1.1M136.9 231.0l.1.1M143.0 229.1l.1.1M149.2 227.4l.1.1M155.4 225.7l.1.1M161.5 224.1l.1.1M167.7 222.5l.1.1M173.8 221.0l.1.1M180.0 219.5l.1.1M186.2 218.1l.1.1M192.3 216.8l.1.1M198.5 215.4l.1.1M204.6 214.1l.1.1M210.8 212.9l.1.1M217.0 211.6l.1.1M223.1 210.4l.1.1M229.3 209.3l.1.1M235.4 208.1l.1.1M241.6 207.0l.1.1M247.8 205.8l.1.1M253.9 204.8l.1.1M260.1 203.7l.1.1M266.2 202.6l.1.1M272.4 201.6l.1.1M278.6 200.6l.1.1M284.7 199.6l.1.1M290.9 198.6l.1.1M297.1 197.6l.1.1M303.2 196.6l.1.1M309.4 195.7l.1.1M315.5 194.8l.1.1M321.7 193.8l.1.1M327.8 192.9l.1.1M334.0 192.0l.1.1M340.2 191.1l.1.1M346.3 190.3l.1.1M352.5 189.4l.1.1M358.6 188.5l.1.1M364.8 187.7l.1.1M371.0 186.8l.1.1M377.1 186.0l.1.1M383.3 185.2l.1.1M389.4 184.4l.1.1M395.6 183.6l.1.1M401.8 182.7l.1.1M407.9 181.8l.1.1M414.1 181.1l.1.1M420.2 181.7l.1.1M426.4 184.1l.1.1M432.6 186.5l.1.1M438.7 189.2l.1.1M444.9 194.5l.1.1M451.0 202.0l.1.1M457.2 208.0l.1.1M463.4 204.5l.1.1M469.5 176.7l.1.1M475.7 145.2l.1.1M481.9 149.3l.1.1M488.0 179.1l.1.1M494.2 210.8l.1.1M500.3 226.8l.1.1M506.5 162.6l.1.1M512.7 138.6l.1.1M518.8 199.5l.1.1M525.0 233.4l.1.1M531.1 222.1l.1.1M537.3 153.0l.1.1M543.5 243.9l.1.1M549.6 182.0l.1.1M555.8 237.1l.1.1M561.9 241.3l.1.1M568.1 248.1l.1.1M574.2 129.6l.1.1M580.4 266.8l.1.1M586.6 270.0l.1.1M592.7 286.4l.1.1M598.9 262.4l.1.1M605.1 241.1l.1.1M611.2 271.1l.1.1M617.4 202.8l.1.1M623.5 184.0l.1.1M629.7 85.7l.1.1M635.9 272.5l.1.1M642.0 328.2l.1.1M648.2 116.8l.1.1M654.3 308.2l.1.1M660.5 274.9l.1.1M666.6 70.6l.1.1M672.8 462.2l.1.1M679.0 393.5l.1.1M685.1 418.8l.1.1M691.3 271.3l.1.1M697.5 385.8l.1.1"/>
<path stroke="#008000" d="M81.5 258.6l.1.1M87.6 253.9l.1.1M93.8 249.3l.1.1M99.9 245.6l.1.1M106.1 242.5l.1.1M112.2 239.7l.1.1M118.4 237.3l.1.1M124.6 235.1l.1.1M130.7 233.0l.1.1M136.9 231.0l.1.1M143.0 229.1l.1.1M149.2 227.4l.1.1M155.4 225.7l.1.1M161.5 224.1l.1.1M167.7 222.5l.1.1M173.8 221.0l.1.1M180.0 219.5l.1.1M186.2 218.1l.1.1M192.3 216.8l.1.1M198.5 215.4l.1.1M204.6 214.1l.1.1M210.8 212.9l.1.1M217.0 211.6l.1.1M223.1 210.4l.1.1M229.3 209.3l.1.1M235.4 208.1l.1.1M241.6 207.0l.1.1M247.8 205.8l.1.1M253.9 204.8l.1.1M260.1 203.7l.1.1M266.2 202.6l.1.1M272.4 201.6l.1.1M278.6 200.6l.1.1M284.7 199.6l.1.1M290.9 198.6l.1.1M297.1 197.6l.1.1M303.2 196.6l.1.1M309.4 195.7l.1.1M315.5 194.8l.1.1M321.7 193.8l.1.1M327.8 192.9l.1.1M334.0 192.0l.1.1M340.2 191.1l.1.1M346.3 190.3l.1.1M352.5 189.4l.1.1M358.6 188.5l.1.1M364.8 187.7l.1.1M371.0 186.8l.1.1M377.1 186.0l.1.1M383.3 185.2l.1.1M389.4 184.4l.1.1M395.6 183.5l.1.1M401.8 182.7l.1.1M407.9 182.0l.1.1M414.1 181.7l.1.1M420.2 182.1l.1.1M426.4 181.6l.1.1M432.6 178.7l.1.1M438.7 176.1l.1.1M444.9 178.0l.1.1M451.0 185.7l.1.1M457.2 196.8l.1.1M463.4 209.5l.1.1M469.5 212.0l.1.1M475.7 182.8l.1.1M481.9 143.3l.1.1M488.0 148.8l.1.1M494.2 183.8l.1.1M500.3 217.6l.1.1M506.5 224.3l.1.1M512.7 133.4l.1.1M518.8 165.7l.1.1M525.0 234.5l.1.1M531.1 238.2l.1.1M537.3 121.2l.1.1M543.5 229.4l.1.1M549.6 140.7l.1.1M555.8 218.1l.1.1M561.9 224.9l.1.1M568.1 236.0l.1.1M574.2 249.0l.1.1M580.4 267.9l.1.1M586.6 273.6l.1.1M592.7 301.9l.1.1M598.9 259.8l.1.1M605.1 222.9l.1.1M611.2 275.6l.1.1M617.4 159.5l.1.1M623.5 132.0l.1.1M629.7 169.8l.1.1M635.9 278.3l.1.1M642.0 370.2l.1.1M648.2 318.8l.1.1M654.3 340.4l.1.1M660.5 282.8l.1.1M666.6 208.5l.1.1M672.8 354.3l.1.1M679.0 457.8l.1.1M685.1 406.6l.1.1M691.3 276.6l.1.1M697.5 407.1l.1.1"/>
<path stroke="#ff0000" d="M81.5 258.6l.1.1M87.6 253.9l.1.1M93.8 249.3l.1.1M99.9 245.6l.1.1M106.1 242.5l.1.1M112.2 239.7l.1.1M118.4 237.3l.1.1M124.6 235.1l.1.1M130.7 233.0l.1.1M136.9 231.0l.1.1M143.0 229.1l.1.1M149.2 227.4l.1.1M155.4 225.7l.1.1M161.5 224.1l.1.1M167.7 222.5l.1.1M173.8 221.0l.1.1M180.0 219.5l.1.1M186.2 218.1l.1.1M192.3 216.8l.1.1M198.5 215.4l.1.1M204.6 214.1l.1.1M210.8 212.9l.1.1M217.0 211.6l.1.1M223.1 210.4l.1.1M229.3 209.3l.1.1M235.4 208.1l.1.1M241.6 207.0l.1.1M247.8 205.8l.1.1M253.9 204.8l.1.1M260.1 203.7l.1.1M266.2 202.6l.1.1M272.4 201.6l.1.1M278.6 200.6l.1.1M284.7 199.6l.1.1M290.9 198.6l.1.1M297.1 197.6l.1.1M303.2 196.6l.1.1M309.4 195.7l.1.1M315.5 194.8l.1.1M321.7 193.8l.1.1M327.8 192.9l.1.1M334.0 192.0l.1.1M340.2 191.1l.1.1M346.3 190.3l.1.1M352.5 189.4l.1.1M358.6 188.5l.1.1M364.8 187.7l.1.1M371.0 186.8l.1.1M377.1 186.0l.1.1M383.3 185.2l.1.1M389.4 184.4l.1.1M395.6 183.6l.1.1M401.8 182.8l.1.1M407.9 182.2l.1.1M414.1 181.8l.1.1M420.2 180.8l.1.1M426.4 177.5l.1.1M432.6 171.4l.1.1M438.7 165.4l.1.1M444.9 162.3l.1.1M451.0 164.9l.1.1M457.2 174.5l.1.1M463.4 191.3l.1.1M469.5 208.9l.1.1M475.7 216.1l.1.1M481.9 185.3l.1.1M488.0 139.9l.1.1M494.2 151.8l.1.1M500.3 192.6l.1.1M506.5 226.4l.1.1M512.7 194.7l.1.1M518.8 132.1l.1.1M525.0 215.6l.1.1M531.1 222.4l.1.1M537.3 150.0l.1.1M543.5 206.6l.1.1M549.6 115.6l.1.1M555.8 188.2l.1.1M561.9 198.2l.1.1M568.1 215.8l.1.1M574.2 256.8l.1.1M580.4 269.8l.1.1M586.6 279.6l.1.1M592.7 327.9l.1.1M598.9 255.7l.1.1M605.1 192.2l.1.1M611.2 283.5l.1.1M617.4 105.6l.1.1M623.5 88.2l.1.1M629.7 304.5l.1.1M635.9 288.7l.1.1M642.0 427.5l.1.1M648.2 287.6l.1.1M654.3 393.6l.1.1M660.5 297.4l.1.1M666.6 307.3l.1.1M672.8 194.4l.1.1M679.0 405.1l.1.1M685.1 303.6l.1.1M691.3 286.5l.1.1M697.5 395.3l.1.1"/>
<path stroke="#00bfbf" d="M81.5 258.7l.1.1M87.6 253.9l.1.1M93.8 249.3l.1.1M99.9 245.6l.1.1M106.1 242.5l.1.1M112.2 239.7l.1.1M118.4 237.3l.1.1M124.6 235.1l.1.1M130.7 233.0l.1.1M136.9 231.0l.1.1M143.0 229.1l.1.1M149.2 227.4l.1.1M155.4 225.7l.1.1M161.5 224.1l.1.1M167.7 222.5l.1.1M173.8 221.0l.1.1M180.0 219.5l.1.1M186.2 218.1l.1.1M192.3 216.8l.1.1M198.5 215.4l.1.1M204.6 214.1l.1.1M210.8 212.9l.1.1M217.0 211.6l.1.1M223.1 210.4l.1.1M229.3 209.3l.1.1M235.4 208.1l.1.1M241.6 207.0l.1.1M247.8 205.8l.1.1M253.9 204.8l.1.1M260.1 203.7l.1.1M266.2 202.6l.1.1M272.4 201.6l.1.1M278.6 200.6l.1.1M284.7 199.6l.1.1M290.9 198.6l.1.1M297.1 197.6l.1.1M303.2 196.6l.1.1M309.4 195.7l.1.1M315.5 194.8l.1.1M321.7 193.8l.1.1M327.8 192.9l.1.1M334.0 192.0l.1.1M340.2 191.1l.1.1M346.3 190.3l.1.1M352.5 189.4l.1.1M358.6 188.5l.1.1M364.8 187.7l.1.1M371.0 186.8l.1.1M377.1 186.0l.1.1M383.3 185.2l.1.1M389.4 184.4l.1.1M395.6 183.6l.1.1M401.8 182.8l.1.1M407.9 182.2l.1.1M414.1 181.3l.1.1M420.2 179.3l.1.1M426.4 175.6l.1.1M432.6 171.9l.1.1M438.7 168.4l.1.1M444.9 162.3l.1.1M451.0 155.3l.1.1M457.2 154.5l.1.1M463.4 166.0l.1.1M469.5 187.0l.1.1M475.7 209.0l.1.1M481.9 219.0l.1.1M488.0 182.6l.1.1M494.2 135.8l.1.1M500.3 159.9l.1.1M506.5 205.5l.1.1M512.7 232.0l.1.1M518.8 137.9l.1.1M525.0 187.0l.1.1M531.1 196.5l.1.1M537.3 235.1l.1.1M543.5 172.5l.1.1M549.6 172.8l.1.1M555.8 146.9l.1.1M561.9 158.9l.1.1M568.1 183.6l.1.1M574.2 250.0l.1.1M580.4 273.1l.1.1M586.6 290.1l.1.1M592.7 368.8l.1.1M598.9 248.4l.1.1M605.1 145.6l.1.1M611.2 297.3l.1.1M617.4 105.4l.1.1M623.5 166.8l.1.1M629.7 316.8l.1.1M635.9 307.3l.1.1M642.0 436.1l.1.1M648.2 303.8l.1.1M654.3 450.5l.1.1M660.5 323.8l.1.1M666.6 341.6l.1.1M672.8 159.0l.1.1M679.0 169.5l.1.1M685.1 287.5l.1.1M691.3 305.1l.1.1M697.5 335.3l.1.1"/>
<path stroke="#bf00bf" d="M81.5 258.7l.1.1M87.6 253.9l.1.1M93.8 249.3l.1.1M99.9 245.6l.1.1M106.1 242.5l.1.1M112.2 239.7l.1.1M118.4 237.3l.1.1M124.6 235.1l.1.1M130.7 233.0l.1.1M136.9 231.0l.1.1M143.0 229.1l.1.1M149.2 227.4l.1.1M155.4 225.7l.1.1M161.5 224.1l.1.1M167.7 222.5l.1.1M173.8 221.0l.1.1M180.0 219.5l.1.1M186.2 218.1l.1.1M192.3 216.8l.1.1M198.5 215.4l.1.1M204.6 214.1l.1.1M210.8 212.9l.1.1M217.0 211.6l.1.1M223.1 210.4l.1.1M229.3 209.3l.1.1M235.4 208.1l.1.1M241.6 207.0l.1.1M247.8 205.8l.1.1M253.9 204.8l.1.1M260.1 203.7l.1.1M266.2 202.6l.1.1M272.4 201.6l.1.1M278.6 200.6l.1.1M284.7 199.6l.1.1M290.9 198.6l.1.1M297.1 197.6l.1.1M303.2 196.6l.1.1M309.4 195.7l.1.1M315.5 194.8l.1.1M321.7 193.8l.1.1M327.8 192.9l.1.1M334.0 192.0l.1.1M340.2 191.1l.1.1M346.3 190.3l.1.1M352.5 189.4l.1.1M358.6 188.5l.1.1M364.8 187.7l.1.1M371.0 186.8l.1.1M377.1 186.0l.1.1M383.3 185.2l.1.1M389.4 184.4l.1.1M395.6 183.6l.1.1M401.8 182.8l.1.1M407.9 182.0l.1.1M414.1 180.8l.1.1M420.2 178.9l.1.1M426.4 177.9l.1.1M432.6 180.6l.1.1M438.7 184.5l.1.1M444.9 183.3l.1.1M451.0 173.1l.1.1M457.2 157.7l.1.1M463.4 148.9l.1.1M469.5 160.1l.1.1M475.7 185.2l.1.1M481.9 210.5l.1.1M488.0 221.3l.1.1M494.2 172.5l.1.1M500.3 134.2l.1.1M506.5 174.8l.1.1M512.7 220.6l.1.1M518.8 210.0l.1.1M525.0 150.0l.1.1M531.1 160.5l.1.1M537.3 240.7l.1.1M543.5 132.4l.1.1M549.6 249.5l.1.1M555.8 113.9l.1.1M561.9 117.6l.1.1M568.1 139.6l.1.1M574.2 239.2l.1.1M580.4 278.7l.1.1M586.6 307.9l.1.1M592.7 417.7l.1.1M598.9 235.8l.1.1M605.1 98.8l.1.1M611.2 321.3l.1.1M617.4 262.3l.1.1M623.5 300.5l.1.1M629.7 354.2l.1.1M635.9 339.5l.1.1M642.0 265.0l.1.1M648.2 334.5l.1.1M654.3 393.0l.1.1M660.5 368.9l.1.1M666.6 397.3l.1.1M672.8 102.5l.1.1M679.0 201.0l.1.1M685.1 306.9l.1.1M691.3 339.3l.1.1M697.5 321.0l.1.1"/>
<path stroke="#bfbf00" d="M81.5 258.7l.1.1M87.6 253.9l.1.1M93.8 249.3l.1.1M99.9 245.6l.1.1M106.1 242.5l.1.1M112.2 239.7l.1.1M118.4 237.3l.1.1M124.6 235.1l.1.1M130.7 233.0l.1.1M136.9 231.0l.1.1M143.0 229.1l.1.1M149.2 227.4l.1.1M155.4 225.7l.1.1M161.5 224.1l.1.1M167.7 222.5l.1.1M173.8 221.0l.1.1M180.0 219.5l.1.1M186.2 218.1l.1.1M192.3 216.8l.1.1M198.5 215.4l.1.1M204.6 214.1l.1.1M210.8 212.9l.1.1M217.0 211.6l.1.1M223.1 210.4l.1.1M229.3 209.3l.1.1M235.4 208.1l.1.1M241.6 207.0l.1.1M247.8 205.8l.1.1M253.9 204.8l.1.1M260.1 203.7l.1.1M266.2 202.6l.1.1M272.4 201.6l.1.1M278.6 200.6l.1.1M284.7 199.6l.1.1M290.9 198.6l.1.1M297.1 197.6l.1.1M303.2 196.6l.1.1M309.4 195.7l.1.1M315.5 194.8l.1.1M321.7 193.8l.1.1M327.8 192.9l.1.1M334.0 192.0l.1.1M340.2 191.1l.1.1M346.3 190.3l.1.1M352.5 189.4l.1.1M358.6 188.5l.1.1M364.8 187.7l.1.1M371.0 186.8l.1.1M377.1 186.0l.1.1M383.3 185.2l.1.1M389.4 184.4l.1.1M395.6 183.6l.1.1M401.8 182.8l.1.1M407.9 181.8l.1.1M414.1 180.7l.1.1M420.2 180.1l.1.1M426.4 182.2l.1.1M432.6 187.7l.1.1M438.7 194.0l.1.1M444.9 199.2l.1.1M451.0 200.0l.1.1M457.2 190.2l.1.1M463.4 164.1l.1.1M469.5 145.7l.1.1M475.7 156.9l.1.1M481.9 185.8l.1.1M488.0 213.9l.1.1M494.2 221.9l.1.1M500.3 154.4l.1.1M506.5 141.4l.1.1M512.7 195.4l.1.1M518.8 233.8l.1.1M525.0 124.3l.1.1M531.1 126.2l.1.1M537.3 224.8l.1.1M543.5 121.7l.1.1M549.6 246.8l.1.1M555.8 155.7l.1.1M561.9 130.1l.1.1M568.1 108.7l.1.1M574.2 220.8l.1.1M580.4 288.3l.1.1M586.6 337.4l.1.1M592.7 418.0l.1.1M598.9 214.1l.1.1M605.1 137.5l.1.1M611.2 360.5l.1.1M617.4 265.1l.1.1M623.5 309.7l.1.1M629.7 409.0l.1.1M635.9 390.4l.1.1M642.0 265.4l.1.1M648.2 384.5l.1.1M654.3 198.4l.1.1M660.5 431.6l.1.1M666.6 456.3l.1.1M672.8 89.7l.1.1M679.0 181.4l.1.1M685.1 342.0l.1.1M691.3 396.8l.1.1M697.5 356.2l.1.1"/>
<path stroke="#404040" d="M81.5 258.7l.1.1M87.6 253.9l.1.1M93.8 249.3l.1.1M99.9 245.6l.1.1M106.1 242.5l.1.1M112.2 239.7l.1.1M118.4 237.3l.1.1M124.6 235.1l.1.1M130.7 233.0l.1.1M136.9 231.0l.1.1M143.0 229.1l.1.1M149.2 227.4l.1.1M155.4 225.7l.1.1M161.5 224.1l.1.1M167.7 222.5l.1.1M173.8 221.0l.1.1M180.0 219.5l.1.1M186.2 218.1l.1.1M192.3 216.8l.1.1M198.5 215.4l.1.1M204.6 214.1l.1.1M210.8 212.9l.1.1M217.0 211.6l.1.1M223.1 210.4l.1.1M229.3 209.3l.1.1M235.4 208.1l.1.1M241.6 207.0l.1.1M247.8 205.8l.1.1M253.9 204.8l.1.1M260.1 203.7l.1.1M266.2 202.6l.1.1M272.4 201.6l.1.1M278.6 200.6l.1.1M284.7 199.6l.1.1M290.9 198.6l.1.1M297.1 197.6l.1.1M303.2 196.6l.1.1M309.4 195.7l.1.1M315.5 194.8l.1.1M321.7 193.8l.1.1M327.8 192.9l.1.1M334.0 192.0l.1.1M340.2 191.1l.1.1M346.3 190.3l.1.1M352.5 189.4l.1.1M358.6 188.5l.1.1M364.8 187.7l.1.1M371.0 186.8l.1.1M377.1 186.0l.1.1M383.3 185.2l.1.1M389.4 184.4l.1.1M395.6 183.6l.1.1M401.8 182.7l.1.1M407.9 181.8l.1.1M414.1 181.1l.1.1M420.2 181.6l.1.1M426.4 183.7l.1.1M432.6 185.9l.1.1M438.7 188.4l.1.1M444.9 193.9l.1.1M451.0 201.9l.1.1M457.2 208.0l.1.1M463.4 202.3l.1.1M469.5 170.2l.1.1M475.7 143.2l.1.1M481.9 156.1l.1.1M488.0 189.5l.1.1M494.2 219.4l.1.1M500.3 216.1l.1.1M506.5 134.5l.1.1M512.7 161.4l.1.1M518.8 218.5l.1.1M525.0 161.3l.1.1M531.1 139.8l.1.1M537.3 199.8l.1.1M543.5 198.0l.1.1M549.6 233.9l.1.1M555.8 250.8l.1.1M561.9 237.8l.1.1M568.1 168.9l.1.1M574.2 190.9l.1.1M580.4 304.7l.1.1M586.6 381.4l.1.1M592.7 287.5l.1.1M598.9 178.5l.1.1M605.1 283.6l.1.1M611.2 413.2l.1.1M617.4 264.8l.1.1M623.5 342.6l.1.1M629.7 444.7l.1.1M635.9 443.5l.1.1M642.0 265.4l.1.1M648.2 443.2l.1.1M654.3 208.4l.1.1M660.5 447.7l.1.1M666.6 387.8l.1.1M672.8 260.2l.1.1M679.0 129.4l.1.1M685.1 400.2l.1.1M691.3 463.5l.1.1M697.5 419.6l.1.1"/>
<path stroke="#0000ff" d="M81.5 258.7l.1.1M87.6 253.9l.1.1M93.8 249.3l.1.1M99.9 245.6l.1.1M106.1 242.5l.1.1M112.2 239.7l.1.1M118.4 237.3l.1.1M124.6 235.1l.1.1M130.7 233.0l.1.1M136.9 231.0l.1.1M143.0 229.1l.1.1M149.2 227.4l.1.1M155.4 225.7l.1.1M161.5 224.1l.1.1M167.7 222.5l.1.1M173.8 221.0l.1.1M180.0 219.5l.1.1M186.2 218.1l.1.1M192.3 216.8l.1.1M198.5 215.4l.1.1M204.6 214.1l.1.1M210.8 212.9l.1.1M217.0 211.6l.1.1M223.1 210.4l.1.1M229.3 209.3l.1.1M235.4 208.1l.1.1M241.6 207.0l.1.1M247.8 205.8l.1.1M253.9 204.8l.1.1M260.1 203.7l.1.1M266.2 202.6l.1.1M272.4 201.6l.1.1M278.6 200.6l.1.1M284.7 199.6l.1.1M290.9 198.6l.1.1M297.1 197.6l.1.1M303.2 196.6l.1.1M309.4 195.7l.1.1M315.5 194.8l.1.1M321.7 193.8l.1.1M327.8 192.9l.1.1M334.0 192.0l.1.1M340.2 191.1l.1.1M346.3 190.3l.1.1M352.5 189.4l.1.1M358.6 188.5l.1.1M364.8 187.7l.1.1M371.0 186.8l.1.1M377.1 186.0l.1.1M383.3 185.2l.1.1M389.4 184.4l.1.1M395.6 183.6l.1.1M401.8 182.7l.1.1M407.9 182.0l.1.1M414.1 181.6l.1.1M420.2 181.9l.1.1M426.4 181.3l.1.1M432.6 178.1l.1.1M438.7 175.1l.1.1M444.9 177.2l.1.1M451.0 185.6l.1.1M457.2 197.5l.1.1M463.4 210.2l.1.1M469.5 209.5l.1.1M475.7 172.5l.1.1M481.9 140.5l.1.1M488.0 158.6l.1.1M494.2 196.6l.1.1M500.3 225.4l.1.1M506.5 190.5l.1.1M512.7 131.3l.1.1M518.8 191.8l.1.1M525.0 233.4l.1.1M531.1 222.1l.1.1M537.3 164.0l.1.1M543.5 245.2l.1.1M549.6 213.3l.1.1M555.8 251.6l.1.1M561.9 251.3l.1.1M568.1 261.4l.1.1M574.2 147.7l.1.1M580.4 331.8l.1.1M586.6 424.9l.1.1M592.7 269.8l.1.1M598.9 128.9l.1.1M605.1 278.9l.1.1M611.2 434.3l.1.1M617.4 264.4l.1.1M623.5 393.0l.1.1M629.7 331.5l.1.1M635.9 393.7l.1.1M642.0 265.5l.1.1M648.2 414.3l.1.1M654.3 174.8l.1.1M660.5 251.9l.1.1M666.6 184.8l.1.1M672.8 266.4l.1.1M679.0 76.9l.1.1M685.1 463.5l.1.1M691.3 401.0l.1.1M697.5 469.4l.1.1"/>
<path stroke="#008000" d="M81.5 258.8l.1.1M87.6 253.9l.1.1M93.8 249.3l.1.1M99.9 245.6l.1.1M106.1 242.5l.1.1M112.2 239.7l.1.1M118.4 237.3l.1.1M124.6 235.1l.1.1M130.7 233.0l.1.1M136.9 231.0l.1.1M143.0 229.1l.1.1M149.2 227.4l.1.1M155.4 225.7l.1.1M161.5 224.1l.1.1M167.7 222.5l.1.1M173.8 221.0l.1.1M180.0 219.5l.1.1M186.2 218.1l.1.1M192.3 216.8l.1.1M198.5 215.4l.1.1M204.6 214.1l.1.1M210.8 212.9l.1.1M217.0 211.6l.1.1M223.1 210.4l.1.1M229.3 209.3l.1.1M235.4 208.1l.1.1M241.6 207.0l.1.1M247.8 205.8l.1.1M253.9 204.8l.1.1M260.1 203.7l.1.1M266.2 202.6l.1.1M272.4 201.6l.1.1M278.6 200.6l.1.1M284.7 199.6l.1.1M290.9 198.6l.1.1M297.1 197.6l.1.1M303.2 196.6l.1.1M309.4 195.7l.1.1M315.5 194.8l.1.1M321.7 193.8l.1.1M327.8 192.9l.1.1M334.0 192.0l.1.1M340.2 191.1l.1.1M346.3 190.3l.1.1M352.5 189.4l.1.1M358.6 188.5l.1.1M364.8 187.7l.1.1M371.0 186.8l.1.1M377.1 186.0l.1.1M383.3 185.2l.1.1M389.4 184.4l.1.1M395.6 183.6l.1.1M401.8 182.8l.1.1M407.9 182.1l.1.1M414.1 181.7l.1.1M420.2 180.8l.1.1M426.4 177.5l.1.1M432.6 171.3l.1.1M438.7 165.1l.1.1M444.9 161.8l.1.1M451.0 164.8l.1.1M457.2 175.3l.1.1M463.4 193.2l.1.1M469.5 211.0l.1.1M475.7 213.5l.1.1M481.9 170.6l.1.1M488.0 138.1l.1.1M494.2 165.4l.1.1M500.3 206.1l.1.1M506.5 229.5l.1.1M512.7 146.3l.1.1M518.8 156.3l.1.1M525.0 234.5l.1.1M531.1 238.2l.1.1M537.3 126.9l.1.1M543.5 236.4l.1.1M549.6 181.5l.1.1M555.8 241.6l.1.1M561.9 241.0l.1.1M568.1 260.7l.1.1M574.2 108.5l.1.1M580.4 373.0l.1.1M586.6 393.3l.1.1M592.7 273.6l.1.1M598.9 97.6l.1.1M605.1 289.9l.1.1M611.2 309.0l.1.1M617.4 263.7l.1.1M623.5 440.9l.1.1M629.7 239.6l.1.1M635.9 217.2l.1.1M642.0 265.6l.1.1M648.2 212.2l.1.1M654.3 118.4l.1.1M660.5 270.5l.1.1M666.6 187.0l.1.1M672.8 267.4l.1.1M679.0 154.5l.1.1M685.1 386.9l.1.1M691.3 153.8l.1.1M697.5 315.1l.1.1"/>
<path stroke="#ff0000" d="M81.5 258.8l.1.1M87.6 253.9l.1.1M93.8 249.3l.1.1M99.9 245.6l.1.1M106.1 242.5l.1.1M112.2 239.7l.1.1M118.4 237.3l.1.1M124.6 235.1l.1.1M130.7 233.0l.1.1M136.9 231.0l.1.1M143.0 229.1l.1.1M149.2 227.4l.1.1M155.4 225.7l.1.1M161.5 224.1l.1.1M167.7 222.5l.1.1M173.8 221.0l.1.1M180.0 219.5l.1.1M186.2 218.1l.1.1M192.3 216.8l.1.1M198.5 215.4l.1.1M204.6 214.1l.1.1M210.8 212.9l.1.1M217.0 211.6l.1.1M223.1 210.4l.1.1M229.3 209.3l.1.1M235.4 208.1l.1.1M241.6 207.0l.1.1M247.8 205.8l.1.1M253.9 204.8l.1.1M260.1 203.7l.1.1M266.2 202.6l.1.1M272.4 201.6l.1.1M278.6 200.6l.1.1M284.7 199.6l.1.1M290.9 198.6l.1.1M297.1 197.6l.1.1M303.2 196.6l.1.1M309.4 195.7l.1.1M315.5 194.8l.1.1M321.7 193.8l.1.1M327.8 192.9l.1.1M334.0 192.0l.1.1M340.2 191.1l.1.1M346.3 190.3l.1.1M352.5 189.4l.1.1M358.6 188.5l.1.1M364.8 187.7l.1.1M371.0 186.8l.1.1M377.1 186.0l.1.1M383.3 185.2l.1.1M389.4 184.4l.1.1M395.6 183.6l.1.1M401.8 182.8l.1.1M407.9 182.1l.1.1M414.1 181.3l.1.1M420.2 179.4l.1.1M426.4 175.9l.1.1M432.6 172.5l.1.1M438.7 169.3l.1.1M444.9 162.9l.1.1M451.0 155.3l.1.1M457.2 155.0l.1.1M463.4 168.1l.1.1M469.5 190.7l.1.1M475.7 212.6l.1.1M481.9 215.6l.1.1M488.0 162.7l.1.1M494.2 138.2l.1.1M500.3 176.5l.1.1M506.5 219.1l.1.1M512.7 216.4l.1.1M518.8 127.6l.1.1M525.0 215.6l.1.1M531.1 222.4l.1.1M537.3 132.4l.1.1M543.5 217.4l.1.1M549.6 140.3l.1.1M555.8 225.5l.1.1M561.9 224.4l.1.1M568.1 257.2l.1.1M574.2 146.3l.1.1M580.4 418.3l.1.1M586.6 263.9l.1.1M592.7 279.6l.1.1M598.9 187.3l.1.1M605.1 308.2l.1.1M611.2 258.8l.1.1M617.4 262.5l.1.1M623.5 380.8l.1.1M629.7 222.8l.1.1M635.9 226.9l.1.1M642.0 265.8l.1.1M648.2 243.6l.1.1M654.3 79.4l.1.1M660.5 275.7l.1.1M666.6 151.2l.1.1M672.8 269.2l.1.1M679.0 328.4l.1.1M685.1 164.7l.1.1M691.3 178.1l.1.1M697.5 218.1l.1.1"/>
<path stroke="#00bfbf" d="M81.5 258.8l.1.1M87.6 253.9l.1.1M93.8 249.3l.1.1M99.9 245.5l.1.1M106.1 242.5l.1.1M112.2 239.7l.1.1M118.4 237.3l.1.1M124.6 235.1l.1.1M130.7 233.0l.1.1M136.9 231.0l.1.1M143.0 229.1l.1.1M149.2 227.4l.1.1M155.4 225.7l.1.1M161.5 224.1l.1.1M167.7 222.5l.1.1M173.8 221.0l.1.1M180.0 219.5l.1.1M186.2 218.1l.1.1M192.3 216.8l.1.1M198.5 215.4l.1.1M204.6 214.1l.1.1M210.8 212.9l.1.1M217.0 211.6l.1.1M223.1 210.4l.1.1M229.3 209.3l.1.1M235.4 208.1l.1.1M241.6 207.0l.1.1M247.8 205.8l.1.1M253.9 204.8l.1.1M260.1 203.7l.1.1M266.2 202.6l.1.1M272.4 201.6l.1.1M278.6 200.6l.1.1M284.7 199.6l.1.1M290.9 198.6l.1.1M297.1 197.6l.1.1M303.2 196.6l.1.1M309.4 195.7l.1.1M315.5 194.8l.1.1M321.7 193.8l.1.1M327.8 192.9l.1.1M334.0 192.0l.1.1M340.2 191.1l.1.1M346.3 190.3l.1.1M352.5 189.4l.1.1M358.6 188.5l.1.1M364.8 187.7l.1.1M371.0 186.8l.1.1M377.1 186.0l.1.1M383.3 185.2l.1.1M389.4 184.4l.1.1M395.6 183.6l.1.1M401.8 182.8l.1.1M407.9 182.0l.1.1M414.1 180.9l.1.1M420.2 179.1l.1.1M426.4 178.2l.1.1M432.6 181.3l.1.1M438.7 185.6l.1.1M444.9 184.3l.1.1M451.0 173.3l.1.1M457.2 157.0l.1.1M463.4 149.4l.1.1M469.5 163.7l.1.1M475.7 190.8l.1.1M481.9 215.4l.1.1M488.0 215.0l.1.1M494.2 149.2l.1.1M500.3 144.0l.1.1M506.5 194.0l.1.1M512.7 230.8l.1.1M518.8 151.7l.1.1M525.0 187.0l.1.1M531.1 196.5l.1.1M537.3 216.9l.1.1M543.5 188.1l.1.1M549.6 115.6l.1.1M555.8 199.6l.1.1M561.9 197.5l.1.1M568.1 251.5l.1.1M574.2 261.2l.1.1M580.4 406.4l.1.1M586.6 264.3l.1.1M592.7 290.2l.1.1M598.9 277.7l.1.1M605.1 339.2l.1.1M611.2 253.6l.1.1M617.4 260.2l.1.1M623.5 227.9l.1.1M629.7 190.4l.1.1M635.9 199.3l.1.1M642.0 266.2l.1.1M648.2 227.7l.1.1M654.3 202.6l.1.1M660.5 284.2l.1.1M666.6 100.4l.1.1M672.8 272.5l.1.1M679.0 339.6l.1.1M685.1 161.5l.1.1M691.3 170.7l.1.1M697.5 173.8l.1.1"/>
<path stroke="#bf00bf" d="M81.5 258.8l.1.1M87.6 253.9l.1.1M93.8 249.3l.1.1M99.9 245.5l.1.1M106.1 242.5l.1.1M112.2 239.7l.1.1M118.4 237.3l.1.1M124.6 235.1l.1.1M130.7 233.0l.1.1M136.9 231.0l.1.1M143.0 229.1l.1.1M149.2 227.4l.1.1M155.4 225.7l.1.1M161.5 224.1l.1.1M167.7 222.5l.1.1M173.8 221.0l.1.1M180.0 219.5l.1.1M186.2 218.1l.1.1M192.3 216.8l.1.1M198.5 215.4l.1.1M204.6 214.1l.1.1M210.8 212.9l.1.1M217.0 211.6l.1.1M223.1 210.4l.1.1M229.3 209.3l.1.1M235.4 208.1l.1.1M241.6 207.0l.1.1M247.8 205.8l.1.1M253.9 204.8l.1.1M260.1 203.7l.1.1M266.2 202.6l.1.1M272.4 201.6l.1.1M278.6 200.6l.1.1M284.7 199.6l.1.1M290.9 198.6l.1.1M297.1 197.6l.1.1M303.2 196.6l.1.1M309.4 195.7l.1.1M315.5 194.8l.1.1M321.7 193.8l.1.1M327.8 192.9l.1.1M334.0 192.0l.1.1M340.2 191.1l.1.1M346.3 190.3l.1.1M352.5 189.4l.1.1M358.6 188.5l.1.1M364.8 187.7l.1.1M371.0 186.8l.1.1M377.1 186.0l.1.1M383.3 185.2l.1.1M389.4 184.4l.1.1M395.6 183.6l.1.1M401.8 182.8l.1.1M407.9 181.9l.1.1M414.1 180.8l.1.1M420.2 180.1l.1.1M426.4 182.1l.1.1M432.6 187.7l.1.1M438.7 194.0l.1.1M444.9 199.3l.1.1M451.0 200.1l.1.1M457.2 189.0l.1.1M463.4 161.3l.1.1M469.5 145.9l.1.1M475.7 162.4l.1.1M481.9 193.5l.1.1M488.0 219.5l.1.1M494.2 207.3l.1.1M500.3 136.1l.1.1M506.5 160.5l.1.1M512.7 213.1l.1.1M518.8 224.9l.1.1M525.0 150.0l.1.1M531.1 160.5l.1.1M537.3 240.9l.1.1M543.5 148.7l.1.1M549.6 174.0l.1.1M555.8 161.5l.1.1M561.9 157.8l.1.1M568.1 241.8l.1.1M574.2 261.9l.1.1M580.4 282.1l.1.1M586.6 263.5l.1.1M592.7 308.4l.1.1M598.9 283.4l.1.1M605.1 386.0l.1.1M611.2 244.6l.1.1M617.4 256.2l.1.1M623.5 228.0l.1.1M629.7 139.9l.1.1M635.9 152.4l.1.1M642.0 266.9l.1.1M648.2 197.6l.1.1M654.3 297.9l.1.1M660.5 300.0l.1.1M666.6 108.1l.1.1M672.8 278.7l.1.1M679.0 387.1l.1.1M685.1 138.6l.1.1M691.3 132.2l.1.1M697.5 106.4l.1.1"/>
<path stroke="#bfbf00" d="M81.5 258.8l.1.1M87.6 253.9l.1.1M93.8 249.3l.1.1M99.9 245.5l.1.1M106.1 242.5l.1.1M112.2 239.7l.1.1M118.4 237.3l.1.1M124.6 235.1l.1.1M130.7 233.0l.1.1M136.9 231.0l.1.1M143.0 229.1l.1.1M149.2 227.4l.1.1M155.4 225.7l.1.1M161.5 224.1l.1.1M167.7 222.5l.1.1M173.8 221.0l.1.1M180.0 219.5l.1.1M186.2 218.1l.1.1M192.3 216.8l.1.1M198.5 215.4l.1.1M204.6 214.1l.1.1M210.8 212.9l.1.1M217.0 211.6l.1.1M223.1 210.4l.1.1M229.3 209.3l.1.1M235.4 208.1l.1.1M241.6 207.0l.1.1M247.8 205.8l.1.1M253.9 204.8l.1.1M260.1 203.7l.1.1M266.2 202.6l.1.1M272.4 201.6l.1.1M278.6 200.6l.1.1M284.7 199.6l.1.1M290.9 198.6l.1.1M297.1 197.6l.1.1M303.2 196.6l.1.1M309.4 195.7l.1.1M315.5 194.8l.1.1M321.7 193.8l.1.1M327.8 192.9l.1.1M334.0 192.0l.1.1M340.2 191.1l.1.1M346.3 190.3l.1.1M352.5 189.4l.1.1M358.6 188.5l.1.1M364.8 187.7l.1.1M371.0 186.8l.1.1M377.1 186.0l.1.1M383.3 185.2l.1.1M389.4 184.4l.1.1M395.6 183.6l.1.1M401.8 182.7l.1.1M407.9 181.9l.1.1M414.1 181.1l.1.1M420.2 181.4l.1.1M426.4 183.4l.1.1M432.6 185.3l.1.1M438.7 187.5l.1.1M444.9 193.3l.1.1M451.0 201.9l.1.1M457.2 207.9l.1.1M463.4 199.8l.1.1M469.5 164.1l.1.1M475.7 143.3l.1.1M481.9 164.0l.1.1M488.0 198.9l.1.1M494.2 223.9l.1.1M500.3 187.2l.1.1M506.5 132.6l.1.1M512.7 184.6l.1.1M518.8 232.7l.1.1M525.0 124.3l.1.1M531.1 126.2l.1.1M537.3 227.1l.1.1M543.5 118.2l.1.1M549.6 249.6l.1.1M555.8 120.9l.1.1M561.9 117.0l.1.1M568.1 225.4l.1.1M574.2 259.2l.1.1M580.4 272.5l.1.1M586.6 262.2l.1.1M592.7 338.6l.1.1M598.9 297.2l.1.1M605.1 432.4l.1.1M611.2 228.8l.1.1M617.4 249.0l.1.1M623.5 199.9l.1.1M629.7 88.8l.1.1M635.9 95.5l.1.1M642.0 268.1l.1.1M648.2 148.4l.1.1M654.3 321.8l.1.1M660.5 328.4l.1.1M666.6 268.6l.1.1M672.8 290.2l.1.1M679.0 447.4l.1.1M685.1 118.3l.1.1M691.3 94.1l.1.1M697.5 56.9l.1.1"/>
<path stroke="#404040" d="M87.6 253.9l.1.1M93.8 249.3l.1.1M99.9 245.5l.1.1M106.1 242.5l.1.1M112.2 239.7l.1.1M118.4 237.3l.1.1M124.6 235.1l.1.1M130.7 233.0l.1.1M136.9 231.0l.1.1M143.0 229.1l.1.1M149.2 227.4l.1.1M155.4 225.7l.1.1M161.5 224.1l.1.1M167.7 222.5l.1.1M173.8 221.0l.1.1M180.0 219.5l.1.1M186.2 218.1l.1.1M192.3 216.8l.1.1M198.5 215.4l.1.1M204.6 214.1l.1.1M210.8 212.9l.1.1M217.0 211.6l.1.1M223.1 210.4l.1.1M229.3 209.3l.1.1M235.4 208.1l.1.1M241.6 207.0l.1.1M247.8 205.8l.1.1M253.9 204.8l.1.1M260.1 203.7l.1.1M266.2 202.6l.1.1M272.4 201.6l.1.1M278.6 200.6l.1.1M284.7 199.6l.1.1M290.9 198.6l.1.1M297.1 197.6l.1.1M303.2 196.6l.1.1M309.4 195.7l.1.1M315.5 194.8l.1.1M321.7 193.8l.1.1M327.8 192.9l.1.1M334.0 192.0l.1.1M340.2 191.1l.1.1M346.3 190.3l.1.1M352.5 189.4l.1.1M358.6 188.5l.1.1M364.8 187.7l.1.1M371.0 186.8l.1.1M377.1 186.0l.1.1M383.3 185.2l.1.1M389.4 184.4l.1.1M395.6 183.6l.1.1M401.8 182.7l.1.1M407.9 181.9l.1.1M414.1 181.5l.1.1M420.2 181.7l.1.1M426.4 181.1l.1.1M432.6 177.4l.1.1M438.7 174.1l.1.1M444.9 176.4l.1.1M451.0 185.5l.1.1M457.2 198.1l.1.1M463.4 210.7l.1.1M469.5 206.0l.1.1M475.7 162.8l.1.1M481.9 141.4l.1.1M488.0 169.2l.1.1M494.2 206.9l.1.1M500.3 226.9l.1.1M506.5 150.4l.1.1M512.7 149.3l.1.1M518.8 214.1l.1.1M525.0 161.3l.1.1M531.1 139.8l.1.1M537.3 203.3l.1.1M543.5 156.2l.1.1M549.6 246.6l.1.1M555.8 128.6l.1.1M561.9 131.8l.1.1M568.1 198.6l.1.1M574.2 254.8l.1.1M580.4 278.3l.1.1M586.6 259.8l.1.1M592.7 383.8l.1.1M598.9 320.5l.1.1M605.1 391.0l.1.1M611.2 201.7l.1.1M617.4 236.4l.1.1M623.5 154.5l.1.1M629.7 140.7l.1.1M635.9 109.1l.1.1M642.0 270.4l.1.1M648.2 89.2l.1.1M654.3 365.1l.1.1M660.5 376.3l.1.1M666.6 266.1l.1.1M672.8 311.3l.1.1M679.0 418.4l.1.1M685.1 149.5l.1.1M691.3 150.8l.1.1M697.5 236.5l.1.1"/>
<path stroke="#0000ff" d="M87.6 253.9l.1.1M93.8 249.3l.1.1M99.9 245.5l.1.1M106.1 242.5l.1.1M112.2 239.7l.1.1M118.4 237.3l.1.1M124.6 235.1l.1.1M130.7 233.0l.1.1M136.9 231.0l.1.1M143.0 229.1l.1.1M149.2 227.4l.1.1M155.4 225.7l.1.1M161.5 224.1l.1.1M167.7 222.5l.1.1M173.8 221.0l.1.1M180.0 219.5l.1.1M186.2 218.1l.1.1M192.3 216.8l.1.1M198.5 215.4l.1.1M204.6 214.1l.1.1M210.8 212.9l.1.1M217.0 211.6l.1.1M223.1 210.4l.1.1M229.3 209.3l.1.1M235.4 208.1l.1.1M241.6 207.0l.1.1M247.8 205.8l.1.1M253.9 204.8l.1.1M260.1 203.7l.1.1M266.2 202.6l.1.1M272.4 201.6l.1.1M278.6 200.6l.1.1M284.7 199.6l.1.1M290.9 198.6l.1.1M297.1 197.6l.1.1M303.2 196.6l.1.1M309.4 195.7l.1.1M315.5 194.8l.1.1M321.7 193.8l.1.1M327.8 192.9l.1.1M334.0 192.0l.1.1M340.2 191.1l.1.1M346.3 190.3l.1.1M352.5 189.4l.1.1M358.6 188.5l.1.1M364.8 187.7l.1.1M371.0 186.8l.1.1M377.1 186.0l.1.1M383.3 185.2l.1.1M389.4 184.4l.1.1M395.6 183.6l.1.1M401.8 182.8l.1.1M407.9 182.1l.1.1M414.1 181.6l.1.1M420.2 180.8l.1.1M426.4 177.5l.1.1M432.6 171.2l.1.1M438.7 164.9l.1.1M444.9 161.4l.1.1M451.0 164.7l.1.1M457.2 176.1l.1.1M463.4 195.1l.1.1M469.5 212.6l.1.1M475.7 208.5l.1.1M481.9 157.2l.1.1M488.0 141.9l.1.1M494.2 178.4l.1.1M500.3 217.5l.1.1M506.5 216.4l.1.1M512.7 128.6l.1.1M518.8 185.4l.1.1M525.0 233.4l.1.1M531.1 222.1l.1.1M537.3 168.6l.1.1M543.5 242.2l.1.1M549.6 233.6l.1.1M555.8 229.2l.1.1M561.9 239.8l.1.1M568.1 158.6l.1.1M574.2 247.3l.1.1M580.4 287.6l.1.1M586.6 255.7l.1.1M592.7 427.8l.1.1M598.9 358.3l.1.1M605.1 246.2l.1.1M611.2 158.4l.1.1M617.4 214.3l.1.1M623.5 100.0l.1.1M629.7 308.0l.1.1M635.9 294.3l.1.1M642.0 274.6l.1.1M648.2 111.4l.1.1M654.3 426.2l.1.1M660.5 439.2l.1.1M666.6 266.8l.1.1M672.8 348.9l.1.1M679.0 201.4l.1.1M685.1 216.9l.1.1M691.3 278.2l.1.1M697.5 296.3l.1.1"/>
<path stroke="#008000" d="M87.6 253.9l.1.1M93.8 249.3l.1.1M99.9 245.5l.1.1M106.1 242.5l.1.1M112.2 239.7l.1.1M118.4 237.3l.1.1M124.6 235.1l.1.1M130.7 233.0l.1.1M136.9 231.0l.1.1M143.0 229.1l.1.1M149.2 227.4l.1.1M155.4 225.7l.1.1M161.5 224.1l.1.1M167.7 222.5l.1.1M173.8 221.0l.1.1M180.0 219.5l.1.1M186.2 218.1l.1.1M192.3 216.8l.1.1M198.5 215.4l.1.1M204.6 214.1l.1.1M210.8 212.9l.1.1M217.0 211.6l.1.1M223.1 210.4l.1.1M229.3 209.3l.1.1M235.4 208.1l.1.1M241.6 207.0l.1.1M247.8 205.8l.1.1M253.9 204.8l.1.1M260.1 203.7l.1.1M266.2 202.6l.1.1M272.4 201.6l.1.1M278.6 200.6l.1.1M284.7 199.6l.1.1M290.9 198.6l.1.1M297.1 197.6l.1.1M303.2 196.6l.1.1M309.4 195.7l.1.1M315.5 194.8l.1.1M321.7 193.8l.1.1M327.8 192.9l.1.1M334.0 192.0l.1.1M340.2 191.1l.1.1M346.3 190.3l.1.1M352.5 189.4l.1.1M358.6 188.5l.1.1M364.8 187.7l.1.1M371.0 186.8l.1.1M377.1 186.0l.1.1M383.3 185.2l.1.1M389.4 184.4l.1.1M395.6 183.6l.1.1M401.8 182.8l.1.1M407.9 182.1l.1.1M414.1 181.3l.1.1M420.2 179.5l.1.1M426.4 176.1l.1.1M432.6 173.1l.1.1M438.7 170.3l.1.1M444.9 163.5l.1.1M451.0 155.3l.1.1M457.2 155.4l.1.1M463.4 170.2l.1.1M469.5 194.2l.1.1M475.7 215.2l.1.1M481.9 207.7l.1.1M488.0 147.6l.1.1M494.2 146.9l.1.1M500.3 192.4l.1.1M506.5 228.1l.1.1M512.7 168.4l.1.1M518.8 149.1l.1.1M525.0 234.5l.1.1M531.1 238.2l.1.1M537.3 130.3l.1.1M543.5 243.9l.1.1M549.6 212.8l.1.1M555.8 248.5l.1.1M561.9 251.5l.1.1M568.1 116.0l.1.1M574.2 234.5l.1.1M580.4 303.6l.1.1M586.6 248.7l.1.1M592.7 390.8l.1.1M598.9 408.6l.1.1M605.1 250.4l.1.1M611.2 106.0l.1.1M617.4 177.4l.1.1M623.5 110.6l.1.1M629.7 301.8l.1.1M635.9 271.6l.1.1M642.0 282.1l.1.1M648.2 314.2l.1.1M654.3 449.0l.1.1M660.5 436.7l.1.1M666.6 268.0l.1.1M672.8 408.6l.1.1M679.0 241.5l.1.1M685.1 215.3l.1.1M691.3 279.6l.1.1M697.5 329.1l.1.1"/>
<path stroke="#ff0000" d="M87.6 253.9l.1.1M93.8 249.3l.1.1M99.9 245.5l.1.1M106.1 242.5l.1.1M112.2 239.7l.1.1M118.4 237.3l.1.1M124.6 235.1l.1.1M130.7 233.0l.1.1M136.9 231.0l.1.1M143.0 229.1l.1.1M149.2 227.4l.1.1M155.4 225.7l.1.1M161.5 224.1l.1.1M167.7 222.5l.1.1M173.8 221.0l.1.1M180.0 219.5l.1.1M186.2 218.1l.1.1M192.3 216.8l.1.1M198.5 215.4l.1.1M204.6 214.1l.1.1M210.8 212.9l.1.1M217.0 211.6l.1.1M223.1 210.4l.1.1M229.3 209.3l.1.1M235.4 208.1l.1.1M241.6 207.0l.1.1M247.8 205.8l.1.1M253.9 204.8l.1.1M260.1 203.7l.1.1M266.2 202.6l.1.1M272.4 201.6l.1.1M278.6 200.6l.1.1M284.7 199.6l.1.1M290.9 198.6l.1.1M297.1 197.6l.1.1M303.2 196.6l.1.1M309.4 195.7l.1.1M315.5 194.8l.1.1M321.7 193.8l.1.1M327.8 192.9l.1.1M334.0 192.0l.1.1M340.2 191.1l.1.1M346.3 190.3l.1.1M352.5 189.4l.1.1M358.6 188.5l.1.1M364.8 187.7l.1.1M371.0 186.8l.1.1M377.1 186.0l.1.1M383.3 185.2l.1.1M389.4 184.4l.1.1M395.6 183.6l.1.1M401.8 182.8l.1.1M407.9 182.0l.1.1M414.1 180.9l.1.1M420.2 179.3l.1.1M426.4 178.5l.1.1M432.6 181.9l.1.1M438.7 186.6l.1.1M444.9 185.3l.1.1M451.0 173.5l.1.1M457.2 156.4l.1.1M463.4 150.1l.1.1M469.5 167.5l.1.1M475.7 196.0l.1.1M481.9 218.4l.1.1M488.0 200.7l.1.1M494.2 137.6l.1.1M500.3 159.7l.1.1M506.5 209.6l.1.1M512.7 229.4l.1.1M518.8 126.3l.1.1M525.0 215.6l.1.1M531.1 222.4l.1.1M537.3 127.3l.1.1M543.5 229.4l.1.1M549.6 180.8l.1.1M555.8 237.1l.1.1M561.9 241.3l.1.1M568.1 128.0l.1.1M574.2 213.1l.1.1M580.4 330.1l.1.1M586.6 236.5l.1.1M592.7 257.1l.1.1M598.9 430.7l.1.1M605.1 238.2l.1.1M611.2 109.7l.1.1M617.4 124.6l.1.1M623.5 280.3l.1.1M629.7 328.7l.1.1M635.9 277.0l.1.1M642.0 295.7l.1.1M648.2 279.8l.1.1M654.3 272.6l.1.1M660.5 222.7l.1.1M666.6 270.3l.1.1M672.8 462.3l.1.1M679.0 225.0l.1.1M685.1 176.5l.1.1M691.3 292.9l.1.1M697.5 381.3l.1.1"/>
<path stroke="#00bfbf" d="M87.6 253.9l.1.1M93.8 249.3l.1.1M99.9 245.5l.1.1M106.1 242.5l.1.1M112.2 239.7l.1.1M118.4 237.3l.1.1M124.6 235.1l.1.1M130.7 233.0l.1.1M136.9 231.0l.1.1M143.0 229.1l.1.1M149.2 227.4l.1.1M155.4 225.7l.1.1M161.5 224.1l.1.1M167.7 222.5l.1.1M173.8 221.0l.1.1M180.0 219.5l.1.1M186.2 218.1l.1.1M192.3 216.8l.1.1M198.5 215.4l.1.1M204.6 214.1l.1.1M210.8 212.9l.1.1M217.0 211.6l.1.1M223.1 210.4l.1.1M229.3 209.3l.1.1M235.4 208.1l.1.1M241.6 207.0l.1.1M247.8 205.8l.1.1M253.9 204.8l.1.1M260.1 203.7l.1.1M266.2 202.6l.1.1M272.4 201.6l.1.1M278.6 200.6l.1.1M284.7 199.6l.1.1M290.9 198.6l.1.1M297.1 197.6l.1.1M303.2 196.6l.1.1M309.4 195.7l.1.1M315.5 194.8l.1.1M321.7 193.8l.1.1M327.8 192.9l.1.1M334.0 192.0l.1.1M340.2 191.1l.1.1M346.3 190.3l.1.1M352.5 189.4l.1.1M358.6 188.5l.1.1M364.8 187.7l.1.1M371.0 186.8l.1.1M377.1 186.0l.1.1M383.3 185.2l.1.1M389.4 184.4l.1.1M395.6 183.6l.1.1M401.8 182.8l.1.1M407.9 181.9l.1.1M414.1 180.8l.1.1M420.2 180.1l.1.1M426.4 182.1l.1.1M432.6 187.6l.1.1M438.7 193.9l.1.1M444.9 199.4l.1.1M451.0 200.2l.1.1M457.2 187.9l.1.1M463.4 158.8l.1.1M469.5 146.8l.1.1M475.7 168.2l.1.1M481.9 200.2l.1.1M488.0 221.9l.1.1M494.2 183.5l.1.1M500.3 134.1l.1.1M506.5 180.4l.1.1M512.7 227.9l.1.1M518.8 165.8l.1.1M525.0 187.0l.1.1M531.1 196.5l.1.1M537.3 206.6l.1.1M543.5 206.6l.1.1M549.6 139.5l.1.1M555.8 218.1l.1.1M561.9 224.9l.1.1M568.1 241.1l.1.1M574.2 179.0l.1.1M580.4 370.6l.1.1M586.6 215.8l.1.1M592.7 259.1l.1.1M598.9 320.6l.1.1M605.1 218.0l.1.1M611.2 262.2l.1.1M617.4 90.5l.1.1M623.5 268.7l.1.1M629.7 373.7l.1.1M635.9 286.4l.1.1M642.0 320.0l.1.1M648.2 291.0l.1.1M654.3 262.2l.1.1M660.5 269.4l.1.1M666.6 274.6l.1.1M672.8 350.7l.1.1M679.0 190.9l.1.1M685.1 113.5l.1.1M691.3 316.9l.1.1M697.5 452.4l.1.1"/>
<path stroke="#bf00bf" d="M87.6 253.9l.1.1M93.8 249.3l.1.1M99.9 245.5l.1.1M106.1 242.5l.1.1M112.2 239.7l.1.1M118.4 237.3l.1.1M124.6 235.1l.1.1M130.7 233.0l.1.1M136.9 231.0l.1.1M143.0 229.1l.1.1M149.2 227.4l.1.1M155.4 225.7l.1.1M161.5 224.1l.1.1M167.7 222.5l.1.1M173.8 221.0l.1.1M180.0 219.5l.1.1M186.2 218.1l.1.1M192.3 216.8l.1.1M198.5 215.4l.1.1M204.6 214.1l.1.1M210.8 212.9l.1.1M217.0 211.6l.1.1M223.1 210.4l.1.1M229.3 209.3l.1.1M235.4 208.1l.1.1M241.6 207.0l.1.1M247.8 205.8l.1.1M253.9 204.8l.1.1M260.1 203.7l.1.1M266.2 202.6l.1.1M272.4 201.6l.1.1M278.6 200.6l.1.1M284.7 199.6l.1.1M290.9 198.6l.1.1M297.1 197.6l.1.1M303.2 196.6l.1.1M309.4 195.7l.1.1M315.5 194.8l.1.1M321.7 193.8l.1.1M327.8 192.9l.1.1M334.0 192.0l.1.1M340.2 191.1l.1.1M346.3 190.3l.1.1M352.5 189.4l.1.1M358.6 188.5l.1.1M364.8 187.7l.1.1M371.0 186.8l.1.1M377.1 186.0l.1.1M383.3 185.2l.1.1M389.4 184.4l.1.1M395.6 183.6l.1.1M401.8 182.8l.1.1M407.9 181.9l.1.1M414.1 181.1l.1.1M420.2 181.3l.1.1M426.4 183.2l.1.1M432.6 184.7l.1.1M438.7 186.6l.1.1M444.9 192.7l.1.1M451.0 201.8l.1.1M457.2 207.8l.1.1M463.4 197.1l.1.1M469.5 158.9l.1.1M475.7 145.0l.1.1M481.9 171.9l.1.1M488.0 206.8l.1.1M494.2 224.0l.1.1M500.3 154.6l.1.1M506.5 146.2l.1.1M512.7 206.6l.1.1M518.8 231.7l.1.1M525.0 150.0l.1.1M531.1 160.5l.1.1M537.3 241.6l.1.1M543.5 172.5l.1.1M549.6 115.7l.1.1M555.8 188.2l.1.1M561.9 198.2l.1.1M568.1 253.7l.1.1M574.2 133.3l.1.1M580.4 416.5l.1.1M586.6 182.2l.1.1M592.7 254.0l.1.1M598.9 260.4l.1.1M605.1 184.4l.1.1M611.2 264.8l.1.1M617.4 194.0l.1.1M623.5 271.7l.1.1M629.7 429.9l.1.1M635.9 303.2l.1.1M642.0 361.1l.1.1M648.2 312.0l.1.1M654.3 259.0l.1.1M660.5 272.9l.1.1M666.6 282.4l.1.1M672.8 197.1l.1.1M679.0 134.6l.1.1M685.1 63.5l.1.1M691.3 360.1l.1.1M697.5 445.0l.1.1"/>
<path stroke="#bfbf00" d="M87.6 253.9l.1.1M93.8 249.2l.1.1M99.9 245.5l.1.1M106.1 242.5l.1.1M112.2 239.7l.1.1M118.4 237.3l.1.1M124.6 235.1l.1.1M130.7 233.0l.1.1M136.9 231.0l.1.1M143.0 229.1l.1.1M149.2 227.4l.1.1M155.4 225.7l.1.1M161.5 224.1l.1.1M167.7 222.5l.1.1M173.8 221.0l.1.1M180.0 219.5l.1.1M186.2 218.1l.1.1M192.3 216.8l.1.1M198.5 215.4l.1.1M204.6 214.1l.1.1M210.8 212.9l.1.1M217.0 211.6l.1.1M223.1 210.4l.1.1M229.3 209.3l.1.1M235.4 208.1l.1.1M241.6 207.0l.1.1M247.8 205.8l.1.1M253.9 204.8l.1.1M260.1 203.7l.1.1M266.2 202.6l.1.1M272.4 201.6l.1.1M278.6 200.6l.1.1M284.7 199.6l.1.1M290.9 198.6l.1.1M297.1 197.6l.1.1M303.2 196.6l.1.1M309.4 195.7l.1.1M315.5 194.8l.1.1M321.7 193.8l.1.1M327.8 192.9l.1.1M334.0 192.0l.1.1M340.2 191.1l.1.1M346.3 190.3l.1.1M352.5 189.4l.1.1M358.6 188.5l.1.1M364.8 187.7l.1.1M371.0 186.8l.1.1M377.1 186.0l.1.1M383.3 185.2l.1.1M389.4 184.4l.1.1M395.6 183.6l.1.1M401.8 182.7l.1.1M407.9 181.9l.1.1M414.1 181.4l.1.1M420.2 181.5l.1.1M426.4 180.8l.1.1M432.6 176.8l.1.1M438.7 173.2l.1.1M444.9 175.6l.1.1M451.0 185.3l.1.1M457.2 198.7l.1.1M463.4 211.1l.1.1M469.5 201.5l.1.1M475.7 154.9l.1.1M481.9 145.2l.1.1M488.0 179.4l.1.1M494.2 216.1l.1.1M500.3 216.3l.1.1M506.5 131.7l.1.1M512.7 175.6l.1.1M518.8 231.1l.1.1M525.0 124.3l.1.1M531.1 126.2l.1.1M537.3 229.9l.1.1M543.5 132.4l.1.1M549.6 176.0l.1.1M555.8 146.9l.1.1M561.9 158.9l.1.1M568.1 244.9l.1.1M574.2 106.9l.1.1M580.4 410.1l.1.1M586.6 135.2l.1.1M592.7 245.6l.1.1M598.9 257.0l.1.1M605.1 135.2l.1.1M611.2 264.3l.1.1M617.4 286.5l.1.1M623.5 276.7l.1.1M629.7 427.0l.1.1M635.9 332.5l.1.1M642.0 419.4l.1.1M648.2 348.3l.1.1M654.3 253.8l.1.1M660.5 279.2l.1.1M666.6 296.8l.1.1M672.8 160.0l.1.1M679.0 71.3l.1.1M685.1 209.9l.1.1M691.3 426.7l.1.1M697.5 170.4l.1.1"/>
<path stroke="#404040" d="M87.6 253.9l.1.1M93.8 249.2l.1.1M99.9 245.5l.1.1M106.1 242.5l.1.1M112.2 239.7l.1.1M118.4 237.3l.1.1M124.6 235.1l.1.1M130.7 233.0l.1.1M136.9 231.0l.1.1M143.0 229.1l.1.1M149.2 227.4l.1.1M155.4 225.7l.1.1M161.5 224.1l.1.1M167.7 222.5l.1.1M173.8 221.0l.1.1M180.0 219.5l.1.1M186.2 218.1l.1.1M192.3 216.8l.1.1M198.5 215.4l.1.1M204.6 214.1l.1.1M210.8 212.9l.1.1M217.0 211.6l.1.1M223.1 210.4l.1.1M229.3 209.3l.1.1M235.4 208.1l.1.1M241.6 207.0l.1.1M247.8 205.8l.1.1M253.9 204.8l.1.1M260.1 203.7l.1.1M266.2 202.6l.1.1M272.4 201.6l.1.1M278.6 200.6l.1.1M284.7 199.6l.1.1M290.9 198.6l.1.1M297.1 197.6l.1.1M303.2 196.6l.1.1M309.4 195.7l.1.1M315.5 194.8l.1.1M321.7 193.8l.1.1M327.8 192.9l.1.1M334.0 192.0l.1.1M340.2 191.1l.1.1M346.3 190.3l.1.1M352.5 189.4l.1.1M358.6 188.5l.1.1M364.8 187.7l.1.1M371.0 186.8l.1.1M377.1 186.0l.1.1M383.3 185.2l.1.1M389.4 184.4l.1.1M395.6 183.6l.1.1M401.8 182.8l.1.1M407.9 182.0l.1.1M414.1 181.5l.1.1M420.2 180.7l.1.1M426.4 177.5l.1.1M432.6 171.2l.1.1M438.7 164.8l.1.1M444.9 161.1l.1.1M451.0 164.6l.1.1M457.2 176.9l.1.1M463.4 196.8l.1.1M469.5 213.7l.1.1M475.7 201.3l.1.1M481.9 147.8l.1.1M488.0 149.1l.1.1M494.2 191.5l.1.1M500.3 225.3l.1.1M506.5 178.4l.1.1M512.7 140.8l.1.1M518.8 210.8l.1.1M525.0 161.3l.1.1M531.1 139.8l.1.1M537.3 207.6l.1.1M543.5 121.7l.1.1M549.6 249.7l.1.1M555.8 113.9l.1.1M561.9 117.6l.1.1M568.1 230.7l.1.1M574.2 184.1l.1.1M580.4 287.7l.1.1M586.6 101.9l.1.1M592.7 231.1l.1.1M598.9 250.7l.1.1M605.1 95.2l.1.1M611.2 263.5l.1.1M617.4 298.7l.1.1M623.5 285.6l.1.1M629.7 253.6l.1.1M635.9 380.1l.1.1M642.0 446.9l.1.1M648.2 404.3l.1.1M654.3 244.2l.1.1M660.5 290.8l.1.1M666.6 323.1l.1.1M672.8 101.6l.1.1M679.0 133.6l.1.1M685.1 315.7l.1.1M691.3 469.0l.1.1M697.5 286.3l.1.1"/>
<path stroke="#0000ff" d="M87.6 253.9l.1.1M93.8 249.2l.1.1M99.9 245.5l.1.1M106.1 242.5l.1.1M112.2 239.7l.1.1M118.4 237.3l.1.1M124.6 235.1l.1.1M130.7 233.0l.1.1M136.9 231.0l.1.1M143.0 229.1l.1.1M149.2 227.4l.1.1M155.4 225.7l.1.1M161.5 224.1l.1.1M167.7 222.5l.1.1M173.8 221.0l.1.1M180.0 219.5l.1.1M186.2 218.1l.1.1M192.3 216.8l.1.1M198.5 215.4l.1.1M204.6 214.1l.1.1M210.8 212.9l.1.1M217.0 211.6l.1.1M223.1 210.4l.1.1M229.3 209.3l.1.1M235.4 208.1l.1.1M241.6 207.0l.1.1M247.8 205.8l.1.1M253.9 204.8l.1.1M260.1 203.7l.1.1M266.2 202.6l.1.1M272.4 201.6l.1.1M278.6 200.6l.1.1M284.7 199.6l.1.1M290.9 198.6l.1.1M297.1 197.6l.1.1M303.2 196.6l.1.1M309.4 195.7l.1.1M315.5 194.8l.1.1M321.7 193.8l.1.1M327.8 192.9l.1.1M334.0 192.0l.1.1M340.2 191.1l.1.1M346.3 190.3l.1.1M352.5 189.4l.1.1M358.6 188.5l.1.1M364.8 187.7l.1.1M371.0 186.8l.1.1M377.1 186.0l.1.1M383.3 185.2l.1.1M389.4 184.4l.1.1M395.6 183.6l.1.1M401.8 182.8l.1.1M407.9 182.1l.1.1M414.1 181.3l.1.1M420.2 179.7l.1.1M426.4 176.4l.1.1M432.6 173.8l.1.1M438.7 171.4l.1.1M444.9 164.1l.1.1M451.0 155.4l.1.1M457.2 155.9l.1.1M463.4 172.2l.1.1M469.5 197.3l.1.1M475.7 216.6l.1.1M481.9 195.8l.1.1M488.0 139.8l.1.1M494.2 159.6l.1.1M500.3 206.0l.1.1M506.5 228.6l.1.1M512.7 131.5l.1.1M518.8 180.7l.1.1M525.0 233.4l.1.1M531.1 222.1l.1.1M537.3 174.5l.1.1M543.5 198.0l.1.1M549.6 246.3l.1.1M555.8 155.6l.1.1M561.9 130.1l.1.1M568.1 207.1l.1.1M574.2 263.9l.1.1M580.4 273.2l.1.1M586.6 173.2l.1.1M592.7 206.5l.1.1M598.9 239.7l.1.1M605.1 165.4l.1.1M611.2 262.1l.1.1M617.4 324.2l.1.1M623.5 301.4l.1.1M629.7 264.5l.1.1M635.9 436.8l.1.1M642.0 296.4l.1.1M648.2 452.4l.1.1M654.3 226.7l.1.1M660.5 311.9l.1.1M666.6 368.3l.1.1M672.8 86.4l.1.1M679.0 361.3l.1.1M685.1 359.7l.1.1M691.3 281.4l.1.1M697.5 295.0l.1.1"/>
<path stroke="#008000" d="M87.6 253.9l.1.1M93.8 249.2l.1.1M99.9 245.5l.1.1M106.1 242.5l.1.1M112.2 239.7l.1.1M118.4 237.3l.1.1M124.6 235.1l.1.1M130.7 233.0l.1.1M136.9 231.0l.1.1M143.0 229.1l.1.1M149.2 227.4l.1.1M155.4 225.7l.1.1M161.5 224.1l.1.1M167.7 222.5l.1.1M173.8 221.0l.1.1M180.0 219.5l.1.1M186.2 218.1l.1.1M192.3 216.8l.1.1M198.5 215.4l.1.1M204.6 214.1l.1.1M210.8 212.9l.1.1M217.0 211.6l.1.1M223.1 210.4l.1.1M229.3 209.3l.1.1M235.4 208.1l.1.1M241.6 207.0l.1.1M247.8 205.8l.1.1M253.9 204.8l.1.1M260.1 203.7l.1.1M266.2 202.6l.1.1M272.4 201.6l.1.1M278.6 200.6l.1.1M284.7 199.6l.1.1M290.9 198.6l.1.1M297.1 197.6l.1.1M303.2 196.6l.1.1M309.4 195.7l.1.1M315.5 194.8l.1.1M321.7 193.8l.1.1M327.8 192.9l.1.1M334.0 192.0l.1.1M340.2 191.1l.1.1M346.3 190.3l.1.1M352.5 189.4l.1.1M358.6 188.5l.1.1M364.8 187.7l.1.1M371.0 186.8l.1.1M377.1 186.0l.1.1M383.3 185.2l.1.1M389.4 184.4l.1.1M395.6 183.6l.1.1M401.8 182.8l.1.1M407.9 182.0l.1.1M414.1 181.0l.1.1M420.2 179.4l.1.1M426.4 178.7l.1.1M432.6 182.5l.1.1M438.7 187.6l.1.1M444.9 186.4l.1.1M451.0 173.6l.1.1M457.2 155.8l.1.1M463.4 151.1l.1.1M469.5 171.2l.1.1M475.7 200.6l.1.1M481.9 219.5l.1.1M488.0 182.0l.1.1M494.2 136.1l.1.1M500.3 176.3l.1.1M506.5 222.8l.1.1M512.7 188.7l.1.1M518.8 144.4l.1.1M525.0 234.5l.1.1M531.1 238.2l.1.1M537.3 135.3l.1.1M543.5 245.2l.1.1M549.6 233.1l.1.1M555.8 250.8l.1.1M561.9 237.8l.1.1M568.1 170.7l.1.1M574.2 263.3l.1.1M580.4 279.4l.1.1M586.6 272.9l.1.1M592.7 167.5l.1.1M598.9 220.7l.1.1M605.1 286.7l.1.1M611.2 259.5l.1.1M617.4 365.6l.1.1M623.5 328.9l.1.1M629.7 263.7l.1.1M635.9 418.1l.1.1M642.0 252.6l.1.1M648.2 356.0l.1.1M654.3 195.7l.1.1M660.5 349.1l.1.1M666.6 432.2l.1.1M672.8 264.2l.1.1M679.0 344.8l.1.1M685.1 425.7l.1.1M691.3 250.4l.1.1M697.5 321.9l.1.1"/>
<path stroke="#ff0000" d="M87.6 253.9l.1.1M93.8 249.2l.1.1M99.9 245.5l.1.1M106.1 242.5l.1.1M112.2 239.7l.1.1M118.4 237.3l.1.1M124.6 235.1l.1.1M130.7 233.0l.1.1M136.9 231.0l.1.1M143.0 229.1l.1.1M149.2 227.4l.1.1M155.4 225.7l.1.1M161.5 224.1l.1.1M167.7 222.5l.1.1M173.8 221.0l.1.1M180.0 219.5l.1.1M186.2 218.1l.1.1M192.3 216.8l.1.1M198.5 215.4l.1.1M204.6 214.1l.1.1M210.8 212.9l.1.1M217.0 211.6l.1.1M223.1 210.4l.1.1M229.3 209.3l.1.1M235.4 208.1l.1.1M241.6 207.0l.1.1M247.8 205.8l.1.1M253.9 204.8l.1.1M260.1 203.7l.1.1M266.2 202.6l.1.1M272.4 201.6l.1.1M278.6 200.6l.1.1M284.7 199.6l.1.1M290.9 198.6l.1.1M297.1 197.6l.1.1M303.2 196.6l.1.1M309.4 195.7l.1.1M315.5 194.8l.1.1M321.7 193.8l.1.1M327.8 192.9l.1.1M334.0 192.0l.1.1M340.2 191.1l.1.1M346.3 190.3l.1.1M352.5 189.4l.1.1M358.6 188.5l.1.1M364.8 187.7l.1.1M371.0 186.8l.1.1M377.1 186.0l.1.1M383.3 185.2l.1.1M389.4 184.4l.1.1M395.6 183.6l.1.1M401.8 182.8l.1.1M407.9 181.9l.1.1M414.1 180.9l.1.1M420.2 180.2l.1.1M426.4 182.0l.1.1M432.6 187.5l.1.1M438.7 193.8l.1.1M444.9 199.5l.1.1M451.0 200.3l.1.1M457.2 186.7l.1.1M463.4 156.6l.1.1M469.5 148.4l.1.1M475.7 173.8l.1.1M481.9 206.2l.1.1M488.0 221.2l.1.1M494.2 157.8l.1.1M500.3 143.9l.1.1M506.5 199.6l.1.1M512.7 232.0l.1.1M518.8 126.9l.1.1M525.0 215.6l.1.1M531.1 222.4l.1.1M537.3 122.7l.1.1M543.5 236.4l.1.1M549.6 212.0l.1.1M555.8 251.6l.1.1M561.9 251.3l.1.1M568.1 125.8l.1.1M574.2 261.8l.1.1M580.4 289.5l.1.1M586.6 275.0l.1.1M592.7 118.1l.1.1M598.9 189.0l.1.1M605.1 291.0l.1.1M611.2 255.1l.1.1M617.4 419.8l.1.1M623.5 373.3l.1.1M629.7 262.3l.1.1M635.9 231.6l.1.1M642.0 240.8l.1.1M648.2 213.7l.1.1M654.3 144.8l.1.1M660.5 407.1l.1.1M666.6 451.2l.1.1M672.8 265.7l.1.1M679.0 368.1l.1.1M685.1 467.1l.1.1M691.3 234.1l.1.1M697.5 369.0l.1.1"/>
<path stroke="#00bfbf" d="M87.6 253.9l.1.1M93.8 249.2l.1.1M99.9 245.5l.1.1M106.1 242.5l.1.1M112.2 239.7l.1.1M118.4 237.3l.1.1M124.6 235.1l.1.1M130.7 233.0l.1.1M136.9 231.0l.1.1M143.0 229.1l.1.1M149.2 227.4l.1.1M155.4 225.7l.1.1M161.5 224.1l.1.1M167.7 222.5l.1.1M173.8 221.0l.1.1M180.0 219.5l.1.1M186.2 218.1l.1.1M192.3 216.8l.1.1M198.5 215.4l.1.1M204.6 214.1l.1.1M210.8 212.9l.1.1M217.0 211.6l.1.1M223.1 210.4l.1.1M229.3 209.3l.1.1M235.4 208.1l.1.1M241.6 207.0l.1.1M247.8 205.8l.1.1M253.9 204.8l.1.1M260.1 203.7l.1.1M266.2 202.6l.1.1M272.4 201.6l.1.1M278.6 200.6l.1.1M284.7 199.6l.1.1M290.9 198.6l.1.1M297.1 197.6l.1.1M303.2 196.6l.1.1M309.4 195.7l.1.1M315.5 194.8l.1.1M321.7 193.8l.1.1M327.8 192.9l.1.1M334.0 192.0l.1.1M340.2 191.1l.1.1M346.3 190.3l.1.1M352.5 189.4l.1.1M358.6 188.5l.1.1M364.8 187.7l.1.1M371.0 186.8l.1.1M377.1 186.0l.1.1M383.3 185.2l.1.1M389.4 184.4l.1.1M395.6 183.6l.1.1M401.8 182.8l.1.1M407.9 181.9l.1.1M414.1 181.1l.1.1M420.2 181.2l.1.1M426.4 182.9l.1.1M432.6 184.0l.1.1M438.7 185.7l.1.1M444.9 192.0l.1.1M451.0 201.8l.1.1M457.2 207.7l.1.1M463.4 194.2l.1.1M469.5 154.5l.1.1M475.7 148.0l.1.1M481.9 179.7l.1.1M488.0 214.1l.1.1M494.2 215.2l.1.1M500.3 136.2l.1.1M506.5 167.3l.1.1M512.7 222.6l.1.1M518.8 176.6l.1.1M525.0 187.0l.1.1M531.1 196.5l.1.1M537.3 192.1l.1.1M543.5 217.4l.1.1M549.6 179.6l.1.1M555.8 241.6l.1.1M561.9 241.0l.1.1M568.1 113.7l.1.1M574.2 259.3l.1.1M580.4 306.8l.1.1M586.6 282.3l.1.1M592.7 106.4l.1.1M598.9 142.0l.1.1M605.1 310.9l.1.1M611.2 247.1l.1.1M617.4 432.3l.1.1M623.5 428.3l.1.1M629.7 259.9l.1.1M635.9 255.4l.1.1M642.0 221.3l.1.1M648.2 192.0l.1.1M654.3 84.9l.1.1M660.5 457.4l.1.1M666.6 250.7l.1.1M672.8 266.0l.1.1M679.0 415.8l.1.1M685.1 283.8l.1.1M691.3 207.3l.1.1M697.5 439.0l.1.1"/>
<path stroke="#bf00bf" d="M87.6 253.9l.1.1M93.8 249.2l.1.1M99.9 245.5l.1.1M106.1 242.4l.1.1M112.2 239.7l.1.1M118.4 237.3l.1.1M124.6 235.1l.1.1M130.7 233.0l.1.1M136.9 231.0l.1.1M143.0 229.1l.1.1M149.2 227.4l.1.1M155.4 225.7l.1.1M161.5 224.1l.1.1M167.7 222.5l.1.1M173.8 221.0l.1.1M180.0 219.5l.1.1M186.2 218.1l.1.1M192.3 216.8l.1.1M198.5 215.4l.1.1M204.6 214.1l.1.1M210.8 212.9l.1.1M217.0 211.6l.1.1M223.1 210.4l.1.1M229.3 209.3l.1.1M235.4 208.1l.1.1M241.6 207.0l.1.1M247.8 205.8l.1.1M253.9 204.8l.1.1M260.1 203.7l.1.1M266.2 202.6l.1.1M272.4 201.6l.1.1M278.6 200.6l.1.1M284.7 199.6l.1.1M290.9 198.6l.1.1M297.1 197.6l.1.1M303.2 196.6l.1.1M309.4 195.7l.1.1M315.5 194.8l.1.1M321.7 193.8l.1.1M327.8 192.9l.1.1M334.0 192.0l.1.1M340.2 191.1l.1.1M346.3 190.3l.1.1M352.5 189.4l.1.1M358.6 188.5l.1.1M364.8 187.7l.1.1M371.0 186.8l.1.1M377.1 186.0l.1.1M383.3 185.2l.1.1M389.4 184.4l.1.1M395.6 183.6l.1.1M401.8 182.8l.1.1M407.9 181.9l.1.1M414.1 181.4l.1.1M420.2 181.4l.1.1M426.4 180.6l.1.1M432.6 176.2l.1.1M438.7 172.3l.1.1M444.9 174.8l.1.1M451.0 185.2l.1.1M457.2 199.3l.1.1M463.4 211.3l.1.1M469.5 196.3l.1.1M475.7 149.1l.1.1M481.9 150.8l.1.1M488.0 189.8l.1.1M494.2 222.6l.1.1M500.3 187.5l.1.1M506.5 136.0l.1.1M512.7 198.3l.1.1M518.8 233.9l.1.1M525.0 150.0l.1.1M531.1 160.5l.1.1M537.3 242.7l.1.1M543.5 188.1l.1.1M549.6 138.2l.1.1M555.8 225.5l.1.1M561.9 224.4l.1.1M568.1 209.8l.1.1M574.2 255.0l.1.1M580.4 335.2l.1.1M586.6 294.7l.1.1M592.7 225.9l.1.1M598.9 99.0l.1.1M605.1 343.4l.1.1M611.2 233.2l.1.1M617.4 287.4l.1.1M623.5 424.9l.1.1M629.7 255.5l.1.1M635.9 247.0l.1.1M642.0 187.1l.1.1M648.2 143.1l.1.1M654.3 116.8l.1.1M660.5 350.9l.1.1M666.6 272.2l.1.1M672.8 266.5l.1.1M679.0 438.1l.1.1M685.1 248.9l.1.1M691.3 159.5l.1.1M697.5 464.6l.1.1"/>
<path stroke="#bfbf00" d="M87.6 253.9l.1.1M93.8 249.2l.1.1M99.9 245.5l.1.1M106.1 242.4l.1.1M112.2 239.7l.1.1M118.4 237.3l.1.1M124.6 235.1l.1.1M130.7 233.0l.1.1M136.9 231.0l.1.1M143.0 229.1l.1.1M149.2 227.4l.1.1M155.4 225.7l.1.1M161.5 224.1l.1.1M167.7 222.5l.1.1M173.8 221.0l.1.1M180.0 219.5l.1.1M186.2 218.1l.1.1M192.3 216.8l.1.1M198.5 215.4l.1.1M204.6 214.1l.1.1M210.8 212.9l.1.1M217.0 211.6l.1.1M223.1 210.4l.1.1M229.3 209.3l.1.1M235.4 208.1l.1.1M241.6 207.0l.1.1M247.8 205.8l.1.1M253.9 204.8l.1.1M260.1 203.7l.1.1M266.2 202.6l.1.1M272.4 201.6l.1.1M278.6 200.6l.1.1M284.7 199.6l.1.1M290.9 198.6l.1.1M297.1 197.6l.1.1M303.2 196.6l.1.1M309.4 195.7l.1.1M315.5 194.8l.1.1M321.7 193.8l.1.1M327.8 192.9l.1.1M334.0 192.0l.1.1M340.2 191.1l.1.1M346.3 190.3l.1.1M352.5 189.4l.1.1M358.6 188.5l.1.1M364.8 187.7l.1.1M371.0 186.8l.1.1M377.1 186.0l.1.1M383.3 185.2l.1.1M389.4 184.4l.1.1M395.6 183.6l.1.1M401.8 182.8l.1.1M407.9 182.0l.1.1M414.1 181.5l.1.1M420.2 180.7l.1.1M426.4 177.5l.1.1M432.6 171.2l.1.1M438.7 164.7l.1.1M444.9 160.7l.1.1M451.0 164.5l.1.1M457.2 177.7l.1.1M463.4 198.5l.1.1M469.5 214.2l.1.1M475.7 192.5l.1.1M481.9 142.3l.1.1M488.0 158.9l.1.1M494.2 202.8l.1.1M500.3 226.9l.1.1M506.5 141.3l.1.1M512.7 164.9l.1.1M518.8 228.9l.1.1M525.0 124.3l.1.1M531.1 126.2l.1.1M537.3 234.4l.1.1M543.5 148.7l.1.1M549.6 116.0l.1.1M555.8 199.6l.1.1M561.9 197.5l.1.1M568.1 256.0l.1.1M574.2 247.6l.1.1M580.4 377.7l.1.1M586.6 315.7l.1.1M592.7 263.2l.1.1M598.9 149.1l.1.1M605.1 391.8l.1.1M611.2 209.1l.1.1M617.4 263.5l.1.1M623.5 258.5l.1.1M629.7 247.7l.1.1M635.9 232.3l.1.1M642.0 133.8l.1.1M648.2 87.6l.1.1M654.3 326.7l.1.1M660.5 206.8l.1.1M666.6 279.1l.1.1M672.8 267.6l.1.1M679.0 318.9l.1.1M685.1 231.4l.1.1M691.3 90.4l.1.1M697.5 225.8l.1.1"/>
<path stroke="#404040" d="M87.6 253.9l.1.1M93.8 249.2l.1.1M99.9 245.5l.1.1M106.1 242.4l.1.1M112.2 239.7l.1.1M118.4 237.3l.1.1M124.6 235.1l.1.1M130.7 233.0l.1.1M136.9 231.0l.1.1M143.0 229.1l.1.1M149.2 227.4l.1.1M155.4 225.7l.1.1M161.5 224.1l.1.1M167.7 222.5l.1.1M173.8 221.0l.1.1M180.0 219.5l.1.1M186.2 218.1l.1.1M192.3 216.8l.1.1M198.5 215.4l.1.1M204.6 214.1l.1.1M210.8 212.9l.1.1M217.0 211.6l.1.1M223.1 210.4l.1.1M229.3 209.3l.1.1M235.4 208.1l.1.1M241.6 207.0l.1.1M247.8 205.8l.1.1M253.9 204.8l.1.1M260.1 203.7l.1.1M266.2 202.6l.1.1M272.4 201.6l.1.1M278.6 200.6l.1.1M284.7 199.6l.1.1M290.9 198.6l.1.1M297.1 197.6l.1.1M303.2 196.6l.1.1M309.4 195.7l.1.1M315.5 194.8l.1.1M321.7 193.8l.1.1M327.8 192.9l.1.1M334.0 192.0l.1.1M340.2 191.1l.1.1M346.3 190.3l.1.1M352.5 189.4l.1.1M358.6 188.5l.1.1M364.8 187.7l.1.1M371.0 186.8l.1.1M377.1 186.0l.1.1M383.3 185.2l.1.1M389.4 184.4l.1.1M395.6 183.6l.1.1M401.8 182.8l.1.1M407.9 182.1l.1.1M414.1 181.3l.1.1M420.2 179.8l.1.1M426.4 176.6l.1.1M432.6 174.4l.1.1M438.7 172.5l.1.1M444.9 164.8l.1.1M451.0 155.4l.1.1M457.2 156.4l.1.1M463.4 174.3l.1.1M469.5 200.3l.1.1M475.7 216.9l.1.1M481.9 181.8l.1.1M488.0 138.1l.1.1M494.2 173.1l.1.1M500.3 217.4l.1.1M506.5 205.5l.1.1M512.7 133.1l.1.1M518.8 207.3l.1.1M525.0 161.3l.1.1M531.1 139.8l.1.1M537.3 214.6l.1.1M543.5 118.2l.1.1M549.6 179.4l.1.1M555.8 161.5l.1.1M561.9 157.9l.1.1M568.1 250.3l.1.1M574.2 235.0l.1.1M580.4 421.3l.1.1M586.6 349.8l.1.1M592.7 261.6l.1.1M598.9 281.7l.1.1M605.1 434.6l.1.1M611.2 169.8l.1.1M617.4 261.8l.1.1M623.5 264.6l.1.1M629.7 233.7l.1.1M635.9 206.4l.1.1M642.0 82.4l.1.1M648.2 125.5l.1.1M654.3 291.8l.1.1M660.5 176.8l.1.1M666.6 290.6l.1.1M672.8 269.5l.1.1M679.0 257.8l.1.1M685.1 202.6l.1.1M691.3 71.6l.1.1M697.5 296.0l.1.1"/>
<path stroke="#0000ff" d="M87.6 253.9l.1.1M93.8 249.2l.1.1M99.9 245.5l.1.1M106.1 242.4l.1.1M112.2 239.7l.1.1M118.4 237.3l.1.1M124.6 235.1l.1.1M130.7 233.0l.1.1M136.9 231.0l.1.1M143.0 229.1l.1.1M149.2 227.4l.1.1M155.4 225.7l.1.1M161.5 224.1l.1.1M167.7 222.5l.1.1M173.8 221.0l.1.1M180.0 219.5l.1.1M186.2 218.1l.1.1M192.3 216.8l.1.1M198.5 215.4l.1.1M204.6 214.1l.1.1M210.8 212.9l.1.1M217.0 211.6l.1.1M223.1 210.4l.1.1M229.3 209.3l.1.1M235.4 208.1l.1.1M241.6 207.0l.1.1M247.8 205.8l.1.1M253.9 204.8l.1.1M260.1 203.7l.1.1M266.2 202.6l.1.1M272.4 201.6l.1.1M278.6 200.6l.1.1M284.7 199.6l.1.1M290.9 198.6l.1.1M297.1 197.6l.1.1M303.2 196.6l.1.1M309.4 195.7l.1.1M315.5 194.8l.1.1M321.7 193.8l.1.1M327.8 192.9l.1.1M334.0 192.0l.1.1M340.2 191.1l.1.1M346.3 190.3l.1.1M352.5 189.4l.1.1M358.6 188.5l.1.1M364.8 187.7l.1.1M371.0 186.8l.1.1M377.1 186.0l.1.1M383.3 185.2l.1.1M389.4 184.4l.1.1M395.6 183.6l.1.1M401.8 182.8l.1.1M407.9 182.0l.1.1M414.1 181.1l.1.1M420.2 179.5l.1.1M426.4 178.9l.1.1M432.6 183.1l.1.1M438.7 188.6l.1.1M444.9 187.4l.1.1M451.0 173.8l.1.1M457.2 155.2l.1.1M463.4 152.2l.1.1M469.5 174.9l.1.1M475.7 204.9l.1.1M481.9 218.6l.1.1M488.0 162.2l.1.1M494.2 142.8l.1.1M500.3 192.3l.1.1M506.5 229.1l.1.1M512.7 141.4l.1.1M518.8 175.9l.1.1M525.0 233.4l.1.1M531.1 222.1l.1.1M537.3 184.4l.1.1M543.5 156.2l.1.1M549.6 249.7l.1.1M555.8 120.9l.1.1M561.9 117.0l.1.1M568.1 239.6l.1.1M574.2 213.8l.1.1M580.4 398.2l.1.1M586.6 397.0l.1.1M592.7 258.7l.1.1M598.9 280.6l.1.1M605.1 376.1l.1.1M611.2 117.0l.1.1M617.4 259.1l.1.1M623.5 263.9l.1.1M629.7 209.2l.1.1M635.9 163.3l.1.1M642.0 153.1l.1.1M648.2 314.6l.1.1M654.3 309.6l.1.1M660.5 121.5l.1.1M666.6 311.8l.1.1M672.8 273.0l.1.1M679.0 251.7l.1.1M685.1 152.4l.1.1M691.3 311.2l.1.1M697.5 326.4l.1.1"/>
<path stroke="#008000" d="M87.6 253.9l.1.1M93.8 249.2l.1.1M99.9 245.5l.1.1M106.1 242.4l.1.1M112.2 239.7l.1.1M118.4 237.3l.1.1M124.6 235.1l.1.1M130.7 233.0l.1.1M136.9 231.0l.1.1M143.0 229.1l.1.1M149.2 227.4l.1.1M155.4 225.7l.1.1M161.5 224.1l.1.1M167.7 222.5l.1.1M173.8 221.0l.1.1M180.0 219.5l.1.1M186.2 218.1l.1.1M192.3 216.8l.1.1M198.5 215.4l.1.1M204.6 214.1l.1.1M210.8 212.9l.1.1M217.0 211.6l.1.1M223.1 210.4l.1.1M229.3 209.3l.1.1M235.4 208.1l.1.1M241.6 207.0l.1.1M247.8 205.8l.1.1M253.9 204.8l.1.1M260.1 203.7l.1.1M266.2 202.6l.1.1M272.4 201.6l.1.1M278.6 200.6l.1.1M284.7 199.6l.1.1M290.9 198.6l.1.1M297.1 197.6l.1.1M303.2 196.6l.1.1M309.4 195.7l.1.1M315.5 194.8l.1.1M321.7 193.8l.1.1M327.8 192.9l.1.1M334.0 192.0l.1.1M340.2 191.1l.1.1M346.3 190.3l.1.1M352.5 189.4l.1.1M358.6 188.5l.1.1M364.8 187.7l.1.1M371.0 186.8l.1.1M377.1 186.0l.1.1M383.3 185.2l.1.1M389.4 184.4l.1.1M395.6 183.6l.1.1M401.8 182.8l.1.1M407.9 182.0l.1.1M414.1 181.0l.1.1M420.2 180.2l.1.1M426.4 182.0l.1.1M432.6 187.3l.1.1M438.7 193.5l.1.1M444.9 199.6l.1.1M451.0 200.4l.1.1M457.2 185.4l.1.1M463.4 154.6l.1.1M469.5 150.5l.1.1M475.7 179.4l.1.1M481.9 211.7l.1.1M488.0 214.7l.1.1M494.2 141.1l.1.1M500.3 159.5l.1.1M506.5 213.7l.1.1M512.7 210.4l.1.1M518.8 139.9l.1.1M525.0 234.5l.1.1M531.1 238.2l.1.1M537.3 145.4l.1.1M543.5 242.2l.1.1M549.6 245.6l.1.1M555.8 128.6l.1.1M561.9 131.7l.1.1M568.1 221.8l.1.1M574.2 180.1l.1.1M580.4 273.0l.1.1M586.6 428.8l.1.1M592.7 253.8l.1.1M598.9 292.8l.1.1M605.1 243.4l.1.1M611.2 96.7l.1.1M617.4 254.3l.1.1M623.5 262.7l.1.1M629.7 168.2l.1.1M635.9 105.5l.1.1M642.0 319.3l.1.1M648.2 294.6l.1.1M654.3 344.9l.1.1M660.5 78.2l.1.1M666.6 349.4l.1.1M672.8 279.6l.1.1M679.0 239.8l.1.1M685.1 84.0l.1.1M691.3 236.5l.1.1M697.5 376.7l.1.1"/>
<path stroke="#ff0000" d="M87.6 253.9l.1.1M93.8 249.2l.1.1M99.9 245.5l.1.1M106.1 242.4l.1.1M112.2 239.7l.1.1M118.4 237.3l.1.1M124.6 235.1l.1.1M130.7 233.0l.1.1M136.9 231.0l.1.1M143.0 229.1l.1.1M149.2 227.4l.1.1M155.4 225.7l.1.1M161.5 224.1l.1.1M167.7 222.5l.1.1M173.8 221.0l.1.1M180.0 219.5l.1.1M186.2 218.1l.1.1M192.3 216.8l.1.1M198.5 215.4l.1.1M204.6 214.1l.1.1M210.8 212.9l.1.1M217.0 211.6l.1.1M223.1 210.4l.1.1M229.3 209.3l.1.1M235.4 208.1l.1.1M241.6 207.0l.1.1M247.8 205.8l.1.1M253.9 204.8l.1.1M260.1 203.7l.1.1M266.2 202.6l.1.1M272.4 201.6l.1.1M278.6 200.6l.1.1M284.7 199.6l.1.1M290.9 198.6l.1.1M297.1 197.6l.1.1M303.2 196.6l.1.1M309.4 195.7l.1.1M315.5 194.8l.1.1M321.7 193.8l.1.1M327.8 192.9l.1.1M334.0 192.0l.1.1M340.2 191.1l.1.1M346.3 190.3l.1.1M352.5 189.4l.1.1M358.6 188.5l.1.1M364.8 187.7l.1.1M371.0 186.8l.1.1M377.1 186.0l.1.1M383.3 185.2l.1.1M389.4 184.4l.1.1M395.6 183.6l.1.1M401.8 182.8l.1.1M407.9 181.9l.1.1M414.1 181.1l.1.1M420.2 181.1l.1.1M426.4 182.6l.1.1M432.6 183.4l.1.1M438.7 184.7l.1.1M444.9 191.4l.1.1M451.0 201.7l.1.1M457.2 207.6l.1.1M463.4 191.1l.1.1M469.5 151.1l.1.1M475.7 152.0l.1.1M481.9 187.7l.1.1M488.0 219.6l.1.1M494.2 194.0l.1.1M500.3 134.1l.1.1M506.5 186.2l.1.1M512.7 231.2l.1.1M518.8 128.9l.1.1M525.0 215.6l.1.1M531.1 222.4l.1.1M537.3 119.9l.1.1M543.5 243.9l.1.1M549.6 232.0l.1.1M555.8 229.2l.1.1M561.9 239.8l.1.1M568.1 192.8l.1.1M574.2 134.6l.1.1M580.4 269.9l.1.1M586.6 352.9l.1.1M592.7 245.3l.1.1M598.9 312.9l.1.1M605.1 242.6l.1.1M611.2 223.4l.1.1M617.4 245.6l.1.1M623.5 260.6l.1.1M629.7 111.9l.1.1M635.9 92.3l.1.1M642.0 324.3l.1.1M648.2 316.5l.1.1M654.3 400.4l.1.1M660.5 189.2l.1.1M666.6 408.4l.1.1M672.8 291.9l.1.1M679.0 217.9l.1.1M685.1 85.9l.1.1M691.3 209.6l.1.1M697.5 447.7l.1.1"/>
<path stroke="#00bfbf" d="M87.6 253.9l.1.1M93.8 249.2l.1.1M99.9 245.5l.1.1M106.1 242.4l.1.1M112.2 239.7l.1.1M118.4 237.3l.1.1M124.6 235.1l.1.1M130.7 233.0l.1.1M136.9 231.0l.1.1M143.0 229.1l.1.1M149.2 227.4l.1.1M155.4 225.7l.1.1M161.5 224.1l.1.1M167.7 222.5l.1.1M173.8 221.0l.1.1M180.0 219.5l.1.1M186.2 218.1l.1.1M192.3 216.8l.1.1M198.5 215.4l.1.1M204.6 214.1l.1.1M210.8 212.9l.1.1M217.0 211.6l.1.1M223.1 210.4l.1.1M229.3 209.3l.1.1M235.4 208.1l.1.1M241.6 207.0l.1.1M247.8 205.8l.1.1M253.9 204.8l.1.1M260.1 203.7l.1.1M266.2 202.6l.1.1M272.4 201.6l.1.1M278.6 200.6l.1.1M284.7 199.6l.1.1M290.9 198.6l.1.1M297.1 197.6l.1.1M303.2 196.6l.1.1M309.4 195.7l.1.1M315.5 194.8l.1.1M321.7 193.8l.1.1M327.8 192.9l.1.1M334.0 192.0l.1.1M340.2 191.1l.1.1M346.3 190.3l.1.1M352.5 189.4l.1.1M358.6 188.5l.1.1M364.8 187.7l.1.1M371.0 186.8l.1.1M377.1 186.0l.1.1M383.3 185.2l.1.1M389.4 184.4l.1.1M395.6 183.6l.1.1M401.8 182.8l.1.1M407.9 181.9l.1.1M414.1 181.3l.1.1M420.2 181.3l.1.1M426.4 180.4l.1.1M432.6 175.7l.1.1M438.7 171.4l.1.1M444.9 174.0l.1.1M451.0 185.1l.1.1M457.2 199.9l.1.1M463.4 211.3l.1.1M469.5 190.6l.1.1M475.7 145.2l.1.1M481.9 157.9l.1.1M488.0 199.2l.1.1M494.2 224.6l.1.1M500.3 154.9l.1.1M506.5 151.9l.1.1M512.7 215.1l.1.1M518.8 188.0l.1.1M525.0 187.0l.1.1M531.1 196.5l.1.1M537.3 166.1l.1.1M543.5 229.4l.1.1M549.6 210.4l.1.1M555.8 248.5l.1.1M561.9 251.5l.1.1M568.1 151.0l.1.1M574.2 106.7l.1.1M580.4 273.6l.1.1M586.6 258.4l.1.1M592.7 230.5l.1.1M598.9 346.3l.1.1M605.1 224.8l.1.1M611.2 271.3l.1.1M617.4 230.4l.1.1M623.5 256.9l.1.1M629.7 90.2l.1.1M635.9 258.6l.1.1M642.0 363.5l.1.1M648.2 355.9l.1.1M654.3 453.6l.1.1M660.5 307.1l.1.1M666.6 459.9l.1.1M672.8 314.4l.1.1M679.0 178.7l.1.1M685.1 337.1l.1.1M691.3 163.6l.1.1M697.5 453.6l.1.1"/>
<path stroke="#bf00bf" d="M87.6 253.9l.1.1M93.8 249.2l.1.1M99.9 245.5l.1.1M106.1 242.4l.1.1M112.2 239.7l.1.1M118.4 237.3l.1.1M124.6 235.1l.1.1M130.7 233.0l.1.1M136.9 231.0l.1.1M143.0 229.1l.1.1M149.2 227.4l.1.1M155.4 225.7l.1.1M161.5 224.1l.1.1M167.7 222.5l.1.1M173.8 221.0l.1.1M180.0 219.5l.1.1M186.2 218.1l.1.1M192.3 216.8l.1.1M198.5 215.4l.1.1M204.6 214.1l.1.1M210.8 212.9l.1.1M217.0 211.6l.1.1M223.1 210.4l.1.1M229.3 209.3l.1.1M235.4 208.1l.1.1M241.6 207.0l.1.1M247.8 205.8l.1.1M253.9 204.8l.1.1M260.1 203.7l.1.1M266.2 202.6l.1.1M272.4 201.6l.1.1M278.6 200.6l.1.1M284.7 199.6l.1.1M290.9 198.6l.1.1M297.1 197.6l.1.1M303.2 196.6l.1.1M309.4 195.7l.1.1M315.5 194.8l.1.1M321.7 193.8l.1.1M327.8 192.9l.1.1M334.0 192.0l.1.1M340.2 191.1l.1.1M346.3 190.3l.1.1M352.5 189.4l.1.1M358.6 188.5l.1.1M364.8 187.7l.1.1M371.0 186.8l.1.1M377.1 186.0l.1.1M383.3 185.2l.1.1M389.4 184.4l.1.1M395.6 183.6l.1.1M401.8 182.8l.1.1M407.9 182.0l.1.1M414.1 181.4l.1.1M420.2 180.7l.1.1M426.4 177.5l.1.1M432.6 171.3l.1.1M438.7 164.7l.1.1M444.9 160.4l.1.1M451.0 164.4l.1.1M457.2 178.5l.1.1M463.4 200.1l.1.1M469.5 214.2l.1.1M475.7 182.8l.1.1M481.9 140.4l.1.1M488.0 169.5l.1.1M494.2 212.3l.1.1M500.3 216.5l.1.1M506.5 130.8l.1.1M512.7 187.5l.1.1M518.8 234.6l.1.1M525.0 150.0l.1.1M531.1 160.5l.1.1M537.3 241.4l.1.1M543.5 206.6l.1.1M549.6 177.2l.1.1M555.8 237.1l.1.1M561.9 241.3l.1.1M568.1 111.6l.1.1M574.2 180.4l.1.1M580.4 279.6l.1.1M586.6 256.2l.1.1M592.7 205.4l.1.1M598.9 394.6l.1.1M605.1 195.4l.1.1M611.2 276.0l.1.1M617.4 204.1l.1.1M623.5 250.3l.1.1M629.7 235.9l.1.1M635.9 266.7l.1.1M642.0 420.5l.1.1M648.2 414.2l.1.1M654.3 372.0l.1.1M660.5 332.6l.1.1M666.6 349.1l.1.1M672.8 354.2l.1.1M679.0 116.9l.1.1M685.1 247.8l.1.1M691.3 95.2l.1.1M697.5 188.1l.1.1"/>
<path stroke="#bfbf00" d="M87.6 253.9l.1.1M93.8 249.2l.1.1M99.9 245.5l.1.1M106.1 242.4l.1.1M112.2 239.7l.1.1M118.4 237.3l.1.1M124.6 235.1l.1.1M130.7 233.0l.1.1M136.9 231.0l.1.1M143.0 229.1l.1.1M149.2 227.4l.1.1M155.4 225.7l.1.1M161.5 224.1l.1.1M167.7 222.5l.1.1M173.8 221.0l.1.1M180.0 219.5l.1.1M186.2 218.1l.1.1M192.3 216.8l.1.1M198.5 215.4l.1.1M204.6 214.1l.1.1M210.8 212.9l.1.1M217.0 211.6l.1.1M223.1 210.4l.1.1M229.3 209.3l.1.1M235.4 208.1l.1.1M241.6 207.0l.1.1M247.8 205.8l.1.1M253.9 204.8l.1.1M260.1 203.7l.1.1M266.2 202.6l.1.1M272.4 201.6l.1.1M278.6 200.6l.1.1M284.7 199.6l.1.1M290.9 198.6l.1.1M297.1 197.6l.1.1M303.2 196.6l.1.1M309.4 195.7l.1.1M315.5 194.8l.1.1M321.7 193.8l.1.1M327.8 192.9l.1.1M334.0 192.0l.1.1M340.2 191.1l.1.1M346.3 190.3l.1.1M352.5 189.4l.1.1M358.6 188.5l.1.1M364.8 187.7l.1.1M371.0 186.8l.1.1M377.1 186.0l.1.1M383.3 185.2l.1.1M389.4 184.4l.1.1M395.6 183.6l.1.1M401.8 182.8l.1.1M407.9 182.0l.1.1M414.1 181.3l.1.1M420.2 179.8l.1.1M426.4 176.9l.1.1M432.6 175.1l.1.1M438.7 173.6l.1.1M444.9 165.6l.1.1M451.0 155.4l.1.1M457.2 156.9l.1.1M463.4 176.4l.1.1M469.5 203.2l.1.1M475.7 216.1l.1.1M481.9 167.2l.1.1M488.0 142.0l.1.1M494.2 186.0l.1.1M500.3 225.3l.1.1M506.5 165.8l.1.1M512.7 152.3l.1.1M518.8 225.8l.1.1M525.0 124.3l.1.1M531.1 126.2l.1.1M537.3 240.0l.1.1M543.5 172.5l.1.1M549.6 135.7l.1.1M555.8 218.1l.1.1M561.9 224.9l.1.1M568.1 141.9l.1.1M574.2 264.4l.1.1M580.4 289.8l.1.1M586.6 249.2l.1.1M592.7 165.9l.1.1M598.9 433.2l.1.1M605.1 150.0l.1.1M611.2 284.2l.1.1M617.4 161.4l.1.1M623.5 238.5l.1.1M629.7 273.2l.1.1M635.9 267.9l.1.1M642.0 443.3l.1.1M648.2 452.1l.1.1M654.3 201.5l.1.1M660.5 382.2l.1.1M666.6 203.2l.1.1M672.8 415.9l.1.1M679.0 65.4l.1.1M685.1 235.9l.1.1M691.3 66.9l.1.1M697.5 300.6l.1.1"/>
<path stroke="#404040" d="M87.6 253.9l.1.1M93.8 249.2l.1.1M99.9 245.5l.1.1M106.1 242.4l.1.1M112.2 239.7l.1.1M118.4 237.3l.1.1M124.6 235.1l.1.1M130.7 233.0l.1.1M136.9 231.0l.1.1M143.0 229.1l.1.1M149.2 227.4l.1.1M155.4 225.7l.1.1M161.5 224.1l.1.1M167.7 222.5l.1.1M173.8 221.0l.1.1M180.0 219.5l.1.1M186.2 218.1l.1.1M192.3 216.8l.1.1M198.5 215.4l.1.1M204.6 214.1l.1.1M210.8 212.9l.1.1M217.0 211.6l.1.1M223.1 210.4l.1.1M229.3 209.3l.1.1M235.4 208.1l.1.1M241.6 207.0l.1.1M247.8 205.8l.1.1M253.9 204.8l.1.1M260.1 203.7l.1.1M266.2 202.6l.1.1M272.4 201.6l.1.1M278.6 200.6l.1.1M284.7 199.6l.1.1M290.9 198.6l.1.1M297.1 197.6l.1.1M303.2 196.6l.1.1M309.4 195.7l.1.1M315.5 194.8l.1.1M321.7 193.8l.1.1M327.8 192.9l.1.1M334.0 192.0l.1.1M340.2 191.1l.1.1M346.3 190.3l.1.1M352.5 189.4l.1.1M358.6 188.5l.1.1M364.8 187.7l.1.1M371.0 186.8l.1.1M377.1 186.0l.1.1M383.3 185.2l.1.1M389.4 184.4l.1.1M395.6 183.6l.1.1M401.8 182.8l.1.1M407.9 182.0l.1.1M414.1 181.1l.1.1M420.2 179.6l.1.1M426.4 179.1l.1.1M432.6 183.6l.1.1M438.7 189.5l.1.1M444.9 188.4l.1.1M451.0 174.0l.1.1M457.2 154.7l.1.1M463.4 153.4l.1.1M469.5 178.6l.1.1M475.7 209.0l.1.1M481.9 214.2l.1.1M488.0 147.3l.1.1M494.2 153.9l.1.1M500.3 205.9l.1.1M506.5 225.6l.1.1M512.7 128.6l.1.1M518.8 202.5l.1.1M525.0 161.3l.1.1M531.1 139.8l.1.1M537.3 223.4l.1.1M543.5 132.4l.1.1M549.6 116.8l.1.1M555.8 188.2l.1.1M561.9 198.2l.1.1M568.1 254.1l.1.1M574.2 264.1l.1.1M580.4 307.3l.1.1M586.6 237.4l.1.1M592.7 116.6l.1.1M598.9 365.3l.1.1M605.1 101.3l.1.1M611.2 298.7l.1.1M617.4 107.4l.1.1M623.5 217.6l.1.1M629.7 280.3l.1.1M635.9 270.0l.1.1M642.0 292.1l.1.1M648.2 319.1l.1.1M654.3 188.2l.1.1M660.5 444.0l.1.1M666.6 169.0l.1.1M672.8 462.7l.1.1M679.0 197.9l.1.1M685.1 210.2l.1.1M691.3 289.7l.1.1M697.5 323.6l.1.1"/>
<path stroke="#0000ff" d="M87.6 253.9l.1.1M93.8 249.2l.1.1M99.9 245.5l.1.1M106.1 242.4l.1.1M112.2 239.7l.1.1M118.4 237.3l.1.1M124.6 235.1l.1.1M130.7 233.0l.1.1M136.9 231.0l.1.1M143.0 229.1l.1.1M149.2 227.4l.1.1M155.4 225.7l.1.1M161.5 224.1l.1.1M167.7 222.5l.1.1M173.8 221.0l.1.1M180.0 219.5l.1.1M186.2 218.1l.1.1M192.3 216.8l.1.1M198.5 215.4l.1.1M204.6 214.1l.1.1M210.8 212.9l.1.1M217.0 211.6l.1.1M223.1 210.4l.1.1M229.3 209.3l.1.1M235.4 208.1l.1.1M241.6 207.0l.1.1M247.8 205.8l.1.1M253.9 204.8l.1.1M260.1 203.7l.1.1M266.2 202.6l.1.1M272.4 201.6l.1.1M278.6 200.6l.1.1M284.7 199.6l.1.1M290.9 198.6l.1.1M297.1 197.6l.1.1M303.2 196.6l.1.1M309.4 195.7l.1.1M315.5 194.8l.1.1M321.7 193.8l.1.1M327.8 192.9l.1.1M334.0 192.0l.1.1M340.2 191.1l.1.1M346.3 190.3l.1.1M352.5 189.4l.1.1M358.6 188.5l.1.1M364.8 187.7l.1.1M371.0 186.8l.1.1M377.1 186.0l.1.1M383.3 185.2l.1.1M389.4 184.4l.1.1M395.6 183.6l.1.1M401.8 182.8l.1.1M407.9 182.0l.1.1M414.1 181.0l.1.1M420.2 180.2l.1.1M426.4 181.9l.1.1M432.6 187.1l.1.1M438.7 193.2l.1.1M444.9 199.6l.1.1M451.0 200.4l.1.1M457.2 184.2l.1.1M463.4 152.9l.1.1M469.5 153.0l.1.1M475.7 185.2l.1.1M481.9 216.3l.1.1M488.0 200.2l.1.1M494.2 135.5l.1.1M500.3 176.2l.1.1M506.5 225.8l.1.1M512.7 162.0l.1.1M518.8 169.5l.1.1M525.0 233.4l.1.1M531.1 222.1l.1.1M537.3 197.7l.1.1M543.5 121.7l.1.1M549.6 186.2l.1.1M555.8 146.9l.1.1M561.9 158.9l.1.1M568.1 257.0l.1.1M574.2 263.2l.1.1M580.4 336.1l.1.1M586.6 217.3l.1.1M592.7 108.0l.1.1M598.9 248.5l.1.1M605.1 127.7l.1.1M611.2 323.6l.1.1M617.4 102.7l.1.1M623.5 182.3l.1.1M629.7 292.1l.1.1M635.9 273.7l.1.1M642.0 256.8l.1.1M648.2 235.9l.1.1M654.3 142.6l.1.1M660.5 425.0l.1.1M666.6 111.2l.1.1M672.8 321.7l.1.1M679.0 323.9l.1.1M685.1 165.1l.1.1M691.3 246.6l.1.1M697.5 371.8l.1.1"/>
<path stroke="#008000" d="M87.6 253.9l.1.1M93.8 249.2l.1.1M99.9 245.5l.1.1M106.1 242.4l.1.1M112.2 239.7l.1.1M118.4 237.3l.1.1M124.6 235.1l.1.1M130.7 233.0l.1.1M136.9 231.0l.1.1M143.0 229.1l.1.1M149.2 227.4l.1.1M155.4 225.7l.1.1M161.5 224.1l.1.1M167.7 222.5l.1.1M173.8 221.0l.1.1M180.0 219.5l.1.1M186.2 218.1l.1.1M192.3 216.8l.1.1M198.5 215.4l.1.1M204.6 214.1l.1.1M210.8 212.9l.1.1M217.0 211.6l.1.1M223.1 210.4l.1.1M229.3 209.3l.1.1M235.4 208.1l.1.1M241.6 207.0l.1.1M247.8 205.8l.1.1M253.9 204.8l.1.1M260.1 203.7l.1.1M266.2 202.6l.1.1M272.4 201.6l.1.1M278.6 200.6l.1.1M284.7 199.6l.1.1M290.9 198.6l.1.1M297.1 197.6l.1.1M303.2 196.6l.1.1M309.4 195.7l.1.1M315.5 194.8l.1.1M321.7 193.8l.1.1M327.8 192.9l.1.1M334.0 192.0l.1.1M340.2 191.1l.1.1M346.3 190.3l.1.1M352.5 189.4l.1.1M358.6 188.5l.1.1M364.8 187.7l.1.1M371.0 186.8l.1.1M377.1 186.0l.1.1M383.3 185.2l.1.1M389.4 184.4l.1.1M395.6 183.6l.1.1M401.8 182.8l.1.1M407.9 181.9l.1.1M414.1 181.1l.1.1M420.2 181.0l.1.1M426.4 182.4l.1.1M432.6 182.7l.1.1M438.7 183.8l.1.1M444.9 190.7l.1.1M451.0 201.6l.1.1M457.2 207.4l.1.1M463.4 187.9l.1.1M469.5 148.5l.1.1M475.7 156.9l.1.1M481.9 195.2l.1.1M488.0 221.9l.1.1M494.2 168.2l.1.1M500.3 143.7l.1.1M506.5 204.4l.1.1M512.7 227.2l.1.1M518.8 134.7l.1.1M525.0 234.5l.1.1M531.1 238.2l.1.1M537.3 161.2l.1.1M543.5 198.0l.1.1M549.6 249.4l.1.1M555.8 113.9l.1.1M561.9 117.6l.1.1M568.1 250.5l.1.1M574.2 261.6l.1.1M580.4 378.8l.1.1M586.6 184.5l.1.1M592.7 231.2l.1.1M598.9 245.3l.1.1M605.1 277.6l.1.1M611.2 364.0l.1.1M617.4 256.1l.1.1M623.5 129.9l.1.1M629.7 313.0l.1.1M635.9 280.5l.1.1M642.0 248.9l.1.1M648.2 212.4l.1.1M654.3 90.0l.1.1M660.5 207.4l.1.1M666.6 78.9l.1.1M672.8 220.3l.1.1M679.0 368.1l.1.1M685.1 98.2l.1.1M691.3 226.9l.1.1M697.5 442.2l.1.1"/>
<path stroke="#ff0000" d="M87.6 253.9l.1.1M93.8 249.2l.1.1M99.9 245.5l.1.1M106.1 242.4l.1.1M112.2 239.7l.1.1M118.4 237.3l.1.1M124.6 235.1l.1.1M130.7 233.0l.1.1M136.9 231.0l.1.1M143.0 229.1l.1.1M149.2 227.4l.1.1M155.4 225.7l.1.1M161.5 224.1l.1.1M167.7 222.5l.1.1M173.8 221.0l.1.1M180.0 219.5l.1.1M186.2 218.1l.1.1M192.3 216.8l.1.1M198.5 215.4l.1.1M204.6 214.1l.1.1M210.8 212.9l.1.1M217.0 211.6l.1.1M223.1 210.4l.1.1M229.3 209.3l.1.1M235.4 208.1l.1.1M241.6 207.0l.1.1M247.8 205.8l.1.1M253.9 204.8l.1.1M260.1 203.7l.1.1M266.2 202.6l.1.1M272.4 201.6l.1.1M278.6 200.6l.1.1M284.7 199.6l.1.1M290.9 198.6l.1.1M297.1 197.6l.1.1M303.2 196.6l.1.1M309.4 195.7l.1.1M315.5 194.8l.1.1M321.7 193.8l.1.1M327.8 192.9l.1.1M334.0 192.0l.1.1M340.2 191.1l.1.1M346.3 190.3l.1.1M352.5 189.4l.1.1M358.6 188.5l.1.1M364.8 187.7l.1.1M371.0 186.8l.1.1M377.1 186.0l.1.1M383.3 185.2l.1.1M389.4 184.4l.1.1M395.6 183.6l.1.1M401.8 182.8l.1.1M407.9 182.0l.1.1M414.1 181.3l.1.1M420.2 181.2l.1.1M426.4 180.2l.1.1M432.6 175.1l.1.1M438.7 170.5l.1.1M444.9 173.2l.1.1M451.0 185.0l.1.1M457.2 200.5l.1.1M463.4 211.1l.1.1M469.5 184.4l.1.1M475.7 143.2l.1.1M481.9 165.9l.1.1M488.0 207.1l.1.1M494.2 220.5l.1.1M500.3 136.2l.1.1M506.5 173.4l.1.1M512.7 229.0l.1.1M518.8 133.7l.1.1M525.0 215.6l.1.1M531.1 222.4l.1.1M537.3 125.1l.1.1M543.5 245.2l.1.1M549.6 244.0l.1.1M555.8 155.7l.1.1M561.9 130.1l.1.1M568.1 240.1l.1.1M574.2 258.9l.1.1M580.4 421.9l.1.1M586.6 138.0l.1.1M592.7 262.1l.1.1M598.9 229.7l.1.1M605.1 272.1l.1.1M611.2 416.9l.1.1M617.4 265.1l.1.1M623.5 87.9l.1.1M629.7 348.7l.1.1M635.9 292.7l.1.1M642.0 235.8l.1.1M648.2 171.9l.1.1M654.3 126.8l.1.1M660.5 254.2l.1.1M666.6 227.2l.1.1M672.8 182.5l.1.1M679.0 433.3l.1.1M685.1 68.3l.1.1M691.3 194.2l.1.1M697.5 461.0l.1.1"/>
<path stroke="#00bfbf" d="M87.6 253.9l.1.1M93.8 249.2l.1.1M99.9 245.5l.1.1M106.1 242.4l.1.1M112.2 239.7l.1.1M118.4 237.3l.1.1M124.6 235.1l.1.1M130.7 233.0l.1.1M136.9 231.0l.1.1M143.0 229.1l.1.1M149.2 227.4l.1.1M155.4 225.7l.1.1M161.5 224.1l.1.1M167.7 222.5l.1.1M173.8 221.0l.1.1M180.0 219.5l.1.1M186.2 218.1l.1.1M192.3 216.8l.1.1M198.5 215.4l.1.1M204.6 214.1l.1.1M210.8 212.9l.1.1M217.0 211.6l.1.1M223.1 210.4l.1.1M229.3 209.3l.1.1M235.4 208.1l.1.1M241.6 207.0l.1.1M247.8 205.8l.1.1M253.9 204.8l.1.1M260.1 203.7l.1.1M266.2 202.6l.1.1M272.4 201.6l.1.1M278.6 200.6l.1.1M284.7 199.6l.1.1M290.9 198.6l.1.1M297.1 197.6l.1.1M303.2 196.6l.1.1M309.4 195.7l.1.1M315.5 194.8l.1.1M321.7 193.8l.1.1M327.8 192.9l.1.1M334.0 192.0l.1.1M340.2 191.1l.1.1M346.3 190.3l.1.1M352.5 189.4l.1.1M358.6 188.5l.1.1M364.8 187.7l.1.1M371.0 186.8l.1.1M377.1 186.0l.1.1M383.3 185.2l.1.1M389.4 184.4l.1.1M395.6 183.6l.1.1M401.8 182.8l.1.1M407.9 182.0l.1.1M414.1 181.4l.1.1M420.2 180.6l.1.1M426.4 177.6l.1.1M432.6 171.4l.1.1M438.7 164.8l.1.1M444.9 160.1l.1.1M451.0 164.3l.1.1M457.2 179.4l.1.1M463.4 201.7l.1.1M469.5 213.6l.1.1M475.7 172.5l.1.1M481.9 142.1l.1.1M488.0 179.7l.1.1M494.2 220.5l.1.1M500.3 187.8l.1.1M506.5 140.3l.1.1M512.7 208.6l.1.1M518.8 202.2l.1.1M525.0 187.0l.1.1M531.1 196.5l.1.1M537.3 136.2l.1.1M543.5 236.4l.1.1M549.6 229.5l.1.1M555.8 250.8l.1.1M561.9 237.8l.1.1M568.1 222.6l.1.1M574.2 254.3l.1.1M580.4 396.0l.1.1M586.6 102.1l.1.1M592.7 259.6l.1.1M598.9 203.9l.1.1M605.1 277.8l.1.1M611.2 431.3l.1.1M617.4 264.9l.1.1M623.5 173.7l.1.1M629.7 402.2l.1.1M635.9 314.4l.1.1M642.0 212.1l.1.1M648.2 112.9l.1.1M654.3 304.4l.1.1M660.5 246.1l.1.1M666.6 284.6l.1.1M672.8 123.0l.1.1M679.0 456.1l.1.1M685.1 277.6l.1.1M691.3 138.3l.1.1M697.5 211.4l.1.1"/>
<path stroke="#bf00bf" d="M87.6 253.9l.1.1M93.8 249.2l.1.1M99.9 245.5l.1.1M106.1 242.4l.1.1M112.2 239.7l.1.1M118.4 237.3l.1.1M124.6 235.1l.1.1M130.7 233.0l.1.1M136.9 231.0l.1.1M143.0 229.1l.1.1M149.2 227.4l.1.1M155.4 225.7l.1.1M161.5 224.1l.1.1M167.7 222.5l.1.1M173.8 221.0l.1.1M180.0 219.5l.1.1M186.2 218.1l.1.1M192.3 216.8l.1.1M198.5 215.4l.1.1M204.6 214.1l.1.1M210.8 212.9l.1.1M217.0 211.6l.1.1M223.1 210.4l.1.1M229.3 209.3l.1.1M235.4 208.1l.1.1M241.6 207.0l.1.1M247.8 205.8l.1.1M253.9 204.8l.1.1M260.1 203.7l.1.1M266.2 202.6l.1.1M272.4 201.6l.1.1M278.6 200.6l.1.1M284.7 199.6l.1.1M290.9 198.6l.1.1M297.1 197.6l.1.1M303.2 196.6l.1.1M309.4 195.7l.1.1M315.5 194.8l.1.1M321.7 193.8l.1.1M327.8 192.9l.1.1M334.0 192.0l.1.1M340.2 191.1l.1.1M346.3 190.3l.1.1M352.5 189.4l.1.1M358.6 188.5l.1.1M364.8 187.7l.1.1M371.0 186.8l.1.1M377.1 186.0l.1.1M383.3 185.2l.1.1M389.4 184.4l.1.1M395.6 183.6l.1.1M401.8 182.8l.1.1M407.9 182.0l.1.1M414.1 181.3l.1.1M420.2 179.9l.1.1M426.4 177.1l.1.1M432.6 175.8l.1.1M438.7 174.9l.1.1M444.9 166.4l.1.1M451.0 155.4l.1.1M457.2 157.5l.1.1M463.4 178.5l.1.1M469.5 205.9l.1.1M475.7 213.5l.1.1M481.9 154.6l.1.1M488.0 149.3l.1.1M494.2 198.5l.1.1M500.3 226.9l.1.1M506.5 135.5l.1.1M512.7 178.2l.1.1M518.8 234.2l.1.1M525.0 150.0l.1.1M531.1 160.5l.1.1M537.3 222.4l.1.1M543.5 217.4l.1.1M549.6 206.3l.1.1M555.8 251.6l.1.1M561.9 251.3l.1.1M568.1 194.2l.1.1M574.2 246.4l.1.1M580.4 271.2l.1.1M586.6 165.4l.1.1M592.7 255.4l.1.1M598.9 163.0l.1.1M605.1 287.2l.1.1M611.2 295.8l.1.1M617.4 264.6l.1.1M623.5 298.5l.1.1M629.7 445.2l.1.1M635.9 351.4l.1.1M642.0 171.9l.1.1M648.2 79.8l.1.1M654.3 289.8l.1.1M660.5 229.8l.1.1M666.6 302.5l.1.1M672.8 68.4l.1.1M679.0 248.5l.1.1M685.1 256.2l.1.1M691.3 70.2l.1.1M697.5 301.5l.1.1"/>
<path stroke="#bfbf00" d="M87.6 253.9l.1.1M93.8 249.2l.1.1M99.9 245.5l.1.1M106.1 242.4l.1.1M112.2 239.7l.1.1M118.4 237.3l.1.1M124.6 235.1l.1.1M130.7 233.0l.1.1M136.9 231.0l.1.1M143.0 229.1l.1.1M149.2 227.4l.1.1M155.4 225.7l.1.1M161.5 224.1l.1.1M167.7 222.5l.1.1M173.8 221.0l.1.1M180.0 219.5l.1.1M186.2 218.1l.1.1M192.3 216.8l.1.1M198.5 215.4l.1.1M204.6 214.1l.1.1M210.8 212.9l.1.1M217.0 211.6l.1.1M223.1 210.4l.1.1M229.3 209.3l.1.1M235.4 208.1l.1.1M241.6 207.0l.1.1M247.8 205.8l.1.1M253.9 204.8l.1.1M260.1 203.7l.1.1M266.2 202.6l.1.1M272.4 201.6l.1.1M278.6 200.6l.1.1M284.7 199.6l.1.1M290.9 198.6l.1.1M297.1 197.6l.1.1M303.2 196.6l.1.1M309.4 195.7l.1.1M315.5 194.8l.1.1M321.7 193.8l.1.1M327.8 192.9l.1.1M334.0 192.0l.1.1M340.2 191.1l.1.1M346.3 190.3l.1.1M352.5 189.4l.1.1M358.6 188.5l.1.1M364.8 187.7l.1.1M371.0 186.8l.1.1M377.1 186.0l.1.1M383.3 185.2l.1.1M389.4 184.4l.1.1M395.6 183.6l.1.1M401.8 182.8l.1.1M407.9 182.0l.1.1M414.1 181.1l.1.1M420.2 179.7l.1.1M426.4 179.3l.1.1M432.6 184.1l.1.1M438.7 190.3l.1.1M444.9 189.3l.1.1M451.0 174.1l.1.1M457.2 154.1l.1.1M463.4 154.8l.1.1M469.5 182.4l.1.1M475.7 212.6l.1.1M481.9 205.1l.1.1M488.0 139.6l.1.1M494.2 167.7l.1.1M500.3 217.3l.1.1M506.5 193.5l.1.1M512.7 143.1l.1.1M518.8 221.1l.1.1M525.0 124.3l.1.1M531.1 126.2l.1.1M537.3 240.7l.1.1M543.5 188.1l.1.1M549.6 171.4l.1.1M555.8 241.6l.1.1M561.9 241.0l.1.1M568.1 152.7l.1.1M574.2 233.0l.1.1M580.4 269.1l.1.1M586.6 273.5l.1.1M592.7 248.0l.1.1M598.9 112.7l.1.1M605.1 303.6l.1.1M611.2 263.1l.1.1M617.4 264.0l.1.1M623.5 310.2l.1.1M629.7 355.2l.1.1M635.9 406.6l.1.1M642.0 114.0l.1.1M648.2 225.8l.1.1M654.3 309.8l.1.1M660.5 200.8l.1.1M666.6 332.9l.1.1M672.8 176.6l.1.1M679.0 275.1l.1.1M685.1 246.5l.1.1M691.3 116.6l.1.1M697.5 333.6l.1.1"/>
<path stroke="#404040" d="M87.6 253.9l.1.1M93.8 249.2l.1.1M99.9 245.5l.1.1M106.1 242.4l.1.1M112.2 239.7l.1.1M118.4 237.3l.1.1M124.6 235.1l.1.1M130.7 233.0l.1.1M136.9 231.0l.1.1M143.0 229.1l.1.1M149.2 227.4l.1.1M155.4 225.7l.1.1M161.5 224.1l.1.1M167.7 222.5l.1.1M173.8 221.0l.1.1M180.0 219.5l.1.1M186.2 218.1l.1.1M192.3 216.8l.1.1M198.5 215.4l.1.1M204.6 214.1l.1.1M210.8 212.9l.1.1M217.0 211.6l.1.1M223.1 210.4l.1.1M229.3 209.3l.1.1M235.4 208.1l.1.1M241.6 207.0l.1.1M247.8 205.8l.1.1M253.9 204.8l.1.1M260.1 203.7l.1.1M266.2 202.6l.1.1M272.4 201.6l.1.1M278.6 200.6l.1.1M284.7 199.6l.1.1M290.9 198.6l.1.1M297.1 197.6l.1.1M303.2 196.6l.1.1M309.4 195.7l.1.1M315.5 194.8l.1.1M321.7 193.8l.1.1M327.8 192.9l.1.1M334.0 192.0l.1.1M340.2 191.1l.1.1M346.3 190.3l.1.1M352.5 189.4l.1.1M358.6 188.5l.1.1M364.8 187.7l.1.1M371.0 186.8l.1.1M377.1 186.0l.1.1M383.3 185.2l.1.1M389.4 184.4l.1.1M395.6 183.6l.1.1M401.8 182.8l.1.1M407.9 182.0l.1.1M414.1 181.0l.1.1M420.2 180.2l.1.1M426.4 181.9l.1.1M432.6 186.9l.1.1M438.7 192.8l.1.1M444.9 199.5l.1.1M451.0 200.5l.1.1M457.2 182.9l.1.1M463.4 151.5l.1.1M469.5 156.0l.1.1M475.7 190.8l.1.1M481.9 218.9l.1.1M488.0 181.4l.1.1M494.2 139.3l.1.1M500.3 192.1l.1.1M506.5 229.5l.1.1M512.7 130.1l.1.1M518.8 195.6l.1.1M525.0 161.3l.1.1M531.1 139.8l.1.1M537.3 226.0l.1.1M543.5 148.7l.1.1M549.6 130.2l.1.1M555.8 225.5l.1.1M561.9 224.4l.1.1M568.1 112.5l.1.1M574.2 210.5l.1.1M580.4 272.1l.1.1M586.6 274.9l.1.1M592.7 235.1l.1.1M598.9 108.6l.1.1M605.1 331.5l.1.1M611.2 261.2l.1.1M617.4 263.0l.1.1M623.5 343.6l.1.1M629.7 228.3l.1.1M635.9 447.8l.1.1M642.0 82.4l.1.1M648.2 285.5l.1.1M654.3 345.1l.1.1M660.5 151.9l.1.1M666.6 384.1l.1.1M672.8 336.3l.1.1M679.0 285.1l.1.1M685.1 230.3l.1.1M691.3 376.1l.1.1M697.5 388.5l.1.1"/>
<path stroke="#0000ff" d="M87.6 253.9l.1.1M93.8 249.2l.1.1M99.9 245.5l.1.1M106.1 242.4l.1.1M112.2 239.7l.1.1M118.4 237.3l.1.1M124.6 235.1l.1.1M130.7 233.0l.1.1M136.9 231.0l.1.1M143.0 229.1l.1.1M149.2 227.4l.1.1M155.4 225.7l.1.1M161.5 224.1l.1.1M167.7 222.5l.1.1M173.8 221.0l.1.1M180.0 219.5l.1.1M186.2 218.1l.1.1M192.3 216.8l.1.1M198.5 215.4l.1.1M204.6 214.1l.1.1M210.8 212.9l.1.1M217.0 211.6l.1.1M223.1 210.4l.1.1M229.3 209.3l.1.1M235.4 208.1l.1.1M241.6 207.0l.1.1M247.8 205.8l.1.1M253.9 204.8l.1.1M260.1 203.7l.1.1M266.2 202.6l.1.1M272.4 201.6l.1.1M278.6 200.6l.1.1M284.7 199.6l.1.1M290.9 198.6l.1.1M297.1 197.6l.1.1M303.2 196.6l.1.1M309.4 195.7l.1.1M315.5 194.8l.1.1M321.7 193.8l.1.1M327.8 192.9l.1.1M334.0 192.0l.1.1M340.2 191.1l.1.1M346.3 190.3l.1.1M352.5 189.4l.1.1M358.6 188.5l.1.1M364.8 187.7l.1.1M371.0 186.8l.1.1M377.1 186.0l.1.1M383.3 185.2l.1.1M389.4 184.4l.1.1M395.6 183.6l.1.1M401.8 182.8l.1.1M407.9 182.0l.1.1M414.1 181.1l.1.1M420.2 180.9l.1.1M426.4 182.1l.1.1M432.6 182.1l.1.1M438.7 182.8l.1.1M444.9 190.0l.1.1M451.0 201.6l.1.1M457.2 207.2l.1.1M463.4 184.5l.1.1M469.5 146.7l.1.1M475.7 162.4l.1.1M481.9 201.7l.1.1M488.0 221.1l.1.1M494.2 146.5l.1.1M500.3 159.3l.1.1M506.5 218.1l.1.1M512.7 182.9l.1.1M518.8 160.8l.1.1M525.0 233.4l.1.1M531.1 222.1l.1.1M537.3 201.6l.1.1M543.5 118.2l.1.1M549.6 120.2l.1.1M555.8 199.6l.1.1M561.9 197.5l.1.1M568.1 138.4l.1.1M574.2 175.1l.1.1M580.4 277.0l.1.1M586.6 282.2l.1.1M592.7 213.2l.1.1M598.9 242.4l.1.1M605.1 375.3l.1.1M611.2 258.0l.1.1M617.4 261.2l.1.1M623.5 394.5l.1.1M629.7 213.8l.1.1M635.9 342.5l.1.1M642.0 223.7l.1.1M648.2 303.5l.1.1M654.3 400.7l.1.1M660.5 89.2l.1.1M666.6 447.6l.1.1M672.8 371.9l.1.1M679.0 302.0l.1.1M685.1 200.2l.1.1M691.3 321.7l.1.1M697.5 459.1l.1.1"/>
<path stroke="#008000" d="M87.6 253.9l.1.1M93.8 249.2l.1.1M99.9 245.5l.1.1M106.1 242.4l.1.1M112.2 239.7l.1.1M118.4 237.3l.1.1M124.6 235.1l.1.1M130.7 233.0l.1.1M136.9 231.0l.1.1M143.0 229.1l.1.1M149.2 227.4l.1.1M155.4 225.7l.1.1M161.5 224.1l.1.1M167.7 222.5l.1.1M173.8 221.0l.1.1M180.0 219.5l.1.1M186.2 218.1l.1.1M192.3 216.8l.1.1M198.5 215.4l.1.1M204.6 214.1l.1.1M210.8 212.9l.1.1M217.0 211.6l.1.1M223.1 210.4l.1.1M229.3 209.3l.1.1M235.4 208.1l.1.1M241.6 207.0l.1.1M247.8 205.8l.1.1M253.9 204.8l.1.1M260.1 203.7l.1.1M266.2 202.6l.1.1M272.4 201.6l.1.1M278.6 200.6l.1.1M284.7 199.6l.1.1M290.9 198.6l.1.1M297.1 197.6l.1.1M303.2 196.6l.1.1M309.4 195.7l.1.1M315.5 194.8l.1.1M321.7 193.8l.1.1M327.8 192.9l.1.1M334.0 192.0l.1.1M340.2 191.1l.1.1M346.3 190.3l.1.1M352.5 189.4l.1.1M358.6 188.5l.1.1M364.8 187.7l.1.1M371.0 186.8l.1.1M377.1 186.0l.1.1M383.3 185.2l.1.1M389.4 184.4l.1.1M395.6 183.6l.1.1M401.8 182.8l.1.1M407.9 182.0l.1.1M414.1 181.3l.1.1M420.2 181.1l.1.1M426.4 180.0l.1.1M432.6 174.7l.1.1M438.7 169.7l.1.1M444.9 172.4l.1.1M451.0 184.9l.1.1M457.2 201.1l.1.1M463.4 210.7l.1.1M469.5 177.9l.1.1M475.7 143.3l.1.1M481.9 173.8l.1.1M488.0 214.3l.1.1M494.2 203.7l.1.1M500.3 134.0l.1.1M506.5 192.5l.1.1M512.7 231.8l.1.1M518.8 129.4l.1.1M525.0 234.5l.1.1M531.1 238.2l.1.1M537.3 166.4l.1.1M543.5 156.2l.1.1M549.6 202.4l.1.1M555.8 161.5l.1.1M561.9 157.9l.1.1M568.1 251.7l.1.1M574.2 129.2l.1.1M580.4 285.4l.1.1M586.6 294.5l.1.1M592.7 177.7l.1.1M598.9 262.5l.1.1M605.1 425.7l.1.1M611.2 252.3l.1.1M617.4 257.9l.1.1M623.5 441.4l.1.1M629.7 176.1l.1.1M635.9 229.6l.1.1M642.0 284.1l.1.1M648.2 333.6l.1.1M654.3 453.7l.1.1M660.5 98.4l.1.1M666.6 423.9l.1.1M672.8 428.4l.1.1M679.0 332.9l.1.1M685.1 148.5l.1.1M691.3 328.3l.1.1M697.5 427.9l.1.1"/>
<path stroke="#ff0000" d="M87.6 253.9l.1.1M93.8 249.2l.1.1M99.9 245.5l.1.1M106.1 242.4l.1.1M112.2 239.7l.1.1M118.4 237.3l.1.1M124.6 235.1l.1.1M130.7 233.0l.1.1M136.9 231.0l.1.1M143.0 229.1l.1.1M149.2 227.4l.1.1M155.4 225.7l.1.1M161.5 224.1l.1.1M167.7 222.5l.1.1M173.8 221.0l.1.1M180.0 219.5l.1.1M186.2 218.1l.1.1M192.3 216.8l.1.1M198.5 215.4l.1.1M204.6 214.1l.1.1M210.8 212.9l.1.1M217.0 211.6l.1.1M223.1 210.4l.1.1M229.3 209.3l.1.1M235.4 208.1l.1.1M241.6 207.0l.1.1M247.8 205.8l.1.1M253.9 204.8l.1.1M260.1 203.7l.1.1M266.2 202.6l.1.1M272.4 201.6l.1.1M278.6 200.6l.1.1M284.7 199.6l.1.1M290.9 198.6l.1.1M297.1 197.6l.1.1M303.2 196.6l.1.1M309.4 195.7l.1.1M315.5 194.8l.1.1M321.7 193.8l.1.1M327.8 192.9l.1.1M334.0 192.0l.1.1M340.2 191.1l.1.1M346.3 190.3l.1.1M352.5 189.4l.1.1M358.6 188.5l.1.1M364.8 187.7l.1.1M371.0 186.8l.1.1M377.1 186.0l.1.1M383.3 185.2l.1.1M389.4 184.4l.1.1M395.6 183.6l.1.1M401.8 182.8l.1.1M407.9 182.0l.1.1M414.1 181.4l.1.1M420.2 180.6l.1.1M426.4 177.6l.1.1M432.6 171.6l.1.1M438.7 165.0l.1.1M444.9 159.9l.1.1M451.0 164.2l.1.1M457.2 180.2l.1.1M463.4 203.2l.1.1M469.5 212.3l.1.1M475.7 162.8l.1.1M481.9 146.3l.1.1M488.0 190.1l.1.1M494.2 224.3l.1.1M500.3 155.2l.1.1M506.5 158.8l.1.1M512.7 224.4l.1.1M518.8 144.5l.1.1M525.0 215.6l.1.1M531.1 222.4l.1.1M537.3 128.6l.1.1M543.5 242.2l.1.1M549.6 247.8l.1.1M555.8 120.9l.1.1M561.9 117.0l.1.1M568.1 256.1l.1.1M574.2 108.3l.1.1M580.4 299.7l.1.1M586.6 315.4l.1.1M592.7 129.0l.1.1M598.9 260.2l.1.1M605.1 413.4l.1.1M611.2 242.3l.1.1M617.4 252.1l.1.1M623.5 376.5l.1.1M629.7 121.2l.1.1M635.9 209.8l.1.1M642.0 300.4l.1.1M648.2 383.2l.1.1M654.3 370.8l.1.1M660.5 315.9l.1.1M666.6 195.1l.1.1M672.8 440.8l.1.1M679.0 385.4l.1.1M685.1 80.3l.1.1M691.3 373.7l.1.1M697.5 151.3l.1.1"/>
<path stroke="#00bfbf" d="M87.6 253.9l.1.1M93.8 249.2l.1.1M99.9 245.5l.1.1M106.1 242.4l.1.1M112.2 239.7l.1.1M118.4 237.3l.1.1M124.6 235.1l.1.1M130.7 233.0l.1.1M136.9 231.0l.1.1M143.0 229.1l.1.1M149.2 227.4l.1.1M155.4 225.7l.1.1M161.5 224.1l.1.1M167.7 222.5l.1.1M173.8 221.0l.1.1M180.0 219.5l.1.1M186.2 218.1l.1.1M192.3 216.8l.1.1M198.5 215.4l.1.1M204.6 214.1l.1.1M210.8 212.9l.1.1M217.0 211.6l.1.1M223.1 210.4l.1.1M229.3 209.3l.1.1M235.4 208.1l.1.1M241.6 207.0l.1.1M247.8 205.8l.1.1M253.9 204.8l.1.1M260.1 203.7l.1.1M266.2 202.6l.1.1M272.4 201.6l.1.1M278.6 200.6l.1.1M284.7 199.6l.1.1M290.9 198.6l.1.1M297.1 197.6l.1.1M303.2 196.6l.1.1M309.4 195.7l.1.1M315.5 194.8l.1.1M321.7 193.8l.1.1M327.8 192.9l.1.1M334.0 192.0l.1.1M340.2 191.1l.1.1M346.3 190.3l.1.1M352.5 189.4l.1.1M358.6 188.5l.1.1M364.8 187.7l.1.1M371.0 186.8l.1.1M377.1 186.0l.1.1M383.3 185.2l.1.1M389.4 184.4l.1.1M395.6 183.6l.1.1M401.8 182.8l.1.1M407.9 182.0l.1.1M414.1 181.3l.1.1M420.2 180.0l.1.1M426.4 177.3l.1.1M432.6 176.5l.1.1M438.7 176.1l.1.1M444.9 167.2l.1.1M451.0 155.4l.1.1M457.2 158.1l.1.1M463.4 180.7l.1.1M469.5 208.4l.1.1M475.7 208.5l.1.1M481.9 146.2l.1.1M488.0 159.2l.1.1M494.2 208.4l.1.1M500.3 216.7l.1.1M506.5 132.0l.1.1M512.7 201.1l.1.1M518.8 218.6l.1.1M525.0 187.0l.1.1M531.1 196.5l.1.1M537.3 129.7l.1.1M543.5 243.9l.1.1M549.6 239.2l.1.1M555.8 128.6l.1.1M561.9 131.7l.1.1M568.1 248.9l.1.1M574.2 196.6l.1.1M580.4 323.8l.1.1M586.6 349.2l.1.1M592.7 100.1l.1.1M598.9 256.3l.1.1M605.1 264.1l.1.1M611.2 224.8l.1.1M617.4 241.8l.1.1M623.5 228.0l.1.1M629.7 86.0l.1.1M635.9 168.8l.1.1M642.0 328.0l.1.1M648.2 442.2l.1.1M654.3 202.0l.1.1M660.5 266.2l.1.1M666.6 249.0l.1.1M672.8 269.5l.1.1M679.0 451.7l.1.1M685.1 93.7l.1.1M691.3 440.7l.1.1M697.5 241.5l.1.1"/>
<path stroke="#bf00bf" d="M87.6 253.9l.1.1M93.8 249.2l.1.1M99.9 245.5l.1.1M106.1 242.4l.1.1M112.2 239.7l.1.1M118.4 237.3l.1.1M124.6 235.1l.1.1M130.7 233.0l.1.1M136.9 231.0l.1.1M143.0 229.1l.1.1M149.2 227.4l.1.1M155.4 225.7l.1.1M161.5 224.1l.1.1M167.7 222.5l.1.1M173.8 221.0l.1.1M180.0 219.5l.1.1M186.2 218.1l.1.1M192.3 216.8l.1.1M198.5 215.4l.1.1M204.6 214.1l.1.1M210.8 212.9l.1.1M217.0 211.6l.1.1M223.1 210.4l.1.1M229.3 209.3l.1.1M235.4 208.1l.1.1M241.6 207.0l.1.1M247.8 205.8l.1.1M253.9 204.8l.1.1M260.1 203.7l.1.1M266.2 202.6l.1.1M272.4 201.6l.1.1M278.6 200.6l.1.1M284.7 199.6l.1.1M290.9 198.6l.1.1M297.1 197.6l.1.1M303.2 196.6l.1.1M309.4 195.7l.1.1M315.5 194.8l.1.1M321.7 193.8l.1.1M327.8 192.9l.1.1M334.0 192.0l.1.1M340.2 191.1l.1.1M346.3 190.3l.1.1M352.5 189.4l.1.1M358.6 188.5l.1.1M364.8 187.7l.1.1M371.0 186.8l.1.1M377.1 186.0l.1.1M383.3 185.2l.1.1M389.4 184.4l.1.1M395.6 183.6l.1.1M401.8 182.8l.1.1M407.9 182.0l.1.1M414.1 181.1l.1.1M420.2 179.8l.1.1M426.4 179.5l.1.1M432.6 184.5l.1.1M438.7 191.0l.1.1M444.9 190.3l.1.1M451.0 174.3l.1.1M457.2 153.7l.1.1M463.4 156.4l.1.1M469.5 186.3l.1.1M475.7 215.2l.1.1M481.9 192.7l.1.1M488.0 138.2l.1.1M494.2 180.5l.1.1M500.3 225.3l.1.1M506.5 153.1l.1.1M512.7 168.3l.1.1M518.8 233.2l.1.1M525.0 150.0l.1.1M531.1 160.5l.1.1M537.3 211.8l.1.1M543.5 229.4l.1.1M549.6 221.6l.1.1M555.8 229.2l.1.1M561.9 239.8l.1.1M568.1 237.4l.1.1M574.2 261.6l.1.1M580.4 361.5l.1.1M586.6 396.4l.1.1M592.7 189.7l.1.1M598.9 249.5l.1.1M605.1 264.9l.1.1M611.2 195.0l.1.1M617.4 223.7l.1.1M623.5 225.4l.1.1M629.7 201.3l.1.1M635.9 111.6l.1.1M642.0 373.9l.1.1M648.2 417.4l.1.1M654.3 187.6l.1.1M660.5 266.9l.1.1M666.6 238.7l.1.1M672.8 264.5l.1.1M679.0 426.7l.1.1M685.1 350.0l.1.1M691.3 453.3l.1.1M697.5 239.2l.1.1"/>
<path stroke="#bfbf00" d="M87.6 253.9l.1.1M93.8 249.2l.1.1M99.9 245.5l.1.1M106.1 242.4l.1.1M112.2 239.7l.1.1M118.4 237.3l.1.1M124.6 235.1l.1.1M130.7 233.0l.1.1M136.9 231.0l.1.1M143.0 229.1l.1.1M149.2 227.4l.1.1M155.4 225.7l.1.1M161.5 224.1l.1.1M167.7 222.5l.1.1M173.8 221.0l.1.1M180.0 219.5l.1.1M186.2 218.1l.1.1M192.3 216.8l.1.1M198.5 215.4l.1.1M204.6 214.1l.1.1M210.8 212.9l.1.1M217.0 211.6l.1.1M223.1 210.4l.1.1M229.3 209.3l.1.1M235.4 208.1l.1.1M241.6 207.0l.1.1M247.8 205.8l.1.1M253.9 204.8l.1.1M260.1 203.7l.1.1M266.2 202.6l.1.1M272.4 201.6l.1.1M278.6 200.6l.1.1M284.7 199.6l.1.1M290.9 198.6l.1.1M297.1 197.6l.1.1M303.2 196.6l.1.1M309.4 195.7l.1.1M315.5 194.8l.1.1M321.7 193.8l.1.1M327.8 192.9l.1.1M334.0 192.0l.1.1M340.2 191.1l.1.1M346.3 190.3l.1.1M352.5 189.4l.1.1M358.6 188.5l.1.1M364.8 187.7l.1.1M371.0 186.8l.1.1M377.1 186.0l.1.1M383.3 185.2l.1.1M389.4 184.4l.1.1M395.6 183.6l.1.1M401.8 182.8l.1.1M407.9 182.0l.1.1M414.1 181.1l.1.1M420.2 180.3l.1.1M426.4 181.8l.1.1M432.6 186.6l.1.1M438.7 192.4l.1.1M444.9 199.4l.1.1M451.0 200.6l.1.1M457.2 181.6l.1.1M463.4 150.3l.1.1M469.5 159.4l.1.1M475.7 196.0l.1.1M481.9 219.5l.1.1M488.0 161.7l.1.1M494.2 148.8l.1.1M500.3 205.8l.1.1M506.5 218.7l.1.1M512.7 135.2l.1.1M518.8 216.0l.1.1M525.0 124.3l.1.1M531.1 126.2l.1.1M537.3 241.2l.1.1M543.5 206.6l.1.1M549.6 194.1l.1.1M555.8 248.5l.1.1M561.9 251.5l.1.1M568.1 218.0l.1.1M574.2 259.6l.1.1M580.4 408.6l.1.1M586.6 428.8l.1.1M592.7 273.3l.1.1M598.9 237.6l.1.1M605.1 264.6l.1.1M611.2 148.7l.1.1M617.4 192.8l.1.1M623.5 195.6l.1.1M629.7 290.2l.1.1M635.9 87.1l.1.1M642.0 432.8l.1.1M648.2 214.8l.1.1M654.3 141.4l.1.1M660.5 268.2l.1.1M666.6 216.1l.1.1M672.8 263.7l.1.1M679.0 179.3l.1.1M685.1 261.8l.1.1M691.3 219.3l.1.1M697.5 215.2l.1.1"/>
</g>
</svg>
</body></html>
